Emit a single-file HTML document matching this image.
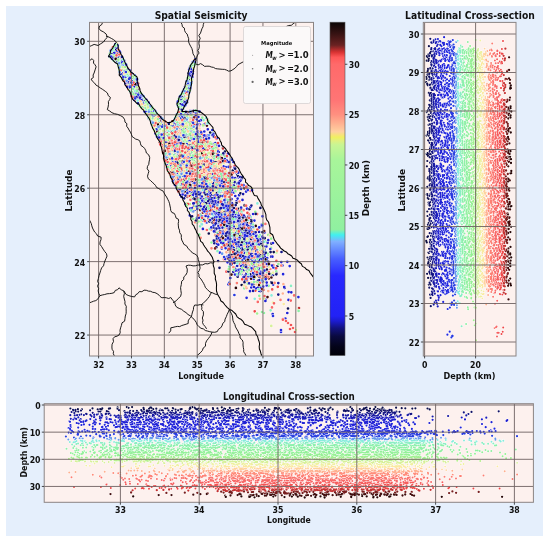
<!DOCTYPE html><html><head><meta charset="utf-8"><title>Seismicity</title><style>html,body{margin:0;padding:0;background:#fff;overflow:hidden}svg{display:block}text{font-family:"DejaVu Sans","Liberation Sans",sans-serif;font-weight:bold;fill:#111}</style></head><body><svg width="550" height="544" viewBox="0 0 550 544"><rect width="550" height="544" fill="#fff"/>
<rect x="6" y="6" width="537" height="530" fill="#e5effc"/>
<defs>
<clipPath id="cm"><rect x="89.5" y="22.4" width="224.0" height="333.6"/></clipPath>
<clipPath id="cr"><rect x="423.3" y="22.4" width="92.69999999999999" height="333.6"/></clipPath>
<clipPath id="cb"><rect x="44.2" y="403.7" width="489.2" height="98.60000000000002"/></clipPath>
<linearGradient id="cg" x1="0" y1="0" x2="0" y2="1"><stop offset="0.0000" stop-color="#0a0505"/><stop offset="0.0355" stop-color="#381313"/><stop offset="0.0688" stop-color="#6a2222"/><stop offset="0.0899" stop-color="#d83232"/><stop offset="0.1050" stop-color="#ff5858"/><stop offset="0.1262" stop-color="#ff6a6a"/><stop offset="0.2349" stop-color="#ff7575"/><stop offset="0.2772" stop-color="#ff9080"/><stop offset="0.3286" stop-color="#ffd0a0"/><stop offset="0.3452" stop-color="#f0f060"/><stop offset="0.3558" stop-color="#e0f080"/><stop offset="0.3679" stop-color="#c8f594"/><stop offset="0.4132" stop-color="#a8f59a"/><stop offset="0.6217" stop-color="#90f0a0"/><stop offset="0.6383" stop-color="#40f0f0"/><stop offset="0.6579" stop-color="#80b0ff"/><stop offset="0.7093" stop-color="#4860ff"/><stop offset="0.7606" stop-color="#2828ff"/><stop offset="0.8815" stop-color="#2222f5"/><stop offset="0.8966" stop-color="#1c1cd0"/><stop offset="0.9177" stop-color="#121280"/><stop offset="0.9419" stop-color="#0a0a40"/><stop offset="0.9721" stop-color="#04041a"/><stop offset="0.9993" stop-color="#000008"/></linearGradient>
<path id="r0_30" d="M4908 1966h0M4911 1056h0M4920 567h0M4920 1689h0M4911 1450h0M4919 559h0M4909 1944h0M4920 1778h0M4908 1228h0M4909 2569h0M4915 2778h0M4914 1935h0M4913 1398h0M4920 948h0M4915 2059h0M4909 754h0M4905 1312h0M4916 2091h0M4909 1964h0M4924 1792h0M4906 2695h0M4917 1120h0M4907 2414h0M4905 2769h0M4916 1854h0M4911 1905h0M4917 1491h0M4913 1982h0M4908 1467h0M4908 1516h0M4920 2899h0M4906 908h0M4909 2505h0M4919 2538h0M4906 1765h0M4920 2612h0M4904 2511h0M4908 2740h0M4918 506h0M4904 2171h0M4906 2277h0M4907 2006h0M4915 2209h0M4906 2023h0M4913 2311h0M4907 2788h0M4907 1171h0M4906 1806h0M4919 2314h0M4921 2006h0M4923 1091h0M4911 2740h0M4914 2258h0M4907 2191h0M4920 767h0M4905 2789h0M4914 2026h0M4917 788h0M4924 2727h0M4908 1129h0M4910 2110h0M4920 1886h0M4913 2920h0M4920 2533h0M4907 660h0M4924 1315h0M4924 1702h0M4907 1628h0M4911 2242h0M4905 1513h0M4913 660h0M4924 1309h0M4911 629h0M4907 2531h0M4916 2088h0M4915 2425h0M4922 1498h0M4914 503h0M4920 1515h0M4904 1134h0M4913 496h0M4922 2317h0M4917 1083h0M4924 1607h0M4916 2557h0M4911 821h0M4921 2388h0M4925 1049h0M4917 2434h0M4909 1719h0M4909 2248h0M4919 1307h0M4911 674h0M4923 2050h0M4905 1096h0M4919 1436h0M4914 1763h0M4908 2515h0M4922 1884h0M4924 1283h0M4911 1185h0M4921 2741h0M4919 1511h0M4922 1523h0M4921 2792h0M4907 2215h0M4914 2404h0M4918 1429h0M4923 1113h0M4921 2121h0M4909 2160h0M4921 2797h0M4909 2131h0M4905 1610h0M4910 1191h0M4906 777h0M4922 2844h0M4919 2887h0M4904 2588h0M4911 659h0M4912 1271h0M4911 1917h0M4918 1244h0M4911 2036h0M4916 2031h0M4909 2468h0M4922 2531h0M4908 1627h0M4925 2836h0M4922 2794h0M4919 1393h0M4913 1097h0M4920 1142h0M4914 2629h0M4905 1050h0M4912 650h0M4925 2350h0M4922 1436h0M4912 2122h0M4912 1631h0M4907 665h0M4905 2008h0M4920 1955h0M4919 2816h0M4924 1579h0M4912 2592h0M4911 1574h0M4919 2019h0M4915 1079h0M4906 1306h0M4907 2889h0M4910 1984h0M4922 1015h0M4907 1522h0M4922 2727h0M4914 2745h0M4912 1422h0M4916 1850h0M4921 1744h0M4918 1409h0M4910 1470h0M4925 2369h0M4916 2355h0M4925 1974h0M4908 2840h0M4922 434h0M4908 1736h0M4919 2561h0M4918 1382h0M4905 702h0M4919 2762h0M4921 1739h0M4906 2604h0M4917 1374h0M4906 1113h0M4907 1089h0M4909 2168h0M4915 2846h0M4912 1788h0M4907 1112h0M4918 1757h0M4908 2735h0M4919 2806h0M4905 2214h0M4914 1203h0M4923 825h0M4925 1723h0M4905 1965h0M4922 2838h0M4921 2577h0M4914 2028h0M4922 2710h0M4912 2251h0"/>
<path id="r0_28" d="M4867 2521h0M4873 2730h0M4866 1150h0M4880 2816h0M4874 1592h0M4878 994h0M4879 1865h0M4863 1686h0M4873 1036h0M4875 1369h0M4871 838h0M4864 1741h0M4870 1168h0M4861 2296h0M4872 2777h0M4879 2233h0M4867 854h0M4876 1338h0M4860 2560h0M4878 2407h0M4868 2373h0M4877 2912h0M4872 1320h0M4870 1050h0M4869 2496h0M4878 2052h0M4861 1526h0M4877 1889h0M4869 1074h0M4865 1544h0M4862 2360h0M4861 2123h0M4866 2211h0M4875 2415h0M4878 1274h0M4872 2725h0M4872 1378h0M4870 1772h0M4865 2582h0M4865 1413h0M4871 2772h0M4873 1695h0M4863 1132h0M4865 2777h0M4866 1405h0M4879 971h0M4875 2096h0M4872 2525h0M4863 673h0M4865 1960h0M4880 2378h0M4868 638h0M4874 1019h0M4869 1812h0M4880 1619h0M4879 768h0M4862 2673h0M4868 1249h0M4863 1363h0M4879 1128h0M4874 511h0M4869 661h0M4880 2588h0M4875 2144h0M4865 1787h0M4879 1155h0M4865 1202h0M4867 1130h0M4861 2247h0M4874 1363h0M4880 1182h0M4864 2820h0M4863 1605h0M4866 2016h0M4865 2535h0M4865 2003h0M4871 1436h0M4877 2099h0M4864 2059h0M4867 2572h0M4869 1256h0M4874 2564h0M4879 1441h0M4867 2104h0M4865 1489h0M4880 1646h0M4867 2257h0M4875 1089h0M4866 1399h0M4879 1391h0M4875 1539h0M4880 1267h0M4881 1585h0M4867 1157h0M4878 1997h0M4882 1182h0M4866 1728h0M4873 2593h0M4873 2626h0M4870 1746h0M4861 2799h0M4862 3046h0M4860 2254h0M4861 594h0M4864 1733h0M4873 2550h0M4882 2702h0M4867 2700h0M4869 1867h0M4877 2019h0M4862 1694h0M4878 2425h0M4875 2611h0M4878 1109h0M4862 1335h0M4867 2641h0M4863 2342h0M4881 2763h0M4880 1984h0M4864 1790h0M4874 1781h0M4866 1363h0M4865 1815h0M4877 556h0M4873 1797h0M4862 2406h0M4879 994h0M4867 2147h0M4870 2183h0M4869 2121h0M4867 2522h0M4875 1551h0M4871 1144h0M4868 1117h0M4862 1475h0M4878 1515h0M4863 2190h0M4881 614h0M4870 903h0M4860 1171h0M4870 2701h0M4865 1048h0M4875 2267h0M4880 2024h0M4869 2330h0M4873 2435h0M4864 1173h0M4880 1407h0M4879 2302h0M4871 1156h0M4882 1042h0M4873 1820h0M4881 2687h0M4869 2735h0M4881 2949h0M4874 2191h0M4866 2552h0M4869 1564h0M4866 1445h0M4864 2720h0M4874 1073h0M4868 2824h0M4882 2839h0M4863 1801h0M4869 2723h0M4878 2065h0M4862 1003h0M4861 2142h0M4863 2155h0M4863 1506h0M4861 1477h0M4869 2518h0M4862 2773h0M4878 1881h0M4881 2023h0M4877 1297h0M4879 1845h0M4865 1539h0M4869 935h0M4882 2416h0M4870 2295h0M4869 1128h0M4867 1644h0M4880 2172h0M4881 2220h0M4872 1141h0M4875 1173h0M4878 1406h0M4863 604h0M4881 2339h0M4869 2224h0M4877 2138h0M4871 1549h0M4869 1496h0M4867 2602h0M4863 2806h0M4874 1888h0M4874 2354h0M4873 1001h0M4872 1401h0M4882 2451h0M4881 2724h0M4872 2428h0M4862 1475h0M4863 1390h0M4875 2625h0M4867 1168h0M4861 1097h0M4865 2153h0M4878 2510h0M4870 652h0M4877 1100h0M4867 2430h0M4869 1871h0M4867 2730h0M4869 2893h0M4879 1073h0M4864 1006h0M4863 1276h0M4874 2669h0M4875 1770h0M4864 2452h0M4879 1247h0"/>
<path id="r0_21" d="M4712 2833h0M4724 1338h0M4713 2724h0M4714 1403h0M4719 1885h0M4707 713h0M4726 1592h0M4708 1202h0M4728 612h0M4711 1437h0M4709 923h0M4707 2723h0M4725 1087h0M4722 1927h0M4719 922h0M4721 2719h0M4714 1424h0M4714 927h0M4713 1822h0M4723 738h0M4713 1879h0M4711 2396h0M4715 596h0M4708 2019h0M4725 1974h0M4719 2817h0M4713 769h0M4707 663h0M4713 946h0M4717 2528h0M4713 1056h0M4709 738h0M4727 2288h0M4725 2092h0M4721 2853h0M4711 847h0M4716 685h0M4709 984h0M4723 1441h0M4725 563h0M4723 2612h0M4723 2158h0M4712 2932h0M4728 1758h0M4709 2606h0M4712 2062h0M4717 1458h0M4710 2562h0M4707 1297h0M4711 907h0M4709 1494h0M4728 1822h0M4712 1111h0M4723 1553h0M4723 2207h0M4708 843h0M4720 2550h0M4712 492h0M4722 2048h0M4714 669h0M4718 2630h0M4726 2347h0M4727 2253h0M4710 2595h0M4720 1158h0M4723 1006h0M4720 722h0M4727 1507h0M4718 1961h0M4728 1425h0M4708 2651h0M4721 2150h0M4716 1107h0M4711 2558h0M4728 2113h0M4718 2639h0M4722 1455h0M4720 889h0M4720 2237h0M4724 1390h0M4720 1262h0M4711 2364h0M4710 2543h0M4716 767h0M4716 2401h0M4728 1885h0M4718 1375h0M4709 1553h0M4711 802h0M4720 587h0M4724 510h0M4709 2460h0M4712 2472h0M4716 2613h0M4713 2978h0M4723 597h0M4709 891h0M4714 1767h0M4723 1261h0M4714 2187h0M4722 2085h0M4724 2598h0M4717 2021h0M4721 1419h0M4725 961h0M4718 2442h0M4717 749h0M4726 489h0M4722 2775h0M4727 1903h0M4709 520h0M4707 1642h0M4720 1493h0M4718 1161h0M4715 1196h0M4714 2947h0M4728 1739h0M4712 2060h0M4725 533h0M4712 2345h0M4709 1625h0M4718 1971h0M4726 545h0M4711 874h0M4728 1504h0M4727 2905h0M4719 976h0M4717 2870h0M4709 902h0M4722 2712h0M4715 668h0M4716 1102h0M4723 2222h0M4725 1184h0M4728 1343h0M4725 2024h0M4716 1768h0M4712 1899h0M4708 1329h0M4712 837h0M4708 877h0M4720 1833h0M4725 1006h0M4718 1620h0M4725 1493h0M4708 2942h0M4722 1727h0M4717 1886h0M4719 2034h0M4726 1273h0M4711 1892h0M4716 1609h0M4724 638h0M4710 1866h0M4708 620h0M4708 2662h0M4715 830h0M4726 921h0M4722 2038h0M4725 2702h0M4710 2120h0M4721 1078h0M4709 1864h0M4720 1982h0M4719 2283h0M4722 2543h0M4716 653h0M4712 830h0M4725 1547h0M4712 2984h0M4718 1989h0M4711 610h0M4710 1930h0M4727 2407h0M4712 563h0M4713 723h0M4718 1263h0M4727 1921h0M4714 2683h0M4713 1066h0M4712 537h0M4722 1021h0M4714 2504h0M4722 2198h0M4711 754h0M4709 804h0M4719 616h0M4728 1895h0M4707 2765h0M4722 861h0M4710 1366h0M4727 892h0M4728 1928h0M4713 648h0M4719 762h0M4712 1922h0M4719 1468h0M4708 1922h0M4714 653h0M4707 794h0M4724 1303h0M4707 601h0M4717 2229h0M4719 2513h0M4723 1289h0M4725 500h0M4717 2596h0M4714 750h0M4712 513h0M4723 722h0M4717 1874h0M4721 2068h0M4719 1807h0M4722 2224h0M4710 1396h0M4712 946h0M4709 991h0M4724 1295h0M4711 1592h0M4727 1626h0M4718 2294h0M4720 1853h0M4724 1887h0M4711 2815h0M4712 2326h0M4727 2176h0M4722 2184h0M4728 669h0M4711 1528h0M4718 1395h0M4710 2181h0M4710 1491h0M4708 500h0M4708 635h0M4726 1618h0M4711 1930h0M4722 2088h0M4716 1609h0M4717 1920h0M4719 1682h0M4724 2395h0M4720 1693h0M4717 2869h0M4721 706h0M4714 2210h0M4726 2037h0M4723 1411h0M4728 2310h0M4721 2374h0M4721 2594h0M4707 2109h0"/>
<path id="r0_9" d="M4450 2443h0M4452 2193h0M4450 2085h0M4449 2095h0M4451 2019h0M4454 2555h0M4456 948h0M4462 2708h0M4444 1511h0M4460 836h0M4462 1570h0M4449 2164h0M4452 2458h0M4448 2095h0M4450 1098h0M4444 1248h0M4463 1438h0M4451 2581h0M4445 654h0M4445 515h0M4464 571h0M4454 2201h0M4464 1820h0M4449 676h0M4463 2313h0M4444 2090h0M4450 1035h0M4453 2312h0M4446 2045h0M4449 728h0M4455 2289h0M4443 1976h0M4450 556h0M4454 2756h0M4451 2831h0M4458 1454h0M4464 2069h0M4452 2167h0M4454 2459h0M4450 2409h0M4462 2534h0M4463 1923h0M4451 2210h0M4462 1292h0M4452 2312h0M4445 1495h0M4463 1870h0M4460 2389h0M4459 495h0M4458 602h0M4456 1099h0M4447 891h0M4456 1434h0M4451 2617h0M4448 552h0M4449 1264h0M4460 1980h0M4444 2079h0M4447 1779h0M4462 1365h0M4455 2208h0M4444 916h0M4444 2666h0M4453 2941h0M4462 2689h0M4447 1166h0M4454 2901h0M4458 1070h0M4448 874h0M4465 2283h0M4463 1523h0M4447 1715h0M4455 2764h0M4448 2409h0M4451 501h0M4451 2700h0M4454 2758h0M4464 1733h0M4465 1408h0M4451 2020h0M4460 2414h0M4460 2294h0M4460 1437h0M4461 2871h0M4456 1423h0M4462 1964h0M4463 1863h0M4444 2326h0M4463 2536h0M4447 1446h0M4460 1334h0M4449 2707h0M4451 2536h0M4456 1168h0M4450 1048h0M4452 779h0M4448 883h0M4448 2391h0M4452 1372h0M4454 2852h0M4462 2038h0M4459 908h0M4450 845h0M4444 715h0M4452 871h0M4449 2708h0M4457 2279h0M4444 1593h0M4450 1375h0M4445 1612h0M4454 2857h0M4445 1328h0M4458 2308h0M4453 1404h0M4456 2475h0M4447 2443h0M4445 1127h0M4452 2749h0M4450 588h0M4449 1706h0M4458 709h0M4449 1521h0M4446 1933h0M4458 805h0M4465 951h0M4446 522h0M4452 609h0M4455 2707h0M4453 1618h0M4459 1151h0M4453 1457h0M4463 2355h0M4449 887h0M4449 956h0M4444 969h0M4447 1460h0M4464 1454h0M4456 2562h0M4453 2611h0M4448 682h0"/>
<path id="r0_14" d="M4559 1756h0M4561 873h0M4567 804h0M4557 1620h0M4569 969h0M4556 1890h0M4558 1284h0M4559 2223h0M4566 1173h0M4574 634h0M4575 1630h0M4566 554h0M4571 1862h0M4558 1128h0M4569 712h0M4555 2685h0M4566 1310h0M4553 2017h0M4574 2849h0M4560 2548h0M4557 2721h0M4555 2692h0M4569 2222h0M4553 2649h0M4561 2712h0M4554 2091h0M4571 2756h0M4555 1920h0M4556 2601h0M4559 2076h0M4567 2393h0M4573 1313h0M4564 1544h0M4564 2136h0M4572 1326h0M4574 2545h0M4565 821h0M4563 1965h0M4563 2661h0M4567 2307h0M4565 1731h0M4571 1050h0M4557 563h0M4561 2100h0M4560 816h0M4568 2551h0M4573 1073h0M4558 2427h0M4558 1818h0M4573 2754h0M4572 1295h0M4571 2008h0M4561 1654h0M4567 2680h0M4564 1091h0M4568 1812h0M4574 2028h0M4560 543h0M4566 1795h0M4557 2668h0M4568 2644h0M4553 1010h0M4567 1516h0M4571 2409h0M4568 805h0M4566 942h0M4555 1592h0M4570 1994h0M4559 1227h0M4562 1510h0M4556 2609h0M4562 2670h0M4568 2908h0M4571 541h0M4559 967h0M4560 3027h0M4558 1231h0M4569 3077h0M4560 1669h0M4573 1598h0M4566 2536h0M4573 571h0M4568 2457h0M4568 1491h0M4571 1679h0M4570 1328h0M4567 2088h0M4568 1281h0M4553 2293h0M4559 541h0M4556 566h0M4559 2035h0M4563 2686h0M4563 1368h0M4562 2157h0M4574 996h0M4557 1030h0M4560 1429h0M4569 2397h0M4557 2815h0M4569 1951h0M4562 841h0M4572 2033h0M4566 1834h0M4557 2402h0M4558 1564h0M4558 585h0M4564 1331h0M4565 766h0M4557 2733h0M4564 1505h0M4575 2001h0M4555 2290h0M4573 2574h0M4553 1727h0M4569 720h0M4568 2388h0M4564 1013h0M4565 1920h0M4574 1846h0M4556 2746h0M4571 2060h0M4574 1554h0M4559 2076h0M4565 2274h0M4558 2347h0M4572 546h0M4571 1647h0M4569 2185h0M4560 1409h0M4573 1464h0M4558 2180h0M4559 2128h0M4572 2568h0M4556 2801h0M4569 933h0M4572 1978h0M4559 607h0M4566 1117h0M4559 1584h0M4571 911h0M4559 1727h0M4570 2305h0M4570 873h0M4553 952h0M4573 2235h0M4566 2616h0M4553 661h0M4574 1208h0M4568 684h0M4571 689h0M4560 2664h0M4570 1178h0M4562 2071h0M4570 2260h0M4571 1302h0M4570 1934h0M4567 739h0M4557 2621h0M4559 2765h0M4570 779h0M4567 1695h0M4572 1745h0M4554 853h0M4567 2437h0M4569 2814h0M4561 2144h0M4555 1790h0M4557 1596h0M4569 1403h0M4574 1801h0M4570 1280h0M4555 2336h0M4569 1135h0M4570 602h0M4558 2079h0M4571 1383h0M4563 2501h0M4569 3053h0M4562 1673h0M4562 2053h0M4568 2518h0M4561 1193h0M4555 1467h0M4562 419h0M4574 1410h0M4566 1287h0M4572 1138h0M4566 2197h0M4556 2923h0M4573 2449h0M4574 2154h0M4557 912h0M4558 1988h0M4573 1353h0M4566 2317h0M4564 1794h0M4572 1063h0M4570 856h0M4573 1893h0M4554 2587h0M4563 1774h0M4556 1064h0M4572 1135h0M4562 1633h0M4556 2302h0M4563 2603h0M4561 681h0M4573 928h0M4570 2355h0M4562 887h0M4553 980h0M4573 1568h0M4563 1187h0M4557 754h0M4573 1934h0M4569 1377h0M4557 1291h0M4560 1019h0M4564 2527h0M4560 2785h0M4555 2623h0M4569 602h0M4562 582h0M4568 2188h0M4559 537h0M4562 537h0M4569 1997h0M4573 1595h0"/>
<path id="r0_23" d="M4769 1468h0M4751 2846h0M4756 554h0M4763 2143h0M4752 2112h0M4755 578h0M4754 1855h0M4756 2565h0M4759 2777h0M4770 1029h0M4758 2918h0M4761 1956h0M4757 1448h0M4760 811h0M4762 726h0M4754 1279h0M4751 764h0M4767 1663h0M4769 2696h0M4756 2206h0M4768 1014h0M4753 845h0M4764 1292h0M4756 1018h0M4771 1806h0M4764 1235h0M4757 1419h0M4752 1851h0M4768 1434h0M4765 1851h0M4765 2716h0M4766 2787h0M4755 1732h0M4761 1067h0M4752 722h0M4754 1093h0M4766 2472h0M4767 2271h0M4760 2396h0M4767 551h0M4754 1782h0M4763 1978h0M4765 1025h0M4752 1061h0M4753 777h0M4756 2466h0M4764 1512h0M4768 2422h0M4751 823h0M4762 1406h0M4762 2830h0M4758 2032h0M4770 2510h0M4767 2307h0M4754 1804h0M4751 2165h0M4770 1822h0M4767 2326h0M4763 924h0M4756 1741h0M4769 1849h0M4757 1132h0M4766 2298h0M4764 1945h0M4769 2501h0M4768 1730h0M4752 910h0M4754 2721h0M4761 1652h0M4769 1609h0M4757 983h0M4756 2050h0M4761 2923h0M4771 1399h0M4754 1715h0M4764 1751h0M4761 2900h0M4759 1100h0M4759 1015h0M4755 1715h0M4759 853h0M4772 2345h0M4769 1277h0M4759 1611h0M4761 2306h0M4759 1698h0M4772 2540h0M4755 1655h0M4755 2198h0M4762 1028h0M4759 2105h0M4753 1637h0M4771 2771h0M4761 1618h0M4757 1916h0M4764 1124h0M4759 2083h0M4759 1634h0M4766 1043h0M4765 878h0M4766 1835h0M4764 2814h0M4757 1878h0M4758 2254h0M4755 522h0M4770 2085h0M4772 1582h0M4764 1804h0M4765 862h0M4759 2101h0M4755 1931h0M4755 2104h0M4766 2070h0M4768 1463h0M4767 998h0M4759 2439h0M4764 2293h0M4762 2131h0M4754 2609h0M4765 2937h0M4759 1527h0M4756 1890h0M4751 2042h0M4767 2800h0M4769 1004h0M4769 2476h0M4762 1806h0M4771 1390h0M4770 1236h0M4760 1632h0M4765 1903h0M4751 1276h0M4763 1913h0M4763 1762h0M4771 1375h0M4762 2886h0M4765 1405h0M4757 399h0M4751 2027h0M4770 1452h0M4753 2711h0M4756 2271h0M4751 2458h0M4759 2598h0M4760 2309h0M4764 2004h0M4765 2439h0M4767 909h0M4772 802h0M4767 1295h0M4751 2176h0M4769 526h0M4762 1268h0M4762 2794h0M4763 663h0M4761 2782h0M4767 848h0M4769 860h0M4759 1697h0M4759 1768h0M4751 2372h0M4771 2320h0M4769 1941h0M4768 1734h0M4761 879h0M4752 1048h0M4756 1094h0M4772 2400h0M4767 2784h0M4772 2688h0M4754 1009h0M4755 1415h0M4771 826h0M4770 1222h0M4772 1643h0M4754 1876h0M4767 1255h0M4770 1076h0M4764 1287h0M4768 1787h0M4767 684h0M4769 2277h0M4757 2470h0M4769 1094h0M4753 2785h0M4772 1456h0M4759 909h0M4764 1898h0M4751 2159h0M4753 2025h0M4765 2804h0M4756 2123h0M4772 1043h0M4766 2755h0M4771 1376h0M4770 1388h0M4769 2169h0M4754 2503h0M4761 3402h0M4758 628h0M4751 2687h0M4767 2496h0M4758 2183h0M4766 526h0M4765 1236h0M4753 734h0M4754 2646h0M4770 543h0M4762 2209h0M4772 2031h0M4761 1293h0M4757 588h0M4772 1687h0M4771 2754h0M4766 1044h0M4761 1106h0M4754 2612h0M4764 640h0M4766 2616h0M4765 2782h0M4762 1894h0M4761 566h0M4754 708h0M4751 1181h0M4757 909h0M4754 868h0M4753 1923h0M4755 705h0M4755 1968h0M4771 2300h0M4767 2028h0M4753 1202h0M4764 2135h0M4771 2041h0M4772 2861h0M4761 2508h0M4771 1505h0M4759 1681h0M4755 956h0M4753 589h0M4763 1240h0M4758 634h0M4763 1096h0M4768 2736h0M4762 870h0M4758 1002h0M4765 2098h0M4763 2111h0M4751 1996h0M4764 2020h0M4756 655h0M4766 602h0M4757 3236h0M4751 2739h0M4754 2770h0M4754 1925h0M4752 1788h0M4769 1837h0M4759 3078h0M4758 2119h0M4759 2128h0M4751 1746h0M4757 1442h0M4767 2328h0M4752 2498h0M4759 2063h0M4764 1266h0M4752 1707h0M4763 1615h0M4771 1967h0M4770 2093h0M4761 2004h0M4770 2604h0M4764 2251h0M4761 1724h0M4771 841h0M4771 504h0M4769 678h0M4765 1944h0M4757 2971h0M4761 1336h0M4760 849h0M4756 575h0"/>
<path id="r0_24" d="M4773 2724h0M4794 1265h0M4791 1810h0M4779 1319h0M4774 1031h0M4773 1796h0M4781 1151h0M4787 1439h0M4786 2141h0M4780 2063h0M4792 1233h0M4784 2707h0M4775 2129h0M4792 986h0M4774 2306h0M4788 1466h0M4787 1226h0M4780 2619h0M4780 828h0M4784 1314h0M4773 1236h0M4776 2677h0M4793 2215h0M4794 1681h0M4773 2516h0M4784 1884h0M4780 2804h0M4779 1555h0M4781 680h0M4781 2471h0M4784 2008h0M4784 2480h0M4776 2679h0M4791 876h0M4787 683h0M4781 2295h0M4782 1888h0M4776 762h0M4788 2833h0M4791 2643h0M4782 1333h0M4777 2845h0M4790 2060h0M4783 2327h0M4787 1505h0M4784 569h0M4778 1109h0M4788 1321h0M4783 1960h0M4785 2524h0M4778 901h0M4778 1352h0M4788 1552h0M4775 1971h0M4786 1904h0M4791 2969h0M4785 2710h0M4776 678h0M4775 1349h0M4773 1498h0M4775 2479h0M4784 2581h0M4784 1294h0M4794 2110h0M4791 2308h0M4776 1694h0M4785 2020h0M4785 1678h0M4779 565h0M4788 2274h0M4780 1883h0M4776 1868h0M4791 2479h0M4787 2450h0M4790 1297h0M4792 2067h0M4790 1817h0M4786 1479h0M4780 684h0M4776 1006h0M4777 1170h0M4787 1590h0M4787 674h0M4793 689h0M4787 2043h0M4781 2773h0M4773 1169h0M4773 2076h0M4791 1518h0M4774 1721h0M4791 686h0M4789 2130h0M4786 1903h0M4774 926h0M4792 1485h0M4794 2072h0M4793 799h0M4788 1763h0M4775 501h0M4785 1495h0M4783 1246h0M4780 1515h0M4775 1561h0M4773 550h0M4778 2948h0M4787 2089h0M4780 1095h0M4781 2669h0M4789 795h0M4793 882h0M4794 2352h0M4775 2563h0M4776 2871h0M4784 2371h0M4779 1848h0M4789 2751h0M4775 1256h0M4790 1795h0M4793 1274h0M4782 489h0M4794 2506h0M4786 1342h0M4793 1798h0M4790 1865h0M4779 1420h0M4773 2908h0M4786 2201h0M4793 538h0M4790 1252h0M4788 1657h0M4788 2541h0M4788 1428h0M4781 1914h0M4782 1333h0M4776 2480h0M4785 933h0M4790 2110h0M4788 2477h0M4773 2844h0M4784 1972h0M4790 2432h0M4779 1986h0M4790 657h0M4786 1510h0M4788 1894h0M4782 1522h0M4793 2693h0M4792 1133h0M4781 1475h0M4791 2096h0M4773 2058h0M4783 679h0M4773 1442h0M4785 2510h0M4783 2377h0M4775 1326h0M4774 1101h0M4782 2043h0M4784 1797h0M4775 720h0M4779 1668h0M4776 2416h0M4779 1004h0M4781 902h0M4777 718h0M4790 2702h0M4775 1757h0M4787 2029h0M4773 2846h0M4782 2163h0M4791 2926h0M4781 2076h0M4783 2910h0M4787 1662h0M4784 2264h0M4788 2814h0M4777 1352h0M4782 2793h0M4778 1641h0M4789 2579h0M4783 2335h0M4782 2489h0M4787 1822h0M4788 2279h0M4789 2667h0M4778 2091h0M4773 2138h0M4794 648h0M4788 2407h0M4792 2609h0M4780 2932h0M4789 2802h0M4787 1609h0M4786 594h0M4779 2285h0M4782 1371h0M4790 1219h0M4781 2201h0M4791 2699h0M4778 2584h0M4775 1065h0M4775 2808h0M4788 1735h0M4783 1678h0M4787 2073h0M4775 1246h0M4786 1370h0M4787 636h0M4788 2835h0M4778 2160h0M4788 1691h0M4773 1125h0M4788 2170h0M4777 508h0M4789 2206h0M4773 1387h0M4781 536h0M4778 1065h0M4785 2657h0M4779 1758h0M4793 1277h0M4791 2035h0M4778 1108h0M4783 907h0M4775 1236h0M4780 508h0M4786 2381h0M4790 2439h0M4790 2694h0M4793 1085h0M4793 1952h0M4776 856h0M4791 2647h0M4777 2788h0M4776 1273h0M4786 1982h0M4784 1072h0M4775 571h0M4774 2875h0M4781 1433h0M4776 2338h0M4776 1837h0M4785 702h0M4777 1847h0M4788 1012h0M4789 710h0M4781 781h0M4781 896h0M4794 1363h0M4790 1656h0M4790 793h0M4777 1454h0M4788 1425h0M4780 1506h0M4778 2758h0M4791 1297h0M4794 1793h0M4790 926h0M4792 1652h0M4776 2605h0M4786 2054h0M4774 2206h0M4780 2734h0M4787 2567h0M4794 2834h0M4789 2801h0M4789 2685h0M4786 2822h0M4780 1214h0M4789 1444h0M4779 1571h0M4779 2032h0M4790 1934h0M4779 2390h0M4781 868h0M4784 583h0M4793 2519h0M4785 1311h0M4786 2244h0M4782 2237h0M4781 1384h0M4794 1479h0M4783 2562h0M4786 1708h0"/>
<path id="r0_4" d="M4353 2128h0M4343 599h0M4349 1687h0M4342 1834h0M4342 1062h0M4337 874h0M4343 1559h0M4343 1227h0M4354 494h0M4350 813h0M4352 480h0M4349 554h0M4337 3046h0M4336 2590h0M4346 2019h0M4342 1819h0M4348 891h0M4346 600h0M4344 1995h0M4347 980h0M4349 2590h0M4353 2367h0M4344 488h0M4340 1080h0M4348 2182h0M4336 2689h0M4342 665h0M4335 1332h0M4345 1997h0M4345 665h0M4338 994h0M4336 1802h0M4350 2534h0M4351 2505h0M4350 2718h0M4348 2937h0M4344 2014h0M4343 2604h0M4347 714h0M4350 1431h0M4346 2614h0M4354 1486h0M4335 1731h0M4343 1745h0M4349 1043h0M4342 2245h0M4335 624h0M4334 588h0M4350 1464h0M4350 952h0M4346 706h0M4349 1741h0M4334 1021h0M4335 1027h0M4338 404h0M4338 2322h0M4342 868h0M4352 1337h0M4343 2771h0M4346 566h0M4352 2373h0M4340 1664h0M4334 2340h0M4340 2460h0M4347 607h0M4338 1709h0M4337 1797h0M4338 612h0M4346 1284h0M4354 724h0M4341 1284h0M4349 2415h0M4349 1592h0M4354 2115h0M4347 1267h0M4336 1756h0M4342 1645h0M4353 2483h0M4353 1309h0M4345 1849h0M4342 1867h0M4347 1386h0M4341 626h0M4338 2276h0M4346 629h0M4341 657h0M4341 2409h0M4348 1870h0M4350 810h0M4341 2155h0M4355 857h0M4351 2691h0M4338 2824h0M4347 2311h0M4348 1778h0M4340 1689h0M4349 488h0M4337 953h0M4343 744h0M4347 2066h0M4355 1400h0M4341 614h0M4343 2003h0M4336 1883h0M4351 856h0M4354 2565h0M4356 2568h0M4349 523h0M4346 1420h0M4335 1895h0M4352 637h0M4347 2864h0M4340 2122h0M4344 1880h0M4350 827h0M4342 1106h0M4354 1438h0M4340 939h0M4342 2128h0M4351 1579h0M4334 1610h0M4347 1513h0M4346 2116h0M4352 2504h0M4346 2846h0M4336 2391h0M4334 2263h0M4342 1718h0M4347 827h0M4338 575h0M4355 1995h0M4349 2526h0M4354 2655h0M4353 2715h0M4345 1860h0M4336 2435h0M4352 1115h0M4349 1592h0M4336 810h0M4339 2536h0M4338 1493h0M4347 594h0M4339 1016h0M4334 2547h0M4344 2325h0M4354 2499h0M4347 1042h0M4348 1052h0M4346 2686h0M4335 422h0M4355 1872h0M4336 1048h0M4347 955h0M4337 2782h0M4349 2835h0M4351 2630h0M4336 623h0M4337 1018h0M4348 2147h0M4342 1651h0M4335 972h0M4341 1132h0M4334 2828h0M4344 1171h0M4343 2314h0M4335 2813h0M4348 1909h0M4343 1281h0M4347 2478h0M4334 1354h0M4335 2129h0M4342 2910h0M4353 1366h0M4342 2170h0M4337 1273h0M4335 1653h0M4350 1955h0M4341 625h0M4347 2139h0M4340 2095h0M4352 1667h0M4336 783h0M4340 2711h0M4338 2087h0M4348 1862h0M4339 1986h0M4352 1060h0M4348 2027h0M4353 2800h0M4355 716h0M4348 2217h0M4336 1135h0M4345 2710h0M4347 1033h0M4346 1504h0M4342 544h0M4337 2043h0M4342 1881h0M4337 1918h0M4349 2192h0M4338 2181h0M4343 887h0M4347 1129h0M4334 1267h0M4336 829h0M4334 2586h0M4335 1472h0M4339 1637h0M4348 2245h0M4351 1309h0M4338 1371h0M4345 1827h0M4349 1407h0M4339 1103h0M4342 619h0M4347 3022h0M4353 539h0M4335 2460h0M4343 1135h0M4340 2840h0"/>
<path id="r0_7" d="M4404 2038h0M4404 2210h0M4413 2822h0M4404 660h0M4421 1565h0M4421 2029h0M4420 1496h0M4418 507h0M4404 1760h0M4415 2391h0M4400 505h0M4419 1414h0M4405 1672h0M4405 1890h0M4418 1408h0M4417 2276h0M4407 897h0M4402 2228h0M4401 2793h0M4405 1053h0M4404 2111h0M4405 1998h0M4415 463h0M4400 1891h0M4412 2802h0M4418 1896h0M4405 1872h0M4404 1127h0M4419 2528h0M4415 1898h0M4418 976h0M4415 1323h0M4412 958h0M4416 1524h0M4403 2791h0M4420 595h0M4409 1237h0M4421 677h0M4403 2318h0M4418 1160h0M4403 2344h0M4414 1563h0M4421 903h0M4418 2693h0M4412 1417h0M4418 1259h0M4410 2077h0M4401 1929h0M4402 1971h0M4421 2315h0M4412 2242h0M4417 2856h0M4411 717h0M4414 2239h0M4403 2255h0M4417 2807h0M4412 1649h0M4408 1210h0M4421 880h0M4417 1697h0M4410 845h0M4405 2952h0M4401 1123h0M4408 762h0M4402 1826h0M4419 1680h0M4401 677h0M4404 2448h0M4410 1511h0M4405 1109h0M4420 2518h0M4403 449h0M4401 900h0M4407 1226h0M4411 2374h0M4405 1497h0M4404 2023h0M4418 2547h0M4415 700h0M4411 2797h0M4406 1842h0M4418 1602h0M4421 2234h0M4402 818h0M4410 2775h0M4409 1241h0M4405 1106h0M4405 945h0M4416 2294h0M4413 1790h0M4406 1635h0M4419 2140h0M4404 415h0M4408 1130h0M4404 1938h0M4413 2022h0M4411 1502h0M4410 1237h0M4416 1282h0M4413 754h0M4420 2380h0M4401 705h0M4416 1677h0M4417 1048h0M4401 1031h0M4415 1474h0M4416 764h0M4410 1288h0M4408 613h0M4416 2836h0M4413 2915h0M4409 1093h0M4418 946h0M4416 2256h0M4409 2808h0M4401 2811h0M4417 1899h0M4408 1207h0M4419 2306h0M4419 864h0M4416 788h0M4400 1822h0M4421 2795h0M4419 2680h0M4418 1835h0M4415 2632h0M4413 2078h0M4401 2026h0M4415 1255h0M4404 1665h0M4414 827h0M4414 737h0M4418 1206h0M4417 2202h0M4401 2286h0M4402 607h0M4408 1447h0M4406 1949h0M4404 1810h0M4416 1969h0M4404 1050h0M4411 1993h0M4416 1174h0M4418 1252h0M4420 774h0M4402 2409h0M4415 2782h0M4401 1356h0M4421 1281h0M4406 1234h0M4407 2774h0M4410 2009h0M4414 1898h0M4400 411h0M4420 2745h0M4411 1847h0M4418 1954h0M4403 1531h0M4409 1104h0M4404 2635h0M4414 1319h0M4406 2667h0M4414 537h0M4409 2556h0M4417 1576h0"/>
<path id="r0_11" d="M4507 2445h0M4488 2158h0M4502 1048h0M4494 1505h0M4498 760h0M4491 2034h0M4505 701h0M4507 2817h0M4504 1355h0M4501 1818h0M4497 573h0M4491 809h0M4497 3317h0M4508 416h0M4506 2861h0M4487 844h0M4507 2457h0M4506 2648h0M4496 2263h0M4503 1107h0M4503 2180h0M4501 1250h0M4502 1289h0M4497 593h0M4498 2057h0M4496 422h0M4504 2222h0M4492 1452h0M4505 1591h0M4508 1124h0M4500 899h0M4508 2076h0M4496 449h0M4497 1650h0M4502 582h0M4502 972h0M4498 1794h0M4507 923h0M4500 1565h0M4492 2534h0M4490 914h0M4502 1326h0M4503 1941h0M4509 788h0M4495 1784h0M4501 1953h0M4500 1839h0M4503 2127h0M4505 2480h0M4492 841h0M4499 2447h0M4503 1883h0M4505 2201h0M4508 1182h0M4505 559h0M4488 2373h0M4508 793h0M4504 1729h0M4491 1149h0M4497 613h0M4498 532h0M4497 1379h0M4505 538h0M4495 1400h0M4501 1402h0M4490 1049h0M4507 2189h0M4493 2650h0M4498 2530h0M4504 1375h0M4494 1213h0M4502 470h0M4489 2326h0M4507 1534h0M4502 1005h0M4509 2462h0M4488 1825h0M4494 1678h0M4506 2690h0M4489 506h0M4499 3076h0M4501 687h0M4501 2738h0M4499 1682h0M4502 2546h0M4508 2908h0M4493 1054h0M4489 864h0M4498 1918h0M4508 1860h0M4495 1997h0M4506 2815h0M4506 969h0M4508 1210h0M4499 2027h0M4505 2270h0M4508 2052h0M4506 930h0M4493 2684h0M4501 415h0M4492 1709h0M4494 1391h0M4502 1242h0M4509 702h0M4492 2817h0M4502 1334h0M4497 2802h0M4493 2257h0M4509 685h0M4496 2579h0M4492 1018h0M4501 1530h0M4496 506h0M4487 1383h0M4507 2393h0M4507 2226h0M4507 593h0M4501 2117h0M4491 603h0M4491 2178h0M4488 1268h0M4488 610h0M4502 672h0M4497 2715h0M4502 2884h0M4498 1040h0M4508 1566h0M4501 1389h0M4509 2573h0M4509 2354h0M4509 833h0M4506 1582h0M4496 2586h0M4492 2443h0M4506 2340h0M4500 2510h0M4505 3036h0M4489 2798h0M4492 430h0M4497 1781h0"/>
<path id="r0_29" d="M4896 1486h0M4887 2459h0M4896 2130h0M4899 1025h0M4897 2234h0M4896 1420h0M4902 1521h0M4898 2044h0M4899 2528h0M4901 2579h0M4892 1987h0M4898 2237h0M4903 2846h0M4883 1692h0M4888 1880h0M4883 2108h0M4895 1397h0M4892 2711h0M4893 1692h0M4893 1701h0M4888 861h0M4885 2559h0M4891 882h0M4894 2677h0M4893 2710h0M4886 2016h0M4886 1326h0M4895 1505h0M4903 1508h0M4883 1080h0M4894 1366h0M4884 1238h0M4883 1319h0M4904 706h0M4895 801h0M4898 2083h0M4891 2431h0M4901 2676h0M4886 1799h0M4884 1803h0M4888 2285h0M4886 1648h0M4890 1092h0M4897 1081h0M4890 2193h0M4882 2069h0M4898 2590h0M4903 799h0M4887 2176h0M4882 2578h0M4887 1933h0M4890 2185h0M4901 769h0M4888 2861h0M4891 1011h0M4894 664h0M4885 2310h0M4894 2348h0M4887 1704h0M4892 973h0M4895 2256h0M4892 2892h0M4891 1014h0M4894 1265h0M4900 1881h0M4890 1193h0M4887 1539h0M4885 1548h0M4894 2384h0M4902 532h0M4904 2164h0M4898 1861h0M4897 1721h0M4889 2000h0M4901 2188h0M4891 1239h0M4886 776h0M4883 2718h0M4901 2482h0M4890 1030h0M4900 2661h0M4883 2910h0M4885 2086h0M4893 2295h0M4899 1946h0M4900 2621h0M4899 1217h0M4883 698h0M4901 697h0M4890 1318h0M4892 743h0M4903 2324h0M4898 770h0M4895 2011h0M4888 1680h0M4891 2332h0M4887 891h0M4903 2380h0M4896 1360h0M4889 1883h0M4886 2821h0M4887 1738h0M4892 1114h0M4903 874h0M4896 1356h0M4883 2175h0M4884 2195h0M4891 2436h0M4890 2212h0M4903 838h0M4886 1055h0M4896 2127h0M4895 1768h0M4893 2471h0M4901 1330h0M4897 1142h0M4902 938h0M4887 1260h0M4887 1092h0M4902 1622h0M4884 2708h0M4893 2825h0M4887 847h0M4904 1777h0M4884 2053h0M4884 686h0M4884 2111h0M4885 2060h0M4897 2670h0M4891 2675h0M4889 1380h0M4890 2760h0M4898 1325h0M4885 2482h0M4898 2813h0M4899 503h0M4897 2263h0M4893 1320h0M4886 2333h0M4900 2021h0M4902 2577h0M4901 2253h0M4894 1886h0M4890 2476h0M4889 1116h0M4895 1699h0M4897 1941h0M4882 1255h0M4886 1259h0M4902 2213h0M4903 2345h0M4893 1548h0M4898 1036h0M4884 1658h0M4904 2105h0M4889 1180h0M4903 1481h0M4891 1807h0M4883 2411h0M4884 2797h0M4882 2029h0M4901 2130h0M4902 1571h0M4898 2867h0M4896 1477h0M4893 2229h0M4890 1332h0M4903 957h0M4900 1253h0M4889 1602h0M4885 1819h0M4896 2138h0M4896 2482h0M4883 1443h0M4895 2605h0M4884 1741h0M4890 2040h0M4886 1939h0M4892 2053h0M4896 2702h0M4892 912h0M4898 2822h0M4894 1109h0M4896 1601h0M4902 2845h0M4903 2653h0M4894 1328h0M4892 1391h0M4888 1204h0M4890 2246h0M4891 2484h0M4895 2082h0M4898 544h0M4887 1042h0M4891 2339h0M4901 1389h0M4895 2400h0M4898 2534h0M4900 1363h0M4884 1112h0M4889 1629h0M4884 1078h0M4902 2864h0M4888 689h0M4887 2771h0M4887 760h0M4886 1266h0M4889 1512h0M4896 1709h0M4893 1625h0M4900 775h0M4890 790h0M4887 1630h0M4897 2126h0M4893 2387h0"/>
<path id="r0_10" d="M4480 2485h0M4483 1901h0M4480 491h0M4467 2911h0M4480 654h0M4482 1892h0M4478 1146h0M4469 935h0M4467 1955h0M4475 1967h0M4478 1236h0M4479 2020h0M4486 987h0M4485 2922h0M4474 2582h0M4476 2819h0M4467 1914h0M4481 1487h0M4479 1230h0M4482 2615h0M4485 1237h0M4466 883h0M4485 1163h0M4470 832h0M4486 2424h0M4469 925h0M4472 520h0M4478 954h0M4485 1667h0M4467 1056h0M4484 1248h0M4487 1766h0M4473 2021h0M4473 1040h0M4469 1142h0M4484 1941h0M4485 413h0M4483 1549h0M4468 1365h0M4479 2210h0M4478 1979h0M4469 2402h0M4476 2013h0M4480 1296h0M4474 1337h0M4479 596h0M4477 716h0M4468 552h0M4478 946h0M4468 722h0M4485 2407h0M4469 556h0M4472 1848h0M4487 1019h0M4466 2443h0M4487 523h0M4476 1868h0M4472 2078h0M4481 1411h0M4477 1960h0M4480 1360h0M4471 2615h0M4476 2502h0M4479 441h0M4471 1746h0M4468 2317h0M4480 953h0M4483 889h0M4476 1193h0M4484 2450h0M4480 2312h0M4473 896h0M4478 2727h0M4482 2470h0M4477 1733h0M4477 1675h0M4471 2264h0M4468 440h0M4485 1720h0M4476 2774h0M4476 1427h0M4470 1750h0M4481 2112h0M4478 878h0M4477 2138h0M4487 1352h0M4477 2258h0M4473 930h0M4480 512h0M4480 1686h0M4471 718h0M4471 1101h0M4475 2167h0M4482 1469h0M4482 2518h0M4469 1786h0M4466 2676h0M4477 1868h0M4478 2473h0M4487 1903h0M4477 1909h0M4472 1475h0M4473 1036h0M4477 2752h0M4472 895h0M4468 2746h0M4471 1272h0M4472 1580h0M4467 1168h0M4478 1607h0M4466 1696h0M4469 2127h0M4472 485h0M4470 1971h0M4470 793h0M4470 1777h0M4485 652h0M4467 2101h0M4484 1256h0M4477 889h0M4474 1862h0M4466 1382h0M4466 2784h0M4466 2051h0M4477 1463h0M4480 2856h0M4485 2638h0M4475 2415h0M4471 1037h0M4469 1151h0M4472 2517h0M4477 669h0M4476 856h0M4467 2933h0M4477 3090h0M4487 2797h0M4478 1398h0M4468 512h0M4475 1340h0M4475 504h0M4476 830h0M4465 679h0M4486 1706h0M4472 1453h0M4480 2899h0M4485 1685h0M4484 986h0M4474 3347h0M4466 743h0M4467 1156h0M4467 1965h0M4466 2240h0M4487 1581h0M4473 1618h0M4473 1595h0M4470 1531h0M4474 2838h0M4485 1684h0M4484 2449h0M4468 2856h0M4478 2786h0M4474 1738h0M4484 457h0M4484 2274h0"/>
<path id="r0_19" d="M4678 1225h0M4682 1878h0M4673 1901h0M4674 1728h0M4670 2793h0M4667 2816h0M4681 811h0M4678 2384h0M4677 707h0M4684 2256h0M4663 1420h0M4682 2096h0M4669 1800h0M4664 2116h0M4683 1846h0M4674 2173h0M4681 2379h0M4664 2732h0M4669 861h0M4683 1667h0M4680 1678h0M4675 2481h0M4682 1914h0M4679 1875h0M4671 2011h0M4676 1360h0M4668 749h0M4677 1570h0M4672 2281h0M4668 2577h0M4670 2015h0M4664 729h0M4674 1786h0M4667 808h0M4668 2237h0M4671 1193h0M4682 1489h0M4672 2133h0M4668 2105h0M4679 2713h0M4683 1724h0M4678 2872h0M4664 2278h0M4680 1004h0M4684 2904h0M4665 1745h0M4684 1667h0M4673 2647h0M4664 1566h0M4673 2613h0M4672 2654h0M4674 910h0M4664 2591h0M4671 2059h0M4668 2687h0M4665 2828h0M4678 1850h0M4669 2659h0M4673 1691h0M4670 720h0M4669 1510h0M4665 2452h0M4679 2107h0M4673 1622h0M4678 873h0M4668 2618h0M4669 1847h0M4674 1921h0M4681 2561h0M4664 1261h0M4666 1460h0M4684 1346h0M4674 1998h0M4668 2062h0M4681 3092h0M4669 2869h0M4685 1283h0M4683 2545h0M4666 1640h0M4674 1634h0M4675 2212h0M4676 2854h0M4665 2449h0M4683 979h0M4680 2451h0M4681 1143h0M4673 494h0M4674 526h0M4679 2130h0M4670 1205h0M4679 2483h0M4673 650h0M4665 1614h0M4669 2111h0M4663 1126h0M4668 1153h0M4684 2536h0M4673 583h0M4680 2460h0M4680 1791h0M4678 1042h0M4666 2728h0M4682 2215h0M4685 884h0M4668 1960h0M4663 1580h0M4666 1629h0M4683 788h0M4684 1278h0M4671 945h0M4669 752h0M4677 1984h0M4680 2042h0M4677 1691h0M4672 1128h0M4667 1668h0M4682 844h0M4668 1908h0M4677 2190h0M4668 649h0M4674 847h0M4679 2217h0M4684 1184h0M4666 1604h0M4677 911h0M4680 2811h0M4668 2025h0M4663 665h0M4665 1481h0M4680 1895h0M4673 1174h0M4675 674h0M4670 877h0M4667 1777h0M4667 520h0M4680 1949h0M4682 2533h0M4677 2705h0M4670 2480h0M4672 2178h0M4674 2817h0M4682 1029h0M4676 1103h0M4663 2603h0M4675 1889h0M4677 2748h0M4674 1118h0M4676 1737h0M4667 722h0M4683 1468h0M4668 1407h0M4681 715h0M4674 2238h0M4678 1099h0M4673 2842h0M4672 1198h0M4679 851h0M4676 1500h0M4674 1522h0M4672 1659h0M4666 2441h0M4670 531h0M4680 760h0M4666 2449h0M4665 1449h0M4677 1749h0M4684 1262h0M4664 1726h0M4674 2583h0M4683 1801h0M4665 1140h0M4676 2315h0M4677 2056h0M4677 1327h0M4684 499h0M4678 3072h0M4663 2021h0M4665 1411h0M4674 2012h0M4683 2363h0M4667 2100h0M4665 1549h0M4663 2132h0M4665 2239h0M4674 1363h0M4664 937h0M4670 2587h0M4671 1440h0M4671 2148h0M4680 1773h0M4669 844h0M4669 1912h0M4673 2423h0M4668 661h0M4683 2548h0M4663 901h0M4678 1228h0M4676 1071h0M4669 2248h0M4676 591h0M4672 1446h0M4682 1961h0M4676 988h0M4667 533h0M4676 2110h0M4666 1810h0M4669 1724h0M4684 2630h0M4678 1568h0M4672 2164h0M4663 557h0M4664 909h0M4670 2542h0M4671 1865h0M4663 939h0M4669 2231h0M4679 627h0M4665 2204h0M4678 1398h0M4677 2400h0M4679 1131h0M4684 2254h0M4671 1829h0M4678 419h0M4680 2178h0M4665 2032h0M4678 1727h0M4673 2262h0M4678 2084h0M4665 2646h0M4668 824h0M4667 1885h0M4672 1165h0M4680 603h0M4674 952h0M4668 1682h0M4672 1962h0M4682 1969h0M4670 1414h0M4664 2724h0M4679 630h0M4665 1719h0M4681 2117h0M4679 2627h0M4671 1773h0M4664 1352h0M4684 2118h0M4672 2981h0M4680 1830h0M4684 2425h0M4680 2660h0M4673 2037h0M4670 1715h0M4674 701h0M4664 560h0M4663 2970h0M4665 1787h0M4678 2285h0M4663 1151h0M4682 2419h0M4683 748h0M4673 578h0M4675 903h0M4675 2423h0M4669 2644h0M4668 1317h0M4677 1477h0M4669 2895h0M4676 2313h0M4675 1542h0M4675 879h0M4675 2235h0M4681 2493h0"/>
<path id="r0_22" d="M4750 2375h0M4749 2444h0M4733 2097h0M4739 1667h0M4749 1427h0M4742 1874h0M4730 1279h0M4743 507h0M4741 841h0M4731 758h0M4741 2742h0M4737 2516h0M4749 1405h0M4750 873h0M4748 1067h0M4732 1423h0M4734 2579h0M4742 2781h0M4734 2640h0M4739 644h0M4734 2600h0M4748 2226h0M4739 880h0M4744 1619h0M4730 2162h0M4731 2377h0M4734 2254h0M4735 1385h0M4738 505h0M4739 1251h0M4732 1248h0M4742 2023h0M4737 2009h0M4742 1807h0M4731 2235h0M4744 576h0M4743 2797h0M4746 1772h0M4735 1232h0M4740 1857h0M4737 2909h0M4736 519h0M4735 2473h0M4740 2065h0M4738 823h0M4742 927h0M4739 1141h0M4740 1624h0M4737 1638h0M4742 1235h0M4740 1528h0M4733 1895h0M4732 2846h0M4737 1170h0M4740 1676h0M4730 2014h0M4738 1871h0M4735 1553h0M4742 2535h0M4737 1420h0M4733 2697h0M4743 1669h0M4744 2136h0M4744 1061h0M4743 817h0M4739 1969h0M4743 964h0M4741 1611h0M4731 1295h0M4737 1485h0M4742 629h0M4750 2410h0M4742 1406h0M4734 2016h0M4738 2359h0M4745 3038h0M4747 2517h0M4741 2920h0M4739 703h0M4730 3015h0M4732 2705h0M4740 1854h0M4729 2449h0M4736 2354h0M4741 1744h0M4737 3203h0M4729 2408h0M4748 1750h0M4742 2859h0M4744 641h0M4731 1443h0M4732 2329h0M4746 564h0M4750 2664h0M4735 1986h0M4737 1181h0M4744 2748h0M4741 2840h0M4735 1049h0M4750 2399h0M4742 685h0M4734 815h0M4750 2162h0M4738 1138h0M4747 1050h0M4740 2859h0M4730 833h0M4740 2127h0M4748 2796h0M4747 2481h0M4741 727h0M4742 1005h0M4747 2231h0M4729 1603h0M4746 828h0M4736 1190h0M4729 492h0M4746 3252h0M4746 2052h0M4739 1086h0M4738 1945h0M4739 2682h0M4749 936h0M4731 1176h0M4749 1438h0M4745 1185h0M4732 1550h0M4730 1246h0M4748 946h0M4748 1082h0M4735 1229h0M4742 1782h0M4729 949h0M4730 1470h0M4744 749h0M4744 2553h0M4749 1533h0M4730 1721h0M4746 2254h0M4731 1566h0M4745 1578h0M4734 1517h0M4749 2493h0M4739 941h0M4729 534h0M4741 1616h0M4738 942h0M4740 2633h0M4731 1921h0M4747 2377h0M4735 965h0M4739 2287h0M4735 2098h0M4735 1351h0M4731 2300h0M4732 2902h0M4750 1583h0M4737 743h0M4750 1077h0M4729 2759h0M4737 1042h0M4750 1636h0M4746 1598h0M4748 1434h0M4744 1204h0M4729 2607h0M4744 1616h0M4750 1789h0M4745 962h0M4743 2361h0M4749 2463h0M4744 2512h0M4746 629h0M4736 2494h0M4744 970h0M4745 1180h0M4744 2272h0M4744 2259h0M4742 2337h0M4744 1051h0M4744 1789h0M4736 2126h0M4746 2803h0M4740 1894h0M4740 2674h0M4750 2394h0M4746 960h0M4734 730h0M4736 1438h0M4748 2864h0M4742 1584h0M4746 909h0M4731 2744h0M4731 1030h0M4740 520h0M4734 1683h0M4736 1564h0M4744 1162h0M4734 2228h0M4733 693h0M4748 2434h0M4731 750h0M4748 1811h0M4746 1210h0M4743 594h0M4733 850h0M4747 1549h0M4745 2175h0M4738 2137h0M4738 2068h0M4749 2714h0M4731 1759h0M4745 2933h0M4733 2848h0M4744 2378h0M4744 714h0M4742 2460h0M4741 1397h0M4742 1254h0M4731 2392h0M4731 1530h0M4745 1387h0M4749 2063h0M4746 2604h0M4734 1283h0M4745 776h0M4742 1163h0M4737 1310h0M4750 1325h0M4729 1573h0M4739 1785h0M4746 622h0M4743 2735h0M4748 561h0M4750 1466h0M4746 2634h0M4737 2660h0M4732 1370h0M4740 1133h0M4732 558h0M4734 1680h0M4729 2611h0M4745 2451h0M4749 731h0M4740 2166h0M4735 2421h0M4748 2204h0M4737 1128h0M4731 2413h0M4729 2012h0M4745 884h0M4735 2085h0M4747 2087h0M4743 2925h0M4730 1336h0M4740 1041h0M4736 996h0M4744 2279h0M4745 2102h0M4730 1422h0M4744 3076h0M4737 482h0M4745 1771h0M4730 2275h0M4737 1394h0M4740 776h0M4729 2586h0M4747 1990h0M4746 2551h0M4742 1409h0M4735 624h0"/>
<path id="r0_17" d="M4622 1032h0M4628 1058h0M4635 2608h0M4624 765h0M4640 1284h0M4627 2823h0M4620 2149h0M4620 2070h0M4622 2183h0M4625 2534h0M4630 532h0M4619 2394h0M4631 972h0M4632 2362h0M4631 2497h0M4627 1026h0M4621 1713h0M4628 1149h0M4640 1891h0M4635 2717h0M4622 733h0M4627 2766h0M4619 1627h0M4624 2507h0M4626 851h0M4621 1494h0M4637 788h0M4633 2267h0M4623 2741h0M4634 1652h0M4619 2411h0M4624 1855h0M4632 1216h0M4631 1306h0M4638 2693h0M4628 1657h0M4624 2863h0M4640 2142h0M4622 768h0M4627 2524h0M4624 2385h0M4633 830h0M4637 1996h0M4637 2112h0M4637 2008h0M4627 1693h0M4623 1930h0M4623 521h0M4636 1535h0M4635 594h0M4631 667h0M4625 2643h0M4624 852h0M4628 2151h0M4640 2587h0M4627 1522h0M4632 2325h0M4629 2211h0M4630 1307h0M4625 1420h0M4628 2713h0M4630 1782h0M4640 2336h0M4624 2907h0M4637 2477h0M4622 2651h0M4641 860h0M4628 1094h0M4629 2682h0M4623 500h0M4633 1805h0M4620 2799h0M4633 2446h0M4638 2858h0M4632 593h0M4620 1075h0M4627 502h0M4627 1855h0M4633 2120h0M4620 2826h0M4632 2582h0M4626 2603h0M4622 1162h0M4632 1852h0M4624 1618h0M4623 557h0M4636 2887h0M4624 2483h0M4628 1080h0M4630 1227h0M4621 1894h0M4623 2633h0M4637 565h0M4630 839h0M4621 1435h0M4639 2656h0M4627 926h0M4637 2775h0M4623 590h0M4635 2602h0M4630 1932h0M4632 1284h0M4635 2781h0M4628 1638h0M4630 1862h0M4629 2403h0M4631 1815h0M4624 1942h0M4621 2077h0M4624 855h0M4622 962h0M4638 2676h0M4637 2087h0M4629 1784h0M4620 2849h0M4623 1456h0M4632 1012h0M4633 1034h0M4639 2230h0M4630 1979h0M4634 2458h0M4638 626h0M4623 2516h0M4635 1502h0M4641 2525h0M4628 1150h0M4629 2172h0M4630 2322h0M4638 1512h0M4630 1291h0M4622 820h0M4634 1230h0M4634 1062h0M4623 2402h0M4626 1141h0M4620 2212h0M4623 2704h0M4638 2326h0M4629 1361h0M4620 2423h0M4628 1088h0M4639 1006h0M4633 2017h0M4620 799h0M4623 2067h0M4639 2799h0M4625 2071h0M4631 1040h0M4639 1625h0M4638 1049h0M4623 467h0M4631 1681h0M4619 2245h0M4633 757h0M4627 1321h0M4632 2768h0M4628 1859h0M4621 2204h0M4639 2649h0M4621 1231h0M4630 2598h0M4638 828h0M4623 1739h0M4623 2493h0M4622 1512h0M4632 694h0M4623 1407h0M4621 1776h0M4636 833h0M4628 1253h0M4630 699h0M4635 1282h0M4640 622h0M4632 2308h0M4637 498h0M4629 2880h0M4639 2194h0M4623 1712h0M4626 1701h0M4638 2527h0M4636 778h0M4637 1840h0M4632 856h0M4623 1696h0M4624 1438h0M4621 1602h0M4632 2885h0M4634 1917h0M4637 847h0M4634 1924h0M4629 1926h0M4632 2919h0M4634 1481h0M4636 597h0M4626 1413h0M4622 692h0M4632 629h0M4624 2061h0M4630 2018h0M4636 2892h0M4641 2166h0M4625 2395h0M4640 2063h0M4640 696h0M4636 1649h0M4638 2378h0M4635 2386h0M4638 1958h0M4631 1248h0M4635 1947h0M4635 2475h0M4634 811h0M4630 1910h0M4635 2515h0M4622 559h0M4623 1088h0M4619 1370h0M4629 533h0M4623 1709h0M4632 1290h0M4630 522h0M4640 2771h0M4626 2475h0M4629 2003h0M4634 2358h0M4630 1351h0M4635 759h0M4635 2692h0M4635 1644h0M4631 1257h0M4631 1991h0M4626 1507h0M4632 916h0M4629 1096h0M4636 1661h0M4619 1380h0M4620 1364h0M4622 1278h0M4622 1384h0M4632 2426h0M4626 1211h0M4622 2475h0M4638 1491h0M4626 1989h0M4636 1479h0M4629 1799h0M4630 1923h0M4626 2367h0M4623 1224h0M4624 1527h0M4633 1806h0M4637 2097h0M4633 652h0M4640 709h0M4621 1533h0M4619 2450h0M4626 2018h0M4620 2917h0M4638 2773h0M4619 2074h0"/>
<path id="r0_18" d="M4662 1862h0M4645 1217h0M4660 1159h0M4658 2045h0M4645 1645h0M4646 2474h0M4656 1717h0M4652 1536h0M4642 585h0M4657 1149h0M4657 2814h0M4657 2454h0M4660 1233h0M4649 1596h0M4646 1486h0M4647 1956h0M4644 2618h0M4652 2015h0M4662 2452h0M4646 2099h0M4648 1907h0M4650 1532h0M4651 745h0M4651 1707h0M4656 2626h0M4656 1803h0M4655 941h0M4656 1103h0M4646 2004h0M4658 825h0M4657 1063h0M4659 1576h0M4645 1686h0M4643 2052h0M4648 1859h0M4660 1172h0M4646 2893h0M4644 1278h0M4645 2209h0M4654 1678h0M4645 1551h0M4662 591h0M4643 2176h0M4644 2376h0M4645 2613h0M4646 2279h0M4645 2287h0M4654 1218h0M4646 570h0M4660 1197h0M4650 2781h0M4649 1613h0M4652 982h0M4655 2592h0M4650 1169h0M4657 1920h0M4655 1250h0M4657 1157h0M4643 1340h0M4660 989h0M4650 1902h0M4652 2219h0M4652 1100h0M4658 2178h0M4660 2121h0M4660 1794h0M4653 2424h0M4661 2806h0M4663 879h0M4659 2277h0M4645 1695h0M4660 1920h0M4648 2600h0M4659 970h0M4649 2381h0M4658 1531h0M4651 2807h0M4662 1398h0M4646 784h0M4653 1269h0M4658 1220h0M4661 696h0M4655 2112h0M4642 893h0M4655 2217h0M4645 2827h0M4645 1937h0M4657 1712h0M4661 1160h0M4642 701h0M4643 1161h0M4648 2676h0M4657 2785h0M4651 1028h0M4650 1472h0M4647 1115h0M4645 1580h0M4651 1818h0M4651 934h0M4651 2069h0M4660 2467h0M4646 1989h0M4645 1375h0M4654 1768h0M4648 898h0M4661 2798h0M4642 1703h0M4650 1245h0M4661 2013h0M4648 2549h0M4657 2051h0M4647 770h0M4657 2049h0M4661 2145h0M4644 1053h0M4645 2577h0M4659 2064h0M4641 1138h0M4653 2194h0M4650 2547h0M4661 2901h0M4654 1034h0M4650 1818h0M4651 942h0M4646 1609h0M4656 2628h0M4644 1153h0M4643 2752h0M4647 1171h0M4658 1573h0M4646 709h0M4642 1579h0M4660 2128h0M4646 2335h0M4643 1653h0M4662 1716h0M4651 2462h0M4663 1759h0M4650 1072h0M4647 2490h0M4660 2740h0M4662 1619h0M4661 935h0M4647 2190h0M4658 972h0M4661 2144h0M4661 2027h0M4655 1804h0M4643 521h0M4658 2790h0M4643 1459h0M4650 2968h0M4649 945h0M4658 660h0M4654 1964h0M4660 2372h0M4650 1028h0M4658 2784h0M4644 1635h0M4657 683h0M4652 2409h0M4641 1521h0M4644 2554h0M4651 2776h0M4654 1722h0M4662 1663h0M4656 2004h0M4659 2535h0M4653 2881h0M4646 2840h0M4662 2660h0M4662 2583h0M4651 1152h0M4660 1807h0M4647 2561h0M4656 827h0M4660 1228h0M4651 1745h0M4653 1438h0M4661 2929h0M4645 1169h0M4654 1352h0M4661 3240h0M4660 2253h0M4653 1455h0M4646 2076h0M4656 2213h0M4646 1709h0M4649 2422h0M4662 2750h0M4662 2602h0M4644 1929h0M4661 1829h0M4647 577h0M4651 1529h0M4648 1858h0M4643 1148h0M4650 1234h0M4644 2001h0M4643 1444h0M4655 2717h0M4646 1416h0M4654 1762h0M4647 1619h0M4659 1442h0M4660 2411h0M4658 1254h0M4662 2715h0M4660 752h0M4651 2281h0M4645 2775h0M4661 2833h0M4658 1299h0M4653 2094h0M4656 1644h0M4658 2067h0M4654 786h0M4653 1661h0M4643 1501h0M4654 507h0M4645 2660h0M4645 2515h0M4653 1632h0M4659 695h0M4656 1751h0M4661 2089h0M4659 2380h0M4642 534h0M4662 1731h0M4658 1700h0M4648 1599h0M4656 560h0M4649 661h0M4646 952h0M4653 2094h0M4646 1264h0M4650 1747h0M4661 1418h0M4646 1689h0M4652 2868h0M4646 2540h0M4646 709h0M4653 2694h0M4655 2260h0M4656 2519h0M4660 2467h0M4646 1273h0M4642 2804h0M4662 956h0M4643 1101h0M4658 1291h0M4652 521h0"/>
<path id="r0_5" d="M4374 846h0M4364 2311h0M4375 727h0M4359 3005h0M4366 1791h0M4365 878h0M4362 1904h0M4372 2513h0M4373 2366h0M4363 898h0M4373 2820h0M4375 627h0M4372 1309h0M4358 1144h0M4368 1073h0M4377 2345h0M4371 1317h0M4360 2540h0M4375 1502h0M4359 2252h0M4377 986h0M4356 672h0M4364 1490h0M4362 2860h0M4372 2495h0M4367 1126h0M4372 1211h0M4359 1017h0M4366 2734h0M4366 1999h0M4365 2571h0M4365 750h0M4377 2322h0M4363 1331h0M4368 1346h0M4362 1372h0M4374 723h0M4366 2589h0M4356 1579h0M4375 1582h0M4360 2152h0M4369 728h0M4375 832h0M4365 2584h0M4356 2597h0M4368 2765h0M4359 599h0M4360 2747h0M4373 1129h0M4361 2638h0M4373 1282h0M4364 632h0M4377 445h0M4362 1921h0M4369 1229h0M4364 1711h0M4358 2739h0M4377 2146h0M4356 2057h0M4375 2650h0M4366 1910h0M4366 3027h0M4367 2515h0M4370 1888h0M4357 2336h0M4370 2271h0M4359 2178h0M4374 2421h0M4375 2031h0M4365 1427h0M4376 865h0M4356 393h0M4374 1844h0M4371 1741h0M4377 3064h0M4370 1895h0M4358 2011h0M4368 1658h0M4364 2090h0M4365 2169h0M4358 699h0M4377 2158h0M4367 1027h0M4368 816h0M4363 2607h0M4376 2354h0M4361 2573h0M4376 1105h0M4365 2371h0M4377 1671h0M4366 1357h0M4368 2438h0M4360 620h0M4363 2632h0M4361 765h0M4367 2006h0M4372 1343h0M4371 2316h0M4365 1671h0M4376 1132h0M4377 2292h0M4361 2315h0M4371 3038h0M4375 2800h0M4356 1452h0M4368 2313h0M4367 1924h0M4364 991h0M4363 2750h0M4364 1756h0M4361 1036h0M4360 2122h0M4369 880h0M4366 766h0M4357 431h0M4366 2133h0M4366 2646h0M4374 1716h0M4368 1243h0M4371 1039h0M4363 539h0M4372 1089h0M4374 2744h0M4356 2209h0M4376 1020h0M4376 2318h0M4358 1050h0M4376 805h0M4363 2272h0M4360 1446h0M4370 1997h0M4375 1232h0M4371 1856h0M4361 1556h0M4361 2868h0M4359 1299h0M4362 421h0M4376 2912h0M4362 2760h0M4363 1134h0M4365 2122h0M4375 518h0M4376 2208h0M4371 1961h0M4377 2083h0M4376 1968h0M4367 2656h0M4360 1006h0M4362 1071h0M4361 1510h0M4369 2522h0M4363 746h0M4368 2432h0M4363 2831h0M4359 1187h0M4371 1999h0M4360 2682h0M4365 1849h0M4362 2165h0M4369 1315h0M4369 814h0M4363 1808h0M4377 858h0M4376 2552h0M4371 908h0M4369 460h0M4359 514h0M4366 2239h0M4357 2063h0M4366 2445h0M4376 2589h0M4363 1925h0M4369 2183h0M4361 1326h0M4361 1483h0M4372 1157h0M4361 2488h0M4372 609h0M4371 2301h0M4369 2538h0M4363 2169h0M4358 2736h0M4362 2800h0M4367 1306h0M4358 1406h0M4363 1403h0M4368 1432h0M4363 1203h0M4365 715h0"/>
<path id="r0_6" d="M4397 996h0M4390 2311h0M4381 984h0M4385 417h0M4398 1534h0M4381 1769h0M4388 613h0M4395 2109h0M4398 1745h0M4393 487h0M4396 2158h0M4378 2955h0M4388 2663h0M4399 1603h0M4396 1672h0M4394 1763h0M4380 1123h0M4387 2657h0M4378 1101h0M4398 2001h0M4399 1585h0M4395 2137h0M4387 1327h0M4392 2352h0M4388 515h0M4379 390h0M4388 1306h0M4378 861h0M4386 1149h0M4392 1302h0M4393 2318h0M4392 814h0M4399 2385h0M4395 2887h0M4380 1133h0M4387 893h0M4385 2629h0M4393 2452h0M4388 2356h0M4395 1560h0M4396 1655h0M4391 1773h0M4382 2330h0M4384 2182h0M4399 1148h0M4391 1401h0M4390 2039h0M4381 1691h0M4383 508h0M4381 1024h0M4381 772h0M4382 2841h0M4392 1792h0M4387 1006h0M4388 2609h0M4382 1541h0M4399 2633h0M4387 1069h0M4383 884h0M4398 1266h0M4391 496h0M4399 2690h0M4378 784h0M4395 2654h0M4388 1975h0M4382 1347h0M4380 2062h0M4393 2681h0M4386 867h0M4379 860h0M4392 531h0M4388 2596h0M4380 2386h0M4392 923h0M4399 2687h0M4386 655h0M4389 2869h0M4381 2393h0M4394 923h0M4394 682h0M4397 1672h0M4383 1740h0M4386 2181h0M4383 1324h0M4388 2978h0M4382 1941h0M4396 2799h0M4393 848h0M4393 669h0M4390 2114h0M4386 829h0M4384 1319h0M4382 2537h0M4393 1283h0M4382 2393h0M4396 1867h0M4381 2314h0M4384 3001h0M4391 1189h0M4384 1774h0M4382 1350h0M4399 949h0M4395 1174h0M4388 1745h0M4394 1380h0M4394 1034h0M4399 1118h0M4395 2338h0M4395 945h0M4399 779h0M4379 2285h0M4378 2220h0M4380 1521h0M4380 952h0M4389 1052h0M4384 1774h0M4382 1771h0M4383 1181h0M4387 646h0M4384 1683h0M4398 2203h0M4388 1789h0M4378 2092h0M4393 2234h0M4385 1408h0M4394 2547h0M4379 2386h0M4399 500h0M4385 1483h0M4392 2740h0M4381 835h0M4382 1285h0M4383 717h0M4380 2914h0M4387 1418h0M4379 1412h0M4380 1754h0M4387 2291h0M4392 1318h0M4391 2451h0M4386 2644h0M4386 2774h0M4381 495h0M4390 2639h0M4389 685h0M4379 2090h0M4392 2416h0M4389 1055h0M4396 1932h0M4389 2739h0M4383 1896h0M4394 552h0M4379 1384h0M4398 2635h0M4381 1498h0M4386 2092h0M4392 2374h0M4391 669h0M4388 1829h0M4381 2432h0M4385 1424h0M4389 2201h0M4392 1144h0M4392 2553h0M4395 1230h0M4383 2006h0M4395 2460h0M4392 2962h0"/>
<path id="r0_26" d="M4836 1179h0M4820 1971h0M4828 2516h0M4820 1928h0M4830 2106h0M4824 584h0M4832 1004h0M4824 1277h0M4823 1535h0M4821 2034h0M4833 2397h0M4820 2160h0M4824 1554h0M4826 2111h0M4821 2751h0M4827 773h0M4818 973h0M4831 1750h0M4838 2938h0M4828 2336h0M4829 2427h0M4838 2112h0M4836 2427h0M4821 2094h0M4823 2366h0M4836 1124h0M4821 2644h0M4818 1420h0M4828 890h0M4837 2506h0M4827 2755h0M4824 1580h0M4818 1575h0M4819 2392h0M4818 567h0M4823 2143h0M4832 2032h0M4833 2507h0M4833 2580h0M4830 1626h0M4827 1270h0M4833 1360h0M4831 1416h0M4830 830h0M4823 2983h0M4831 1617h0M4825 2593h0M4833 1274h0M4819 1395h0M4828 1764h0M4835 2185h0M4821 1477h0M4821 1447h0M4828 1883h0M4829 1064h0M4836 1189h0M4833 1830h0M4830 1284h0M4838 2483h0M4831 745h0M4821 1330h0M4818 2120h0M4816 650h0M4821 1639h0M4834 2607h0M4816 592h0M4825 1553h0M4825 2427h0M4829 1966h0M4836 2376h0M4827 1587h0M4818 2425h0M4828 2351h0M4829 721h0M4824 2640h0M4818 2851h0M4820 1755h0M4831 596h0M4818 550h0M4828 1648h0M4833 1072h0M4833 1776h0M4817 1089h0M4822 1145h0M4827 563h0M4828 2942h0M4832 1733h0M4835 774h0M4836 2089h0M4819 1472h0M4821 874h0M4817 755h0M4817 1969h0M4819 1247h0M4827 2784h0M4823 2523h0M4823 841h0M4823 562h0M4818 1309h0M4836 1855h0M4829 735h0M4830 1368h0M4817 2491h0M4824 2226h0M4836 1819h0M4831 1876h0M4818 635h0M4817 1771h0M4823 2494h0M4830 2193h0M4826 880h0M4817 829h0M4832 1832h0M4832 1689h0M4829 2358h0M4838 1652h0M4824 1360h0M4819 2606h0M4832 1419h0M4835 1424h0M4836 2914h0M4831 2264h0M4820 2687h0M4827 2866h0M4817 1772h0M4828 1471h0M4827 880h0M4835 1830h0M4825 2532h0M4836 2289h0M4826 1366h0M4832 2192h0M4821 2506h0M4828 1988h0M4831 1187h0M4837 1365h0M4835 2271h0M4827 2742h0M4835 796h0M4822 2555h0M4819 1663h0M4823 1466h0M4834 1162h0M4836 1133h0M4836 2375h0M4826 1636h0M4818 1068h0M4833 2769h0M4818 1660h0M4825 2681h0M4832 2128h0M4821 2451h0M4836 1938h0M4825 2247h0M4837 639h0M4816 1459h0M4828 834h0M4831 924h0M4829 1398h0M4833 2644h0M4834 1958h0M4822 1255h0M4830 2105h0M4824 2682h0M4833 2607h0M4825 2085h0M4825 2747h0M4828 929h0M4837 1345h0M4830 1990h0M4826 2660h0M4831 1855h0M4827 2283h0M4831 1350h0M4837 2631h0M4822 1276h0M4831 2659h0M4830 2027h0M4829 1938h0M4834 2094h0M4836 1035h0M4824 2367h0M4824 2875h0M4836 1068h0M4825 2028h0M4836 1801h0M4837 1434h0M4826 2819h0M4828 2512h0M4823 2188h0M4835 2628h0M4821 2810h0M4821 588h0M4829 2816h0M4824 2730h0M4826 1383h0M4834 2059h0M4830 1014h0M4824 622h0M4836 1241h0M4838 2405h0M4835 2617h0M4826 1786h0M4829 2003h0M4819 2772h0M4819 854h0M4835 1150h0M4820 1558h0M4836 2584h0M4828 2231h0M4829 2771h0M4826 937h0M4833 2149h0M4832 795h0M4826 1026h0M4819 971h0M4829 1086h0M4825 2034h0M4821 630h0M4820 1668h0M4832 1934h0M4820 698h0M4818 1998h0M4825 2849h0M4823 2208h0M4838 2604h0M4823 583h0M4821 2310h0M4821 1735h0M4835 2017h0M4830 2480h0M4834 1170h0M4838 2401h0M4836 826h0M4820 2076h0M4832 2590h0M4818 2380h0M4827 1848h0M4823 2147h0M4834 566h0M4827 2418h0M4834 1000h0M4817 2740h0M4822 1863h0M4820 751h0M4823 1750h0M4822 2097h0M4823 1673h0M4818 730h0M4834 1899h0M4829 1061h0M4832 2941h0M4835 957h0M4821 675h0M4838 2489h0M4830 2670h0M4838 2514h0"/>
<path id="r0_20" d="M4701 2893h0M4686 2256h0M4703 2250h0M4689 1462h0M4688 828h0M4702 2185h0M4703 679h0M4696 2733h0M4704 2253h0M4697 2270h0M4704 1051h0M4690 1778h0M4687 2796h0M4703 1729h0M4695 1298h0M4705 1407h0M4693 1026h0M4690 1853h0M4703 2393h0M4686 1074h0M4705 2145h0M4694 2045h0M4706 1635h0M4690 912h0M4704 2162h0M4686 1827h0M4689 1663h0M4693 1904h0M4706 674h0M4690 2788h0M4685 2019h0M4705 809h0M4694 2813h0M4690 704h0M4690 1790h0M4690 2469h0M4696 1013h0M4688 1013h0M4687 1065h0M4696 861h0M4701 861h0M4700 2565h0M4697 2917h0M4690 1935h0M4706 980h0M4692 1530h0M4697 2001h0M4687 717h0M4705 1963h0M4705 2195h0M4706 557h0M4698 816h0M4688 2551h0M4695 637h0M4702 1908h0M4695 1785h0M4706 2177h0M4698 704h0M4695 2386h0M4705 774h0M4691 1918h0M4685 880h0M4698 2416h0M4705 1974h0M4687 616h0M4693 2204h0M4689 1931h0M4698 735h0M4699 1952h0M4704 2017h0M4705 2066h0M4694 1747h0M4686 1105h0M4685 1552h0M4686 914h0M4700 623h0M4701 2003h0M4701 1443h0M4686 1700h0M4688 1097h0M4696 1907h0M4705 2048h0M4703 1016h0M4685 1104h0M4686 1509h0M4690 2329h0M4692 588h0M4693 515h0M4696 2728h0M4696 1945h0M4703 2374h0M4693 1970h0M4704 679h0M4704 1644h0M4686 536h0M4696 1478h0M4695 1237h0M4693 1083h0M4705 1013h0M4693 1971h0M4697 972h0M4691 1042h0M4688 2785h0M4689 1906h0M4695 2935h0M4703 2610h0M4688 2393h0M4706 2745h0M4704 2637h0M4703 1700h0M4689 1259h0M4691 555h0M4693 1979h0M4703 899h0M4696 1257h0M4687 2077h0M4692 2761h0M4695 2853h0M4694 1767h0M4688 2521h0M4686 1954h0M4704 511h0M4692 2493h0M4694 1167h0M4706 2894h0M4693 2494h0M4694 967h0M4705 2204h0M4686 2436h0M4687 713h0M4688 1340h0M4686 798h0M4691 1943h0M4697 2101h0M4697 673h0M4702 1257h0M4705 684h0M4691 1770h0M4694 561h0M4692 2493h0M4696 2132h0M4696 2396h0M4703 921h0M4690 1967h0M4701 2498h0M4702 2522h0M4704 1017h0M4695 2220h0M4692 1797h0M4690 2011h0M4697 1043h0M4690 1723h0M4688 822h0M4686 1189h0M4702 895h0M4705 2820h0M4693 2293h0M4695 1570h0M4697 2789h0M4697 990h0M4693 2548h0M4696 1528h0M4691 818h0M4688 1970h0M4693 1472h0M4697 2756h0M4690 2132h0M4702 2176h0M4687 2426h0M4697 1402h0M4686 531h0M4690 977h0M4705 2398h0M4687 483h0M4691 1037h0M4694 2834h0M4704 2879h0M4686 2059h0M4692 1151h0M4692 2513h0M4694 1979h0M4699 1802h0M4706 2812h0M4694 942h0M4706 2066h0M4693 1129h0M4692 2691h0M4700 2737h0M4701 459h0M4696 2698h0M4688 834h0M4686 537h0M4698 988h0M4693 1996h0M4686 2614h0M4696 1155h0M4686 2037h0M4687 2114h0M4705 2139h0M4690 2089h0M4688 1626h0M4706 1832h0M4702 2912h0M4693 2243h0M4704 1146h0M4692 676h0M4690 1409h0M4689 2493h0M4686 1474h0M4692 640h0M4694 1787h0M4688 1099h0M4688 599h0M4704 953h0M4689 1909h0M4692 1429h0M4689 2119h0M4698 2008h0M4689 497h0M4695 2390h0M4693 1172h0M4704 2798h0M4697 2271h0M4698 2658h0M4698 1941h0M4698 1977h0M4697 2322h0M4698 1440h0M4688 1438h0M4692 2806h0M4706 1601h0M4695 731h0M4699 2872h0M4695 1483h0M4702 761h0M4696 913h0M4696 1522h0M4691 2111h0M4706 2288h0M4705 2187h0M4696 1757h0M4686 1968h0M4700 1640h0M4692 1173h0M4690 1182h0M4692 2671h0M4697 1559h0M4701 508h0M4695 2498h0M4686 2746h0M4704 2333h0M4695 824h0M4694 1942h0M4687 2338h0M4694 2546h0"/>
<path id="r0_3" d="M4330 1262h0M4321 1643h0M4317 1067h0M4325 1147h0M4320 2883h0M4326 1442h0M4325 1804h0M4329 727h0M4313 1449h0M4314 1614h0M4331 2743h0M4333 1591h0M4324 2525h0M4324 2773h0M4332 2750h0M4334 2162h0M4325 2002h0M4315 656h0M4320 2461h0M4314 989h0M4313 1668h0M4319 2147h0M4319 1942h0M4316 611h0M4328 2627h0M4319 1963h0M4313 644h0M4332 890h0M4322 1985h0M4315 1923h0M4329 2738h0M4320 1853h0M4330 994h0M4333 1507h0M4331 574h0M4331 2611h0M4330 1914h0M4319 1446h0M4326 2137h0M4328 2125h0M4331 846h0M4329 2228h0M4315 2651h0M4317 1693h0M4334 514h0M4325 1258h0M4321 1593h0M4317 1853h0M4322 1799h0M4316 2119h0M4313 1697h0M4320 2572h0M4332 2329h0M4326 2086h0M4317 780h0M4330 1788h0M4323 979h0M4319 2916h0M4317 2272h0M4317 1301h0M4323 1650h0M4331 773h0M4312 791h0M4321 1262h0M4321 2645h0M4318 2083h0M4313 424h0M4316 2592h0M4326 1462h0M4331 823h0M4313 795h0M4332 2047h0M4323 1580h0M4322 1195h0M4316 1259h0M4333 1705h0M4322 969h0M4324 900h0M4324 942h0M4318 2420h0M4318 557h0M4331 1617h0M4320 1518h0M4314 713h0M4314 2487h0M4322 2151h0M4327 2394h0M4327 684h0M4323 1877h0M4320 566h0M4312 2210h0M4333 2062h0M4327 2447h0M4320 1269h0M4332 1350h0M4328 2929h0M4320 1074h0M4327 1529h0M4330 2759h0M4324 1024h0M4325 1898h0M4332 1313h0M4320 827h0M4333 515h0M4316 1677h0M4324 1664h0M4327 749h0M4317 2708h0M4314 1997h0M4332 2373h0M4319 1428h0M4332 2312h0M4321 552h0M4325 1869h0M4326 2951h0M4322 1819h0M4316 952h0M4326 807h0M4331 1717h0M4319 1068h0M4315 1206h0M4316 1728h0M4321 1013h0M4328 1168h0M4317 2481h0M4324 1655h0M4333 898h0M4313 2515h0M4312 494h0M4314 2335h0M4321 1333h0M4326 1630h0M4317 2671h0M4326 1716h0M4321 1563h0M4329 1796h0M4319 1094h0M4317 1485h0M4319 1468h0M4332 1292h0M4333 2894h0M4322 1841h0M4333 2799h0M4324 1575h0M4318 1765h0M4332 564h0M4313 2808h0M4318 796h0M4320 792h0M4318 902h0M4319 735h0M4321 1319h0M4332 1844h0M4327 2684h0M4332 2792h0M4319 2943h0M4330 618h0M4318 1034h0M4326 1049h0M4318 1694h0M4326 1070h0M4315 2745h0M4321 429h0M4326 2359h0M4329 1956h0M4332 1149h0M4330 2365h0M4332 1344h0M4331 2800h0M4316 1685h0M4329 2387h0M4320 1674h0M4331 2560h0M4328 2494h0M4317 1468h0M4333 2053h0M4321 1236h0M4317 650h0M4318 1290h0M4331 2023h0M4315 2729h0M4313 1009h0M4315 1690h0M4316 2452h0M4316 706h0M4319 1439h0M4313 1446h0M4315 1856h0M4314 481h0M4316 1299h0M4325 837h0M4333 586h0M4332 1401h0M4318 731h0M4319 894h0M4323 1603h0"/>
<path id="r0_32" d="M4961 2270h0M4950 1786h0M4963 2826h0M4968 2178h0M4948 2211h0M4964 2804h0M4949 2352h0M4966 1591h0M4955 2654h0M4954 1600h0M4960 2643h0M4958 2730h0M4961 1748h0M4948 2718h0M4969 1712h0M4958 1186h0M4951 2290h0M4969 1277h0M4956 1477h0M4967 1839h0M4969 1711h0M4956 1653h0M4952 1359h0M4958 2843h0M4959 1366h0M4955 715h0M4961 1898h0M4951 1448h0M4952 1964h0M4961 2487h0M4950 2020h0M4968 2482h0M4951 1966h0M4956 1343h0M4968 1802h0M4959 1449h0M4967 690h0M4956 1776h0M4961 2646h0M4959 1376h0M4963 2418h0M4954 1419h0M4953 2789h0M4953 2169h0M4958 1036h0M4954 2291h0M4954 2604h0M4968 2086h0M4970 2600h0M4957 2529h0M4949 605h0M4959 1640h0M4967 2149h0M4964 2328h0M4959 706h0M4948 1073h0M4956 2560h0M4957 2867h0M4954 941h0M4956 553h0M4958 2369h0M4957 1620h0M4954 1513h0M4951 2609h0M4954 2265h0M4968 1708h0M4950 1890h0M4949 2721h0M4969 1355h0M4957 799h0M4960 1674h0M4963 2873h0M4963 1322h0M4968 2770h0M4966 2450h0M4958 562h0M4948 1473h0M4967 1855h0M4964 1458h0M4956 1067h0M4955 754h0M4954 1324h0M4948 2270h0M4953 1855h0M4967 976h0M4964 2492h0M4965 727h0M4964 2205h0M4949 1390h0M4968 2708h0M4962 2390h0M4951 2674h0M4948 667h0M4951 849h0M4953 2802h0M4955 1456h0M4952 1443h0M4961 2556h0M4958 1852h0M4951 2657h0M4948 1288h0M4965 1115h0M4950 1954h0M4954 1423h0M4957 2544h0M4962 1788h0M4966 2688h0M4968 1821h0M4963 1935h0M4949 2093h0M4958 2345h0M4951 853h0M4961 2105h0M4957 633h0M4959 1193h0M4970 2180h0M4952 2391h0M4966 1383h0M4961 2261h0M4964 2559h0M4968 669h0M4950 2534h0M4965 1668h0M4960 2185h0M4958 1435h0M4958 1275h0M4967 881h0M4949 1967h0M4961 941h0M4951 2427h0M4952 2023h0M4964 2125h0M4952 2722h0M4953 2079h0M4953 1077h0M4963 2384h0M4951 2924h0M4953 2197h0M4959 1737h0M4949 2223h0M4951 1706h0M4958 1785h0M4950 2178h0M4949 1608h0M4953 1965h0M4954 1181h0M4964 1612h0M4951 2548h0M4969 2537h0M4952 998h0M4960 1694h0M4963 776h0M4967 1037h0M4949 1708h0M4964 1538h0M4950 3037h0M4958 790h0M4954 2904h0M4966 3265h0M4956 1516h0M4948 2088h0M4959 2481h0M4956 2031h0M4955 1545h0M4960 925h0M4958 1769h0M4963 1977h0M4965 1364h0M4953 2547h0M4954 2327h0M4958 1816h0M4959 2315h0M4952 2402h0M4949 1163h0M4957 1113h0M4963 1756h0M4968 2235h0M4951 1238h0M4965 1621h0M4960 2416h0M4967 2354h0M4951 984h0M4961 1064h0M4968 2074h0M4962 1224h0M4957 1340h0M4964 2164h0M4954 1487h0M4968 2187h0M4951 864h0M4950 2057h0M4950 2764h0M4960 3273h0M4967 2240h0M4956 1083h0M4958 1568h0M4950 1765h0M4963 1825h0M4951 2388h0M4968 862h0M4964 1148h0M4967 2250h0"/>
<path id="r0_38" d="M5096 2042h0M5099 2395h0M5093 2254h0M5085 1520h0M5090 1992h0M5097 1594h0M5099 832h0M5099 1282h0M5090 1619h0M5081 2680h0M5080 2523h0M5080 1816h0M5082 2374h0M5086 2066h0M5081 2858h0M5088 2546h0M5088 2838h0M5093 2181h0M5095 2175h0M5101 871h0M5082 1530h0M5083 1386h0M5083 2615h0M5080 1368h0M5092 2225h0M5092 2698h0M5096 1107h0M5093 2581h0M5085 2484h0M5082 2221h0M5083 1663h0M5083 2330h0M5084 1790h0M5100 976h0M5085 2228h0M5083 1988h0M5101 2094h0M5097 2019h0M5085 2994h0M5085 1890h0M5089 1883h0M5088 1507h0M5100 798h0M5101 2838h0M5085 1076h0M5082 2648h0M5083 2093h0M5081 1303h0M5087 2236h0M5088 2805h0M5080 2144h0M5095 1001h0M5091 573h0M5097 2032h0M5098 1804h0M5096 2215h0M5098 1156h0M5086 1568h0M5098 2024h0M5090 783h0M5093 1907h0M5091 1136h0M5088 1151h0M5099 2245h0M5084 2533h0M5096 1540h0M5088 2619h0M5082 2515h0M5089 1088h0M5083 1663h0M5087 1288h0M5080 1371h0M5088 1393h0M5082 2044h0M5091 700h0M5087 2290h0M5090 1090h0M5083 1185h0M5094 1434h0M5086 1314h0M5095 2023h0M5087 1086h0"/>
<path id="r0_1" d="M4275 2290h0M4284 2525h0M4269 562h0M4283 1770h0M4273 2115h0M4280 1319h0M4275 747h0M4286 1990h0M4278 2288h0M4277 1346h0M4289 760h0M4281 1403h0M4286 602h0M4273 723h0M4271 2738h0M4277 1530h0M4273 1868h0M4289 1078h0M4279 853h0M4284 2626h0M4280 2363h0M4270 1545h0M4287 1408h0M4284 2633h0M4277 2280h0M4283 610h0M4280 1530h0M4287 1539h0M4286 2657h0M4273 1610h0M4289 1551h0M4290 1208h0M4289 462h0M4284 1096h0M4281 2637h0M4283 1562h0M4287 1149h0M4275 1110h0M4286 1249h0M4288 2226h0M4285 2621h0M4281 1326h0M4278 1342h0M4275 2160h0M4285 2026h0M4287 1791h0M4277 1170h0M4278 1956h0M4289 2531h0M4277 1784h0M4278 709h0M4285 543h0M4286 2290h0M4274 571h0M4275 847h0M4288 1357h0M4288 929h0M4287 1180h0M4269 1663h0M4288 587h0M4287 2046h0M4280 689h0M4277 1980h0M4289 1148h0M4283 1196h0M4281 2779h0M4287 2596h0M4280 1559h0M4288 2846h0M4275 2575h0M4272 841h0M4273 1941h0M4289 930h0M4279 2247h0M4272 836h0M4288 801h0M4274 2369h0"/>
<path id="r0_27" d="M4849 2002h0M4838 1431h0M4846 1782h0M4860 554h0M4848 1883h0M4859 1228h0M4840 1806h0M4842 1978h0M4838 2430h0M4839 1779h0M4846 1295h0M4855 1393h0M4852 2524h0M4858 1818h0M4852 1670h0M4851 1196h0M4845 1981h0M4845 2631h0M4842 2827h0M4849 1634h0M4842 1665h0M4857 2337h0M4857 1959h0M4858 2359h0M4853 970h0M4845 1707h0M4845 2775h0M4840 1549h0M4851 2466h0M4844 2804h0M4847 2814h0M4858 1695h0M4858 2153h0M4840 1913h0M4848 2057h0M4856 1588h0M4847 1188h0M4853 2595h0M4858 1994h0M4838 993h0M4854 2636h0M4856 2604h0M4860 2334h0M4855 1272h0M4855 2726h0M4845 2155h0M4854 2810h0M4849 2800h0M4853 1373h0M4846 1906h0M4853 1550h0M4849 1563h0M4847 1887h0M4839 1309h0M4843 2822h0M4846 486h0M4851 1238h0M4851 1829h0M4843 1347h0M4839 1150h0M4842 869h0M4843 1581h0M4844 2323h0M4847 1664h0M4844 1591h0M4853 2422h0M4846 2630h0M4840 566h0M4852 1511h0M4845 1841h0M4855 2639h0M4838 2209h0M4848 2823h0M4847 1596h0M4853 1147h0M4847 2632h0M4840 2418h0M4842 2838h0M4852 1327h0M4850 2860h0M4859 1515h0M4859 2603h0M4854 2344h0M4859 520h0M4851 600h0M4845 1708h0M4853 542h0M4859 1791h0M4848 1355h0M4848 2267h0M4840 2294h0M4842 769h0M4857 1111h0M4856 1864h0M4853 1194h0M4856 2181h0M4853 1289h0M4841 1475h0M4855 2038h0M4854 769h0M4855 2295h0M4839 2129h0M4839 1975h0M4844 2037h0M4850 1699h0M4848 2374h0M4843 2430h0M4856 2239h0M4849 2044h0M4844 1464h0M4848 1649h0M4845 1234h0M4854 1875h0M4857 2728h0M4840 537h0M4857 1666h0M4841 897h0M4848 1109h0M4848 1389h0M4856 1367h0M4850 994h0M4845 1423h0M4858 1827h0M4858 604h0M4855 541h0M4843 1207h0M4842 1734h0M4852 1098h0M4849 1937h0M4839 854h0M4855 2770h0M4855 885h0M4841 1517h0M4839 1600h0M4858 537h0M4843 1777h0M4843 2034h0M4857 2389h0M4839 2779h0M4856 2646h0M4859 1925h0M4859 2186h0M4854 2062h0M4838 1611h0M4838 2753h0M4856 1517h0M4844 1566h0M4851 2142h0M4850 2397h0M4857 2069h0M4843 2768h0M4858 1840h0M4840 1610h0M4845 1924h0M4838 1313h0M4859 2028h0M4853 1262h0M4848 2838h0M4858 1754h0M4860 2106h0M4859 2818h0M4856 1453h0M4842 2483h0M4856 2107h0M4855 2140h0M4840 728h0M4859 1818h0M4852 2718h0M4853 1729h0M4855 674h0M4857 2016h0M4848 2118h0M4856 1210h0M4838 1376h0M4838 551h0M4853 1180h0M4854 2839h0M4840 1916h0M4857 2275h0M4843 2661h0M4848 1391h0M4858 1852h0M4852 1029h0M4851 2466h0M4850 2355h0M4841 1135h0M4849 1090h0M4840 1532h0M4847 1611h0M4854 1997h0M4851 909h0M4851 2564h0M4844 1773h0M4842 825h0M4848 1065h0M4843 2419h0M4842 2084h0M4854 1955h0M4840 1138h0M4854 1672h0M4843 2297h0M4842 1664h0M4858 2262h0M4842 1785h0M4839 2084h0M4839 1246h0M4843 2224h0M4858 1546h0M4858 989h0M4842 2029h0M4855 1001h0M4843 1994h0M4855 1728h0M4855 1782h0M4840 1463h0M4845 1005h0M4838 1582h0M4856 1945h0M4846 714h0M4839 2480h0M4849 2647h0"/>
<path id="r0_31" d="M4934 2193h0M4930 1112h0M4938 748h0M4946 1403h0M4928 917h0M4945 2573h0M4946 1116h0M4935 1326h0M4934 1498h0M4940 2251h0M4926 744h0M4928 2210h0M4938 769h0M4941 1755h0M4942 1913h0M4927 1119h0M4933 844h0M4946 2638h0M4934 2388h0M4937 1391h0M4927 676h0M4933 2395h0M4926 762h0M4933 1888h0M4928 1440h0M4931 2628h0M4940 1665h0M4928 2550h0M4946 1140h0M4941 1638h0M4935 1995h0M4943 2454h0M4941 2594h0M4934 1244h0M4931 1060h0M4945 1217h0M4933 1791h0M4941 1526h0M4946 2375h0M4932 818h0M4927 2393h0M4940 2451h0M4937 1811h0M4934 1365h0M4931 1365h0M4930 2321h0M4927 1306h0M4928 1405h0M4944 2370h0M4943 1170h0M4931 2217h0M4946 2228h0M4934 2247h0M4934 1759h0M4948 1140h0M4935 2454h0M4926 885h0M4941 2228h0M4945 2764h0M4943 1413h0M4940 1815h0M4930 1306h0M4938 1148h0M4931 2967h0M4940 2026h0M4927 1346h0M4928 810h0M4941 1041h0M4931 1657h0M4940 2280h0M4938 1246h0M4945 2733h0M4938 2765h0M4947 2529h0M4943 2696h0M4931 832h0M4927 1728h0M4938 2793h0M4932 1729h0M4935 1623h0M4946 1508h0M4926 1373h0M4928 1506h0M4935 2215h0M4932 1651h0M4938 1629h0M4947 1427h0M4935 2391h0M4938 1191h0M4941 1257h0M4940 2706h0M4937 2176h0M4942 1925h0M4946 3280h0M4930 1899h0M4944 2083h0M4937 1150h0M4941 2858h0M4939 2777h0M4937 1235h0M4931 1703h0M4932 1371h0M4943 975h0M4929 1720h0M4926 1310h0M4942 1695h0M4947 1991h0M4931 2067h0M4932 2799h0M4943 1167h0M4946 1825h0M4948 2835h0M4934 1166h0M4945 2259h0M4928 2068h0M4936 2702h0M4937 1656h0M4943 529h0M4943 1939h0M4934 2806h0M4947 2440h0M4947 554h0M4947 1565h0M4931 1027h0M4939 2488h0M4926 1553h0M4943 2631h0M4927 1966h0M4931 2245h0M4945 2419h0M4934 2569h0M4942 2516h0M4942 1373h0M4932 539h0M4944 2933h0M4928 1656h0M4927 1386h0M4928 1891h0M4938 2305h0M4947 2794h0M4933 1747h0M4941 1932h0M4946 2610h0M4941 1857h0M4940 1787h0M4932 1512h0M4948 1411h0M4932 1340h0M4934 831h0M4934 971h0M4936 2131h0M4929 851h0M4944 2301h0M4927 1427h0M4928 2483h0M4945 1812h0M4929 1773h0M4946 2504h0M4944 1266h0M4934 1582h0M4929 1830h0M4944 2567h0M4942 796h0M4936 1686h0M4929 1369h0M4946 873h0M4940 2753h0M4934 1182h0M4942 2506h0M4941 1129h0M4927 2366h0M4946 1123h0M4944 2000h0M4943 2439h0M4934 932h0M4942 721h0M4926 896h0M4932 1208h0M4929 654h0M4942 1725h0M4945 2333h0M4942 1191h0M4938 2066h0M4944 1499h0M4933 2196h0M4943 1784h0M4939 2011h0M4945 2812h0M4941 1795h0M4935 2153h0M4927 1872h0M4934 2303h0M4945 2835h0M4935 2604h0M4934 956h0M4938 1966h0M4946 2209h0M4936 2269h0M4947 2810h0M4936 2677h0M4929 2845h0M4944 692h0M4940 1809h0M4945 899h0M4936 2566h0M4936 1549h0M4943 2112h0M4931 1963h0M4939 1676h0M4945 1568h0M4944 2429h0M4941 1385h0M4927 1106h0M4945 1681h0M4930 1048h0M4934 1108h0M4928 1180h0M4931 2115h0M4947 1323h0"/>
<path id="r0_34" d="M5004 2795h0M5006 1402h0M4999 1761h0M4999 1147h0M5011 2876h0M5001 2513h0M5011 1186h0M5011 1000h0M5000 810h0M5010 1028h0M5005 1794h0M5000 2221h0M5008 2076h0M5005 2222h0M4998 1449h0M5013 1061h0M5012 2508h0M4999 525h0M4992 1877h0M5013 1351h0M5007 2231h0M5006 2479h0M5012 2675h0M5003 2439h0M5008 2674h0M4999 2323h0M5000 1680h0M5011 2065h0M4994 2320h0M4997 1212h0M4994 1330h0M5009 1501h0M5006 2827h0M4996 1079h0M4996 2303h0M5005 1135h0M5008 625h0M4996 2681h0M5000 536h0M4995 1711h0M4992 1162h0M5006 1291h0M5011 2189h0M5001 1602h0M5013 1741h0M5007 1451h0M4995 1248h0M5000 2295h0M4999 2221h0M5001 1293h0M5009 1499h0M4998 1132h0M5003 2010h0M5013 1965h0M4997 2642h0M5008 2160h0M5001 2943h0M5002 2142h0M4994 2577h0M5002 2072h0M5012 1311h0M4995 1780h0M5013 1717h0M5010 1801h0M5009 1532h0M5002 2393h0M5002 2181h0M5011 1223h0M5001 1470h0M5005 2449h0M5012 2102h0M5012 1587h0M4994 1607h0M5008 2123h0M4994 2581h0M4999 2376h0M5000 1377h0M4995 2231h0M5003 1832h0M4995 1974h0M5013 1142h0M5006 2691h0M4999 2010h0M5009 2858h0M5009 1141h0M5003 2563h0M5007 1389h0M4999 1710h0M5011 2400h0M4995 2115h0M4998 1739h0M5008 2454h0M4993 1672h0M5009 2263h0M5011 1351h0M5012 723h0M5004 2364h0M4997 1422h0M4993 1754h0M4999 1476h0M5012 634h0M5001 2226h0M4998 2407h0M5011 759h0M5001 1902h0M5000 1024h0M4997 1097h0M4999 1448h0M5008 2668h0M5012 1771h0M5008 1292h0M5010 2381h0M5005 2777h0M5009 2108h0M5006 2047h0M5002 2442h0M5003 2470h0M5006 1276h0M5006 2167h0M4999 2894h0M5009 1206h0M4998 616h0M4997 1253h0M5000 2263h0M4992 1516h0M4998 949h0M5006 1809h0M4998 1326h0M5009 1646h0M5009 1871h0M5007 1673h0M5013 2464h0M5002 1855h0M5002 1207h0M4994 1061h0M5000 2136h0M5012 2693h0M4994 2496h0M5007 1415h0M5005 1402h0M5003 1749h0M5013 2405h0M5008 2227h0M5006 2078h0M4998 1555h0M5006 1760h0M4997 2316h0M5001 1223h0M4995 710h0M5004 1391h0M5012 2623h0M5013 2263h0M5002 1155h0M5008 1751h0M4999 2396h0M5008 2051h0M5000 2837h0M4997 1589h0M5010 809h0M5002 1760h0M4998 2750h0M5006 1914h0M4999 1680h0M5009 2564h0M5009 1009h0M4997 1854h0M5003 2564h0M5006 2366h0M5008 2733h0M5011 2690h0M5008 880h0M5012 2526h0M4998 2939h0M5012 879h0M4998 2219h0M4995 2423h0M5001 1570h0M5010 2650h0M4993 2118h0M5009 2613h0M4996 1064h0M4992 2383h0M4995 2504h0M4995 2426h0M5000 2579h0M4999 1600h0M5012 2841h0M5002 1139h0M5009 698h0M5006 2745h0M5008 2023h0M4997 559h0M5012 1634h0M4994 2116h0M5003 2114h0M4995 2856h0M5003 1874h0M5005 761h0M5012 2392h0M5008 1431h0M5006 2891h0M5002 1417h0M4995 1830h0M5013 1712h0M5000 765h0M5012 2655h0M5008 2880h0M5004 1341h0M5012 747h0M4995 2658h0M4999 1407h0"/>
<path id="r0_16" d="M4615 1160h0M4616 2418h0M4604 932h0M4614 940h0M4606 965h0M4617 1735h0M4613 1416h0M4601 792h0M4609 2361h0M4604 1994h0M4617 2900h0M4606 1780h0M4609 1239h0M4605 1314h0M4604 1225h0M4608 2363h0M4610 1401h0M4609 2075h0M4602 2677h0M4607 1453h0M4597 2556h0M4611 1316h0M4608 924h0M4615 1112h0M4613 1852h0M4615 2677h0M4605 2393h0M4611 2127h0M4617 1577h0M4609 455h0M4606 929h0M4598 485h0M4608 2005h0M4610 2770h0M4599 1408h0M4617 1760h0M4618 1421h0M4610 2138h0M4609 696h0M4605 1532h0M4603 1996h0M4613 603h0M4600 2309h0M4601 2425h0M4617 2058h0M4618 2167h0M4600 2443h0M4610 514h0M4600 2496h0M4611 1503h0M4603 1083h0M4597 1271h0M4602 2654h0M4607 2963h0M4604 1254h0M4616 875h0M4603 2274h0M4617 2000h0M4597 2622h0M4600 1994h0M4614 2955h0M4609 2581h0M4602 2043h0M4613 2624h0M4608 2604h0M4599 1937h0M4617 1675h0M4608 2379h0M4610 2712h0M4600 2109h0M4616 1093h0M4604 2327h0M4597 1348h0M4613 1492h0M4602 1593h0M4602 2400h0M4613 1998h0M4614 1563h0M4613 1017h0M4598 1077h0M4612 1203h0M4602 1892h0M4597 1636h0M4612 1285h0M4608 1144h0M4608 1197h0M4606 526h0M4602 2423h0M4607 1282h0M4615 621h0M4617 2673h0M4604 1026h0M4612 1550h0M4608 1409h0M4600 1901h0M4618 2942h0M4599 955h0M4603 2006h0M4607 1800h0M4607 2215h0M4618 2629h0M4602 665h0M4608 1168h0M4608 1147h0M4606 2066h0M4612 2238h0M4615 2361h0M4616 1202h0M4612 857h0M4614 469h0M4618 2391h0M4611 2532h0M4605 1940h0M4608 1124h0M4615 647h0M4619 2300h0M4597 726h0M4598 2459h0M4610 951h0M4618 1909h0M4606 1750h0M4597 1916h0M4612 1060h0M4603 2576h0M4608 590h0M4611 2294h0M4602 1702h0M4613 2843h0M4616 3263h0M4611 1163h0M4614 1942h0M4604 1871h0M4607 2717h0M4599 1537h0M4604 2843h0M4599 2760h0M4612 2723h0M4601 2961h0M4611 1611h0M4602 687h0M4614 2658h0M4598 2673h0M4602 1958h0M4618 1209h0M4613 1887h0M4612 2123h0M4610 2791h0M4618 1142h0M4600 527h0M4618 693h0M4599 3033h0M4612 1875h0M4617 2486h0M4603 1723h0M4609 2488h0M4617 625h0M4602 2120h0M4609 1698h0M4604 1532h0M4617 2751h0M4606 1363h0M4613 2314h0M4616 2844h0M4610 2325h0M4618 1760h0M4615 2896h0M4616 2810h0M4613 1999h0M4597 507h0M4611 1210h0M4599 1489h0M4601 1923h0M4608 2307h0M4604 616h0M4597 1285h0M4605 1615h0M4605 1650h0M4608 2859h0M4597 2057h0M4615 983h0M4610 1516h0M4606 2052h0M4607 1413h0M4600 2702h0M4616 1554h0M4609 2604h0M4603 1519h0M4609 862h0M4610 695h0M4597 719h0M4598 2771h0M4597 2644h0M4609 844h0M4610 1918h0M4605 1882h0M4610 2339h0M4615 2341h0M4619 1577h0M4607 528h0M4606 1916h0M4610 2020h0M4609 1451h0M4604 1703h0M4599 716h0M4609 1244h0M4612 2321h0M4601 1305h0M4616 1157h0M4617 958h0M4618 2890h0M4600 1875h0M4602 1260h0M4604 584h0M4615 2679h0M4606 1111h0M4617 2725h0M4612 2174h0M4601 2703h0M4603 2655h0M4603 1197h0M4605 677h0M4609 558h0M4602 1551h0M4602 705h0M4598 1385h0M4614 2290h0M4605 1346h0M4610 681h0M4616 1989h0M4615 2546h0M4611 876h0M4610 2752h0M4598 713h0M4606 744h0M4597 1948h0M4605 1735h0M4607 696h0M4601 2109h0M4616 1755h0M4605 1335h0M4614 2537h0M4604 503h0M4611 1109h0M4606 2384h0M4597 2879h0M4606 1239h0M4618 785h0M4601 1794h0M4604 1926h0M4604 1593h0M4601 1407h0M4609 1733h0M4605 2513h0M4607 1725h0M4613 1794h0M4599 1481h0"/>
<path id="r0_33" d="M4991 2366h0M4974 1747h0M4982 630h0M4977 673h0M4991 1371h0M4970 3365h0M4981 1270h0M4986 1781h0M4987 1348h0M4971 801h0M4989 2795h0M4976 795h0M4980 1139h0M4985 1717h0M4971 990h0M4977 2798h0M4987 1854h0M4990 2221h0M4984 2479h0M4988 1420h0M4988 2574h0M4980 1781h0M4990 2506h0M4987 3327h0M4982 2450h0M4973 505h0M4978 1624h0M4970 2666h0M4982 1034h0M4980 1131h0M4984 2159h0M4980 2768h0M4989 1986h0M4974 2875h0M4981 2717h0M4989 1441h0M4977 1692h0M4983 1432h0M4972 539h0M4978 1464h0M4974 1114h0M4978 1257h0M4977 1423h0M4975 2257h0M4981 2489h0M4982 2001h0M4978 2280h0M4976 2256h0M4983 2663h0M4973 1348h0M4970 2059h0M4986 2003h0M4977 1602h0M4987 932h0M4991 1479h0M4982 2198h0M4972 1411h0M4989 1049h0M4973 797h0M4974 2599h0M4991 1757h0M4988 2637h0M4980 1662h0M4987 1567h0M4976 2750h0M4989 2391h0M4983 1668h0M4987 2877h0M4979 1043h0M4970 973h0M4974 2547h0M4980 659h0M4988 2584h0M4991 1218h0M4970 2793h0M4977 1964h0M4981 1928h0M4979 2190h0M4974 1316h0M4983 1774h0M4978 1344h0M4983 1384h0M4990 2861h0M4971 1459h0M4984 1153h0M4976 1722h0M4982 1438h0M4987 1855h0M4975 2340h0M4971 1819h0M4991 1925h0M4981 2839h0M4990 1776h0M4972 1166h0M4985 1821h0M4971 1034h0M4980 1419h0M4990 2385h0M4978 1293h0M4983 1233h0M4973 512h0M4977 2786h0M4991 1959h0M4970 677h0M4972 3007h0M4982 2565h0M4989 1768h0M4974 1444h0M4984 1213h0M4978 1062h0M4973 1406h0M4988 1055h0M4981 2566h0M4983 2396h0M4988 2845h0M4987 2039h0M4978 1297h0M4983 2316h0M4978 2776h0M4981 1412h0M4979 1164h0M4975 1484h0M4976 2862h0M4985 2284h0M4975 2582h0M4974 2024h0M4987 968h0M4972 2887h0M4988 690h0M4984 2256h0M4988 2470h0M4981 2701h0M4984 2828h0M4981 1009h0M4979 2540h0M4989 1519h0M4978 1641h0M4970 2509h0M4990 1589h0M4984 2291h0M4988 1735h0M4987 1798h0M4981 2590h0M4971 2224h0M4986 2055h0M4982 1918h0M4973 1265h0M4972 1794h0M4978 1153h0M4982 1770h0M4976 1624h0M4992 1377h0M4972 2248h0M4984 2578h0M4991 2237h0M4991 2036h0M4987 1806h0M4971 593h0M4986 1017h0M4973 726h0M4987 1657h0M4986 2323h0M4978 2749h0M4991 2409h0M4973 1590h0M4988 2184h0M4985 2420h0M4987 2150h0M4970 1908h0M4990 1239h0M4974 2865h0M4982 1186h0M4976 1615h0M4986 1864h0M4979 1088h0M4979 1336h0M4986 1707h0M4982 777h0M4979 2121h0M4974 2734h0M4973 3327h0M4976 1356h0M4975 510h0M4989 951h0M4976 2059h0M4979 1307h0M4985 2130h0M4986 2532h0M4973 1242h0M4990 2529h0M4982 1019h0M4971 2258h0M4987 2593h0M4987 2666h0M4983 1749h0M4987 2421h0M4974 2150h0M4988 1171h0M4980 1952h0M4989 1708h0M4971 1000h0M4979 1745h0M4979 1710h0M4985 1239h0M4990 2346h0M4978 1595h0M4985 1440h0M4970 909h0M4975 1321h0"/>
<path id="r0_25" d="M4813 1352h0M4797 1579h0M4813 2671h0M4811 1667h0M4804 2456h0M4797 2195h0M4796 1618h0M4814 1399h0M4799 2216h0M4805 681h0M4808 921h0M4809 518h0M4811 2256h0M4801 1508h0M4805 2598h0M4815 880h0M4814 1617h0M4799 2151h0M4808 1702h0M4796 2507h0M4799 2636h0M4814 2264h0M4801 1144h0M4805 1595h0M4799 2759h0M4796 2691h0M4809 1238h0M4798 577h0M4814 1132h0M4797 1992h0M4810 2797h0M4799 1755h0M4813 1925h0M4796 1869h0M4800 2579h0M4798 2420h0M4813 2405h0M4815 1568h0M4797 757h0M4807 1643h0M4803 405h0M4796 2260h0M4795 547h0M4795 2636h0M4795 1603h0M4799 898h0M4799 1865h0M4799 2782h0M4801 548h0M4812 1585h0M4804 2802h0M4815 2966h0M4814 1375h0M4803 1822h0M4798 2338h0M4807 656h0M4797 1331h0M4805 608h0M4812 1292h0M4804 543h0M4811 1030h0M4805 2043h0M4810 1746h0M4799 1212h0M4810 2447h0M4805 1385h0M4816 2644h0M4803 1119h0M4797 765h0M4807 1643h0M4816 1596h0M4803 2307h0M4796 1899h0M4802 1583h0M4796 902h0M4802 608h0M4811 1387h0M4802 1873h0M4806 864h0M4803 2343h0M4814 1860h0M4797 884h0M4815 2306h0M4812 1435h0M4802 592h0M4805 550h0M4810 715h0M4807 1758h0M4804 1026h0M4815 1909h0M4815 1732h0M4811 2322h0M4797 1512h0M4806 2750h0M4799 2659h0M4795 2858h0M4815 1680h0M4802 802h0M4812 815h0M4799 890h0M4804 2621h0M4811 2479h0M4801 2864h0M4802 2097h0M4810 2258h0M4814 556h0M4808 1064h0M4814 1562h0M4807 573h0M4803 1953h0M4802 676h0M4809 777h0M4811 895h0M4806 1971h0M4805 2710h0M4813 1119h0M4805 824h0M4798 1205h0M4813 1776h0M4803 804h0M4796 2589h0M4804 2048h0M4809 769h0M4809 1164h0M4798 1785h0M4796 2415h0M4810 1312h0M4794 1737h0M4798 1732h0M4794 2328h0M4807 657h0M4808 2401h0M4802 2215h0M4800 608h0M4804 2030h0M4814 1539h0M4797 2000h0M4800 1463h0M4796 682h0M4810 1708h0M4815 2904h0M4804 2272h0M4811 2089h0M4813 1051h0M4806 1603h0M4798 1642h0M4815 1291h0M4802 1302h0M4796 2176h0M4807 2965h0M4798 674h0M4807 1788h0M4811 1897h0M4803 1493h0M4815 2144h0M4805 1474h0M4809 948h0M4796 2278h0M4798 1974h0M4801 2507h0M4797 1627h0M4802 1998h0M4799 893h0M4799 2490h0M4803 2338h0M4797 1056h0M4801 1892h0M4795 961h0M4813 2551h0M4800 2321h0M4815 765h0M4800 2183h0M4802 1515h0M4814 888h0M4794 1558h0M4813 2720h0M4806 1722h0M4809 1478h0M4800 2405h0M4809 1209h0M4799 2698h0M4811 892h0M4799 646h0M4813 988h0M4816 519h0M4815 2616h0M4813 531h0M4795 1879h0M4796 2146h0M4796 2288h0M4814 1516h0M4797 884h0M4798 2404h0M4804 2048h0M4805 610h0M4813 1762h0M4798 760h0M4816 1933h0M4814 2146h0M4801 895h0M4799 2509h0M4814 981h0M4810 725h0M4805 883h0M4815 1970h0M4796 1769h0M4803 1303h0M4807 2380h0M4805 599h0M4799 960h0M4810 1407h0M4796 527h0M4810 738h0M4815 1917h0M4795 774h0M4798 737h0M4815 990h0M4799 2613h0M4804 1159h0M4804 693h0M4810 1797h0M4795 2752h0M4800 1519h0M4800 670h0M4809 2208h0M4800 1881h0M4800 2966h0M4802 1477h0M4812 2239h0M4815 1355h0M4805 954h0M4815 2088h0M4808 781h0M4798 2023h0M4805 2503h0M4812 1705h0M4811 1876h0M4799 1814h0M4804 592h0M4799 2229h0M4812 1362h0M4810 862h0M4813 913h0M4797 2594h0M4815 580h0M4808 1689h0M4815 1146h0M4810 1107h0M4807 2562h0M4798 2011h0M4806 664h0M4796 1152h0M4800 2092h0M4813 1120h0M4802 2127h0M4806 2853h0M4807 1593h0M4815 2261h0M4800 601h0M4814 2937h0M4800 1952h0M4807 1876h0M4808 1774h0M4812 2461h0M4804 2843h0M4811 1070h0"/>
<path id="r0_36" d="M5047 1927h0M5053 1713h0M5053 1955h0M5049 2771h0M5048 2541h0M5043 1856h0M5043 1166h0M5045 1503h0M5049 931h0M5044 2586h0M5055 2137h0M5042 2730h0M5049 1187h0M5046 1112h0M5038 2572h0M5050 585h0M5050 2797h0M5052 1548h0M5041 1565h0M5038 1153h0M5042 887h0M5038 2382h0M5054 2322h0M5037 1785h0M5048 2291h0M5052 1906h0M5049 2411h0M5046 1215h0M5042 2667h0M5037 2331h0M5039 1716h0M5054 1949h0M5045 2283h0M5041 2114h0M5048 1782h0M5049 1529h0M5041 2862h0M5042 1818h0M5044 1188h0M5048 2380h0M5041 2567h0M5046 2806h0M5039 1034h0M5040 1124h0M5042 1466h0M5036 1870h0M5039 2064h0M5039 1410h0M5048 1843h0M5040 2287h0M5042 1705h0M5039 2703h0M5037 1539h0M5046 1579h0M5041 1277h0M5054 1388h0M5036 558h0M5042 2573h0M5040 1094h0M5038 2458h0M5046 1749h0M5041 1709h0M5051 2643h0M5043 1387h0M5051 1485h0M5049 1158h0M5042 1808h0M5043 2492h0M5039 2775h0M5044 1370h0M5051 794h0M5048 1584h0M5056 2938h0M5053 2276h0M5047 1783h0M5046 1045h0M5056 2615h0M5047 1418h0M5037 1464h0M5057 1131h0M5052 2376h0M5050 2644h0M5037 1960h0M5044 1226h0M5036 2320h0M5057 2213h0M5054 1397h0M5040 831h0M5056 1974h0M5038 2686h0M5052 1291h0M5047 1002h0M5051 2212h0M5036 2165h0M5057 2240h0M5046 603h0M5038 1360h0M5045 1452h0M5036 2280h0M5056 2546h0M5044 1055h0M5053 871h0M5038 751h0M5044 1156h0M5040 1209h0M5040 1047h0M5047 2132h0M5045 1883h0M5046 1514h0M5053 849h0M5051 2361h0M5040 2704h0M5046 2342h0M5043 2626h0M5040 2217h0M5050 1832h0M5040 2618h0M5047 1188h0M5037 1404h0M5048 2864h0M5043 2431h0M5050 2785h0M5044 2027h0M5036 1234h0M5052 2575h0M5051 2507h0M5040 1701h0M5037 2926h0M5050 2583h0M5053 2232h0M5045 1292h0M5051 2459h0M5039 1001h0M5038 1234h0M5036 1293h0M5055 2340h0M5043 2374h0M5041 2018h0M5046 1925h0M5039 1613h0M5036 2858h0M5053 2772h0M5041 1881h0M5044 1503h0M5052 2316h0M5054 487h0M5038 1741h0M5049 2163h0M5056 2174h0M5041 2835h0M5036 2311h0M5054 2247h0M5044 2899h0M5040 2305h0M5044 1637h0M5057 1709h0M5042 1983h0M5049 1814h0M5048 1371h0M5038 2830h0M5039 2485h0M5041 1575h0M5048 2036h0M5050 1085h0M5050 2612h0M5039 2300h0M5048 1817h0M5040 1827h0M5055 1608h0M5046 2178h0M5046 1092h0M5053 1423h0M5038 906h0M5046 1670h0M5053 790h0M5049 2715h0"/>
<path id="r0_2" d="M4294 2717h0M4299 1382h0M4310 2443h0M4295 1102h0M4310 2358h0M4301 2588h0M4302 932h0M4301 1700h0M4298 1715h0M4301 2947h0M4291 767h0M4291 741h0M4301 1898h0M4301 1380h0M4296 2184h0M4299 2422h0M4303 2737h0M4300 1500h0M4294 1958h0M4297 1309h0M4294 2195h0M4293 1711h0M4305 2847h0M4304 2608h0M4301 939h0M4303 1842h0M4305 2330h0M4301 1302h0M4297 1517h0M4305 1884h0M4306 2979h0M4301 2053h0M4306 2644h0M4301 777h0M4307 2464h0M4298 1004h0M4305 2744h0M4307 1465h0M4297 2653h0M4303 1066h0M4303 2670h0M4309 2234h0M4309 2236h0M4309 2484h0M4308 843h0M4299 2147h0M4305 2698h0M4293 2032h0M4302 2214h0M4292 1048h0M4293 1180h0M4303 1306h0M4307 1116h0M4301 536h0M4302 1306h0M4297 2281h0M4296 1428h0M4302 2568h0M4300 1484h0M4300 2672h0M4304 962h0M4305 886h0M4297 2332h0M4297 950h0M4308 1130h0M4300 1287h0M4307 1001h0M4311 2735h0M4308 1397h0M4297 2253h0M4302 937h0M4299 2733h0M4297 1572h0M4301 2398h0M4301 1542h0M4310 1240h0M4310 627h0M4311 1161h0M4291 561h0M4302 1069h0M4296 2827h0M4296 1854h0M4309 1290h0M4307 1624h0M4304 732h0M4293 1690h0M4295 849h0M4292 1165h0M4308 2803h0M4301 1707h0M4300 1490h0M4306 2441h0M4293 559h0M4306 2398h0M4310 1098h0M4303 2179h0M4296 2651h0M4290 2278h0M4304 1068h0M4300 2515h0M4309 1941h0M4311 2494h0M4300 1575h0M4295 2722h0M4303 1775h0M4305 1849h0M4291 2488h0M4307 2581h0M4310 930h0M4296 796h0M4295 2202h0M4297 1280h0M4301 529h0M4290 2090h0M4304 2020h0M4300 1061h0M4305 1284h0M4296 2050h0M4308 2779h0M4305 877h0M4311 1540h0M4298 1243h0M4310 1194h0M4303 687h0M4310 725h0M4292 562h0M4303 681h0M4293 1337h0M4305 1939h0M4299 1754h0M4298 1320h0M4303 388h0M4301 1627h0M4309 514h0M4296 2056h0M4307 1054h0M4297 1807h0M4292 1791h0M4302 2647h0M4308 3062h0M4298 1771h0M4309 2088h0M4293 2877h0M4302 2844h0M4297 774h0M4301 2585h0M4310 1795h0M4301 1731h0"/>
<path id="r0_35" d="M5029 588h0M5020 1068h0M5020 2233h0M5026 2518h0M5014 2108h0M5024 2945h0M5031 1233h0M5016 1318h0M5021 1958h0M5029 2249h0M5022 2213h0M5020 2059h0M5034 2350h0M5025 2801h0M5022 1858h0M5024 2006h0M5026 1599h0M5016 1002h0M5016 1473h0M5023 734h0M5019 489h0M5017 2460h0M5031 1589h0M5019 1845h0M5029 851h0M5016 2017h0M5017 2724h0M5026 1859h0M5021 632h0M5017 1127h0M5019 1715h0M5017 746h0M5014 1214h0M5023 1259h0M5029 1277h0M5030 1719h0M5021 2535h0M5016 1314h0M5017 618h0M5026 810h0M5015 2064h0M5030 410h0M5028 2582h0M5028 1244h0M5015 3340h0M5027 3317h0M5015 2480h0M5030 1149h0M5028 831h0M5030 2349h0M5014 1360h0M5025 1590h0M5018 1651h0M5035 1777h0M5016 1648h0M5017 1065h0M5022 1690h0M5019 2772h0M5018 714h0M5032 2049h0M5016 1857h0M5023 1282h0M5016 1254h0M5031 1207h0M5020 2363h0M5034 1329h0M5017 1062h0M5034 2586h0M5025 1203h0M5024 2267h0M5029 2813h0M5021 1144h0M5021 2228h0M5019 2196h0M5032 2310h0M5031 1879h0M5018 1698h0M5015 1000h0M5032 1503h0M5021 1987h0M5025 1572h0M5031 2418h0M5032 1872h0M5024 2318h0M5019 2622h0M5019 2753h0M5022 1822h0M5026 1256h0M5032 2814h0M5016 2269h0M5017 2192h0M5025 1725h0M5026 1095h0M5034 1779h0M5032 3274h0M5021 540h0M5035 1557h0M5035 862h0M5024 2125h0M5019 2243h0M5023 1864h0M5022 2302h0M5029 2313h0M5034 2836h0M5017 1208h0M5031 2702h0M5016 2242h0M5021 2143h0M5030 1360h0M5026 2741h0M5027 2766h0M5032 2784h0M5035 1423h0M5017 1262h0M5026 1593h0M5018 2012h0M5026 2736h0M5033 1438h0M5025 1134h0M5016 1780h0M5022 1665h0M5029 1884h0M5033 1472h0M5014 2353h0M5028 1007h0M5017 1464h0M5025 1529h0M5016 2639h0M5032 1901h0M5035 2637h0M5034 2901h0M5020 2838h0M5035 1044h0M5026 1112h0M5033 1373h0M5024 1104h0M5015 2110h0M5023 2678h0M5022 992h0M5015 2195h0M5027 1068h0M5028 2466h0M5021 2295h0M5035 2576h0M5021 2617h0M5018 2553h0M5026 538h0M5023 733h0M5030 1127h0M5014 1074h0M5014 2833h0M5021 1267h0M5029 1466h0M5020 2494h0M5030 1448h0M5034 1335h0M5021 2709h0M5015 536h0M5030 2533h0M5014 1875h0M5035 2762h0M5014 2238h0M5030 548h0M5019 2118h0M5023 1470h0M5020 1889h0M5033 2514h0M5018 1725h0M5023 2649h0M5030 1709h0M5016 1172h0M5023 2441h0M5033 2282h0M5019 1787h0M5017 1502h0M5033 1919h0M5028 1670h0M5024 1862h0M5028 2463h0M5018 2743h0M5032 2286h0M5020 2396h0M5016 1649h0M5027 1597h0M5030 1105h0M5017 1386h0M5029 1246h0M5014 1577h0M5025 2793h0M5027 1270h0M5029 856h0"/>
<path id="r0_13" d="M4549 2781h0M4543 1646h0M4545 1365h0M4536 2705h0M4533 724h0M4548 2894h0M4541 2284h0M4544 1599h0M4550 813h0M4535 2134h0M4540 2467h0M4536 2630h0M4542 1553h0M4533 740h0M4534 2728h0M4548 2099h0M4533 2670h0M4538 1406h0M4546 2392h0M4543 2471h0M4541 974h0M4548 1298h0M4532 538h0M4532 2216h0M4547 1277h0M4538 910h0M4540 2714h0M4532 683h0M4536 1812h0M4533 474h0M4537 2093h0M4543 2426h0M4531 851h0M4548 1733h0M4542 1824h0M4548 1867h0M4537 688h0M4549 1968h0M4552 1177h0M4542 2094h0M4536 953h0M4543 1369h0M4533 1457h0M4544 1795h0M4540 710h0M4551 545h0M4551 2943h0M4550 1510h0M4546 2880h0M4551 866h0M4540 763h0M4550 1519h0M4552 635h0M4547 760h0M4546 924h0M4553 2656h0M4537 1539h0M4537 2517h0M4544 932h0M4546 1612h0M4536 629h0M4541 2451h0M4534 2163h0M4539 929h0M4532 2699h0M4532 1358h0M4543 1708h0M4546 532h0M4534 2225h0M4541 3005h0M4536 1589h0M4534 1058h0M4546 2134h0M4553 1059h0M4536 445h0M4550 1030h0M4536 2689h0M4538 1016h0M4537 541h0M4546 2391h0M4543 1222h0M4544 2290h0M4539 2447h0M4552 2498h0M4543 1642h0M4538 1571h0M4540 2781h0M4548 880h0M4533 2649h0M4541 1388h0M4545 787h0M4539 552h0M4548 2542h0M4548 772h0M4537 2857h0M4542 471h0M4541 3049h0M4550 783h0M4536 2829h0M4543 2481h0M4542 1652h0M4534 696h0M4549 2576h0M4534 2613h0M4553 742h0M4548 1938h0M4536 1768h0M4552 2358h0M4548 2426h0M4549 823h0M4542 972h0M4539 1617h0M4545 616h0M4545 1367h0M4531 1016h0M4535 488h0M4532 1760h0M4551 1908h0M4544 2149h0M4537 625h0M4548 2851h0M4535 2531h0M4541 1476h0M4533 1381h0M4543 962h0M4542 1453h0M4545 2813h0M4532 2477h0M4535 1910h0M4551 2597h0M4541 1537h0M4545 534h0M4534 1339h0M4533 1917h0M4536 915h0M4549 2318h0M4538 1482h0M4538 2412h0M4541 1522h0M4544 2729h0M4545 2077h0M4545 1468h0M4548 2472h0M4550 2562h0M4539 913h0M4537 1184h0M4550 2237h0M4535 2067h0M4553 1581h0M4551 1211h0M4539 692h0M4552 551h0M4539 918h0M4536 966h0M4543 1914h0M4545 2294h0M4545 1271h0"/>
<path id="r0_15" d="M4597 1614h0M4577 1617h0M4587 1879h0M4590 480h0M4587 2440h0M4597 1106h0M4597 1426h0M4582 1723h0M4575 1985h0M4591 1290h0M4590 494h0M4588 1298h0M4585 2380h0M4592 1511h0M4583 995h0M4583 2434h0M4586 1621h0M4589 1321h0M4576 2674h0M4595 2088h0M4588 2831h0M4591 2582h0M4589 1921h0M4581 1697h0M4588 1632h0M4582 830h0M4576 2254h0M4578 1621h0M4581 650h0M4592 2430h0M4587 1967h0M4587 2534h0M4593 2095h0M4592 588h0M4580 1860h0M4584 2000h0M4587 1733h0M4583 1497h0M4585 1047h0M4583 1503h0M4589 1323h0M4592 2507h0M4593 1558h0M4584 1155h0M4596 2785h0M4582 2433h0M4580 1875h0M4576 2731h0M4590 1685h0M4581 1992h0M4580 636h0M4576 1179h0M4584 1215h0M4582 776h0M4597 1873h0M4585 2319h0M4576 563h0M4590 1383h0M4583 2064h0M4588 2096h0M4584 1849h0M4580 1351h0M4590 2034h0M4591 868h0M4592 737h0M4593 790h0M4592 2862h0M4578 1788h0M4589 557h0M4577 3012h0M4584 1882h0M4580 1365h0M4591 1315h0M4584 2001h0M4597 1495h0M4589 2628h0M4587 2834h0M4578 1436h0M4593 1380h0M4588 2851h0M4577 1461h0M4576 801h0M4581 1858h0M4575 786h0M4594 736h0M4587 2378h0M4590 2679h0M4576 918h0M4590 2819h0M4595 2913h0M4576 1000h0M4587 1702h0M4583 2657h0M4580 1749h0M4588 2094h0M4584 847h0M4584 2651h0M4577 2294h0M4583 2682h0M4575 628h0M4596 963h0M4593 637h0M4586 882h0M4589 2214h0M4586 1710h0M4580 2874h0M4584 1793h0M4593 1225h0M4578 740h0M4581 512h0M4587 2322h0M4590 2887h0M4588 1048h0M4597 1017h0M4589 520h0M4596 1180h0M4595 1234h0M4594 2034h0M4581 1605h0M4589 1254h0M4589 1017h0M4582 1361h0M4582 2336h0M4580 1176h0M4594 1706h0M4579 1708h0M4583 1377h0M4578 953h0M4583 988h0M4579 2743h0M4584 1514h0M4589 1315h0M4587 1228h0M4592 2862h0M4587 1041h0M4592 552h0M4575 1681h0M4594 748h0M4586 1958h0M4588 1695h0M4593 1832h0M4581 1051h0M4577 1705h0M4585 2533h0M4587 948h0M4581 1589h0M4595 2008h0M4587 2433h0M4579 2919h0M4583 2287h0M4582 2930h0M4585 2165h0M4587 1363h0M4580 2089h0M4587 2432h0M4578 2071h0M4591 2428h0M4597 1859h0M4584 2037h0M4579 595h0M4583 1831h0M4586 2579h0M4586 632h0M4580 2591h0M4590 1661h0M4591 3031h0M4585 929h0M4577 1370h0M4578 2316h0M4587 2492h0M4591 2126h0M4589 2796h0M4593 2659h0M4579 2596h0M4583 506h0M4583 1270h0M4592 1152h0M4580 1816h0M4584 674h0M4576 1532h0M4596 2808h0M4580 2180h0M4577 1719h0M4577 407h0M4587 676h0M4586 598h0M4580 864h0M4582 2394h0M4586 2875h0M4595 1878h0M4593 1939h0M4578 1049h0M4579 2291h0M4578 1688h0M4575 2622h0M4582 1202h0M4578 1886h0M4579 2155h0M4576 884h0M4596 1274h0M4596 516h0M4579 2338h0M4592 2333h0M4592 2149h0M4584 2701h0M4591 2374h0M4578 2884h0M4590 1488h0M4586 980h0M4585 690h0M4588 2683h0M4589 2334h0M4582 1062h0M4592 2939h0M4578 961h0M4578 913h0M4586 2712h0M4578 690h0M4588 2741h0M4580 2264h0M4575 2698h0M4588 2143h0M4589 1879h0M4592 1927h0M4577 2524h0M4595 2145h0M4593 2561h0M4578 1239h0M4579 2355h0M4577 1907h0M4575 2560h0M4588 1907h0M4585 1652h0M4587 598h0M4593 1774h0M4590 721h0M4579 569h0M4580 520h0M4589 2315h0M4585 1114h0M4583 1842h0M4577 1063h0M4592 1268h0M4587 522h0M4582 991h0M4575 1186h0"/>
<path id="r0_37" d="M5077 1784h0M5079 2603h0M5078 1740h0M5071 1937h0M5062 1446h0M5071 2009h0M5075 2831h0M5071 715h0M5078 1958h0M5061 1792h0M5060 1853h0M5075 2063h0M5063 2200h0M5074 2559h0M5062 1389h0M5072 1442h0M5064 1885h0M5059 788h0M5070 2085h0M5079 1006h0M5077 1141h0M5075 1073h0M5069 1381h0M5078 2170h0M5060 1517h0M5077 1003h0M5069 1398h0M5069 1016h0M5078 1610h0M5063 2806h0M5066 1830h0M5061 2309h0M5065 2647h0M5077 998h0M5069 1963h0M5073 2399h0M5075 2023h0M5064 2822h0M5062 2257h0M5072 2430h0M5062 1940h0M5062 1172h0M5067 1904h0M5058 1857h0M5063 1293h0M5066 1127h0M5064 2677h0M5076 1568h0M5078 1239h0M5076 791h0M5066 2344h0M5075 1494h0M5059 2191h0M5075 2156h0M5064 1849h0M5067 2497h0M5075 2289h0M5079 1097h0M5066 2180h0M5058 1574h0M5074 1797h0M5076 2740h0M5072 2563h0M5070 2193h0M5079 2732h0M5060 2513h0M5071 1341h0M5065 2701h0M5058 2396h0M5067 1019h0M5064 2414h0M5066 1581h0M5075 997h0M5076 1284h0M5061 1705h0M5068 2763h0M5079 1261h0M5063 2618h0M5079 2831h0M5074 2609h0M5062 1069h0M5077 2329h0M5058 1763h0M5071 2136h0M5066 1222h0M5065 1817h0M5063 1316h0M5076 2133h0M5064 1973h0M5058 2085h0M5068 1650h0M5073 2564h0M5064 2316h0M5065 2775h0M5076 1413h0M5077 1516h0M5063 1954h0M5074 1330h0M5063 2399h0M5074 1569h0M5063 1633h0M5061 2261h0M5059 2611h0M5077 706h0M5068 2325h0M5071 1869h0M5077 1579h0"/>
<path id="r0_39" d="M5106 1153h0M5110 1630h0M5108 855h0M5104 1509h0M5102 2546h0M5104 2321h0M5112 2574h0M5109 2854h0M5113 1710h0M5105 1733h0M5104 876h0M5112 1732h0M5105 1082h0M5111 2268h0M5105 1175h0M5106 2607h0M5102 2534h0M5113 1115h0M5101 1568h0M5109 882h0M5105 2469h0M5102 2786h0M5104 2837h0M5114 2061h0M5108 1325h0M5106 2064h0M5105 1513h0M5102 887h0M5110 1592h0M5102 2634h0M5106 1063h0M5103 2662h0"/>
<path id="r0_12" d="M4522 797h0M4516 1897h0M4528 942h0M4525 1803h0M4520 3046h0M4517 2801h0M4528 862h0M4512 2698h0M4526 2743h0M4519 1145h0M4510 1082h0M4520 3024h0M4526 1266h0M4531 1729h0M4529 812h0M4526 2301h0M4524 457h0M4516 2855h0M4527 2509h0M4525 1321h0M4522 3358h0M4518 917h0M4514 1954h0M4512 1170h0M4520 580h0M4522 499h0M4518 2800h0M4522 1724h0M4511 1115h0M4516 1563h0M4518 500h0M4525 1131h0M4518 2123h0M4524 2397h0M4527 1566h0M4524 2583h0M4512 2429h0M4520 1457h0M4510 1939h0M4530 1996h0M4527 2164h0M4529 2916h0M4511 1683h0M4526 3359h0M4509 1271h0M4522 2212h0M4526 1809h0M4530 449h0M4527 640h0M4527 2884h0M4514 495h0M4529 1416h0M4522 600h0M4530 804h0M4530 2559h0M4528 401h0M4520 2309h0M4519 1471h0M4512 1408h0M4518 1974h0M4517 1245h0M4525 650h0M4527 1883h0M4517 2564h0M4520 1830h0M4523 1783h0M4531 523h0M4520 984h0M4519 2241h0M4512 605h0M4520 2515h0M4511 1855h0M4515 3049h0M4528 2121h0M4516 668h0M4528 2579h0M4510 1043h0M4528 1884h0M4528 1540h0M4519 2585h0M4528 1969h0M4529 520h0M4527 1495h0M4514 2826h0M4514 2626h0M4529 2956h0M4525 2719h0M4526 722h0M4527 742h0M4526 1310h0M4526 2663h0M4527 774h0M4510 729h0M4526 1985h0M4528 1594h0M4512 2805h0M4510 1128h0M4522 2834h0M4519 1939h0M4516 2836h0M4516 1697h0M4517 1433h0M4525 2865h0M4527 1513h0M4526 2398h0M4510 2874h0M4513 2900h0M4510 2362h0M4512 1755h0M4529 1170h0M4524 906h0M4523 2219h0M4518 2036h0M4527 831h0M4519 1885h0M4514 1389h0M4523 1564h0M4530 2890h0M4529 1161h0M4527 1946h0M4518 702h0M4526 2906h0M4520 1919h0M4514 1493h0M4512 1403h0M4516 2175h0M4525 2183h0M4518 1470h0M4526 2798h0M4520 1203h0M4513 2086h0M4520 1281h0M4510 2420h0M4528 1265h0M4530 1136h0M4521 2191h0M4530 835h0M4519 2754h0M4514 1623h0M4521 538h0M4511 1666h0M4523 516h0M4510 1541h0M4527 2484h0M4524 1794h0M4512 2111h0M4510 2275h0M4524 2600h0M4531 2408h0M4512 2515h0M4526 1940h0M4512 1404h0M4521 1401h0M4514 3374h0M4520 2344h0M4522 2287h0M4530 811h0M4522 1280h0M4517 2174h0M4530 1228h0M4512 1895h0M4514 691h0M4524 1013h0M4518 842h0M4519 1503h0"/>
<path id="r0_8" d="M4433 1700h0M4443 2114h0M4427 428h0M4437 974h0M4426 1301h0M4437 449h0M4436 879h0M4443 2635h0M4442 2100h0M4427 758h0M4422 2160h0M4424 1286h0M4430 2162h0M4424 1818h0M4423 1860h0M4435 2518h0M4438 1520h0M4428 2150h0M4442 2173h0M4425 1053h0M4439 1832h0M4423 2322h0M4434 589h0M4422 1142h0M4442 1949h0M4428 2843h0M4432 2285h0M4430 1574h0M4429 1768h0M4425 2048h0M4438 2072h0M4436 1986h0M4431 877h0M4439 2670h0M4439 1949h0M4431 1108h0M4437 2163h0M4442 776h0M4441 2447h0M4443 1894h0M4427 537h0M4437 1228h0M4426 2630h0M4433 2235h0M4427 1815h0M4432 1802h0M4425 661h0M4428 2341h0M4441 444h0M4435 807h0M4431 1181h0M4443 1751h0M4427 1065h0M4424 1929h0M4431 1809h0M4426 2556h0M4438 947h0M4422 1815h0M4422 1564h0M4441 372h0M4443 2826h0M4441 732h0M4431 2218h0M4434 2443h0M4427 886h0M4434 2880h0M4427 975h0M4443 1854h0M4432 2098h0M4438 1875h0M4434 2561h0M4430 2134h0M4435 2342h0M4428 1751h0M4438 1847h0M4434 2651h0M4430 758h0M4437 2266h0M4423 2282h0M4440 1317h0M4438 1571h0M4438 584h0M4432 2926h0M4433 2138h0M4434 1328h0M4426 1432h0M4443 2903h0M4441 1537h0M4436 2615h0M4422 490h0M4427 1539h0M4433 2268h0M4430 1057h0M4431 1457h0M4428 2733h0M4443 1139h0M4441 2304h0M4424 1054h0M4436 2811h0M4432 3019h0M4432 2812h0M4432 2174h0M4441 483h0M4428 2280h0M4436 1038h0M4423 716h0M4431 1892h0M4434 2106h0M4422 2061h0M4422 2907h0M4439 2395h0M4432 2337h0M4443 2900h0M4440 901h0M4424 2251h0M4443 1578h0M4443 1066h0M4431 561h0M4433 1662h0M4434 704h0M4422 1714h0M4442 1370h0M4425 2343h0M4429 2394h0M4426 2532h0M4425 1051h0M4427 648h0M4434 1469h0M4439 428h0M4428 2170h0M4424 1969h0M4430 2839h0M4436 1061h0M4441 2850h0M4435 2645h0M4440 641h0M4423 1583h0M4436 868h0M4429 2264h0M4427 2424h0M4442 1950h0M4430 2546h0M4437 2739h0M4429 1952h0"/>
<path id="r0_0" d="M4267 1946h0M4262 822h0M4267 607h0M4265 1541h0M4266 769h0M4268 1122h0M4267 790h0M4268 2424h0M4262 2409h0M4265 1356h0"/>
<path id="b0_15" d="M2717 4403h0M765 4409h0M1687 4414h0M1499 4401h0M3250 4410h0M1546 4404h0M2631 4406h0M4694 4401h0M3053 4406h0M3705 4420h0M4766 4415h0M3245 4417h0M4083 4415h0M3041 4412h0M3224 4406h0M3492 4414h0M3755 4422h0M3298 4407h0M1867 4415h0M2301 4412h0M3243 4401h0M3407 4419h0M3696 4422h0M4246 4408h0M1962 4403h0M3994 4406h0M3195 4421h0M3567 4403h0M2753 4415h0M2927 4401h0M2157 4414h0M3071 4414h0M4116 4414h0M3120 4407h0M3308 4404h0M3582 4403h0M735 4422h0M2358 4411h0M4404 4421h0M3679 4410h0M2805 4417h0M2201 4405h0M3268 4422h0M1704 4418h0M2154 4419h0M2222 4402h0M3062 4406h0M3460 4407h0M2117 4414h0M4072 4401h0M3251 4416h0M1318 4407h0M3388 4408h0M4077 4413h0M4712 4409h0M3600 4422h0M2639 4408h0M4054 4415h0M3061 4412h0M1228 4401h0M4142 4400h0M2663 4422h0M2656 4411h0M2364 4419h0M3580 4408h0M1235 4411h0M4640 4405h0M2589 4423h0M4158 4418h0M4028 4406h0M1472 4408h0M915 4423h0M4010 4423h0M4054 4423h0M4009 4420h0M3614 4408h0M2326 4421h0M2129 4402h0M4072 4412h0M2588 4408h0M2510 4410h0M3961 4423h0M2446 4422h0M4229 4405h0M3446 4418h0M1445 4403h0M2103 4409h0M2486 4423h0M2972 4413h0M918 4415h0M2985 4413h0M2288 4410h0M2862 4409h0M1506 4417h0M2994 4422h0M4171 4407h0M3906 4423h0M4007 4417h0M2813 4404h0M1593 4402h0M2294 4407h0M1881 4405h0M4126 4408h0M3626 4417h0M1514 4407h0M3447 4413h0M1713 4406h0M1876 4417h0M2249 4421h0M1318 4410h0M2101 4402h0M3091 4417h0M1585 4420h0M2735 4419h0M2682 4421h0M2886 4402h0M3349 4402h0M2621 4421h0M2941 4411h0M2607 4419h0M2100 4412h0M3607 4411h0M3565 4419h0M3974 4402h0M1327 4415h0M3683 4416h0M698 4421h0M822 4409h0M3403 4401h0M3116 4412h0M3483 4419h0M3629 4404h0M3181 4413h0M2812 4410h0M3271 4412h0M3693 4406h0M3987 4401h0M4056 4422h0M3952 4401h0M2418 4410h0M3318 4422h0M2317 4415h0M3210 4421h0M1956 4414h0M3483 4417h0M3140 4423h0M2176 4403h0M962 4402h0M2122 4401h0M2828 4403h0M4996 4405h0M4115 4408h0M4075 4422h0M2042 4409h0M3803 4421h0M1969 4415h0M3161 4411h0M2516 4407h0M3493 4414h0M807 4405h0M2509 4405h0M3008 4414h0M2194 4420h0M3639 4422h0M3503 4409h0M2000 4408h0M1693 4414h0M1328 4418h0M1219 4410h0M3731 4403h0M2290 4413h0M5033 4407h0M1846 4419h0M2131 4405h0M2780 4413h0M3205 4408h0M2355 4403h0M2819 4415h0M3056 4423h0M4760 4415h0M4152 4410h0M1733 4405h0M3467 4408h0M1344 4404h0M3281 4416h0M1904 4420h0M2715 4407h0M1867 4409h0M3260 4413h0M2441 4417h0M4206 4403h0M2872 4403h0M2352 4420h0M3137 4407h0M1795 4422h0M3571 4408h0M3431 4416h0M3028 4405h0M2267 4418h0M1792 4413h0M3090 4407h0M3988 4409h0M2250 4409h0M3103 4414h0M1242 4413h0M4214 4412h0M1416 4408h0M2482 4418h0M2325 4421h0M3209 4412h0M3866 4417h0M2405 4419h0M4915 4417h0M3208 4405h0M4063 4416h0M3044 4418h0M2874 4420h0M1625 4421h0M825 4407h0M3558 4403h0M927 4402h0M3619 4406h0M2694 4409h0M1989 4408h0M966 4412h0M3679 4409h0M3083 4420h0M4229 4413h0M3441 4409h0M1212 4405h0M3224 4419h0M3463 4401h0M3617 4418h0M3133 4418h0M2469 4414h0M2940 4406h0M3426 4406h0M2520 4406h0M1370 4402h0M3421 4412h0M3847 4420h0M2644 4412h0M1141 4421h0M2024 4415h0M2710 4417h0M3989 4406h0M3292 4403h0M3116 4416h0M1673 4418h0M4311 4421h0M3450 4424h0M1652 4405h0M1785 4414h0M3125 4408h0M4531 4409h0M3137 4410h0M3679 4413h0M4054 4407h0M4323 4423h0M3440 4408h0M3234 4416h0M3196 4402h0M3133 4417h0M2449 4413h0M850 4412h0M4280 4418h0M992 4408h0M4072 4406h0M2914 4412h0M2823 4409h0M2974 4421h0M1559 4411h0M3582 4401h0M1877 4419h0M2395 4421h0M4003 4418h0M2152 4423h0M3546 4412h0M2098 4410h0M2757 4416h0M826 4422h0M2259 4420h0M3489 4421h0M3753 4417h0M1107 4408h0M4521 4417h0M3054 4415h0M1497 4420h0M3792 4413h0M2186 4417h0M2914 4413h0M1599 4407h0M2251 4422h0M3281 4421h0M3553 4403h0M3049 4418h0M2654 4416h0M937 4422h0M4273 4408h0M4458 4400h0M5007 4415h0M752 4419h0M3792 4422h0M3832 4420h0M3119 4423h0M1780 4414h0M3582 4405h0M1748 4408h0M1789 4413h0M4031 4401h0M3026 4403h0M4046 4420h0M1668 4409h0M2658 4415h0M4376 4401h0M4202 4415h0M4129 4410h0M3600 4418h0M4236 4418h0M2057 4407h0M2921 4405h0M1398 4415h0M2233 4410h0M2642 4414h0M2094 4406h0M4196 4407h0M2676 4422h0M1385 4412h0M2438 4405h0M2988 4419h0M3453 4420h0M2083 4408h0M4322 4420h0M3093 4405h0M3026 4404h0M2451 4403h0M2770 4413h0"/>
<path id="b0_35" d="M2367 4884h0M3996 4874h0M3194 4890h0M2049 4889h0M3000 4869h0M1830 4874h0M4734 4886h0M2636 4880h0M3024 4877h0M3251 4886h0M2906 4878h0M3803 4880h0M4025 4884h0M3276 4886h0M2808 4890h0M3545 4884h0M3697 4870h0M2645 4877h0M1108 4880h0M1596 4881h0M1417 4883h0M3856 4888h0M3686 4876h0M3213 4889h0M2158 4885h0M3157 4880h0M3456 4873h0M4041 4890h0M3213 4887h0M3001 4887h0M1769 4873h0M2436 4882h0M4036 4888h0M2804 4885h0M4070 4876h0M3323 4876h0M3265 4887h0M3487 4889h0M2945 4882h0M1776 4888h0M2203 4867h0M4331 4880h0M2310 4876h0M3283 4885h0M1437 4884h0M1903 4870h0M2616 4889h0M2863 4881h0M4009 4875h0M2335 4879h0M2327 4872h0M2452 4876h0M2695 4876h0M1517 4870h0M4008 4888h0M3318 4877h0M3503 4870h0M4996 4884h0M2829 4890h0M4169 4889h0M2393 4879h0M3938 4880h0M2778 4880h0M2534 4890h0M3553 4881h0M3209 4876h0M2876 4882h0M2756 4886h0M2587 4872h0M3248 4881h0M3013 4868h0M1712 4888h0M2347 4888h0M2988 4884h0M2068 4868h0M2695 4890h0M3543 4873h0M3160 4872h0M2450 4879h0M3289 4885h0M3140 4872h0M3415 4882h0M3425 4875h0M2626 4870h0M3487 4884h0M2611 4890h0M3024 4884h0M4566 4869h0M3421 4876h0M2505 4882h0M3019 4873h0M3175 4872h0M3752 4868h0M2026 4869h0M2880 4879h0M3606 4870h0M2717 4886h0M4107 4872h0M3263 4871h0M2431 4868h0M3492 4872h0M3770 4867h0M3276 4886h0M3742 4875h0M2603 4889h0M3153 4874h0M3925 4870h0M3142 4871h0M3775 4878h0M3710 4875h0M2771 4888h0M2816 4877h0M2232 4867h0M1009 4870h0M2135 4869h0M4110 4874h0M3388 4889h0M2963 4886h0M3030 4868h0M3078 4868h0M2690 4874h0M3738 4882h0M2448 4888h0M2679 4870h0M1912 4871h0M1875 4869h0M1427 4880h0M3591 4872h0M3837 4879h0M3393 4890h0M3590 4877h0M2455 4868h0M3806 4887h0M3555 4872h0M3050 4869h0M3974 4874h0M2622 4889h0M3565 4879h0M3484 4880h0M3766 4876h0M3661 4887h0M3580 4874h0M2996 4890h0M2584 4869h0M2350 4884h0M4492 4876h0M3105 4874h0M2196 4878h0M3078 4869h0M2554 4884h0M3438 4888h0M2779 4867h0M2097 4871h0M3002 4886h0M3157 4881h0M3190 4874h0M2720 4884h0M2477 4874h0M3472 4875h0M2516 4877h0M3388 4889h0M2788 4875h0M2742 4882h0M3834 4888h0M2385 4877h0M3881 4890h0M3269 4885h0M4239 4887h0M2930 4885h0M2370 4884h0M4134 4873h0M1490 4887h0M4061 4881h0M2208 4874h0M3840 4884h0M3925 4871h0M2174 4871h0M3028 4869h0M1817 4884h0M1618 4879h0M2450 4881h0M3717 4886h0M2929 4869h0M2935 4882h0M3214 4870h0M2026 4874h0M3238 4883h0M2219 4877h0M2616 4870h0M2814 4868h0M4483 4882h0M3973 4882h0M2331 4875h0M2246 4875h0M4148 4883h0M3635 4887h0M2482 4882h0M2541 4871h0M4064 4884h0M3568 4872h0M1830 4875h0M3626 4887h0M3718 4872h0M2274 4878h0M2868 4885h0M3849 4875h0M2249 4881h0M3126 4887h0M1822 4872h0M3791 4886h0M3840 4868h0M2366 4869h0M2871 4887h0M3261 4868h0M2595 4879h0M3659 4879h0M3062 4889h0M3392 4883h0M2912 4885h0M2667 4870h0M1352 4884h0M3154 4890h0M2914 4879h0M2343 4875h0M2543 4885h0M4128 4879h0M2875 4885h0M3538 4874h0M1896 4881h0M740 4869h0M4035 4872h0M1954 4885h0M3834 4876h0M2534 4873h0M3571 4877h0M3871 4882h0M3855 4869h0M2605 4878h0M2636 4876h0M3940 4880h0M3216 4886h0M3100 4879h0M2363 4871h0M1653 4875h0M1866 4879h0M3884 4887h0"/>
<path id="b0_17" d="M3586 4448h0M3003 4464h0M1867 4465h0M923 4467h0M2004 4451h0M1256 4451h0M2042 4461h0M3362 4449h0M743 4462h0M2705 4463h0M3568 4459h0M3510 4460h0M3428 4459h0M3059 4467h0M2774 4467h0M2461 4457h0M4017 4469h0M2485 4464h0M3206 4470h0M3343 4450h0M1952 4470h0M4038 4450h0M1968 4464h0M4475 4463h0M3095 4451h0M2939 4448h0M3522 4455h0M2349 4457h0M3236 4451h0M2484 4465h0M1823 4454h0M2072 4457h0M2521 4462h0M2399 4448h0M3789 4469h0M2937 4462h0M4083 4468h0M2887 4464h0M2131 4455h0M1412 4458h0M3592 4468h0M1532 4462h0M2051 4457h0M3546 4460h0M3654 4460h0M4149 4458h0M2406 4469h0M2633 4464h0M3306 4463h0M3283 4461h0M3306 4459h0M807 4453h0M4416 4452h0M832 4456h0M2548 4469h0M3493 4453h0M2765 4469h0M3706 4457h0M3549 4456h0M2234 4467h0M1611 4459h0M4042 4448h0M3980 4468h0M3766 4461h0M2434 4465h0M2771 4447h0M3016 4460h0M4061 4451h0M966 4449h0M2585 4456h0M2136 4458h0M3724 4458h0M2503 4456h0M2998 4447h0M1504 4467h0M3658 4469h0M4129 4460h0M1994 4457h0M2074 4452h0M4250 4460h0M4081 4464h0M4153 4455h0M3754 4463h0M3078 4466h0M4203 4464h0M3004 4468h0M3898 4457h0M1885 4450h0M3192 4463h0M3253 4466h0M1027 4448h0M3029 4461h0M1265 4458h0M2911 4452h0M3276 4458h0M3544 4450h0M2982 4449h0M2055 4463h0M1806 4456h0M3150 4449h0M2000 4466h0M4022 4460h0M1601 4457h0M1934 4459h0M4042 4451h0M2459 4452h0M2169 4449h0M3882 4451h0M1771 4451h0M2675 4467h0M2330 4465h0M1924 4452h0M1694 4467h0M2890 4462h0M4604 4467h0M4148 4448h0M1383 4451h0M2149 4459h0M2028 4458h0M3728 4453h0M3628 4464h0M3027 4467h0M1169 4451h0M4067 4449h0M1618 4448h0M2766 4464h0M4004 4469h0M4185 4455h0M1409 4452h0M2860 4459h0M1097 4449h0M3699 4456h0M2562 4459h0M3572 4464h0M3627 4470h0M3311 4456h0M3756 4463h0M4237 4458h0M1856 4455h0M2011 4458h0M1461 4452h0M3844 4469h0M3786 4463h0M3258 4448h0M3760 4450h0M3586 4458h0M2013 4453h0M2463 4453h0M1034 4461h0M3138 4465h0M2227 4450h0M4123 4460h0M1900 4461h0M4052 4449h0M1833 4470h0M1310 4448h0M1712 4449h0M3727 4448h0M3452 4454h0M3446 4451h0M4015 4470h0M3797 4463h0M2341 4454h0M1494 4460h0M3935 4454h0M1337 4468h0M1929 4468h0M3502 4460h0M1845 4451h0M3564 4466h0M2901 4449h0M2208 4460h0M2332 4458h0M3317 4463h0M2430 4451h0M3345 4470h0M2459 4458h0M2488 4458h0M953 4467h0M2541 4466h0M4336 4451h0M4107 4455h0M3833 4455h0M3708 4453h0M1877 4449h0M1946 4459h0M3102 4449h0M4302 4454h0M3731 4470h0M2245 4456h0M2416 4463h0M1222 4464h0M3074 4448h0M4034 4458h0M1101 4454h0M2460 4448h0M2688 4452h0M4239 4461h0M4329 4448h0M1449 4468h0M3963 4455h0M2265 4448h0M1798 4461h0M1230 4467h0M1579 4461h0M3075 4458h0M4140 4459h0M1316 4470h0M4949 4455h0M1902 4456h0M1492 4451h0M2884 4469h0M4234 4455h0M4036 4451h0M3990 4455h0M1712 4458h0M2310 4454h0M1710 4462h0M1985 4459h0M3496 4447h0M4513 4452h0M1553 4456h0M3929 4465h0M1649 4457h0M1736 4461h0M2915 4450h0M3009 4466h0M3839 4458h0M2816 4451h0M2465 4459h0M4007 4454h0M4963 4452h0M2962 4459h0M2303 4462h0M1240 4462h0M2349 4468h0M942 4450h0M1224 4462h0M2261 4448h0M1398 4466h0M2756 4457h0M2437 4447h0M2261 4468h0M1279 4461h0M3041 4470h0M2045 4449h0M3374 4455h0M3921 4464h0M1538 4450h0M3136 4448h0M4165 4454h0M3278 4464h0M1516 4457h0M3644 4466h0M2565 4449h0M2808 4457h0M2731 4447h0M4206 4450h0M1355 4456h0M1133 4470h0M2683 4457h0M3737 4453h0M3912 4461h0M3214 4449h0M2343 4470h0M1989 4453h0M3973 4468h0M1236 4459h0M1639 4458h0M4129 4468h0M4141 4455h0M3774 4452h0M3068 4468h0M3628 4469h0M4434 4454h0M4410 4451h0M3109 4454h0M1065 4468h0M3377 4463h0M3581 4469h0M2846 4470h0M1469 4470h0M2527 4450h0M2122 4462h0M1615 4448h0M2909 4465h0M3826 4467h0M2263 4457h0M2721 4469h0M1521 4448h0M3303 4459h0M1683 4460h0M2337 4459h0M3431 4464h0M4207 4461h0M2742 4462h0M1547 4466h0M4383 4468h0M2265 4450h0M3087 4451h0M3397 4454h0M4029 4455h0M2268 4468h0M2884 4451h0M2154 4460h0M2590 4465h0M2846 4447h0M2478 4458h0M2068 4458h0M3551 4458h0M2926 4451h0M1064 4466h0M1884 4462h0M2637 4465h0M3594 4464h0M3934 4468h0M1925 4448h0M1259 4461h0M1111 4465h0M2395 4454h0M2007 4468h0M3715 4454h0M3214 4454h0M2847 4469h0M1400 4456h0M3785 4454h0M2130 4459h0M2587 4462h0M3506 4466h0M3985 4464h0M2630 4467h0M2897 4453h0M2084 4450h0M1484 4458h0M1516 4462h0M1888 4467h0M3307 4465h0M3357 4447h0M1746 4452h0M2057 4464h0M2742 4466h0M2300 4468h0M2697 4447h0M1595 4447h0M1767 4448h0M4292 4460h0M3663 4463h0M3311 4455h0M3991 4449h0M3669 4454h0M3330 4453h0M3919 4451h0M3593 4458h0M975 4451h0M4246 4447h0M4420 4452h0M2699 4464h0M3027 4448h0M1447 4462h0M3788 4459h0M4229 4453h0M3641 4448h0M2743 4467h0M3589 4451h0M3871 4448h0M2990 4461h0M3468 4465h0M3346 4451h0M4049 4456h0M3957 4465h0M2500 4464h0M3507 4470h0M3459 4466h0M2691 4460h0"/>
<path id="b0_38" d="M2376 4951h0M3877 4940h0M3145 4942h0M3517 4943h0M3111 4958h0M2505 4956h0M2702 4949h0M3847 4946h0M2711 4950h0M4025 4955h0M3653 4942h0M4105 4939h0M3407 4951h0M3062 4953h0M2493 4960h0M3161 4956h0M3516 4953h0M3812 4939h0M1105 4941h0M3569 4940h0M3247 4951h0M3715 4937h0M3966 4949h0M3641 4941h0M3225 4938h0M3245 4958h0M3800 4959h0M3548 4952h0M3388 4945h0M2953 4938h0M3759 4949h0M3265 4944h0M4121 4951h0M2664 4956h0M3730 4952h0M3240 4949h0M2068 4940h0M3589 4947h0M2565 4945h0M3868 4952h0M3502 4938h0M3366 4951h0M3944 4947h0M2571 4960h0M3260 4957h0M3620 4947h0M2898 4957h0M2960 4946h0M3939 4945h0M2251 4956h0M2536 4949h0M2616 4938h0M3803 4951h0M2305 4955h0M3810 4939h0M3015 4958h0M2902 4940h0M3408 4950h0M3287 4943h0M2520 4953h0M2509 4954h0M3908 4947h0M2966 4955h0M3416 4945h0M2504 4955h0M3326 4952h0M3149 4942h0M3530 4944h0M2649 4957h0M2724 4944h0M2408 4952h0M2818 4953h0M3770 4944h0M3080 4951h0M2673 4939h0M2998 4955h0M3164 4948h0M3548 4940h0M4141 4957h0M2004 4942h0M1933 4947h0M2394 4938h0M2932 4951h0M2755 4956h0M3420 4938h0M1715 4951h0M3843 4945h0M3137 4946h0M2740 4950h0M2963 4944h0M2407 4945h0M3512 4946h0M1587 4951h0M2621 4940h0M4052 4945h0"/>
<path id="b0_19" d="M3204 4513h0M2545 4511h0M3245 4498h0M1529 4509h0M3200 4508h0M4257 4502h0M3495 4511h0M1066 4513h0M1138 4500h0M1948 4514h0M3846 4494h0M3155 4517h0M2917 4496h0M1615 4516h0M2650 4510h0M1138 4494h0M2703 4496h0M3837 4500h0M1005 4516h0M2437 4496h0M3493 4496h0M4072 4494h0M2901 4496h0M2104 4507h0M4046 4497h0M4072 4516h0M3369 4498h0M2403 4506h0M2760 4497h0M3267 4496h0M4191 4499h0M1621 4516h0M3597 4507h0M1719 4495h0M3421 4498h0M4075 4504h0M2691 4501h0M3939 4494h0M4178 4498h0M1355 4512h0M2378 4514h0M2086 4513h0M3509 4509h0M1484 4513h0M4327 4515h0M1425 4513h0M4170 4515h0M1945 4515h0M2737 4508h0M1364 4503h0M3870 4502h0M1010 4508h0M4232 4514h0M4055 4496h0M3562 4503h0M1142 4499h0M1155 4511h0M4050 4513h0M4125 4510h0M1806 4504h0M2698 4515h0M2004 4505h0M935 4494h0M1219 4506h0M4265 4500h0M3843 4496h0M4146 4511h0M2702 4511h0M2475 4510h0M2920 4514h0M3852 4508h0M4149 4506h0M1300 4506h0M1564 4502h0M1977 4511h0M3712 4516h0M751 4509h0M2401 4506h0M3627 4505h0M1750 4507h0M2783 4498h0M3983 4508h0M3199 4504h0M4164 4500h0M3516 4496h0M1997 4511h0M4133 4508h0M2642 4496h0M3318 4510h0M2758 4512h0M2511 4507h0M3642 4495h0M4375 4497h0M2138 4496h0M1382 4503h0M2804 4500h0M3909 4516h0M3629 4494h0M1711 4501h0M2275 4511h0M2154 4513h0M4039 4496h0M4593 4500h0M2847 4513h0M1996 4509h0M3776 4498h0M2046 4504h0M1247 4509h0M3780 4512h0M2352 4511h0M4096 4500h0M4421 4498h0M842 4512h0M3910 4516h0M2162 4511h0M1617 4516h0M3027 4503h0M1736 4516h0M3678 4503h0M2889 4508h0M2739 4504h0M2390 4516h0M3931 4512h0M2744 4510h0M4410 4510h0M2279 4505h0M1627 4508h0M4029 4497h0M1991 4500h0M4074 4504h0M3320 4495h0M2461 4514h0M3046 4495h0M4013 4494h0M2740 4499h0M932 4503h0M2716 4516h0M1938 4506h0M4078 4513h0M3184 4514h0M4171 4496h0M2994 4497h0M3699 4508h0M2656 4511h0M2152 4505h0M3589 4506h0M2225 4496h0M2404 4510h0M3266 4515h0M3093 4511h0M2759 4498h0M3115 4513h0M4140 4500h0M3108 4511h0M1964 4499h0M4083 4501h0M2444 4509h0M2147 4513h0M2573 4495h0M1436 4508h0M3939 4512h0M1708 4512h0M4152 4498h0M2702 4505h0M2736 4517h0M1144 4501h0M2655 4503h0M1412 4495h0M3108 4511h0M3239 4503h0M2348 4508h0M2526 4495h0M3916 4499h0M4881 4512h0M1049 4515h0M2918 4504h0M1327 4496h0M2843 4514h0M2632 4503h0M3344 4511h0M3046 4507h0M3530 4497h0M3328 4499h0M1781 4498h0M3432 4499h0M2500 4499h0M1771 4509h0M4758 4505h0M2343 4503h0M1306 4499h0M1704 4504h0M3772 4514h0M3892 4498h0M3945 4500h0M3312 4499h0M4060 4499h0M2699 4512h0M3692 4498h0M2609 4505h0M3109 4496h0M1668 4516h0M3516 4514h0M2302 4503h0M1074 4503h0M2793 4502h0M2438 4495h0M1325 4500h0M3250 4507h0M1672 4514h0M1950 4502h0M2333 4514h0M3293 4501h0M2070 4502h0M3966 4500h0M3079 4495h0M2488 4496h0M1386 4501h0M2363 4499h0M4166 4507h0M1119 4516h0M3637 4494h0M4287 4500h0M3679 4499h0M3317 4502h0M4913 4509h0M1210 4506h0M3598 4505h0M1779 4514h0M1833 4511h0M1914 4506h0M4067 4516h0M2908 4508h0M2799 4499h0M1100 4514h0M1359 4515h0M2419 4510h0M1646 4494h0M4235 4509h0M3360 4499h0M1628 4504h0M3933 4512h0M3485 4510h0M2997 4502h0M2483 4507h0M3150 4494h0M4399 4514h0M1499 4507h0M3294 4511h0M3590 4502h0M2589 4497h0M3104 4505h0M1414 4504h0M1464 4499h0M3808 4517h0M1297 4505h0M785 4499h0M2912 4516h0M4535 4502h0M3093 4494h0M3285 4498h0M3461 4509h0M1983 4504h0M2063 4494h0M3227 4515h0M1072 4500h0M1601 4500h0M3218 4515h0M4776 4506h0M2970 4503h0M3941 4503h0M1696 4508h0M4107 4498h0M3616 4513h0M2796 4501h0M1910 4512h0M3805 4504h0M4113 4511h0M2855 4515h0M4076 4496h0M3000 4509h0M2988 4502h0M1982 4514h0M4264 4494h0M4016 4509h0M2580 4506h0M2084 4495h0M2077 4496h0M2423 4498h0M3110 4499h0M2961 4500h0M3837 4503h0M1588 4512h0M4100 4506h0M1819 4505h0M765 4502h0M2054 4498h0M4024 4511h0M2486 4506h0M2356 4507h0M3818 4495h0M2032 4500h0M3495 4512h0M1779 4498h0M903 4515h0M4053 4515h0M1977 4508h0M1281 4516h0M4855 4501h0M3900 4514h0M3255 4508h0M2882 4504h0M2540 4494h0M3981 4514h0M4797 4511h0M3926 4501h0M4128 4512h0M2719 4514h0M2851 4509h0M1970 4498h0M2863 4494h0M2670 4516h0M2165 4516h0M2331 4509h0M2854 4505h0M3168 4499h0M3138 4499h0M3659 4495h0M3917 4507h0M2845 4504h0M3095 4495h0M2065 4499h0M5158 4496h0M2292 4504h0M3935 4504h0M1278 4513h0M1112 4499h0M4168 4517h0M3320 4497h0M2102 4499h0M3014 4510h0M1830 4507h0M2138 4494h0M4104 4509h0M1626 4510h0M3807 4499h0M1819 4500h0M2705 4499h0M1777 4507h0M3771 4505h0M3305 4495h0M3257 4498h0M3365 4494h0M2390 4516h0M3675 4504h0M4506 4497h0M2801 4500h0M4097 4510h0M1583 4505h0M3641 4501h0M4059 4516h0M3346 4514h0M992 4512h0"/>
<path id="b0_34" d="M2203 4860h0M3566 4865h0M2479 4856h0M2770 4844h0M3756 4855h0M3290 4860h0M1642 4854h0M3617 4863h0M2250 4851h0M2693 4856h0M4003 4849h0M3472 4849h0M2760 4854h0M3754 4863h0M2179 4862h0M2264 4846h0M2765 4857h0M3792 4865h0M2876 4861h0M2915 4862h0M3606 4856h0M2018 4855h0M3203 4859h0M3297 4846h0M2540 4860h0M2875 4862h0M3662 4863h0M3207 4863h0M2999 4854h0M2969 4855h0M3964 4854h0M4164 4857h0M3142 4854h0M1960 4865h0M3935 4857h0M3924 4861h0M2456 4847h0M3859 4852h0M1818 4859h0M3247 4847h0M2159 4859h0M2960 4845h0M3736 4865h0M3484 4864h0M2759 4854h0M4001 4851h0M3970 4849h0M2152 4849h0M3779 4847h0M2315 4859h0M1927 4854h0M2844 4845h0M3755 4865h0M3868 4860h0M2598 4852h0M3572 4853h0M4124 4844h0M3266 4858h0M2617 4850h0M3599 4848h0M2638 4854h0M2721 4852h0M4428 4849h0M1496 4866h0M3947 4852h0M2659 4847h0M2410 4851h0M3633 4862h0M2677 4850h0M2620 4848h0M2133 4865h0M2921 4849h0M3744 4860h0M3478 4857h0M2386 4861h0M2738 4859h0M3022 4847h0M2790 4849h0M2904 4845h0M4282 4849h0M3935 4865h0M3746 4857h0M2791 4866h0M3216 4861h0M2346 4865h0M2146 4854h0M3286 4849h0M4287 4857h0M2112 4861h0M4161 4855h0M3910 4862h0M4113 4857h0M2678 4861h0M2880 4860h0M3857 4853h0M2829 4858h0M2641 4848h0M3419 4865h0M3689 4857h0M3053 4860h0M2828 4861h0M1926 4857h0M3807 4853h0M2429 4856h0M4323 4860h0M2583 4866h0M3242 4856h0M3798 4861h0M3924 4856h0M2901 4859h0M2500 4866h0M2812 4850h0M3654 4853h0M2200 4857h0M1484 4861h0M2262 4856h0M2823 4866h0M2855 4855h0M3102 4846h0M2558 4853h0M4188 4860h0M3223 4851h0M2175 4846h0M2549 4857h0M2129 4859h0M2437 4847h0M3389 4852h0M2121 4867h0M2113 4858h0M2868 4853h0M3570 4857h0M2108 4847h0M2853 4857h0M3915 4863h0M3660 4860h0M2208 4866h0M3522 4856h0M2449 4857h0M3511 4857h0M2259 4856h0M3321 4865h0M2080 4849h0M2226 4866h0M2610 4859h0M3407 4867h0M1962 4860h0M3889 4851h0M3243 4858h0M3227 4866h0M2999 4858h0M2252 4845h0M3949 4863h0M3421 4852h0M1627 4864h0M1969 4854h0M2522 4855h0M3692 4846h0M2632 4844h0M3974 4862h0M1946 4849h0M1202 4849h0M3461 4845h0M2399 4848h0M2426 4857h0M3404 4850h0M3819 4859h0M1540 4861h0M2164 4844h0M2892 4863h0M2478 4852h0M2023 4849h0M3877 4845h0M3515 4861h0M3252 4850h0M3059 4848h0M1473 4858h0M2405 4851h0M1808 4854h0M1683 4863h0M2227 4863h0M2724 4855h0M3246 4847h0M3955 4865h0M2172 4853h0M3748 4856h0M3912 4866h0M2743 4857h0M2910 4848h0M2264 4864h0M2290 4845h0M2613 4851h0M3549 4858h0M2257 4851h0M3582 4852h0M1064 4844h0M2229 4853h0M2415 4864h0M3217 4863h0M3924 4863h0M1555 4860h0M2336 4865h0M3561 4847h0M4065 4856h0M3412 4856h0M3545 4847h0M3259 4856h0M2097 4851h0M3928 4864h0M3776 4849h0M2750 4856h0M3555 4847h0M3181 4855h0M2203 4849h0M3851 4863h0M3847 4847h0M3722 4852h0M2229 4860h0M3760 4844h0M2635 4861h0M3014 4848h0M4224 4845h0M2286 4844h0M4015 4851h0"/>
<path id="b0_5" d="M1662 4168h0M1804 4181h0M807 4190h0M3057 4185h0M1903 4179h0M3542 4178h0M3923 4186h0M3978 4167h0M999 4182h0M3898 4180h0M2658 4178h0M3571 4190h0M3163 4176h0M1731 4170h0M2289 4168h0M2576 4182h0M2615 4186h0M3529 4176h0M2626 4169h0M3828 4175h0M3029 4188h0M783 4173h0M3212 4172h0M1771 4170h0M1411 4169h0M1426 4181h0M3251 4183h0M2784 4171h0M2234 4186h0M2718 4173h0M2554 4172h0M1396 4182h0M1869 4174h0M1613 4185h0M3510 4169h0M4161 4180h0M3035 4170h0M2204 4180h0M2293 4183h0M2507 4173h0M2973 4177h0M2702 4183h0M3917 4169h0M2815 4175h0M2712 4178h0M2437 4172h0M2325 4178h0M2948 4178h0M3513 4183h0M3732 4180h0M3283 4168h0M2417 4188h0M2592 4180h0M3436 4175h0M2295 4183h0M3001 4186h0M1544 4180h0M2791 4186h0M1723 4180h0M3850 4183h0M2997 4167h0M2141 4170h0M1613 4170h0M1900 4176h0M3197 4184h0M1014 4177h0M3125 4171h0M2162 4179h0M2895 4177h0M3584 4169h0M2771 4187h0M1802 4177h0M1252 4171h0M1574 4189h0M2389 4176h0M1512 4186h0M3782 4185h0M3491 4183h0M2765 4168h0M1916 4172h0M2979 4172h0M1585 4189h0M1184 4177h0M3300 4181h0M2641 4174h0M1944 4185h0M3881 4178h0M2192 4182h0M2882 4172h0M4863 4177h0M2246 4173h0M3085 4176h0M2953 4168h0M1675 4174h0M1205 4181h0M3851 4189h0M2666 4176h0M3694 4179h0M708 4188h0M2279 4167h0M3856 4181h0M2617 4177h0M3888 4189h0M3274 4175h0M3653 4171h0M2960 4167h0M1065 4174h0M1740 4182h0M3812 4185h0M1263 4173h0M3462 4180h0M3937 4170h0M3105 4176h0M2016 4172h0M941 4172h0M4617 4175h0M1619 4185h0M1943 4176h0M3612 4175h0M3649 4186h0M3527 4179h0M1999 4190h0M3159 4180h0M3915 4169h0M1750 4184h0M3754 4185h0M1160 4169h0M2562 4168h0M3536 4171h0M2018 4188h0M4018 4179h0M4151 4181h0M3460 4186h0M3580 4177h0M3824 4186h0M3894 4186h0M3575 4185h0M3745 4180h0M1353 4178h0M3297 4185h0M2551 4169h0M3769 4177h0M1756 4171h0M3780 4185h0M2406 4175h0M2898 4170h0M2090 4185h0M2470 4170h0M1384 4179h0M1811 4171h0M2427 4168h0M2571 4182h0M2060 4178h0M1906 4183h0M2804 4170h0M2472 4190h0M2423 4170h0M1641 4178h0M3638 4189h0M3794 4171h0M1646 4168h0M2430 4178h0M2684 4177h0M1318 4179h0M1711 4169h0M1621 4181h0M2325 4175h0M3373 4176h0M3547 4176h0M1838 4182h0M1545 4176h0M3696 4174h0M3575 4169h0M3873 4182h0M1314 4190h0M3158 4173h0M1488 4171h0M762 4189h0M1382 4182h0M3270 4173h0M3682 4184h0M2267 4179h0M3864 4179h0M1462 4181h0M2560 4189h0M1278 4170h0M2403 4169h0M2029 4183h0M3026 4175h0M2286 4171h0M3046 4187h0M1664 4177h0M1209 4182h0M1981 4188h0M2508 4186h0M2573 4188h0M2332 4178h0M746 4183h0M2253 4170h0M3606 4172h0M3028 4169h0M1785 4181h0M3055 4170h0M1773 4167h0M1717 4189h0M3159 4189h0M1343 4175h0M1277 4184h0M1637 4176h0M1926 4175h0"/>
<path id="b0_23" d="M1399 4604h0M3029 4609h0M4193 4595h0M1736 4596h0M3948 4601h0M3246 4601h0M3789 4601h0M3682 4601h0M2367 4587h0M2369 4603h0M2346 4592h0M4022 4600h0M1389 4607h0M1676 4608h0M3778 4589h0M2779 4590h0M2642 4598h0M1752 4597h0M1365 4596h0M3554 4610h0M2542 4604h0M4016 4601h0M3983 4587h0M1662 4597h0M3457 4607h0M4148 4596h0M1796 4609h0M3559 4595h0M3300 4590h0M1452 4600h0M2047 4593h0M3297 4597h0M2575 4602h0M2232 4600h0M2216 4602h0M1263 4596h0M3261 4598h0M3224 4596h0M1441 4589h0M1840 4591h0M3239 4594h0M3750 4594h0M2472 4604h0M3383 4596h0M819 4596h0M1680 4608h0M3960 4596h0M3197 4587h0M2411 4590h0M1461 4602h0M2863 4609h0M2703 4606h0M3026 4602h0M1503 4596h0M3455 4606h0M3865 4592h0M2481 4601h0M3256 4603h0M3271 4591h0M1431 4594h0M2369 4610h0M1387 4602h0M3198 4606h0M1451 4609h0M2744 4606h0M3971 4595h0M1807 4598h0M2493 4602h0M3892 4606h0M3068 4591h0M689 4588h0M2603 4609h0M3381 4589h0M1145 4606h0M3508 4605h0M1269 4605h0M3144 4590h0M1889 4602h0M2859 4609h0M1392 4592h0M2277 4604h0M4179 4599h0M2533 4594h0M3601 4587h0M2115 4593h0M3867 4605h0M2147 4608h0M4694 4600h0M2093 4597h0M4189 4607h0M3793 4605h0M1220 4602h0M1377 4592h0M809 4601h0M2539 4590h0M1406 4593h0M3676 4604h0M3625 4604h0M3621 4610h0M3787 4609h0M829 4600h0M2139 4607h0M3258 4607h0M2967 4609h0M3557 4600h0M1773 4588h0M1445 4601h0M1604 4597h0M4572 4608h0M1479 4610h0M1410 4592h0M3910 4589h0M4164 4597h0M2758 4592h0M3497 4596h0M2141 4609h0M1834 4601h0M4163 4599h0M3164 4589h0M3233 4596h0M1848 4603h0M3339 4596h0M1799 4604h0M1146 4604h0M3300 4598h0M1851 4595h0M1760 4593h0M1412 4610h0M1851 4599h0M2235 4607h0M3775 4593h0M3183 4603h0M1960 4595h0M2444 4607h0M3412 4594h0M3460 4599h0M1660 4588h0M4160 4591h0M4674 4590h0M3674 4600h0M2573 4606h0M1931 4607h0M3017 4604h0M1427 4610h0M2095 4599h0M1221 4590h0M3593 4588h0M3059 4598h0M1192 4606h0M4428 4594h0M2197 4607h0M1541 4594h0M2630 4590h0M3437 4597h0M2420 4593h0M2983 4596h0M1298 4595h0M3654 4606h0M3860 4593h0M1506 4589h0M4394 4603h0M2048 4603h0M1242 4609h0M3028 4597h0M2027 4589h0M1292 4594h0M3735 4587h0M1334 4591h0M3755 4590h0M2754 4608h0M3691 4593h0M2213 4601h0M4011 4606h0M2614 4606h0M1844 4609h0M2483 4599h0M4183 4599h0M3456 4587h0M1351 4593h0M1962 4596h0M3452 4598h0M1677 4587h0M3887 4606h0M4125 4596h0M4388 4601h0M1110 4600h0M2244 4602h0M4025 4590h0M3259 4606h0M2878 4603h0M2105 4606h0M2803 4596h0M4109 4603h0M3215 4602h0M1169 4604h0M1384 4590h0M1862 4608h0M3893 4600h0M1407 4588h0M3494 4600h0M3703 4608h0M3273 4602h0M1525 4599h0M3080 4594h0M1951 4589h0M3210 4604h0M789 4609h0M1553 4593h0M4354 4599h0M1570 4596h0M3429 4608h0M1698 4603h0M3425 4609h0M4433 4600h0M1520 4593h0M855 4596h0M4088 4597h0M2649 4602h0M3908 4600h0M3071 4588h0M2486 4599h0M2484 4608h0M2807 4598h0M3601 4597h0M1153 4605h0M1383 4609h0M1497 4600h0M3736 4596h0M1770 4610h0M2623 4604h0M1853 4607h0M1725 4589h0M2941 4592h0M3339 4608h0M2408 4599h0M3075 4590h0M3186 4610h0M4280 4605h0M4117 4593h0M3473 4610h0M3824 4594h0M1809 4609h0M1396 4603h0M3674 4592h0M1913 4604h0M3667 4604h0M3853 4588h0M3614 4610h0M3858 4604h0M3753 4608h0M3903 4588h0M1735 4591h0M3508 4593h0M3070 4589h0M3913 4610h0M2832 4597h0M1902 4588h0M1704 4600h0M2851 4607h0M2651 4605h0M2026 4600h0M1354 4610h0M1957 4598h0M2839 4598h0M768 4604h0M4141 4601h0M3505 4601h0M2442 4597h0M1325 4596h0M3078 4596h0M3540 4597h0M2716 4604h0M2572 4596h0M4575 4594h0M2748 4589h0M3714 4599h0M1584 4598h0M2517 4588h0M1344 4598h0M3782 4602h0M2581 4596h0M1369 4591h0M3927 4603h0M3685 4603h0M4190 4593h0M2304 4599h0M1750 4595h0M2729 4595h0M4214 4608h0M3632 4591h0M3165 4602h0M3075 4596h0M1814 4592h0M3014 4605h0M1187 4598h0M1967 4599h0M3352 4593h0M2736 4609h0M1467 4605h0M1560 4598h0M2739 4588h0M4151 4598h0M2119 4589h0M2192 4595h0M1627 4601h0M2272 4593h0M972 4595h0M2413 4593h0M1191 4604h0M4134 4600h0M2924 4599h0M2871 4604h0M2327 4609h0M4006 4594h0M3487 4610h0M1692 4605h0M1817 4592h0M1417 4604h0M1805 4596h0M3867 4591h0M4802 4609h0M3175 4592h0M2935 4605h0M3959 4604h0M3050 4600h0M3366 4596h0M1292 4596h0M3334 4605h0M2546 4596h0M3058 4588h0M3099 4588h0M3381 4608h0M2925 4606h0M3063 4596h0M3002 4608h0M1875 4603h0M795 4606h0M1938 4594h0M3414 4591h0M3816 4604h0M3549 4590h0M1773 4603h0M3670 4589h0M2773 4596h0M3955 4597h0M1436 4602h0M2339 4593h0M2502 4597h0M1168 4596h0M2598 4591h0M1505 4603h0M4374 4606h0M2100 4589h0M4259 4606h0M2268 4596h0M1801 4592h0M2083 4592h0M3377 4602h0M2988 4592h0M4134 4603h0M4123 4609h0M1899 4599h0M3484 4604h0M3049 4606h0M2668 4597h0M2154 4588h0M4064 4590h0M3574 4609h0M2300 4605h0M3056 4597h0"/>
<path id="b0_28" d="M3102 4726h0M2376 4706h0M1930 4710h0M1914 4720h0M2037 4708h0M2500 4721h0M3795 4704h0M3741 4712h0M2294 4718h0M2689 4713h0M3020 4713h0M3049 4704h0M4206 4710h0M2904 4718h0M2521 4711h0M3503 4716h0M3745 4708h0M3684 4721h0M2456 4706h0M3014 4715h0M2568 4705h0M3896 4719h0M2091 4710h0M1838 4723h0M3985 4720h0M3075 4713h0M2341 4712h0M4183 4715h0M2101 4712h0M2176 4712h0M2603 4724h0M3334 4716h0M2861 4712h0M2414 4715h0M3698 4718h0M2763 4720h0M1203 4725h0M2511 4705h0M3017 4709h0M3369 4725h0M3294 4725h0M2515 4708h0M2443 4718h0M2286 4709h0M2438 4721h0M2473 4707h0M3885 4716h0M3821 4721h0M2306 4708h0M3600 4723h0M2089 4717h0M2682 4720h0M2210 4706h0M2518 4715h0M3519 4718h0M2863 4727h0M3684 4708h0M3291 4712h0M2472 4719h0M4220 4714h0M3106 4725h0M2091 4715h0M4118 4712h0M3564 4725h0M1693 4706h0M3750 4712h0M1829 4718h0M3123 4724h0M2883 4706h0M2829 4715h0M4037 4721h0M1310 4708h0M4037 4711h0M2510 4727h0M3175 4710h0M3968 4726h0M3177 4722h0M4154 4712h0M1047 4718h0M3954 4721h0M1859 4706h0M2332 4716h0M2805 4709h0M3353 4712h0M3288 4723h0M2170 4713h0M3316 4719h0M2586 4715h0M3154 4711h0M2718 4714h0M2379 4711h0M3940 4722h0M2839 4713h0M3203 4713h0M3788 4707h0M4063 4720h0M2878 4717h0M2668 4714h0M3801 4726h0M3126 4716h0M3108 4711h0M2684 4711h0M2131 4706h0M3176 4714h0M2431 4727h0M3816 4705h0M4058 4718h0M1787 4716h0M2729 4719h0M3128 4718h0M3493 4713h0M3814 4704h0M4035 4715h0M3047 4720h0M3371 4715h0M4155 4704h0M2648 4724h0M3995 4707h0M3368 4719h0M3927 4718h0M3780 4717h0M2203 4712h0M2553 4708h0M3163 4708h0M3801 4713h0M1775 4719h0M3232 4716h0M3637 4710h0M2246 4724h0M3880 4719h0M2828 4714h0M1375 4706h0M2083 4705h0M3463 4710h0M3650 4722h0M2954 4712h0M4523 4707h0M3078 4713h0M2406 4713h0M2488 4723h0M2031 4723h0M3443 4712h0M4176 4724h0M3370 4716h0M2223 4720h0M2763 4716h0M4094 4714h0M4078 4710h0M3753 4704h0M2270 4721h0M2458 4707h0M4002 4725h0M2146 4706h0M3810 4719h0M4020 4721h0M3720 4708h0M3257 4723h0M2493 4724h0M2786 4707h0M3244 4714h0M3030 4708h0M3195 4716h0M1343 4706h0M3025 4715h0M2742 4715h0M3351 4708h0M3988 4715h0M3880 4704h0M2378 4711h0M1418 4711h0M3399 4709h0M3387 4711h0M1493 4720h0M3771 4720h0M3482 4705h0M1592 4719h0M2084 4727h0M2781 4726h0M3642 4722h0M3795 4718h0M2649 4725h0M2768 4708h0M2908 4712h0M3295 4722h0M3952 4716h0M692 4725h0M2036 4713h0M2671 4722h0M755 4719h0M1537 4705h0M3537 4710h0M3357 4720h0M3467 4722h0M4081 4709h0M3296 4726h0M2936 4708h0M2734 4709h0M2914 4708h0M3804 4712h0M3616 4726h0M2383 4724h0M3951 4704h0M2938 4718h0M2569 4713h0M3198 4720h0M1546 4715h0M2619 4710h0M2108 4709h0M4146 4708h0M3558 4716h0M3260 4724h0M4166 4707h0M3044 4721h0M2124 4726h0M2942 4714h0M1286 4704h0M2816 4714h0M3196 4704h0M3640 4716h0M3654 4705h0M2881 4708h0M3481 4726h0M3853 4718h0M2092 4713h0M2731 4712h0M3286 4708h0M3222 4723h0M2796 4712h0M2947 4704h0M3121 4705h0M2063 4710h0M2110 4714h0M2661 4711h0M3834 4721h0M2735 4704h0M3702 4718h0M2734 4708h0M1937 4719h0M2731 4726h0M3625 4718h0M2618 4710h0M3871 4707h0M3587 4707h0M3153 4715h0M2530 4715h0M2999 4724h0M3094 4713h0M1843 4711h0M2785 4712h0M3737 4713h0M4183 4717h0M2245 4716h0M3359 4708h0M2829 4710h0M2629 4709h0M2984 4710h0M3581 4705h0M2600 4710h0M2787 4705h0M2922 4707h0M2982 4715h0M5047 4712h0M2723 4723h0M3401 4709h0"/>
<path id="b0_37" d="M3203 4932h0M2212 4917h0M3430 4916h0M3639 4922h0M4561 4928h0M3957 4935h0M3774 4929h0M3456 4922h0M3755 4915h0M3360 4934h0M4524 4914h0M2077 4934h0M3462 4915h0M3064 4916h0M2518 4921h0M2236 4926h0M2318 4925h0M3892 4915h0M3672 4930h0M3444 4915h0M4054 4919h0M3885 4914h0M2966 4917h0M2734 4922h0M3756 4926h0M2650 4936h0M3070 4928h0M3864 4936h0M2795 4915h0M2440 4915h0M2761 4921h0M3770 4922h0M3865 4935h0M2778 4916h0M2994 4933h0M2978 4918h0M4787 4919h0M2294 4923h0M3559 4927h0M2397 4934h0M2903 4935h0M3398 4920h0M4491 4931h0M2591 4914h0M4117 4919h0M3026 4930h0M3248 4933h0M2806 4932h0M3437 4934h0M3805 4931h0M3045 4915h0M2712 4929h0M2914 4931h0M1311 4925h0M3134 4920h0M2766 4933h0M2844 4914h0M3218 4934h0M2954 4924h0M2753 4934h0M3950 4927h0M1973 4928h0M3096 4918h0M2702 4934h0M3701 4927h0M2297 4920h0M2710 4932h0M3854 4920h0M2531 4919h0M3625 4915h0M3383 4934h0M2480 4923h0M2793 4916h0M2668 4927h0M3493 4930h0M3264 4931h0M2848 4935h0M2857 4928h0M3215 4927h0M3265 4924h0M2844 4922h0M2937 4920h0M2316 4934h0M2688 4914h0M2840 4929h0M2302 4914h0M3350 4922h0M1664 4929h0M3278 4914h0M2309 4920h0M2768 4917h0M3544 4930h0M3973 4916h0M3735 4932h0M2632 4933h0M3282 4917h0M2608 4927h0M3269 4930h0M2881 4935h0M3640 4923h0M1848 4927h0M2862 4936h0"/>
<path id="b0_6" d="M2010 4191h0M1985 4201h0M2269 4210h0M1574 4195h0M3581 4208h0M1771 4192h0M3093 4204h0M865 4204h0M2286 4208h0M3157 4202h0M2632 4191h0M2065 4199h0M2705 4202h0M1469 4194h0M856 4211h0M2405 4195h0M4043 4207h0M3832 4200h0M1190 4208h0M2533 4203h0M1872 4204h0M2736 4213h0M3714 4194h0M2256 4209h0M2822 4195h0M1459 4204h0M3787 4206h0M3572 4204h0M1278 4208h0M1109 4194h0M3944 4194h0M2708 4209h0M3754 4207h0M939 4208h0M2140 4192h0M4064 4201h0M3847 4204h0M1854 4198h0M3166 4200h0M3159 4192h0M1484 4207h0M694 4213h0M1482 4199h0M3640 4210h0M3316 4211h0M903 4191h0M4326 4198h0M3741 4195h0M3202 4202h0M2588 4209h0M2982 4193h0M1533 4206h0M1958 4211h0M3668 4206h0M3624 4197h0M3307 4204h0M1374 4198h0M3276 4194h0M1151 4204h0M3673 4209h0M3671 4199h0M2356 4198h0M2796 4201h0M3723 4211h0M2502 4205h0M1594 4198h0M1066 4190h0M5066 4209h0M1701 4207h0M1537 4203h0M2247 4205h0M3951 4195h0M2056 4206h0M2394 4211h0M2426 4199h0M2005 4211h0M2117 4204h0M797 4204h0M1985 4201h0M2388 4194h0M2808 4197h0M2233 4207h0M1322 4194h0M1704 4211h0M2933 4190h0M2672 4211h0M3844 4197h0M1401 4208h0M1519 4200h0M2921 4191h0M1376 4202h0M1999 4209h0M3119 4202h0M3336 4206h0M2488 4191h0M3922 4198h0M3900 4207h0M2430 4194h0M2013 4201h0M2826 4201h0M1509 4192h0M2521 4203h0M3183 4209h0M2217 4208h0M3850 4192h0M1308 4201h0M2054 4213h0M3755 4211h0M3707 4197h0M2332 4204h0M3093 4195h0M1631 4196h0M1201 4194h0M3580 4191h0M1096 4192h0M3125 4201h0M1903 4191h0M3221 4191h0M3222 4204h0M1431 4195h0M2696 4193h0M4819 4193h0M1388 4199h0M2032 4212h0M3407 4202h0M2262 4210h0M2636 4202h0M3528 4206h0M2707 4197h0M733 4195h0M3885 4191h0M1498 4191h0M2551 4190h0M2459 4207h0M2897 4213h0M3210 4201h0M1283 4193h0M1348 4199h0M3910 4211h0M1931 4206h0M3644 4200h0M2670 4197h0M2683 4210h0M1256 4212h0M958 4196h0M2371 4203h0M2422 4199h0M1552 4191h0M1709 4200h0M1987 4200h0M3263 4196h0M1977 4191h0M1671 4210h0M1213 4200h0M1700 4193h0M3134 4200h0M1325 4192h0M1274 4201h0M2665 4207h0M2120 4196h0M1920 4192h0M3472 4209h0M1519 4212h0M2793 4190h0M1829 4193h0M2476 4208h0M2456 4208h0M2432 4191h0M3428 4212h0M5073 4201h0M1629 4200h0M3510 4209h0M4650 4194h0M2891 4211h0M2474 4208h0M3652 4194h0M3115 4196h0M2104 4200h0M3931 4196h0M1330 4195h0M2936 4203h0M2247 4199h0M3586 4192h0M2783 4195h0M3722 4194h0M1852 4205h0M1004 4203h0M2182 4212h0"/>
<path id="b0_30" d="M2411 4759h0M3594 4758h0M2924 4769h0M3774 4755h0M2492 4756h0M3662 4762h0M3962 4759h0M3428 4767h0M2868 4772h0M3097 4766h0M2978 4756h0M4082 4755h0M2308 4772h0M4835 4756h0M4517 4767h0M1359 4753h0M3086 4763h0M3449 4754h0M2289 4761h0M715 4772h0M2190 4754h0M3776 4752h0M3127 4755h0M3138 4759h0M3927 4773h0M3279 4758h0M4609 4760h0M2505 4758h0M2487 4771h0M2772 4768h0M2977 4754h0M1485 4772h0M2052 4753h0M3401 4763h0M2724 4774h0M2739 4759h0M3199 4773h0M4083 4758h0M1964 4759h0M2886 4773h0M3733 4765h0M3555 4759h0M2574 4753h0M4236 4764h0M2891 4765h0M1659 4764h0M2605 4763h0M3551 4760h0M3821 4753h0M2881 4752h0M2883 4770h0M2916 4751h0M2889 4761h0M3761 4763h0M3037 4755h0M3522 4755h0M1404 4767h0M3513 4763h0M2403 4767h0M1495 4768h0M4445 4767h0M3290 4753h0M3441 4754h0M1792 4756h0M2649 4766h0M2469 4760h0M2263 4759h0M2839 4763h0M1411 4764h0M2858 4756h0M2710 4766h0M2467 4768h0M3117 4755h0M1513 4761h0M2563 4760h0M3430 4760h0M3178 4770h0M3484 4765h0M3467 4753h0M3260 4754h0M1329 4757h0M1518 4764h0M3689 4767h0M3222 4757h0M2742 4770h0M2167 4761h0M2374 4763h0M2481 4754h0M3712 4760h0M3031 4751h0M3238 4765h0M2248 4768h0M2722 4760h0M2242 4772h0M3365 4755h0M3632 4765h0M2001 4763h0M2321 4761h0M3428 4761h0M3987 4769h0M3841 4773h0M1206 4767h0M2766 4771h0M3026 4759h0M3026 4773h0M2783 4761h0M3206 4764h0M3169 4761h0M2563 4766h0M2568 4774h0M2639 4760h0M1908 4757h0M3773 4754h0M3537 4760h0M1835 4762h0M3497 4757h0M3726 4758h0M4099 4772h0M3453 4768h0M2817 4759h0M3265 4762h0M2027 4759h0M3670 4757h0M2518 4773h0M2711 4752h0M3559 4758h0M2648 4764h0M2453 4753h0M2023 4768h0M3551 4772h0M3088 4762h0M1819 4753h0M1493 4756h0M2677 4763h0M2429 4771h0M1500 4755h0M3017 4763h0M2300 4769h0M2416 4774h0M2769 4771h0M3838 4762h0M2493 4761h0M2341 4773h0M3934 4754h0M2988 4762h0M2479 4761h0M3969 4755h0M3921 4769h0M3130 4755h0M3523 4769h0M2913 4767h0M2823 4753h0M4146 4765h0M1661 4760h0M3577 4763h0M3177 4761h0M2042 4757h0M2420 4772h0M3534 4771h0M3441 4762h0M3634 4756h0M3090 4763h0M2005 4773h0M2389 4768h0M3954 4771h0M3588 4760h0M1422 4755h0M2778 4759h0M4600 4759h0M2333 4766h0M2391 4753h0M2314 4751h0M1958 4759h0M3817 4765h0M3440 4758h0M3792 4772h0M3893 4764h0M2212 4759h0M3661 4767h0M1928 4758h0M2161 4759h0M1892 4761h0M3021 4769h0M3575 4773h0M2976 4759h0M2896 4766h0M2831 4752h0M3556 4752h0M3496 4771h0M3763 4751h0M3853 4756h0M3232 4757h0M2173 4771h0M3186 4759h0M2701 4751h0M2641 4766h0M2101 4761h0M3191 4766h0M2541 4773h0M3417 4771h0M2058 4758h0M3820 4756h0M2316 4771h0M2469 4756h0M2994 4751h0M2858 4758h0M3164 4751h0M2797 4757h0M3556 4762h0M3524 4772h0M3825 4763h0M2635 4771h0M2264 4765h0M1882 4758h0M2010 4773h0M2351 4760h0M1000 4763h0"/>
<path id="b0_11" d="M4100 4328h0M2114 4325h0M3168 4322h0M3528 4315h0M3820 4313h0M3411 4319h0M2315 4321h0M3574 4324h0M1784 4316h0M733 4322h0M1834 4310h0M3827 4312h0M2747 4330h0M2512 4316h0M3942 4307h0M2217 4310h0M2980 4324h0M1743 4327h0M1539 4327h0M3509 4327h0M4526 4323h0M3196 4316h0M4666 4316h0M2581 4321h0M785 4314h0M2360 4309h0M4722 4312h0M1336 4311h0M3682 4326h0M3246 4324h0M1425 4312h0M3788 4312h0M1563 4328h0M3210 4319h0M3265 4321h0M1555 4315h0M1513 4330h0M4041 4324h0M2449 4325h0M2618 4312h0M3082 4324h0M2481 4317h0M4699 4320h0M894 4315h0M2793 4313h0M4490 4325h0M1352 4327h0M3441 4321h0M3889 4309h0M1360 4317h0M2935 4322h0M1453 4326h0M3494 4325h0M1722 4320h0M3928 4317h0M1021 4326h0M3590 4311h0M1916 4318h0M3308 4314h0M4321 4328h0M1905 4321h0M1223 4312h0M3744 4320h0M2932 4323h0M4120 4325h0M3452 4307h0M1705 4309h0M1569 4323h0M3257 4329h0M4575 4312h0M2021 4309h0M3323 4330h0M4768 4311h0M1341 4318h0M2637 4323h0M2326 4315h0M3147 4327h0M3089 4314h0M2934 4321h0M4137 4325h0M3508 4322h0M2011 4313h0M1065 4330h0M2429 4310h0M1685 4325h0M3213 4317h0M2888 4311h0M2112 4326h0M2407 4319h0M3090 4313h0M3680 4328h0M4577 4311h0M1677 4323h0M1560 4314h0M3600 4324h0M2091 4313h0M4666 4312h0M2146 4321h0M2359 4310h0M949 4315h0M1731 4317h0M2808 4322h0M687 4326h0M2799 4314h0M3734 4309h0M3123 4318h0M2199 4325h0M3244 4323h0M1600 4325h0M1181 4323h0M3799 4311h0M2932 4312h0M4044 4315h0M1846 4314h0M3709 4323h0M1682 4326h0M3895 4310h0M1720 4320h0M3625 4314h0M2544 4309h0M2017 4320h0M3217 4328h0M1460 4312h0M1783 4328h0M4291 4314h0M1635 4314h0M3461 4311h0M1662 4312h0M3391 4318h0M1375 4330h0M2670 4328h0M4249 4329h0M4222 4312h0M4062 4318h0M1418 4314h0M1308 4314h0M4428 4317h0M3637 4310h0M2523 4319h0M1486 4322h0M2394 4312h0M4230 4318h0M874 4308h0M3949 4322h0M2760 4316h0M4892 4311h0M2478 4324h0M3482 4328h0M3265 4325h0M3922 4318h0M4168 4321h0M1265 4315h0M2242 4315h0M4138 4325h0M2503 4319h0M1734 4323h0M2119 4323h0M3791 4320h0M4807 4326h0M2203 4319h0M3090 4320h0M3884 4316h0M2770 4307h0M4541 4312h0M3555 4324h0M1713 4328h0M1960 4327h0M3216 4311h0M3138 4328h0M1330 4321h0M2321 4317h0M3859 4311h0M3490 4328h0M3267 4317h0M1442 4315h0M3484 4308h0M3780 4325h0M2943 4314h0M2279 4315h0M2589 4311h0M2068 4318h0M4725 4330h0M3124 4319h0M1351 4327h0M1293 4321h0M2006 4325h0M1941 4325h0M4226 4328h0M1636 4316h0M1737 4327h0M2812 4311h0M3603 4312h0M1039 4324h0M3483 4327h0M3579 4313h0M2950 4311h0M1268 4310h0M1492 4320h0M3234 4327h0M1745 4313h0M3439 4320h0M2499 4315h0M1835 4319h0M2047 4328h0M3494 4312h0M2156 4312h0M3621 4312h0M3919 4312h0M3046 4315h0M2267 4323h0M2804 4321h0M2222 4309h0M4680 4330h0M2164 4329h0M1550 4323h0M3222 4324h0M4352 4309h0M1820 4321h0M2838 4312h0M2927 4325h0M3857 4314h0M3104 4329h0M4545 4321h0M3104 4327h0M1902 4319h0M2584 4324h0M2628 4327h0M2209 4327h0M3057 4323h0M2225 4330h0M4156 4325h0M1610 4311h0M1539 4312h0M2442 4330h0M3799 4310h0M853 4318h0M4005 4314h0M3261 4322h0M3192 4321h0M1864 4313h0M1663 4321h0M2788 4314h0M2391 4312h0M3553 4318h0M1142 4308h0M3094 4328h0M2234 4328h0M3326 4312h0M2910 4323h0M1186 4316h0M3191 4312h0M3877 4311h0M4110 4324h0M2882 4325h0M4270 4315h0M822 4314h0M3430 4317h0M2994 4327h0M1413 4312h0M1546 4325h0M1277 4329h0M3894 4312h0M4052 4308h0M1400 4320h0M2492 4311h0M1195 4322h0M2435 4308h0M2689 4322h0M2692 4316h0M2600 4327h0M1409 4320h0M796 4322h0M3160 4322h0M1315 4321h0M3049 4316h0M1674 4324h0M1378 4311h0M2396 4308h0M2008 4315h0M1943 4321h0M3293 4311h0M3298 4318h0M1707 4312h0M2410 4321h0M2968 4314h0M3995 4311h0M3738 4311h0M988 4321h0M4125 4313h0M3132 4327h0M3402 4327h0M988 4320h0M3406 4322h0M2896 4314h0M1306 4317h0M3251 4314h0M1624 4311h0M2053 4323h0M785 4313h0M2776 4324h0M2672 4322h0M4893 4313h0M2884 4313h0M1930 4328h0M4917 4315h0M3674 4311h0M2038 4307h0M1356 4311h0M719 4309h0M2790 4328h0M2935 4327h0M4265 4328h0M789 4315h0M2751 4308h0M2663 4319h0M1286 4324h0M4153 4316h0M4837 4319h0M2773 4320h0M2647 4330h0M2378 4321h0M926 4322h0M2529 4326h0M2154 4314h0M3424 4323h0M4362 4314h0M1537 4313h0M3262 4311h0M3086 4311h0M1505 4318h0M2282 4310h0M2058 4311h0M3297 4322h0M2127 4319h0M3304 4321h0M1708 4314h0M1195 4325h0M3475 4312h0M2332 4311h0M3112 4308h0M4159 4313h0M3535 4324h0M3662 4324h0M2669 4324h0M2876 4316h0M1466 4328h0M1700 4313h0M3579 4329h0M3238 4325h0M3060 4312h0M3918 4324h0M2595 4314h0M1220 4311h0M3129 4319h0M3676 4330h0M3814 4314h0M1450 4321h0M1982 4307h0M4555 4320h0M4956 4312h0M2476 4326h0M4691 4328h0M4680 4318h0M1783 4316h0M3515 4328h0M3330 4329h0M3878 4329h0M3259 4330h0M2474 4323h0M1847 4322h0M3967 4315h0M2832 4321h0M3694 4310h0M3470 4322h0M3896 4320h0M1429 4328h0M3534 4326h0M4662 4318h0M2119 4321h0M3424 4320h0M3888 4328h0M1673 4313h0M4802 4313h0M3862 4316h0M2271 4327h0M3658 4318h0M4313 4312h0M1464 4318h0M1507 4324h0M1025 4321h0M4268 4320h0"/>
<path id="b0_24" d="M3806 4612h0M3050 4629h0M3319 4622h0M3046 4632h0M2199 4633h0M2660 4631h0M1508 4619h0M2174 4612h0M4018 4621h0M2479 4613h0M3630 4630h0M3885 4621h0M2062 4623h0M3981 4631h0M2605 4630h0M2435 4622h0M3754 4615h0M1503 4620h0M3002 4628h0M3246 4630h0M1913 4630h0M2240 4615h0M4098 4621h0M960 4615h0M3057 4620h0M3503 4613h0M2785 4613h0M3744 4633h0M3212 4629h0M3907 4629h0M3020 4623h0M2321 4624h0M3574 4625h0M2793 4629h0M2558 4623h0M3895 4626h0M3172 4619h0M3017 4614h0M848 4615h0M3107 4624h0M1702 4620h0M2922 4625h0M3553 4616h0M3618 4626h0M3723 4631h0M1344 4611h0M3071 4629h0M2669 4616h0M3703 4624h0M1890 4631h0M2675 4614h0M2485 4624h0M3840 4626h0M3487 4632h0M3288 4633h0M3981 4627h0M4031 4612h0M3547 4629h0M1335 4617h0M3439 4612h0M2514 4633h0M3910 4626h0M3370 4622h0M2617 4614h0M2416 4619h0M4145 4617h0M3292 4613h0M1865 4617h0M1758 4620h0M3370 4629h0M1758 4614h0M3236 4626h0M2956 4630h0M4249 4611h0M3936 4612h0M2659 4626h0M2770 4615h0M2143 4617h0M3441 4632h0M2307 4614h0M3104 4614h0M2891 4611h0M2433 4631h0M4246 4626h0M3082 4632h0M4028 4615h0M3862 4618h0M3999 4630h0M1627 4611h0M1361 4612h0M1732 4612h0M2330 4628h0M3179 4615h0M2391 4612h0M1818 4611h0M1026 4611h0M2833 4625h0M2855 4616h0M4239 4613h0M4107 4613h0M3259 4625h0M3702 4622h0M2520 4622h0M2931 4633h0M3712 4626h0M2804 4622h0M1146 4629h0M853 4613h0M1823 4630h0M3325 4625h0M3040 4626h0M1778 4611h0M2675 4628h0M2651 4624h0M4611 4611h0M1872 4620h0M4008 4634h0M2572 4628h0M1700 4612h0M2328 4627h0M1917 4618h0M3289 4612h0M2144 4612h0M3363 4618h0M3843 4629h0M4074 4617h0M2366 4632h0M3502 4633h0M3167 4632h0M4177 4616h0M2773 4628h0M2337 4633h0M4142 4629h0M1927 4624h0M3597 4613h0M3463 4611h0M2782 4614h0M3652 4626h0M3060 4619h0M2392 4626h0M3296 4620h0M2146 4614h0M2627 4624h0M4458 4627h0M3154 4614h0M3799 4633h0M3016 4624h0M2572 4614h0M2557 4615h0M2354 4614h0M1409 4620h0M3872 4626h0M2616 4633h0M2861 4611h0M3539 4618h0M3602 4619h0M935 4617h0M3997 4629h0M3287 4634h0M1754 4626h0M3603 4616h0M2366 4619h0M3045 4631h0M3340 4629h0M3215 4627h0M1433 4611h0M2115 4632h0M3871 4618h0M4134 4621h0M3822 4615h0M3501 4630h0M2018 4629h0M3732 4620h0M1576 4633h0M1586 4628h0M2365 4630h0M3487 4624h0M2544 4626h0M3145 4614h0M3092 4621h0M2541 4623h0M1877 4613h0M3774 4611h0M1248 4612h0M712 4611h0M2919 4619h0M1222 4620h0M3077 4621h0M2910 4615h0M3276 4619h0M913 4617h0M4054 4625h0M1639 4629h0M3228 4629h0M4451 4616h0M1841 4610h0M5171 4628h0M3694 4612h0M1775 4613h0M2973 4611h0M3797 4620h0M3970 4618h0M3555 4620h0M3218 4612h0M3595 4613h0M2071 4627h0M2306 4618h0M2291 4630h0M4242 4619h0M3478 4627h0M3884 4629h0M2002 4613h0M3595 4632h0M3166 4624h0M3826 4627h0M1588 4611h0M3819 4622h0M3129 4626h0M2727 4618h0M2250 4617h0M972 4617h0M2761 4616h0M2088 4614h0M2394 4622h0M2295 4619h0M2365 4618h0M2387 4617h0M2282 4627h0M2090 4618h0M2258 4620h0M770 4615h0M1761 4620h0M2768 4626h0M2728 4615h0M3241 4627h0M2089 4620h0M3011 4616h0M4213 4629h0M4327 4614h0M3061 4625h0M1780 4613h0M3850 4614h0M4098 4619h0M2861 4615h0M2030 4615h0M1976 4629h0M3140 4631h0M3579 4617h0M4433 4615h0M756 4612h0M4481 4617h0M4001 4627h0M4114 4623h0M4009 4624h0M3788 4621h0M1742 4611h0M1044 4626h0M3297 4631h0M2328 4623h0M2967 4633h0M3166 4631h0M2227 4622h0M2243 4617h0M4237 4632h0M2324 4611h0M2075 4627h0M3030 4629h0M907 4611h0M2633 4613h0M3102 4616h0M1444 4619h0M1645 4632h0M3188 4625h0M2341 4614h0M1087 4620h0M3564 4614h0M3630 4622h0M2251 4624h0M1444 4618h0M2764 4631h0M3966 4633h0M1962 4626h0M3667 4624h0M3373 4620h0M1923 4621h0M4108 4616h0M2732 4618h0M4318 4627h0M3655 4615h0M3145 4628h0M1406 4617h0M3453 4616h0M3648 4632h0M3606 4628h0M2356 4623h0M2958 4612h0M4070 4627h0M1371 4616h0M2231 4631h0M4173 4633h0M3434 4617h0M4269 4614h0M3981 4624h0M3529 4628h0"/>
<path id="b0_27" d="M3720 4698h0M2738 4696h0M3623 4687h0M2976 4699h0M3259 4686h0M2804 4698h0M3024 4689h0M3926 4687h0M2973 4681h0M3582 4694h0M3718 4695h0M1548 4684h0M2606 4683h0M3897 4694h0M1820 4701h0M3112 4688h0M2986 4681h0M3189 4685h0M2914 4683h0M2713 4699h0M3188 4698h0M3473 4701h0M3456 4698h0M3243 4682h0M2348 4702h0M4208 4687h0M3726 4698h0M4158 4701h0M3191 4697h0M3139 4683h0M3112 4683h0M3267 4703h0M1682 4694h0M2417 4697h0M3490 4702h0M3557 4689h0M3198 4682h0M2603 4698h0M2274 4697h0M3848 4702h0M2840 4691h0M2103 4703h0M2572 4688h0M3003 4682h0M4218 4684h0M3391 4702h0M2288 4683h0M2288 4682h0M3429 4703h0M2407 4699h0M3884 4685h0M2265 4684h0M2879 4694h0M3483 4689h0M3690 4685h0M3651 4697h0M3517 4690h0M2808 4693h0M2027 4681h0M3826 4698h0M2743 4690h0M3507 4699h0M2467 4702h0M3340 4688h0M1917 4702h0M2571 4686h0M2434 4694h0M2647 4701h0M3682 4698h0M2727 4702h0M2122 4701h0M3328 4700h0M3372 4697h0M3503 4682h0M3196 4687h0M2114 4684h0M4623 4695h0M1368 4683h0M3849 4703h0M2439 4690h0M3654 4681h0M3663 4687h0M3963 4692h0M3169 4685h0M3587 4690h0M3809 4694h0M2083 4692h0M3859 4698h0M3217 4700h0M3104 4702h0M1802 4683h0M2952 4683h0M3046 4700h0M3292 4692h0M2745 4697h0M3880 4683h0M2461 4698h0M3801 4696h0M2989 4690h0M3395 4685h0M3658 4694h0M3060 4686h0M3470 4682h0M1891 4687h0M2862 4681h0M3897 4691h0M3243 4699h0M3143 4686h0M3442 4700h0M3378 4702h0M4106 4697h0M2082 4696h0M3178 4689h0M2107 4689h0M3024 4685h0M1726 4700h0M3914 4689h0M2538 4701h0M1383 4682h0M3532 4695h0M2348 4685h0M2421 4681h0M4263 4691h0M3395 4685h0M2780 4688h0M2914 4681h0M2336 4696h0M3612 4692h0M2357 4689h0M3747 4696h0M2604 4690h0M3993 4682h0M4137 4688h0M3970 4690h0M1728 4689h0M3189 4684h0M2369 4681h0M3690 4683h0M1977 4692h0M2668 4700h0M2399 4690h0M2829 4683h0M3331 4683h0M2232 4701h0M3194 4687h0M2438 4694h0M2799 4697h0M3360 4697h0M2157 4702h0M2044 4699h0M1900 4684h0M1705 4704h0M3985 4702h0M2451 4684h0M3788 4703h0M3783 4695h0M2026 4696h0M2123 4691h0M2632 4699h0M2894 4689h0M3674 4687h0M2561 4701h0M2294 4686h0M3603 4684h0M2890 4695h0M2504 4692h0M3193 4701h0M3557 4699h0M3013 4701h0M3079 4682h0M3081 4685h0M2963 4686h0M3963 4701h0M4038 4700h0M3752 4696h0M3205 4689h0M4101 4686h0M2773 4692h0M2787 4691h0M2211 4692h0M3761 4685h0M3638 4681h0M2990 4700h0M3719 4694h0M2792 4692h0M2330 4692h0M3631 4703h0M2599 4681h0M2004 4682h0M3329 4700h0M3981 4699h0M3387 4680h0M2636 4697h0M3518 4698h0M3677 4684h0M2583 4688h0M3298 4700h0M1312 4681h0M4462 4701h0M2630 4702h0M3730 4694h0M3342 4701h0M2762 4690h0M3908 4688h0M3225 4698h0M3040 4699h0M3275 4692h0M3951 4700h0M3121 4698h0M2739 4688h0M2208 4682h0M3925 4694h0M3719 4684h0M3617 4682h0M3469 4700h0M2029 4684h0M3533 4689h0M3216 4687h0M4011 4702h0M2853 4697h0M2161 4689h0M3371 4683h0M3109 4694h0M4067 4702h0M4188 4696h0M1903 4700h0M2548 4682h0M3587 4681h0M4112 4700h0M2965 4700h0M4420 4693h0M2965 4690h0M2787 4702h0M3274 4689h0M3058 4683h0M2634 4694h0M2044 4685h0M3710 4695h0M3656 4695h0M2652 4698h0M2984 4695h0M3006 4682h0M4155 4684h0M2571 4683h0M2462 4683h0M2405 4688h0M3745 4698h0M3193 4695h0M3966 4694h0M3595 4703h0M3318 4695h0M3128 4703h0M4365 4691h0M3153 4684h0M2335 4694h0M3898 4702h0M3848 4690h0M1727 4690h0M2408 4685h0"/>
<path id="b0_32" d="M2329 4802h0M2755 4809h0M2511 4809h0M1390 4800h0M3465 4809h0M2680 4815h0M3969 4817h0M2734 4807h0M2166 4819h0M1461 4806h0M3113 4818h0M2683 4810h0M2105 4808h0M2582 4797h0M2766 4798h0M3573 4799h0M2133 4807h0M2236 4812h0M3327 4799h0M2257 4802h0M2413 4815h0M1298 4818h0M3260 4798h0M3772 4804h0M2512 4804h0M3352 4805h0M3076 4819h0M2658 4799h0M3177 4816h0M2044 4820h0M3765 4798h0M1900 4812h0M2433 4813h0M3469 4812h0M3496 4809h0M2347 4812h0M2722 4798h0M2953 4816h0M4112 4807h0M3299 4813h0M2753 4812h0M1809 4804h0M2866 4815h0M2575 4819h0M3343 4812h0M1985 4805h0M3565 4820h0M2720 4809h0M3642 4804h0M3091 4799h0M2575 4808h0M2622 4800h0M2908 4814h0M2009 4817h0M2060 4803h0M2689 4805h0M2952 4808h0M3836 4808h0M2793 4815h0M3307 4815h0M3566 4808h0M3712 4815h0M2978 4798h0M1858 4819h0M2352 4819h0M3791 4813h0M3704 4819h0M3325 4818h0M3656 4810h0M3949 4802h0M2391 4811h0M2125 4802h0M3642 4806h0M2587 4800h0M3252 4818h0M2134 4815h0M3681 4807h0M3776 4806h0M1233 4798h0M2742 4809h0M3462 4820h0M1999 4809h0M3286 4804h0M2927 4809h0M3881 4802h0M2958 4803h0M3426 4807h0M2109 4804h0M2686 4817h0M3120 4814h0M2250 4808h0M3739 4804h0M3636 4799h0M3963 4819h0M2340 4812h0M3841 4804h0M3393 4815h0M2869 4804h0M2368 4817h0M2719 4819h0M2420 4820h0M2109 4798h0M2088 4820h0M3415 4799h0M3783 4813h0M2782 4816h0M3286 4820h0M3628 4809h0M3069 4815h0M3434 4811h0M3697 4817h0M2641 4800h0M4099 4805h0M4311 4819h0M3757 4800h0M4113 4819h0M2911 4801h0M2253 4812h0M2986 4802h0M1706 4800h0M2695 4797h0M3833 4819h0M2670 4801h0M2475 4800h0M3766 4802h0M3190 4802h0M3523 4810h0M2885 4809h0M2448 4818h0M2371 4799h0M3886 4813h0M3088 4805h0M1991 4819h0M3184 4798h0M2490 4801h0M3275 4802h0M3635 4816h0M3468 4800h0M4076 4816h0M2992 4799h0M2384 4808h0M2680 4799h0M2557 4812h0M3247 4809h0M3178 4799h0M2441 4798h0M3811 4798h0M4005 4798h0M3682 4807h0M2197 4816h0M3969 4805h0M3621 4816h0M3329 4805h0M2493 4813h0M3813 4814h0M3475 4811h0M3028 4806h0M2847 4804h0M4120 4815h0M3841 4802h0M3437 4810h0M3899 4799h0M4051 4809h0M3160 4801h0M2950 4804h0M3027 4800h0M3650 4820h0M2907 4807h0M2351 4805h0M3670 4810h0M2557 4809h0M2159 4798h0M1401 4816h0M1945 4809h0M2757 4803h0M2576 4813h0M2115 4807h0M1962 4798h0M3320 4809h0M2352 4809h0M2387 4819h0M2003 4820h0M3224 4813h0M4096 4800h0M3304 4805h0M3394 4813h0M3308 4798h0M2217 4798h0M2908 4818h0M3013 4808h0M3406 4812h0M3194 4818h0M2244 4812h0M2935 4800h0M2080 4819h0M2451 4802h0M2878 4810h0M3227 4798h0M3237 4813h0M1480 4810h0M2740 4804h0M2664 4815h0M2629 4814h0M2303 4819h0M3343 4799h0M1639 4804h0M2848 4820h0M2763 4817h0M4059 4819h0M2421 4820h0M3073 4797h0M3244 4808h0M2437 4809h0M2793 4800h0M3069 4820h0M3824 4811h0M3350 4802h0M2801 4806h0M2789 4809h0M2453 4808h0M3280 4811h0M4153 4811h0M3648 4809h0M3824 4814h0M2629 4803h0M2305 4818h0M3915 4818h0M4283 4810h0M4143 4819h0M2294 4800h0M3441 4806h0M3394 4798h0M2817 4805h0M2654 4806h0M2619 4817h0M3304 4804h0M3911 4811h0M3104 4803h0M2729 4818h0M2433 4819h0M2718 4809h0M1617 4799h0M3813 4800h0M1911 4799h0M3109 4814h0"/>
<path id="b0_31" d="M3936 4783h0M3845 4789h0M4056 4788h0M3006 4784h0M1363 4785h0M2687 4782h0M2684 4787h0M3502 4777h0M3787 4792h0M2120 4794h0M2428 4777h0M2411 4778h0M2702 4796h0M3722 4781h0M3257 4785h0M4002 4781h0M3350 4795h0M2291 4783h0M4047 4791h0M3474 4779h0M3894 4784h0M2672 4787h0M4016 4776h0M2529 4781h0M3458 4791h0M2871 4786h0M1991 4776h0M1722 4796h0M3498 4788h0M3385 4791h0M3721 4794h0M2532 4788h0M2633 4797h0M3857 4794h0M4209 4789h0M2229 4784h0M3115 4777h0M2888 4780h0M2677 4775h0M4179 4792h0M3792 4774h0M3677 4790h0M2514 4793h0M2918 4786h0M3427 4790h0M1416 4797h0M4109 4797h0M2208 4794h0M3723 4777h0M3706 4782h0M4075 4795h0M2531 4797h0M3825 4787h0M2563 4781h0M3119 4794h0M3971 4787h0M2106 4775h0M4397 4792h0M3036 4789h0M1648 4788h0M1867 4788h0M2320 4782h0M1976 4775h0M3637 4780h0M3035 4794h0M3186 4776h0M4077 4780h0M4023 4788h0M3210 4789h0M3751 4791h0M3051 4782h0M3936 4776h0M3721 4793h0M2921 4796h0M4165 4787h0M2788 4782h0M2841 4783h0M3766 4780h0M3687 4776h0M3560 4782h0M3906 4787h0M3468 4781h0M4175 4788h0M3050 4776h0M2916 4794h0M1703 4784h0M3781 4777h0M1510 4785h0M3169 4784h0M2713 4784h0M2971 4787h0M3273 4786h0M3159 4775h0M3548 4777h0M3115 4791h0M2371 4789h0M1249 4786h0M2090 4796h0M2529 4793h0M2872 4791h0M2929 4777h0M2399 4790h0M2862 4790h0M2992 4776h0M3590 4781h0M2660 4795h0M2712 4788h0M2333 4778h0M2949 4777h0M2211 4781h0M2355 4795h0M2092 4777h0M3560 4785h0M3734 4779h0M3722 4783h0M3731 4795h0M3601 4794h0M3801 4779h0M4051 4788h0M3811 4778h0M4560 4786h0M1292 4789h0M5125 4789h0M1375 4792h0M3398 4793h0M4089 4781h0M4126 4774h0M3782 4788h0M2845 4785h0M3224 4790h0M1014 4774h0M3679 4795h0M3497 4784h0M1763 4782h0M3579 4781h0M2804 4775h0M1569 4790h0M3821 4790h0M2123 4778h0M2705 4784h0M2096 4791h0M3182 4794h0M2772 4776h0M2909 4780h0M3640 4797h0M3320 4782h0M2168 4787h0M2422 4790h0M2291 4791h0M3497 4790h0M3360 4785h0M3847 4776h0M3409 4793h0M1852 4781h0M3087 4783h0M2728 4777h0M3632 4793h0M1922 4776h0M3062 4795h0M2936 4789h0M2906 4786h0M4239 4774h0M2297 4777h0M3346 4794h0M3477 4789h0M2943 4775h0M2870 4791h0M3165 4793h0M2450 4784h0M2429 4793h0M1220 4779h0M3119 4792h0M2377 4781h0M2434 4786h0M2445 4794h0M3308 4791h0M3962 4793h0M2966 4787h0M3700 4794h0M4237 4778h0M3236 4789h0M3625 4794h0M2238 4791h0M2259 4781h0M3516 4789h0M2902 4776h0M2695 4778h0M2122 4787h0M3217 4794h0M2905 4794h0M3484 4789h0M2662 4782h0M3508 4790h0M3713 4779h0M1832 4780h0M2536 4787h0M3654 4784h0M3194 4793h0M2581 4775h0M3954 4783h0M3818 4797h0M3127 4787h0M2213 4778h0M3442 4790h0M2965 4785h0M2822 4785h0M2138 4796h0M3610 4791h0M2482 4775h0M1745 4779h0M3860 4794h0M3367 4778h0M3162 4794h0M2594 4781h0M1922 4778h0M2689 4785h0M3355 4787h0M1816 4779h0M3237 4795h0M2357 4788h0M2911 4792h0M4091 4781h0M4086 4779h0M2092 4789h0M2323 4787h0M3279 4787h0M2776 4797h0M2903 4796h0M4242 4776h0M2501 4794h0M3446 4794h0M2198 4795h0M2985 4786h0M4215 4795h0M3889 4789h0M2340 4780h0M3263 4793h0M4497 4792h0M2321 4793h0M2966 4792h0M2422 4776h0M2117 4777h0M3551 4780h0M3098 4783h0M4274 4781h0M4104 4793h0M3863 4783h0M2979 4786h0M3924 4784h0M3997 4782h0M3859 4781h0M2562 4785h0"/>
<path id="b0_22" d="M1382 4586h0M1660 4573h0M2288 4587h0M3996 4584h0M1114 4570h0M4031 4572h0M2646 4580h0M4176 4576h0M3210 4579h0M908 4568h0M3961 4573h0M1295 4573h0M3326 4571h0M2956 4576h0M2277 4574h0M4201 4585h0M2750 4585h0M2394 4576h0M2757 4583h0M2871 4586h0M796 4578h0M1820 4579h0M2716 4578h0M2713 4573h0M3351 4576h0M3535 4577h0M4207 4570h0M4152 4584h0M2476 4586h0M1404 4566h0M1528 4580h0M1787 4586h0M2726 4581h0M4635 4566h0M1920 4582h0M789 4572h0M3752 4577h0M2011 4582h0M1469 4574h0M2711 4584h0M1375 4586h0M4230 4585h0M3293 4565h0M3306 4581h0M1277 4576h0M3235 4582h0M2071 4580h0M3434 4568h0M1339 4569h0M4448 4583h0M3672 4567h0M1322 4571h0M2281 4567h0M2985 4575h0M3654 4565h0M2708 4572h0M2505 4573h0M4243 4584h0M3399 4574h0M735 4582h0M2257 4582h0M3643 4574h0M4165 4579h0M2053 4578h0M3811 4579h0M4321 4566h0M2258 4581h0M3440 4580h0M2038 4574h0M3240 4569h0M3549 4585h0M3041 4568h0M5061 4583h0M2571 4573h0M3206 4575h0M2940 4586h0M4132 4565h0M3223 4573h0M1055 4574h0M4057 4571h0M2832 4577h0M1343 4565h0M3010 4575h0M2665 4574h0M2352 4573h0M3317 4572h0M3158 4574h0M3770 4576h0M3041 4581h0M3459 4574h0M3904 4582h0M4148 4578h0M4081 4582h0M3974 4582h0M3818 4572h0M1854 4572h0M4082 4584h0M993 4580h0M1738 4565h0M1613 4583h0M2864 4587h0M2484 4581h0M3031 4585h0M819 4574h0M2874 4578h0M3454 4580h0M3565 4582h0M2252 4567h0M4167 4586h0M1536 4579h0M1870 4586h0M3601 4569h0M1200 4583h0M3413 4571h0M1946 4583h0M4194 4576h0M2286 4568h0M3488 4575h0M2691 4582h0M2823 4567h0M3709 4580h0M4248 4578h0M4150 4585h0M3544 4570h0M1854 4575h0M1313 4581h0M3432 4572h0M3567 4570h0M3124 4581h0M1441 4575h0M3319 4579h0M3701 4585h0M2903 4569h0M3708 4578h0M1008 4574h0M3280 4569h0M3193 4565h0M2701 4572h0M2049 4574h0M3744 4568h0M4004 4583h0M3555 4577h0M2455 4568h0M2185 4572h0M1088 4571h0M2507 4583h0M3713 4569h0M3907 4565h0M3007 4575h0M4008 4575h0M3733 4570h0M1205 4584h0M4272 4586h0M2897 4576h0M3385 4575h0M4158 4582h0M2438 4583h0M1099 4577h0M3395 4585h0M3626 4586h0M2441 4567h0M1884 4584h0M1824 4570h0M3082 4572h0M4201 4579h0M1993 4565h0M2395 4577h0M1751 4586h0M3716 4564h0M3782 4571h0M3275 4572h0M2515 4578h0M1861 4579h0M1087 4573h0M2470 4573h0M1633 4574h0M2298 4583h0M1708 4583h0M2426 4567h0M1826 4568h0M2965 4579h0M3471 4573h0M3048 4574h0M2767 4567h0M3336 4578h0M1619 4570h0M2857 4582h0M3243 4568h0M4196 4576h0M2102 4583h0M3598 4586h0M4178 4577h0M1469 4571h0M4174 4575h0M3061 4575h0M3566 4581h0M2958 4587h0M3535 4565h0M2297 4575h0M1401 4569h0M1685 4582h0M2386 4581h0M2452 4565h0M1558 4568h0M4147 4570h0M3124 4567h0M4417 4579h0M3866 4568h0M3424 4580h0M3514 4585h0M4409 4575h0M3569 4570h0M3627 4564h0M1681 4572h0M1683 4572h0M1514 4576h0M3327 4578h0M2716 4574h0M1957 4578h0M3426 4579h0M2045 4582h0M1398 4578h0M869 4578h0M2365 4567h0M2051 4579h0M2760 4583h0M2334 4579h0M3098 4585h0M2631 4566h0M2925 4580h0M2283 4582h0M4242 4577h0M1688 4579h0M3262 4573h0M1489 4587h0M4319 4569h0M4294 4582h0M2631 4565h0M3957 4584h0M4384 4582h0M1230 4570h0M3634 4575h0M3907 4577h0M3930 4581h0M2662 4586h0M1904 4564h0M4250 4586h0M2947 4567h0M4242 4578h0M3842 4569h0M3736 4575h0M2414 4584h0M4040 4564h0M3535 4583h0M3654 4564h0M3878 4581h0M3709 4564h0M1660 4580h0M3612 4569h0M1637 4564h0M2780 4568h0M2830 4583h0M2661 4564h0M4164 4568h0M4466 4578h0M3778 4580h0M4048 4576h0M2016 4578h0M1907 4566h0M3048 4565h0M714 4574h0M3219 4578h0M1885 4567h0M1890 4582h0M4439 4576h0M1426 4585h0M1987 4570h0M2159 4577h0M3585 4577h0M1734 4581h0M3667 4577h0M860 4575h0M2736 4573h0M4009 4568h0M3551 4577h0M2779 4575h0M1644 4569h0M1575 4565h0M4053 4573h0M4278 4565h0M4376 4569h0M2319 4583h0M1678 4579h0M5109 4580h0M2368 4576h0M2173 4579h0M2540 4582h0M2032 4565h0M2210 4573h0M4179 4574h0M3503 4587h0M2680 4585h0M2993 4586h0M2057 4564h0M3515 4586h0M3292 4570h0M2123 4570h0M3798 4569h0M1269 4565h0M2438 4577h0M2952 4569h0M2948 4572h0M4119 4571h0M2724 4581h0M1357 4583h0M3322 4568h0M1006 4565h0M1055 4568h0M1421 4566h0M3640 4574h0M3070 4571h0M1897 4575h0M2100 4578h0M3841 4568h0M2813 4580h0M3943 4583h0M2495 4579h0M2175 4577h0M4028 4569h0M4164 4568h0M1584 4570h0M3615 4569h0M731 4584h0M2015 4574h0M2683 4587h0M1354 4573h0M2820 4564h0M3507 4577h0M1712 4566h0M3391 4572h0M2822 4583h0M2580 4578h0M2551 4568h0M1932 4570h0M3420 4584h0M2430 4586h0M4369 4565h0M3672 4567h0M2529 4572h0M946 4568h0M772 4567h0M1470 4583h0M995 4576h0M2506 4579h0M2353 4581h0M2347 4573h0M4075 4569h0M2781 4580h0M4051 4567h0M2239 4569h0M1523 4566h0M1783 4573h0M1012 4566h0M1428 4566h0M4097 4574h0M4650 4581h0M4104 4572h0M2879 4580h0M2174 4575h0M4183 4567h0M2667 4578h0M1739 4575h0M2770 4586h0M1491 4574h0M3430 4573h0M1820 4585h0M3981 4573h0M2696 4570h0M1714 4576h0M4042 4564h0M1090 4569h0M3666 4574h0M3207 4574h0M1880 4564h0M2489 4580h0M3901 4574h0M2506 4569h0M1302 4577h0M2272 4572h0M2988 4578h0M2201 4567h0"/>
<path id="b0_18" d="M1381 4486h0M1505 4471h0M4189 4483h0M4019 4492h0M1215 4485h0M4185 4487h0M2316 4475h0M1926 4478h0M2819 4483h0M3292 4474h0M2122 4480h0M4348 4492h0M1742 4493h0M2527 4491h0M3521 4483h0M3250 4471h0M3416 4487h0M3788 4477h0M3935 4476h0M2641 4478h0M2195 4470h0M3896 4486h0M3378 4471h0M1816 4489h0M2696 4471h0M2746 4475h0M2478 4479h0M2053 4471h0M1175 4493h0M1157 4478h0M1171 4489h0M2937 4478h0M3897 4491h0M1491 4487h0M1912 4470h0M3223 4480h0M1519 4485h0M3442 4474h0M2507 4477h0M1025 4474h0M1825 4481h0M1674 4486h0M1285 4477h0M3036 4477h0M1891 4493h0M1630 4479h0M2755 4484h0M2144 4479h0M4066 4477h0M3080 4482h0M3274 4490h0M2618 4489h0M2151 4482h0M1169 4489h0M2935 4474h0M2666 4478h0M2736 4474h0M1309 4486h0M1549 4482h0M4150 4479h0M3889 4491h0M1280 4490h0M4033 4491h0M2710 4490h0M3047 4474h0M3146 4476h0M2505 4486h0M1101 4491h0M1349 4478h0M1685 4493h0M4242 4474h0M3551 4473h0M3427 4478h0M2800 4489h0M1897 4492h0M1342 4482h0M2058 4489h0M1470 4474h0M3669 4479h0M3569 4481h0M2948 4488h0M4113 4471h0M2856 4478h0M4139 4472h0M1311 4473h0M3072 4484h0M3564 4493h0M2073 4480h0M1853 4483h0M3256 4491h0M2182 4472h0M4205 4476h0M4009 4485h0M4111 4483h0M665 4487h0M2544 4482h0M2077 4493h0M4198 4494h0M3774 4487h0M2765 4483h0M3868 4474h0M1573 4478h0M3699 4484h0M1985 4492h0M3049 4483h0M4381 4482h0M3274 4477h0M2105 4472h0M3298 4475h0M2990 4489h0M2599 4482h0M3404 4481h0M2323 4471h0M1150 4491h0M3478 4476h0M3978 4482h0M2262 4485h0M1008 4473h0M2356 4485h0M3781 4476h0M2691 4488h0M829 4477h0M2681 4492h0M3015 4486h0M2316 4470h0M4388 4480h0M2714 4491h0M2997 4478h0M3118 4481h0M3489 4486h0M3084 4489h0M3494 4479h0M3159 4487h0M2638 4492h0M1877 4493h0M1879 4490h0M3485 4472h0M4347 4490h0M2810 4482h0M2802 4489h0M4036 4487h0M3855 4490h0M3654 4471h0M1875 4484h0M2328 4490h0M1099 4480h0M3862 4494h0M3279 4473h0M2848 4489h0M2076 4487h0M3998 4479h0M3206 4491h0M3383 4493h0M2409 4489h0M3494 4476h0M3472 4486h0M2514 4481h0M765 4485h0M3621 4493h0M2912 4475h0M2857 4472h0M2709 4471h0M2716 4490h0M3947 4480h0M3947 4480h0M4031 4479h0M732 4481h0M3199 4480h0M4148 4488h0M3380 4485h0M4664 4491h0M3038 4481h0M4054 4484h0M1389 4493h0M1528 4484h0M3145 4477h0M4202 4491h0M3867 4479h0M2615 4479h0M2902 4484h0M1670 4485h0M2148 4483h0M3369 4477h0M3311 4480h0M3189 4484h0M2115 4482h0M2289 4474h0M2982 4488h0M1149 4489h0M4334 4475h0M1264 4474h0M4226 4484h0M2240 4484h0M934 4493h0M1513 4481h0M3532 4478h0M2153 4478h0M2704 4471h0M2601 4474h0M4047 4475h0M2748 4490h0M2172 4477h0M2496 4493h0M1829 4482h0M1456 4471h0M3685 4481h0M3078 4474h0M1642 4488h0M2086 4484h0M3177 4483h0M3069 4484h0M2609 4490h0M2948 4488h0M1794 4485h0M2550 4474h0M1049 4481h0M2252 4488h0M1141 4474h0M3319 4489h0M2258 4493h0M2474 4486h0M2782 4472h0M1731 4491h0M4064 4485h0M2020 4474h0M4217 4492h0M1645 4473h0M1028 4490h0M3325 4475h0M4068 4478h0M2862 4478h0M1172 4476h0M2612 4472h0M1141 4485h0M1726 4486h0M3568 4490h0M3026 4480h0M3817 4490h0M1881 4480h0M1777 4486h0M3204 4476h0M2683 4478h0M4195 4478h0M1305 4475h0M3553 4487h0M1238 4485h0M1367 4476h0M2349 4489h0M1145 4485h0M2529 4480h0M1553 4475h0M4048 4480h0M4015 4477h0M3224 4491h0M3847 4488h0M1586 4471h0M4493 4471h0M1109 4493h0M1375 4474h0M3735 4491h0M3962 4488h0M2420 4493h0M1857 4485h0M2438 4473h0M3607 4494h0M1181 4477h0M3298 4483h0M4194 4482h0M4144 4481h0M1623 4492h0M1686 4488h0M3732 4471h0M1162 4473h0M2136 4481h0M3801 4481h0M2807 4487h0M3423 4489h0M2450 4471h0M3521 4485h0M1430 4474h0M3747 4471h0M2045 4471h0M4215 4479h0M3294 4475h0M2437 4481h0M4305 4493h0M2342 4490h0M2234 4476h0M2798 4492h0M2136 4492h0M2336 4474h0M1842 4484h0M4001 4478h0M4005 4487h0M3930 4473h0M4004 4493h0M3466 4478h0M1885 4490h0M2491 4492h0M3417 4476h0M862 4474h0M3742 4488h0M2505 4480h0M2728 4491h0M3817 4473h0M3573 4484h0M2027 4481h0M2944 4473h0M3709 4478h0M2602 4479h0M3167 4484h0M4115 4489h0M2570 4480h0M3356 4484h0M3771 4493h0M3251 4470h0M1609 4480h0M3636 4472h0M1336 4482h0M1485 4476h0M2976 4483h0M2307 4479h0M4064 4477h0M3661 4479h0M3009 4486h0M3361 4472h0M3273 4482h0M3497 4488h0M3328 4480h0M1161 4481h0M3947 4476h0M2853 4482h0M3961 4485h0M1689 4492h0M2475 4486h0M2267 4471h0M3010 4479h0M1384 4473h0M3507 4474h0M2963 4488h0M3294 4479h0M2029 4474h0M3620 4476h0M2511 4493h0M2702 4484h0M3054 4475h0M1443 4479h0M1886 4485h0M2030 4472h0M2154 4485h0M3526 4487h0M1636 4480h0M1447 4471h0M3990 4478h0M1154 4474h0M3170 4472h0M2385 4475h0M3727 4490h0M2392 4488h0M2098 4478h0M937 4479h0M1287 4478h0M3740 4472h0"/>
<path id="b0_21" d="M1950 4544h0M1025 4542h0M2035 4541h0M1479 4542h0M2389 4543h0M3821 4561h0M3670 4545h0M3064 4543h0M2966 4543h0M3171 4544h0M2180 4557h0M3641 4548h0M971 4551h0M3122 4561h0M2385 4559h0M2485 4551h0M2704 4548h0M3435 4551h0M3439 4554h0M1118 4561h0M3075 4543h0M1400 4554h0M3205 4554h0M1598 4544h0M2607 4563h0M3323 4555h0M1339 4543h0M2415 4559h0M3854 4555h0M1440 4558h0M2757 4551h0M1647 4552h0M1659 4556h0M1972 4553h0M2821 4563h0M1093 4557h0M1884 4560h0M4070 4545h0M4577 4544h0M3359 4560h0M1647 4544h0M5026 4563h0M3926 4555h0M2835 4546h0M3617 4561h0M3749 4542h0M1327 4558h0M3899 4560h0M3186 4545h0M1575 4546h0M1627 4545h0M2564 4548h0M3807 4542h0M1347 4554h0M2576 4544h0M4197 4549h0M4085 4544h0M3432 4553h0M3393 4562h0M3952 4555h0M3569 4557h0M3748 4545h0M3930 4553h0M3152 4555h0M3193 4540h0M921 4551h0M2359 4544h0M3677 4545h0M3319 4552h0M3811 4546h0M3659 4548h0M1853 4543h0M2870 4563h0M3699 4546h0M2637 4556h0M1650 4562h0M3898 4561h0M774 4552h0M2016 4547h0M1277 4551h0M3372 4561h0M1639 4551h0M2756 4547h0M2479 4559h0M2569 4544h0M744 4547h0M1097 4547h0M1307 4556h0M2035 4547h0M4076 4563h0M3351 4544h0M3039 4551h0M3006 4545h0M1974 4550h0M1263 4563h0M3255 4559h0M2539 4563h0M3276 4554h0M3956 4544h0M3478 4542h0M3342 4547h0M3230 4558h0M1253 4551h0M1050 4548h0M2467 4544h0M3851 4543h0M1963 4542h0M3035 4553h0M2164 4557h0M2878 4547h0M1181 4546h0M1657 4554h0M1976 4542h0M2849 4551h0M3103 4552h0M3729 4558h0M3724 4563h0M2765 4548h0M2643 4558h0M1943 4542h0M2134 4563h0M2672 4549h0M1359 4548h0M2432 4561h0M3793 4543h0M2777 4548h0M2179 4543h0M3752 4547h0M2317 4551h0M2030 4547h0M1253 4555h0M1630 4558h0M2694 4549h0M1415 4557h0M3528 4556h0M2350 4561h0M3435 4544h0M4053 4558h0M3881 4561h0M2172 4547h0M3546 4544h0M2853 4553h0M1516 4561h0M3488 4559h0M2667 4561h0M3803 4558h0M767 4559h0M2310 4562h0M1731 4548h0M3170 4556h0M3376 4558h0M2326 4559h0M4079 4564h0M3001 4561h0M2489 4561h0M2496 4543h0M2419 4548h0M1419 4543h0M1813 4558h0M2312 4558h0M3577 4543h0M3790 4559h0M2762 4557h0M3530 4557h0M2947 4541h0M3101 4541h0M2701 4555h0M4278 4541h0M2758 4547h0M4158 4562h0M1336 4561h0M2480 4541h0M3175 4562h0M1571 4542h0M4092 4549h0M5053 4541h0M3135 4560h0M3820 4555h0M4078 4550h0M3890 4555h0M3882 4544h0M2670 4554h0M3228 4552h0M3973 4541h0M4265 4551h0M1790 4547h0M3213 4552h0M1614 4550h0M4368 4552h0M4626 4558h0M3901 4547h0M1070 4548h0M2973 4553h0M973 4555h0M1641 4549h0M1588 4558h0M2044 4563h0M3332 4542h0M2436 4558h0M3328 4554h0M1153 4557h0M1619 4547h0M3270 4557h0M4060 4543h0M2753 4562h0M3356 4555h0M1499 4549h0M2180 4563h0M4077 4553h0M3815 4542h0M3748 4549h0M3769 4553h0M3150 4561h0M2814 4559h0M1231 4546h0M2882 4552h0M2565 4551h0M2108 4555h0M3878 4546h0M4173 4549h0M2696 4562h0M3651 4546h0M3944 4543h0M3408 4557h0M4179 4560h0M3191 4557h0M4100 4562h0M1940 4557h0M1883 4548h0M3157 4556h0M3325 4552h0M4024 4545h0M3472 4547h0M4010 4543h0M3415 4551h0M1176 4555h0M4317 4551h0M1963 4550h0M1246 4555h0M3425 4541h0M3464 4549h0M2984 4559h0M1541 4543h0M4004 4558h0M4044 4551h0M3766 4546h0M3814 4551h0M3774 4555h0M1788 4557h0M2830 4545h0M3810 4563h0M2511 4553h0M2803 4542h0M2120 4543h0M3248 4544h0M4180 4551h0M1397 4545h0M2911 4556h0M3505 4552h0M2419 4553h0M2543 4563h0M1039 4556h0M1987 4546h0M3466 4549h0M4020 4556h0M1411 4560h0M2203 4552h0M2036 4550h0M2156 4549h0M2510 4550h0M4679 4557h0M4128 4554h0M2875 4547h0M3808 4562h0M3554 4551h0M1193 4554h0M1024 4561h0M3106 4543h0M3430 4545h0M3144 4558h0M1782 4555h0M1480 4562h0M2258 4554h0M3554 4547h0M3808 4563h0M1739 4557h0M2104 4550h0M2560 4562h0M4381 4541h0M4710 4554h0M4133 4550h0M3854 4556h0M3808 4562h0M2140 4547h0M2974 4551h0M2249 4553h0M3888 4552h0M2863 4554h0M4143 4560h0M2164 4549h0M1967 4551h0M1213 4552h0M1384 4544h0M1809 4548h0M3218 4553h0M1823 4548h0M3836 4557h0M3263 4557h0M2790 4556h0M2410 4551h0M1958 4555h0M3075 4559h0M2297 4553h0M1517 4563h0M1766 4554h0M1823 4559h0M3215 4540h0M1494 4563h0M2579 4544h0M3683 4557h0M3687 4558h0M2861 4550h0M2716 4552h0M1851 4559h0M3921 4557h0M3779 4561h0M2929 4556h0M2882 4557h0M2128 4549h0M2147 4552h0M1920 4554h0M2288 4547h0M791 4560h0M1096 4542h0M2610 4545h0M3462 4544h0M1946 4562h0M1967 4560h0M3684 4544h0M1537 4542h0M3856 4544h0M2148 4542h0M2172 4554h0M1689 4555h0M3429 4553h0M3274 4548h0M3192 4549h0M4126 4563h0M2782 4549h0M1632 4544h0M1920 4550h0M2835 4556h0M3443 4555h0M2730 4549h0M2726 4557h0M1749 4555h0M3462 4558h0M2249 4552h0M3492 4547h0M4059 4560h0M1531 4548h0M1357 4560h0M1090 4559h0M3673 4555h0M3239 4557h0M3632 4547h0M3797 4558h0M2933 4556h0M3172 4557h0M1769 4551h0M2925 4551h0M2973 4559h0M2049 4546h0M2863 4553h0M2586 4554h0M3452 4557h0M3813 4559h0M3088 4552h0M2942 4549h0M3080 4542h0M3146 4555h0M3928 4563h0M3800 4561h0M1562 4562h0M3122 4549h0M1762 4553h0M1270 4550h0M3646 4546h0M2421 4554h0"/>
<path id="b0_16" d="M2619 4432h0M2798 4447h0M3912 4442h0M3859 4430h0M2036 4445h0M1043 4445h0M3749 4428h0M4070 4428h0M1438 4429h0M3470 4444h0M2070 4426h0M2687 4445h0M2021 4438h0M2765 4435h0M3205 4438h0M2783 4432h0M4035 4441h0M3905 4427h0M3133 4430h0M1644 4442h0M909 4436h0M4090 4427h0M1474 4430h0M4058 4430h0M4191 4441h0M3105 4437h0M3570 4432h0M1623 4442h0M2493 4435h0M1957 4424h0M4294 4427h0M3182 4443h0M1745 4443h0M2415 4424h0M2943 4443h0M3732 4424h0M2284 4447h0M1702 4443h0M4455 4443h0M859 4425h0M3791 4443h0M2660 4434h0M2850 4435h0M3212 4427h0M1941 4432h0M1897 4431h0M3425 4439h0M2866 4424h0M2335 4426h0M2480 4436h0M4019 4431h0M3537 4444h0M1977 4428h0M2284 4427h0M2680 4446h0M3774 4433h0M2805 4428h0M3876 4445h0M4191 4431h0M2982 4427h0M4549 4427h0M2300 4447h0M3206 4437h0M1409 4442h0M3201 4439h0M1772 4430h0M1266 4442h0M1364 4430h0M3673 4445h0M1933 4442h0M2742 4443h0M3179 4444h0M4172 4441h0M2316 4434h0M2694 4441h0M3371 4446h0M2772 4442h0M3367 4444h0M3009 4440h0M2435 4444h0M1987 4436h0M3153 4425h0M3202 4435h0M3922 4426h0M3068 4425h0M4881 4438h0M3944 4431h0M1794 4424h0M3385 4425h0M2805 4442h0M2159 4427h0M4150 4431h0M4753 4445h0M2844 4442h0M3901 4426h0M2310 4436h0M4200 4429h0M1311 4440h0M2723 4441h0M781 4436h0M2757 4446h0M1161 4425h0M4108 4436h0M3753 4442h0M3212 4446h0M2606 4446h0M1774 4438h0M1388 4444h0M4031 4442h0M3780 4432h0M3006 4432h0M2066 4435h0M2138 4432h0M1634 4429h0M3519 4432h0M1901 4434h0M1359 4429h0M3492 4444h0M2005 4431h0M3782 4424h0M3541 4424h0M1746 4431h0M3647 4440h0M2863 4433h0M1646 4437h0M1436 4425h0M1383 4442h0M3146 4424h0M2452 4430h0M4716 4446h0M2742 4434h0M1484 4431h0M4027 4438h0M4414 4432h0M1412 4438h0M3408 4434h0M872 4446h0M4233 4434h0M2837 4441h0M2133 4436h0M3779 4433h0M2671 4426h0M2750 4442h0M3692 4444h0M896 4431h0M3059 4425h0M2500 4429h0M4237 4431h0M4750 4426h0M3984 4436h0M3485 4443h0M1169 4431h0M1045 4432h0M4438 4438h0M3832 4428h0M2409 4440h0M3945 4437h0M2658 4443h0M2502 4442h0M1784 4434h0M1872 4440h0M1452 4447h0M3715 4444h0M3763 4437h0M1451 4444h0M2686 4442h0M3432 4429h0M1917 4444h0M2578 4442h0M3054 4438h0M2183 4444h0M2190 4445h0M2489 4443h0M2799 4430h0M1901 4446h0M3258 4443h0M2949 4432h0M2453 4435h0M2866 4441h0M2507 4440h0M3801 4444h0M4933 4435h0M2535 4436h0M1009 4428h0M1827 4443h0M3408 4439h0M3593 4442h0M4411 4439h0M3810 4436h0M4155 4442h0M2544 4425h0M1270 4438h0M3604 4428h0M3895 4431h0M2598 4425h0M4075 4437h0M1353 4436h0M2716 4435h0M1395 4434h0M3987 4427h0M4007 4435h0M3782 4446h0M1274 4444h0M3671 4428h0M819 4437h0M2847 4424h0M1454 4446h0M2495 4436h0M4168 4424h0M2205 4424h0M3457 4431h0M3563 4427h0M2709 4432h0M3369 4438h0M3956 4446h0M1561 4443h0M4130 4426h0M2806 4443h0M2283 4444h0M3557 4440h0M4259 4436h0M2685 4443h0M2872 4443h0M1846 4442h0M4183 4430h0M3115 4443h0M2080 4434h0M1492 4431h0M3299 4428h0M1941 4427h0M3084 4445h0M3229 4427h0M1577 4428h0M3366 4426h0M4206 4434h0M3449 4436h0M2496 4438h0M4100 4443h0M2101 4440h0M2893 4435h0M1756 4446h0M4105 4430h0M1523 4427h0M1183 4424h0M2842 4440h0M1660 4440h0M1633 4427h0M2454 4440h0M4115 4437h0M3217 4436h0M2274 4429h0M2688 4436h0M3963 4424h0M1284 4431h0M2017 4437h0M4452 4441h0M1981 4432h0M2771 4429h0M2855 4442h0M3785 4437h0M1023 4431h0M721 4445h0M4568 4440h0M2224 4444h0M1869 4443h0M2380 4431h0M1597 4440h0M4838 4441h0M3661 4427h0M1439 4428h0M1433 4441h0M4068 4434h0M1978 4425h0M2319 4436h0M3815 4436h0M2788 4428h0M1190 4432h0M3534 4444h0M2173 4446h0M1471 4428h0M2102 4445h0M2876 4437h0M4292 4425h0M1096 4425h0M2152 4432h0M3120 4442h0M1350 4433h0M1588 4429h0M3585 4446h0M2348 4431h0M1480 4435h0M3699 4429h0M3078 4429h0M3939 4425h0M3032 4439h0M1637 4430h0M2678 4434h0M763 4439h0M3324 4429h0M3947 4443h0M3512 4429h0M3259 4426h0M2629 4429h0M4386 4443h0M1607 4425h0M2497 4431h0M3650 4437h0M2286 4432h0M4156 4429h0M3391 4430h0M825 4438h0M4822 4428h0M2225 4446h0M3033 4431h0M2742 4427h0M3767 4429h0M1271 4433h0M3210 4442h0M3997 4441h0M4174 4440h0M2690 4435h0M3061 4425h0M2335 4424h0M1601 4430h0M4377 4437h0M2283 4441h0M4112 4430h0M2231 4431h0M3697 4442h0M2516 4437h0M2902 4428h0M2435 4444h0M3359 4427h0"/>
<path id="b0_14" d="M4181 4397h0M1110 4378h0M3980 4399h0M3469 4389h0M4098 4389h0M3542 4385h0M2973 4378h0M1908 4399h0M1394 4389h0M2592 4378h0M1399 4382h0M3752 4382h0M2803 4395h0M2484 4394h0M3821 4391h0M4011 4395h0M3778 4381h0M1827 4382h0M1837 4398h0M2249 4384h0M3059 4381h0M2608 4399h0M4140 4398h0M4028 4397h0M4246 4389h0M4173 4400h0M2034 4378h0M1465 4392h0M4023 4382h0M2532 4378h0M930 4386h0M2401 4387h0M3856 4389h0M4367 4393h0M1629 4383h0M4326 4396h0M3771 4400h0M1742 4386h0M3069 4387h0M3177 4396h0M3890 4382h0M2383 4397h0M3301 4391h0M1629 4393h0M4324 4379h0M3758 4387h0M3595 4387h0M1698 4379h0M2162 4381h0M4010 4397h0M1093 4396h0M4456 4385h0M2904 4381h0M3847 4397h0M2764 4393h0M828 4384h0M824 4387h0M752 4398h0M1111 4384h0M3869 4397h0M3741 4379h0M3078 4395h0M3352 4390h0M2346 4379h0M4954 4397h0M1309 4395h0M3419 4398h0M2899 4386h0M1220 4396h0M3284 4396h0M1882 4398h0M4177 4399h0M2759 4396h0M2503 4387h0M3434 4388h0M2208 4387h0M2339 4392h0M1186 4397h0M3608 4387h0M3423 4379h0M1500 4383h0M3885 4389h0M1779 4388h0M1679 4397h0M961 4400h0M1889 4399h0M3200 4385h0M1290 4390h0M1664 4398h0M3555 4396h0M1401 4391h0M2482 4384h0M1766 4399h0M3529 4390h0M2040 4392h0M3888 4385h0M1663 4391h0M3238 4399h0M1601 4391h0M1767 4396h0M4041 4381h0M2157 4399h0M2910 4379h0M2543 4379h0M3791 4396h0M2917 4394h0M2828 4386h0M1152 4384h0M1735 4394h0M2216 4394h0M963 4398h0M1782 4395h0M2967 4384h0M2171 4386h0M1581 4382h0M3923 4395h0M3313 4398h0M1828 4383h0M2491 4383h0M3022 4385h0M927 4389h0M2657 4399h0M2780 4399h0M3728 4390h0M1153 4380h0M2295 4377h0M4036 4389h0M4061 4398h0M759 4384h0M2891 4390h0M2282 4394h0M3320 4392h0M3976 4396h0M2580 4381h0M2725 4383h0M2121 4393h0M2257 4382h0M3150 4383h0M3535 4397h0M2156 4390h0M2085 4378h0M3572 4386h0M2648 4382h0M1236 4391h0M1449 4385h0M2823 4389h0M4159 4386h0M3548 4389h0M2716 4378h0M1917 4379h0M2344 4391h0M2176 4386h0M1401 4392h0M1601 4386h0M3113 4393h0M3913 4381h0M3833 4380h0M4137 4385h0M4071 4379h0M1343 4391h0M3981 4399h0M3220 4383h0M2041 4387h0M2598 4391h0M4953 4386h0M1857 4384h0M2390 4388h0M2851 4382h0M1989 4382h0M1235 4383h0M3743 4391h0M1507 4378h0M2874 4388h0M1957 4387h0M2816 4395h0M2309 4382h0M1259 4380h0M1954 4386h0M2197 4392h0M3281 4386h0M1322 4391h0M4185 4380h0M1472 4391h0M2284 4387h0M2653 4381h0M3235 4382h0M1942 4396h0M3466 4396h0M3613 4378h0M3802 4385h0M2949 4382h0M1516 4390h0M3199 4383h0M4688 4399h0M3456 4384h0M2020 4392h0M2376 4384h0M4033 4379h0M796 4382h0M1923 4398h0M2856 4400h0M3643 4398h0M2757 4386h0M3917 4390h0M3545 4386h0M1353 4393h0M2019 4394h0M4192 4386h0M3650 4397h0M3143 4389h0M2666 4385h0M1849 4385h0M2211 4392h0M2555 4387h0M3689 4385h0M3330 4389h0M2440 4396h0M4303 4399h0M959 4400h0M3958 4392h0M3224 4393h0M3519 4394h0M2953 4393h0M2796 4390h0M3690 4397h0M3694 4390h0M1684 4392h0M1894 4379h0M3422 4400h0M4410 4377h0M4162 4395h0M3517 4396h0M3339 4380h0M3989 4397h0M2902 4377h0M3693 4391h0M3500 4386h0M2764 4380h0M2325 4378h0M3853 4389h0M3610 4383h0M4697 4386h0M1966 4398h0M3149 4394h0M3060 4381h0M2084 4388h0M1835 4397h0M4183 4396h0M3523 4389h0M2580 4384h0M1525 4378h0M3726 4384h0M2978 4395h0M3589 4393h0M2077 4379h0M3692 4388h0M2568 4390h0M1071 4387h0M3355 4400h0M1567 4380h0M4110 4387h0M3222 4385h0M2629 4379h0M3075 4395h0M3290 4393h0M1838 4387h0M1236 4397h0M4204 4383h0M1332 4385h0M3590 4387h0M3613 4380h0M2561 4390h0M3353 4391h0M2559 4399h0M2678 4390h0M683 4395h0M2805 4393h0M2270 4385h0M1651 4385h0M2585 4395h0M3668 4387h0M1113 4396h0M1395 4393h0"/>
<path id="b0_26" d="M3018 4669h0M3378 4674h0M3538 4665h0M3286 4664h0M3285 4667h0M2251 4667h0M2167 4670h0M2855 4658h0M2122 4679h0M3656 4668h0M1907 4669h0M3205 4673h0M2278 4667h0M3823 4670h0M2848 4675h0M3519 4658h0M2858 4666h0M3547 4673h0M3919 4662h0M2565 4678h0M2708 4667h0M1646 4658h0M3802 4674h0M899 4658h0M2220 4674h0M2753 4675h0M1923 4675h0M2868 4680h0M2448 4663h0M1751 4664h0M3021 4670h0M2899 4679h0M2638 4676h0M2980 4660h0M2441 4674h0M3653 4662h0M3015 4667h0M2643 4676h0M3020 4667h0M2552 4671h0M3151 4658h0M2707 4671h0M3307 4680h0M2517 4664h0M2071 4659h0M2252 4680h0M2345 4664h0M3351 4670h0M2765 4664h0M3722 4671h0M1502 4664h0M3997 4659h0M3308 4675h0M3081 4658h0M3414 4674h0M3586 4679h0M4075 4663h0M2991 4661h0M2882 4671h0M2854 4662h0M2487 4665h0M3751 4658h0M2267 4668h0M1968 4659h0M3317 4668h0M4197 4677h0M2436 4668h0M1978 4663h0M3998 4673h0M3970 4662h0M1116 4671h0M3121 4665h0M3611 4659h0M3874 4674h0M3796 4664h0M3856 4680h0M1229 4667h0M2497 4659h0M1810 4664h0M3029 4674h0M3393 4667h0M2460 4678h0M3650 4670h0M3285 4678h0M3428 4678h0M3626 4658h0M1219 4667h0M2014 4680h0M2050 4674h0M2919 4659h0M2599 4665h0M3227 4673h0M2877 4673h0M4349 4668h0M2703 4660h0M3708 4674h0M3674 4658h0M3485 4658h0M2455 4660h0M3931 4663h0M3257 4666h0M4095 4672h0M3668 4678h0M2213 4657h0M1312 4675h0M3552 4666h0M3746 4679h0M4037 4660h0M2703 4678h0M3691 4678h0M3122 4672h0M3490 4678h0M2903 4667h0M4293 4672h0M2848 4679h0M2928 4668h0M2732 4660h0M3417 4679h0M3156 4665h0M2254 4679h0M3605 4677h0M3187 4674h0M3580 4663h0M2791 4674h0M2437 4660h0M3898 4666h0M2131 4661h0M2462 4658h0M3774 4661h0M2391 4678h0M3712 4676h0M2433 4677h0M2242 4660h0M3184 4677h0M3924 4658h0M3288 4669h0M2471 4675h0M3056 4672h0M2325 4662h0M4000 4661h0M3309 4677h0M3589 4662h0M3792 4667h0M2455 4664h0M3250 4677h0M4153 4659h0M3991 4665h0M2296 4669h0M2626 4680h0M3874 4674h0M3960 4660h0M2451 4676h0M4218 4665h0M2619 4676h0M2801 4677h0M3031 4659h0M3109 4657h0M3083 4673h0M3315 4659h0M3217 4679h0M1358 4666h0M4451 4666h0M3629 4659h0M1700 4679h0M3383 4671h0M2036 4657h0M3964 4680h0M2657 4675h0M4051 4670h0M2180 4667h0M2567 4679h0M3667 4667h0M2485 4658h0M2280 4666h0M2388 4666h0M4041 4664h0M1235 4663h0M2508 4674h0M3281 4670h0M3842 4661h0M1705 4657h0M2470 4668h0M4013 4677h0M2642 4678h0M3606 4677h0M2717 4670h0M4007 4664h0M3570 4671h0M3889 4676h0M3784 4674h0M2892 4660h0M2749 4675h0M3948 4666h0M3618 4660h0M3172 4667h0M3951 4668h0M1711 4676h0M4179 4664h0M2539 4668h0M3248 4668h0M3288 4678h0M4332 4668h0M3235 4674h0M3632 4678h0M2597 4661h0M2649 4658h0M3482 4676h0M3080 4677h0M3453 4679h0M4017 4675h0M2948 4670h0M1806 4679h0M2798 4661h0M3675 4658h0M3123 4670h0M3856 4669h0M1486 4666h0M2694 4680h0M3528 4665h0M3337 4669h0M3254 4660h0M4974 4663h0M2525 4680h0M2605 4667h0M3511 4668h0M2077 4663h0M2867 4670h0M3165 4668h0M3424 4675h0M3986 4679h0M4060 4678h0M3387 4672h0M2927 4663h0M2816 4677h0M2008 4664h0M3842 4671h0M3971 4666h0M3005 4669h0M2750 4670h0M3679 4675h0M3631 4667h0M3141 4660h0M1378 4673h0M3982 4658h0M2218 4674h0M3601 4664h0M3894 4662h0M3800 4662h0M2164 4670h0M2401 4679h0M2393 4675h0M3964 4664h0M3168 4673h0M3616 4661h0M3329 4664h0M3357 4678h0M3574 4678h0M3750 4670h0M3881 4668h0M3219 4670h0M3604 4668h0M1985 4673h0M2911 4668h0M2009 4672h0M2255 4660h0M3572 4657h0"/>
<path id="b0_2" d="M1563 4116h0M985 4115h0M2620 4103h0M2858 4112h0M2638 4106h0M3217 4104h0M1620 4102h0M2046 4103h0M2875 4113h0M2994 4119h0M3530 4102h0M2985 4103h0M3438 4108h0M3880 4109h0M3573 4110h0M2064 4113h0M1472 4106h0M3255 4119h0M2318 4103h0M730 4099h0M1376 4120h0M1468 4119h0M2028 4119h0M4987 4113h0M2030 4109h0M3761 4106h0M1887 4113h0M3720 4118h0M3838 4104h0M3915 4100h0M3376 4117h0M3152 4110h0M2425 4114h0M3283 4101h0M3680 4120h0M1781 4103h0M3803 4117h0M3697 4105h0M3104 4103h0M2807 4099h0M1484 4119h0M3472 4106h0M2479 4101h0M1332 4111h0M2740 4109h0M2941 4100h0M2274 4111h0M2909 4106h0M2845 4116h0M2008 4107h0M2039 4109h0M2581 4104h0M3165 4108h0M2220 4108h0M1422 4116h0M3446 4105h0M3807 4109h0M2144 4118h0M3668 4097h0M2181 4107h0M3141 4116h0M3857 4106h0M2065 4097h0M1190 4102h0M3918 4114h0M2682 4113h0M2093 4111h0M2881 4108h0M2883 4097h0M1468 4107h0M1084 4118h0M3099 4119h0M2425 4117h0M3891 4108h0M2306 4103h0M733 4105h0M3284 4103h0M3896 4099h0M2893 4108h0M2193 4115h0M2296 4112h0M782 4116h0M1628 4106h0M3488 4110h0M3001 4117h0M1685 4104h0M1988 4109h0M2981 4116h0M1245 4112h0M2900 4114h0M2033 4118h0M2146 4114h0M2888 4108h0M1596 4105h0M2668 4104h0M1440 4114h0M756 4116h0M2171 4118h0M2465 4120h0M3610 4104h0M1004 4116h0M1068 4112h0M1469 4113h0M3685 4113h0M2963 4119h0M3860 4116h0M1721 4108h0M755 4098h0M2082 4117h0M3678 4109h0M2600 4119h0M2571 4110h0M4715 4119h0M2269 4117h0M1493 4109h0M3152 4097h0M1412 4100h0M3456 4112h0M3964 4117h0M2368 4108h0M901 4103h0M810 4106h0M2233 4102h0M2303 4114h0M3443 4101h0M3525 4107h0M1301 4108h0M2949 4101h0M3804 4119h0M3995 4118h0M3573 4119h0M2536 4109h0M3776 4108h0M2563 4101h0M3814 4112h0M1855 4110h0M1517 4108h0M2280 4100h0M2865 4101h0M3138 4106h0M3211 4097h0M2333 4101h0M3688 4116h0M2430 4102h0M3799 4118h0M1369 4108h0"/>
<path id="b0_3" d="M2002 4136h0M2116 4138h0M1013 4140h0M3871 4142h0M1965 4134h0M2352 4121h0M1594 4126h0M2267 4136h0M3850 4122h0M1925 4121h0M3916 4142h0M2234 4128h0M2399 4140h0M1802 4125h0M1576 4131h0M2652 4143h0M2119 4121h0M3276 4135h0M3017 4132h0M743 4130h0M1386 4129h0M1058 4138h0M1460 4136h0M2035 4139h0M2091 4122h0M3576 4135h0M812 4143h0M3923 4132h0M3941 4125h0M3744 4142h0M1294 4128h0M3511 4124h0M3843 4130h0M3116 4130h0M3277 4131h0M2216 4134h0M1412 4141h0M1085 4138h0M2678 4140h0M3625 4142h0M1924 4131h0M3836 4143h0M2385 4124h0M1573 4134h0M866 4141h0M2368 4127h0M1821 4140h0M2921 4139h0M1841 4140h0M3672 4128h0M2643 4121h0M3030 4140h0M1503 4124h0M2734 4130h0M1759 4122h0M2483 4121h0M3841 4129h0M2284 4137h0M3874 4131h0M1714 4131h0M3374 4124h0M2984 4141h0M1921 4142h0M2578 4130h0M2168 4121h0M2325 4136h0M2585 4124h0M1433 4131h0M1702 4123h0M4095 4139h0M1295 4122h0M716 4120h0M3599 4125h0M2225 4142h0M978 4142h0M2455 4134h0M2817 4127h0M2653 4124h0M1561 4141h0M4638 4124h0M1867 4126h0M1632 4126h0M2101 4132h0M1873 4128h0M2893 4130h0M2271 4132h0M927 4128h0M1851 4133h0M1542 4130h0M1252 4125h0M3080 4123h0M1913 4135h0M1872 4142h0M3751 4128h0M2001 4121h0M1872 4123h0M3803 4130h0M2234 4143h0M1894 4124h0M2071 4123h0M1352 4135h0M4104 4142h0M2556 4141h0M1470 4137h0M3146 4139h0M1747 4137h0M3749 4123h0M1094 4135h0M3746 4138h0M2645 4122h0M2878 4126h0M3371 4134h0M2209 4140h0M1759 4138h0M1058 4142h0M3162 4126h0M1919 4126h0M2438 4130h0M3081 4126h0M2727 4127h0M2111 4132h0M3180 4138h0M2310 4134h0M2503 4130h0M2152 4123h0M1551 4125h0M1890 4143h0M3839 4133h0M3653 4142h0M3115 4128h0M1544 4139h0M2893 4122h0M2858 4121h0M3058 4136h0M1272 4126h0M4113 4139h0M1522 4133h0M1541 4121h0M3002 4139h0M1432 4135h0M2648 4138h0M2973 4123h0M2127 4124h0M3124 4139h0M3943 4125h0M2132 4124h0M1665 4143h0M4684 4140h0M1500 4128h0M3901 4128h0M3794 4136h0M3802 4131h0M1606 4141h0M3909 4135h0M2715 4143h0M3886 4122h0M3034 4143h0M3690 4135h0M3749 4136h0M1378 4133h0M1917 4126h0M1553 4128h0M3847 4128h0M2815 4136h0M1302 4134h0M861 4139h0M1365 4127h0M1959 4142h0M2215 4128h0M2021 4130h0M3191 4129h0M1732 4131h0M2626 4121h0M2120 4130h0M1441 4121h0M3014 4125h0M2469 4142h0M1845 4133h0M3948 4138h0M3703 4134h0M3835 4131h0M3916 4142h0M2245 4134h0M1675 4133h0M2817 4133h0M1061 4136h0M1649 4139h0M3723 4142h0M2771 4125h0M3762 4124h0M3954 4127h0"/>
<path id="b0_13" d="M2015 4368h0M2134 4362h0M3218 4355h0M2912 4355h0M902 4358h0M2164 4356h0M3458 4356h0M1665 4354h0M2943 4366h0M3427 4370h0M2844 4359h0M2041 4370h0M1234 4373h0M3537 4361h0M2534 4358h0M4126 4354h0M2323 4359h0M4053 4365h0M1304 4356h0M2938 4357h0M3166 4364h0M3622 4371h0M3641 4374h0M4129 4364h0M4082 4361h0M3422 4362h0M2259 4371h0M1815 4359h0M1099 4373h0M2334 4360h0M2014 4357h0M2645 4370h0M2084 4360h0M2601 4367h0M1860 4355h0M1762 4372h0M3721 4355h0M2086 4355h0M2492 4369h0M1432 4359h0M2641 4364h0M2485 4355h0M4133 4361h0M2465 4367h0M2922 4370h0M4063 4374h0M3392 4374h0M1588 4363h0M1065 4362h0M2383 4376h0M2270 4365h0M809 4365h0M3771 4365h0M3537 4375h0M3832 4368h0M2281 4369h0M2360 4361h0M2461 4360h0M863 4356h0M2929 4371h0M4029 4364h0M2345 4372h0M3531 4363h0M2799 4366h0M3907 4367h0M3061 4365h0M3236 4365h0M2372 4367h0M3510 4358h0M1245 4361h0M3281 4355h0M2105 4364h0M2210 4360h0M4183 4370h0M2857 4372h0M3759 4377h0M2724 4373h0M3152 4356h0M4206 4368h0M1607 4365h0M1419 4373h0M3906 4365h0M1939 4359h0M3808 4376h0M1243 4362h0M3182 4356h0M3270 4373h0M3521 4359h0M1828 4370h0M1530 4366h0M1285 4362h0M3318 4355h0M2693 4376h0M3208 4370h0M3052 4374h0M2686 4371h0M1562 4377h0M3906 4356h0M1063 4355h0M3137 4367h0M1006 4365h0M2358 4354h0M1298 4354h0M3790 4375h0M1585 4365h0M4251 4375h0M998 4365h0M3746 4367h0M2834 4365h0M3111 4354h0M4025 4368h0M2526 4361h0M2816 4361h0M659 4365h0M2733 4369h0M3177 4357h0M1389 4354h0M3585 4358h0M1809 4358h0M4053 4368h0M3072 4376h0M2928 4361h0M2382 4363h0M2986 4360h0M3149 4364h0M5170 4362h0M1966 4371h0M1291 4360h0M1634 4369h0M3154 4374h0M4070 4369h0M1820 4367h0M3545 4367h0M1379 4371h0M2664 4361h0M1464 4376h0M3326 4360h0M1041 4376h0M3120 4367h0M997 4357h0M2646 4376h0M3790 4364h0M2700 4358h0M1823 4366h0M934 4375h0M2144 4364h0M4067 4368h0M3627 4374h0M1949 4369h0M4039 4375h0M2751 4374h0M2709 4359h0M2853 4374h0M1306 4358h0M1571 4367h0M2829 4365h0M1237 4371h0M2538 4359h0M2218 4372h0M2455 4372h0M740 4375h0M4068 4364h0M1816 4363h0M2999 4360h0M4099 4362h0M1672 4358h0M1362 4356h0M2827 4356h0M2828 4358h0M2447 4367h0M3445 4369h0M4110 4369h0M2411 4373h0M3469 4363h0M2376 4362h0M1632 4376h0M2132 4376h0M2083 4373h0M3791 4354h0M2268 4376h0M2684 4366h0M2645 4363h0M3424 4362h0M2697 4374h0M3261 4358h0M1525 4354h0M3728 4376h0M4921 4358h0M1431 4374h0M2861 4375h0M2841 4374h0M2457 4376h0M3849 4357h0M2717 4354h0M4192 4364h0M4004 4362h0M3561 4358h0M2731 4356h0M1865 4368h0M1899 4364h0M3320 4362h0M2848 4369h0M2355 4371h0M2157 4359h0M2387 4362h0M1638 4363h0M3222 4370h0M3965 4373h0M2445 4357h0M3005 4359h0M2112 4360h0M2445 4373h0M2141 4367h0M1304 4363h0M2453 4375h0M3386 4361h0M2239 4375h0M3539 4357h0M1742 4372h0M3917 4361h0M2882 4356h0M4095 4363h0M1471 4361h0M2706 4369h0M1932 4364h0M3670 4367h0M3954 4365h0M3998 4355h0M2703 4367h0M2302 4375h0M1576 4368h0M1936 4376h0M2605 4370h0"/>
<path id="b0_9" d="M1475 4262h0M3715 4264h0M2574 4280h0M1997 4267h0M3618 4270h0M3704 4279h0M1747 4272h0M3082 4271h0M1591 4279h0M2357 4271h0M3017 4275h0M2170 4266h0M1834 4271h0M2066 4277h0M1341 4265h0M1019 4271h0M1436 4278h0M3257 4279h0M3525 4276h0M3622 4270h0M2682 4266h0M2502 4279h0M2659 4282h0M2932 4268h0M1446 4268h0M3693 4274h0M3563 4266h0M3938 4269h0M1495 4274h0M2770 4277h0M2588 4272h0M2265 4272h0M1763 4282h0M1365 4268h0M1767 4277h0M1555 4270h0M2063 4279h0M3001 4269h0M928 4267h0M2179 4280h0M2427 4266h0M1724 4262h0M1751 4281h0M3912 4272h0M2003 4270h0M2867 4278h0M2711 4281h0M4042 4279h0M1342 4273h0M1348 4278h0M4607 4275h0M3790 4271h0M2757 4274h0M1542 4264h0M2101 4269h0M2807 4283h0M2373 4261h0M3719 4264h0M2340 4283h0M3379 4270h0M2677 4270h0M3719 4268h0M1431 4266h0M2672 4266h0M1801 4276h0M3750 4273h0M2857 4275h0M3506 4262h0M2423 4282h0M2264 4273h0M3533 4281h0M1654 4261h0M3457 4283h0M2389 4261h0M3471 4272h0M3559 4265h0M3586 4267h0M3169 4279h0M2125 4276h0M2978 4274h0M782 4276h0M1894 4281h0M1871 4262h0M3284 4272h0M2768 4274h0M1234 4277h0M1899 4272h0M3439 4262h0M2802 4272h0M2661 4269h0M1805 4272h0M1166 4270h0M1950 4282h0M3714 4267h0M2033 4265h0M1276 4270h0M1678 4281h0M1868 4276h0M2587 4272h0M2608 4281h0M1177 4266h0M686 4280h0M1024 4269h0M2831 4279h0M2659 4269h0M3731 4268h0M1224 4279h0M1270 4271h0M3806 4281h0M3785 4272h0M2815 4283h0M1939 4276h0M1196 4266h0M2485 4263h0M1059 4268h0M3866 4261h0M2938 4280h0M706 4272h0M1923 4277h0M3871 4260h0M1690 4276h0M3955 4264h0M3589 4277h0M3949 4279h0M2485 4272h0M2685 4283h0M2417 4267h0M3292 4274h0M2171 4277h0M2164 4273h0M2303 4283h0M2556 4268h0M2652 4269h0M1734 4272h0M1750 4266h0M2497 4271h0M2009 4270h0M2313 4267h0M3255 4270h0M2560 4281h0M1674 4272h0M1156 4272h0M2222 4273h0M1316 4266h0M1322 4268h0M2356 4266h0M1512 4277h0M2789 4268h0M3976 4273h0M1232 4268h0M1997 4269h0M1782 4274h0M3438 4266h0M2199 4276h0M2448 4273h0M1949 4272h0M1790 4277h0M4857 4272h0M2949 4260h0M3769 4277h0M1257 4267h0M2222 4277h0M3874 4270h0M2852 4267h0M2137 4283h0M1498 4273h0M1385 4274h0"/>
<path id="b0_29" d="M4016 4736h0M3647 4748h0M4055 4734h0M2458 4747h0M2541 4727h0M2447 4749h0M2283 4731h0M2541 4735h0M2100 4727h0M3494 4747h0M3733 4735h0M2705 4744h0M3870 4750h0M3959 4743h0M1569 4748h0M3415 4729h0M3615 4750h0M3846 4734h0M3349 4745h0M2563 4740h0M3607 4740h0M2504 4748h0M4065 4747h0M3085 4728h0M3819 4741h0M2731 4743h0M3420 4742h0M3878 4730h0M3923 4744h0M3274 4728h0M2283 4731h0M2322 4730h0M1552 4741h0M2334 4740h0M3921 4746h0M2782 4750h0M3127 4744h0M2635 4734h0M3990 4750h0M2354 4742h0M3326 4744h0M4154 4738h0M3180 4746h0M2730 4750h0M2194 4745h0M4148 4749h0M2318 4735h0M1449 4736h0M2955 4736h0M2594 4748h0M3565 4737h0M2882 4743h0M2101 4732h0M3350 4733h0M3621 4740h0M3612 4731h0M2595 4749h0M3945 4750h0M2494 4746h0M2977 4750h0M3891 4750h0M2702 4742h0M4069 4730h0M3629 4729h0M2861 4741h0M2267 4741h0M3350 4735h0M3321 4748h0M3713 4731h0M2361 4747h0M4156 4733h0M2094 4750h0M3725 4733h0M3746 4731h0M2508 4737h0M1676 4739h0M3881 4736h0M2914 4739h0M2467 4729h0M1133 4730h0M3073 4739h0M3400 4737h0M2891 4748h0M1618 4732h0M4045 4749h0M1182 4733h0M3661 4746h0M4527 4747h0M3705 4741h0M2378 4730h0M3000 4743h0M928 4747h0M3651 4738h0M2341 4731h0M2205 4737h0M2866 4742h0M3780 4734h0M3359 4749h0M2551 4744h0M2460 4746h0M3856 4746h0M2546 4732h0M4385 4738h0M3318 4732h0M3179 4745h0M1748 4746h0M2474 4729h0M3759 4731h0M2913 4745h0M3401 4727h0M5171 4744h0M3154 4746h0M4058 4728h0M3325 4736h0M1942 4736h0M4279 4728h0M3344 4736h0M4140 4736h0M3169 4743h0M2672 4740h0M3550 4741h0M2048 4745h0M2589 4729h0M1861 4746h0M2217 4749h0M3506 4747h0M2916 4746h0M1204 4749h0M3780 4738h0M2212 4728h0M3582 4748h0M3659 4740h0M2606 4729h0M1266 4736h0M4219 4744h0M3363 4742h0M3963 4741h0M2124 4747h0M2427 4741h0M2452 4734h0M2956 4742h0M3116 4732h0M4054 4746h0M3025 4731h0M3265 4741h0M2394 4739h0M2919 4733h0M1900 4745h0M2656 4738h0M4083 4750h0M3373 4750h0M3100 4749h0M2219 4731h0M2631 4733h0M2832 4730h0M2389 4739h0M4281 4737h0M2530 4735h0M2545 4745h0M3609 4730h0M3248 4732h0M3494 4750h0M4312 4747h0M3004 4748h0M2892 4740h0M1760 4749h0M3701 4738h0M2476 4743h0M3166 4737h0M3174 4737h0M1896 4746h0M2130 4743h0M4174 4740h0M3834 4727h0M3045 4747h0M3881 4741h0M3862 4742h0M3814 4749h0M2956 4735h0M3724 4743h0M2337 4740h0M2966 4736h0M3675 4738h0M4037 4747h0M2617 4731h0M3701 4743h0M3345 4746h0M3445 4728h0M2215 4750h0M3240 4744h0M3435 4736h0M3730 4729h0M2176 4749h0M3802 4737h0M2187 4737h0M2353 4729h0M2322 4742h0M3661 4736h0M2339 4747h0M2681 4745h0M4079 4741h0M3250 4744h0M2503 4731h0M3053 4747h0M2818 4731h0M2011 4732h0M3944 4746h0M3748 4733h0"/>
<path id="b0_4" d="M3535 4158h0M2698 4164h0M1842 4162h0M2827 4161h0M2681 4160h0M1532 4164h0M3481 4151h0M999 4166h0M2533 4146h0M1365 4165h0M1791 4147h0M3730 4157h0M703 4152h0M3618 4158h0M2445 4150h0M2469 4148h0M2050 4146h0M1254 4144h0M2247 4156h0M2415 4145h0M3621 4150h0M1530 4146h0M916 4163h0M943 4165h0M4326 4165h0M4007 4149h0M2745 4154h0M2562 4159h0M3152 4161h0M3095 4164h0M1815 4145h0M2348 4155h0M1022 4158h0M1635 4157h0M1538 4154h0M2782 4145h0M3912 4146h0M2854 4160h0M3747 4158h0M1106 4153h0M1848 4163h0M1841 4160h0M2101 4151h0M3720 4163h0M1693 4150h0M2188 4152h0M2276 4157h0M2100 4163h0M1404 4144h0M3776 4162h0M969 4146h0M942 4147h0M2015 4164h0M2331 4158h0M1326 4144h0M1247 4155h0M1574 4146h0M3284 4165h0M1206 4160h0M2622 4156h0M3370 4150h0M2955 4150h0M1650 4150h0M2823 4153h0M2051 4163h0M2306 4152h0M2222 4156h0M3697 4152h0M3782 4152h0M2508 4162h0M2836 4147h0M2294 4145h0M3226 4154h0M3658 4145h0M2276 4166h0M1462 4158h0M1728 4148h0M2070 4164h0M1526 4161h0M2416 4152h0M2779 4160h0M3097 4150h0M1710 4154h0M2188 4155h0M2529 4150h0M3945 4166h0M2961 4146h0M3046 4164h0M1771 4147h0M1965 4147h0M4481 4160h0M2520 4160h0M3216 4151h0M1896 4156h0M2486 4149h0M1321 4166h0M3466 4160h0M2115 4165h0M3764 4160h0M2131 4164h0M4084 4146h0M1855 4160h0M3594 4164h0M2959 4161h0M2295 4163h0M1185 4154h0M2789 4163h0M2637 4159h0M2581 4149h0M3857 4163h0M796 4148h0M1964 4152h0M2743 4162h0M2606 4161h0M1324 4162h0M3566 4160h0M2924 4158h0M1653 4150h0M1296 4165h0M4663 4154h0M1592 4161h0M2892 4159h0M3809 4160h0M2103 4145h0M3738 4161h0M3813 4163h0M3553 4148h0M1200 4165h0M3511 4160h0M1651 4153h0M1753 4160h0M3253 4166h0M2150 4154h0M1161 4161h0M2023 4153h0M2430 4164h0M3068 4150h0M1404 4143h0M3294 4150h0M2039 4159h0M2263 4164h0M2778 4151h0M1359 4156h0M771 4152h0M2609 4152h0M1849 4167h0M2926 4147h0M1019 4152h0M3664 4161h0M2019 4165h0M4075 4151h0M2183 4146h0M2511 4152h0M2524 4156h0M2617 4158h0M1146 4155h0M3544 4161h0M3214 4147h0M2075 4150h0M3431 4158h0M2993 4149h0M839 4151h0M1705 4157h0M904 4148h0M2317 4163h0M2376 4158h0M3457 4153h0M2552 4146h0M3901 4159h0M2309 4160h0M2910 4149h0M3546 4150h0M2033 4163h0M3584 4153h0M2649 4164h0M2526 4151h0M1995 4166h0M3570 4159h0M3993 4163h0M2541 4163h0M1290 4157h0M2240 4143h0M1336 4153h0M1774 4156h0M2606 4161h0M2733 4148h0M1267 4158h0M2589 4153h0M1365 4148h0M3598 4147h0M2462 4158h0M2174 4153h0M2785 4161h0M3184 4155h0M747 4154h0M3967 4157h0M2210 4144h0M2544 4158h0M3735 4147h0M1909 4151h0M2850 4165h0M4187 4164h0M3662 4145h0M3431 4147h0M3511 4153h0M3639 4158h0M3856 4148h0M1436 4159h0M3177 4155h0M1179 4161h0M1372 4149h0M1495 4162h0M3534 4161h0M1319 4152h0M1178 4166h0"/>
<path id="b0_36" d="M2386 4895h0M3199 4905h0M3574 4912h0M3338 4905h0M1691 4895h0M4194 4907h0M3109 4903h0M2962 4899h0M3349 4899h0M3254 4895h0M3739 4894h0M3108 4908h0M2425 4910h0M2545 4892h0M2767 4900h0M3275 4892h0M3673 4905h0M3778 4909h0M3290 4910h0M1326 4903h0M2760 4897h0M3403 4899h0M2369 4907h0M2719 4905h0M2349 4899h0M2757 4896h0M3843 4901h0M3363 4894h0M2723 4898h0M3057 4896h0M3072 4912h0M3479 4895h0M3620 4914h0M3404 4908h0M2436 4897h0M3253 4902h0M4306 4898h0M3132 4912h0M3321 4912h0M3081 4914h0M3211 4913h0M3409 4891h0M2185 4892h0M3355 4901h0M2725 4894h0M2270 4911h0M2253 4902h0M4185 4902h0M4007 4897h0M2793 4893h0M3113 4892h0M2958 4900h0M3240 4891h0M3838 4898h0M3791 4901h0M3485 4897h0M1634 4899h0M3357 4897h0M2609 4913h0M3044 4908h0M3625 4900h0M2929 4913h0M2252 4904h0M2391 4909h0M2817 4891h0M3021 4892h0M2646 4895h0M3723 4894h0M2813 4896h0M2435 4908h0M3618 4894h0M3764 4907h0M4016 4896h0M2731 4900h0M2754 4900h0M2919 4902h0M3415 4898h0M2499 4891h0M2595 4895h0M2792 4912h0M3267 4893h0M3921 4898h0M3524 4902h0M3636 4898h0M2604 4911h0M3422 4893h0M3911 4891h0M3073 4901h0M3215 4911h0M3777 4904h0M3555 4909h0M3576 4894h0M2779 4913h0M3340 4911h0M2954 4903h0M3307 4893h0M2464 4897h0M3179 4902h0M3012 4892h0M3221 4897h0M3220 4894h0M1568 4902h0M3304 4908h0M2943 4907h0M3782 4898h0M3672 4892h0M3709 4897h0M2939 4913h0M3057 4893h0M2591 4903h0M3145 4896h0M3016 4906h0M2254 4910h0M2343 4899h0M3442 4911h0M2750 4906h0M2381 4908h0M2176 4912h0M2319 4913h0M3684 4908h0M3382 4913h0M2406 4904h0M3158 4903h0M3413 4892h0M2865 4896h0M2474 4909h0M2795 4902h0M2233 4899h0M3908 4895h0M3801 4892h0M3575 4895h0M3962 4908h0M3138 4913h0M3962 4894h0M2654 4909h0M2917 4909h0M3699 4908h0M2520 4893h0M2470 4896h0M3828 4896h0M3562 4900h0M2942 4903h0M3259 4898h0M2927 4894h0M2980 4911h0M3704 4905h0M3081 4896h0M3925 4899h0M3276 4902h0M3300 4899h0M2631 4894h0M1883 4906h0M3263 4911h0M3478 4892h0M3424 4894h0M2328 4906h0M3270 4911h0M3339 4893h0M3550 4895h0M3565 4893h0M2645 4896h0M3731 4894h0M3744 4898h0M2543 4892h0M3836 4908h0M3168 4893h0M2969 4891h0M3713 4903h0M2289 4897h0M3554 4899h0M3436 4897h0M4018 4900h0M2510 4897h0"/>
<path id="b0_25" d="M2579 4649h0M1886 4655h0M3324 4645h0M3924 4638h0M3483 4644h0M4000 4653h0M4343 4648h0M2450 4646h0M2326 4636h0M3143 4650h0M4075 4644h0M2504 4642h0M2131 4641h0M3403 4649h0M2706 4635h0M3425 4637h0M2929 4647h0M2620 4643h0M1827 4653h0M3806 4646h0M4121 4644h0M2828 4642h0M3486 4642h0M3563 4654h0M3183 4637h0M3691 4639h0M1914 4654h0M2610 4643h0M2340 4647h0M1490 4651h0M4118 4647h0M2265 4656h0M3126 4654h0M4162 4641h0M2364 4643h0M2421 4645h0M2957 4643h0M2422 4640h0M2339 4639h0M3616 4643h0M4030 4643h0M3889 4650h0M2860 4642h0M1938 4642h0M3160 4638h0M1360 4635h0M3420 4638h0M2646 4643h0M3341 4644h0M2913 4645h0M3595 4638h0M3023 4656h0M3343 4639h0M3218 4638h0M3224 4649h0M2604 4643h0M4121 4634h0M3275 4654h0M3430 4651h0M1873 4643h0M2009 4638h0M2997 4643h0M3170 4643h0M3279 4639h0M3282 4653h0M3514 4639h0M2803 4657h0M3902 4648h0M2134 4648h0M3743 4647h0M2934 4634h0M2040 4642h0M2662 4644h0M2833 4645h0M2710 4636h0M2887 4647h0M2609 4641h0M3299 4644h0M4016 4650h0M2380 4656h0M3627 4638h0M3669 4647h0M4109 4642h0M3644 4655h0M3484 4647h0M2176 4655h0M3425 4648h0M2289 4637h0M2259 4651h0M2961 4634h0M3766 4636h0M1247 4656h0M2909 4656h0M2039 4654h0M2885 4644h0M3255 4648h0M4008 4656h0M4033 4656h0M3411 4648h0M4636 4640h0M3286 4644h0M2952 4635h0M4608 4644h0M2914 4654h0M1783 4655h0M3849 4649h0M2127 4638h0M3077 4637h0M3808 4647h0M3329 4642h0M1991 4646h0M2286 4645h0M3434 4654h0M3150 4646h0M1955 4639h0M1729 4656h0M2021 4654h0M2673 4657h0M3917 4649h0M2524 4647h0M2518 4637h0M3281 4645h0M2991 4651h0M2048 4657h0M3718 4652h0M2923 4637h0M2447 4642h0M3211 4648h0M2041 4651h0M1764 4654h0M1965 4653h0M3547 4645h0M2993 4649h0M2472 4636h0M2805 4648h0M2160 4638h0M3694 4634h0M3006 4641h0M3263 4657h0M3597 4636h0M2983 4635h0M3275 4656h0M3637 4639h0M3030 4645h0M3942 4655h0M1991 4655h0M3606 4635h0M2892 4651h0M2499 4636h0M1965 4650h0M3365 4635h0M2504 4648h0M4224 4642h0M2315 4636h0M3161 4653h0M2893 4652h0M1359 4651h0M3091 4642h0M3124 4641h0M3920 4642h0M2492 4654h0M1395 4656h0M3438 4649h0M3772 4639h0M3980 4653h0M2740 4639h0M3290 4637h0M3814 4640h0M3796 4646h0M2629 4653h0M2883 4650h0M3234 4651h0M1533 4651h0M2805 4644h0M3564 4644h0M3808 4643h0M2676 4653h0M2285 4634h0M2847 4638h0M2516 4642h0M3829 4648h0M2799 4641h0M3862 4637h0M2001 4642h0M2911 4653h0M2393 4638h0M2772 4657h0M3523 4654h0M2395 4636h0M3705 4640h0M2728 4644h0M3588 4635h0M3544 4644h0M2560 4646h0M3125 4649h0M2440 4655h0M2832 4646h0M2232 4651h0M3659 4656h0M3441 4653h0M3851 4657h0M3856 4643h0M2873 4638h0M3784 4647h0M3873 4649h0M2596 4639h0M2834 4637h0M3976 4648h0M1877 4635h0M3599 4648h0M3131 4656h0M2585 4641h0M2061 4654h0M1878 4644h0M1838 4647h0M3588 4644h0M3588 4647h0M2200 4653h0M3017 4637h0M2813 4656h0M2765 4655h0M3256 4636h0M3670 4645h0M2460 4638h0M2497 4647h0M862 4656h0M2382 4634h0M2853 4654h0M3507 4638h0M2062 4635h0M3216 4656h0M2871 4655h0M4124 4634h0M2603 4647h0M3165 4636h0M2476 4654h0M3625 4637h0M3616 4651h0M1880 4636h0M3169 4635h0M2123 4645h0M3543 4655h0M2352 4653h0M2995 4636h0M2965 4651h0M2377 4650h0M1774 4648h0M3100 4649h0M3374 4656h0M2563 4653h0M946 4635h0M2848 4645h0M2433 4635h0M2801 4655h0M3663 4646h0M3075 4648h0M4196 4657h0"/>
<path id="b0_12" d="M3780 4338h0M3653 4335h0M2848 4347h0M1931 4339h0M1973 4332h0M962 4342h0M3539 4334h0M2894 4349h0M779 4331h0M780 4347h0M2613 4339h0M1758 4347h0M3719 4345h0M2843 4337h0M2663 4350h0M1456 4332h0M3580 4333h0M3012 4346h0M3861 4335h0M4169 4337h0M1599 4353h0M1956 4346h0M3233 4338h0M3612 4337h0M3465 4343h0M1479 4337h0M2032 4347h0M2858 4351h0M4203 4339h0M3244 4348h0M1882 4353h0M4025 4337h0M3988 4332h0M1638 4351h0M1233 4342h0M2249 4351h0M4072 4353h0M3116 4339h0M1618 4334h0M3138 4333h0M3405 4331h0M2964 4342h0M2835 4337h0M3718 4337h0M3145 4345h0M1101 4352h0M4354 4332h0M3201 4339h0M3833 4331h0M2957 4351h0M3076 4345h0M1463 4349h0M2567 4349h0M1206 4347h0M2926 4353h0M3786 4335h0M2247 4353h0M3808 4338h0M2066 4343h0M4124 4335h0M3854 4345h0M3711 4349h0M3816 4333h0M3738 4331h0M2576 4350h0M3371 4332h0M2660 4340h0M3294 4348h0M4030 4332h0M4624 4339h0M4163 4347h0M4308 4333h0M2987 4339h0M2727 4332h0M3653 4342h0M1571 4351h0M1029 4334h0M1473 4347h0M2821 4351h0M2440 4331h0M3854 4344h0M776 4347h0M3577 4341h0M3847 4331h0M3351 4330h0M1531 4332h0M2493 4333h0M4126 4334h0M4092 4344h0M2664 4337h0M3874 4337h0M3652 4342h0M4141 4337h0M2270 4348h0M4178 4349h0M3946 4343h0M2483 4352h0M3633 4346h0M2435 4334h0M4647 4336h0M3256 4341h0M3439 4335h0M1414 4337h0M3976 4344h0M1534 4331h0M3448 4350h0M4847 4336h0M2719 4331h0M3463 4332h0M2707 4340h0M1663 4347h0M1139 4341h0M1885 4345h0M1649 4348h0M2299 4332h0M4355 4344h0M2196 4332h0M3021 4331h0M3396 4331h0M1872 4340h0M2373 4347h0M1977 4336h0M3649 4331h0M3527 4341h0M2766 4332h0M1751 4338h0M1743 4335h0M2222 4351h0M2718 4339h0M1043 4335h0M3502 4337h0M779 4339h0M2911 4340h0M3431 4350h0M2107 4331h0M3971 4331h0M3429 4350h0M2164 4341h0M1801 4332h0M4343 4339h0M2887 4341h0M3360 4332h0M3337 4332h0M4088 4337h0M3685 4345h0M3137 4351h0M4042 4333h0M3084 4331h0M2081 4332h0M3829 4344h0M3756 4343h0M3400 4339h0M2429 4352h0M2717 4341h0M3270 4335h0M4636 4331h0M2360 4346h0M4128 4347h0M1956 4331h0M1311 4341h0M4001 4342h0M4369 4352h0M2623 4350h0M3457 4337h0M3718 4345h0M1859 4333h0M4277 4344h0M2632 4349h0M2565 4351h0M4128 4340h0M4336 4338h0M1904 4343h0M1748 4331h0M1811 4341h0M3500 4351h0M4213 4332h0M3672 4340h0M2330 4336h0M3686 4352h0M1384 4333h0M710 4331h0M3370 4344h0M2292 4331h0M2292 4333h0M2414 4349h0M3021 4337h0M2751 4334h0M3693 4331h0M3189 4352h0M4010 4349h0M2609 4341h0M3091 4338h0M2793 4349h0M3332 4337h0M4433 4351h0M2897 4353h0M2727 4335h0M2642 4347h0M1769 4351h0M4704 4345h0M4139 4341h0M4179 4346h0M3011 4331h0M4064 4332h0M2500 4331h0M1952 4334h0M1760 4332h0M3472 4341h0M3969 4335h0M3821 4351h0M1533 4351h0M4199 4342h0M3482 4353h0M4110 4348h0M3423 4341h0M4110 4343h0"/>
<path id="b0_33" d="M4064 4829h0M3845 4843h0M3477 4825h0M2858 4827h0M2355 4832h0M3064 4825h0M3331 4826h0M3398 4826h0M3468 4838h0M2163 4837h0M3782 4821h0M4006 4840h0M3375 4824h0M4210 4841h0M3777 4842h0M3814 4842h0M3652 4840h0M3857 4840h0M2215 4833h0M3364 4826h0M3014 4836h0M3611 4836h0M1867 4838h0M4224 4837h0M4034 4821h0M2060 4826h0M2353 4836h0M2941 4828h0M3656 4833h0M2720 4834h0M2736 4833h0M3621 4829h0M3451 4837h0M3692 4828h0M3086 4831h0M2022 4836h0M4065 4841h0M4274 4833h0M2511 4828h0M2223 4842h0M2046 4842h0M3351 4827h0M3793 4844h0M3294 4821h0M2004 4823h0M1463 4843h0M2874 4829h0M2576 4823h0M2556 4828h0M4035 4843h0M2181 4827h0M2487 4840h0M3437 4835h0M4123 4825h0M3636 4837h0M3035 4835h0M2169 4822h0M3740 4836h0M1259 4843h0M2655 4834h0M3531 4841h0M4051 4829h0M2932 4826h0M2637 4837h0M3069 4824h0M3658 4825h0M2654 4828h0M4055 4824h0M3392 4834h0M4053 4824h0M3204 4829h0M3162 4824h0M3720 4838h0M3919 4828h0M2703 4837h0M2289 4839h0M2673 4843h0M2642 4833h0M2766 4833h0M2454 4837h0M3176 4828h0M3547 4839h0M3555 4828h0M3383 4839h0M1711 4837h0M3473 4838h0M2770 4825h0M3868 4823h0M3467 4837h0M2814 4838h0M3098 4828h0M2269 4843h0M3006 4834h0M1827 4823h0M3545 4837h0M1068 4843h0M2618 4833h0M3409 4831h0M3645 4835h0M3209 4826h0M3411 4822h0M4134 4826h0M3698 4827h0M3643 4834h0M3598 4823h0M2836 4828h0M3848 4824h0M3708 4829h0M2012 4833h0M4078 4831h0M3455 4823h0M2016 4832h0M2739 4832h0M3071 4842h0M2627 4843h0M3749 4835h0M3201 4823h0M4207 4831h0M2510 4839h0M3199 4833h0M3873 4826h0M3657 4835h0M3461 4842h0M2207 4832h0M2398 4825h0M2722 4833h0M3259 4831h0M3910 4838h0M3281 4827h0M3622 4826h0M4165 4841h0M3204 4832h0M3289 4825h0M3385 4842h0M2653 4826h0M4105 4824h0M2752 4841h0M3007 4826h0M3917 4824h0M3602 4836h0M3353 4826h0M3070 4836h0M3585 4834h0M2221 4838h0M1931 4824h0M2652 4829h0M2965 4833h0M2161 4835h0M4424 4823h0M3885 4821h0M3508 4832h0M3602 4829h0M3554 4838h0M3542 4839h0M3869 4831h0M3558 4831h0M1378 4840h0M3706 4837h0M3286 4833h0M2276 4831h0M1735 4832h0M3954 4839h0M3842 4838h0M3997 4844h0M1254 4822h0M2621 4839h0M2742 4826h0M2681 4835h0M3432 4841h0M3895 4828h0M3677 4836h0M2286 4826h0M3363 4841h0M2167 4836h0M3836 4831h0M3773 4834h0M3957 4837h0M1726 4844h0M4211 4835h0M2894 4824h0M4060 4826h0M3589 4838h0M3680 4826h0M3160 4839h0M3848 4830h0M2468 4837h0M2401 4822h0M2308 4838h0M4066 4828h0M2699 4823h0M2268 4838h0M2750 4832h0M3135 4833h0M3487 4838h0M2028 4824h0M4007 4824h0M3783 4841h0M1300 4837h0M3912 4844h0M2864 4842h0M2630 4841h0M2805 4832h0M2722 4836h0M3615 4828h0M2308 4837h0M2856 4838h0M2149 4827h0"/>
<path id="b0_8" d="M2957 4251h0M2803 4245h0M1529 4240h0M4820 4240h0M3198 4258h0M1958 4251h0M2087 4257h0M1362 4254h0M2209 4259h0M3790 4239h0M1706 4241h0M3357 4237h0M3549 4250h0M2030 4251h0M951 4243h0M3861 4238h0M3554 4241h0M3454 4247h0M1549 4247h0M1256 4246h0M3328 4256h0M1325 4239h0M3896 4240h0M1562 4238h0M3767 4238h0M3273 4256h0M2742 4256h0M1848 4243h0M1569 4257h0M2868 4249h0M2912 4256h0M1779 4257h0M1200 4253h0M1378 4249h0M2134 4242h0M1949 4248h0M1223 4244h0M2305 4260h0M1886 4248h0M3524 4259h0M2677 4255h0M2278 4244h0M1430 4253h0M1445 4243h0M1715 4246h0M1374 4251h0M1080 4258h0M814 4250h0M1384 4245h0M1735 4247h0M2242 4241h0M2654 4256h0M2862 4254h0M1534 4250h0M3771 4253h0M3870 4244h0M2889 4260h0M3866 4259h0M2240 4240h0M4004 4254h0M2825 4240h0M1047 4248h0M3294 4255h0M1163 4240h0M3896 4249h0M1491 4238h0M3419 4252h0M3503 4246h0M839 4244h0M3601 4250h0M2022 4256h0M1140 4253h0M3474 4241h0M1690 4253h0M3309 4250h0M3738 4260h0M1821 4238h0M1630 4241h0M2334 4260h0M1768 4239h0M1320 4245h0M1573 4244h0M3535 4251h0M2962 4242h0M3518 4247h0M1609 4241h0M2286 4244h0M4092 4252h0M1871 4255h0M1308 4246h0M2095 4255h0M3871 4242h0M2259 4245h0M3665 4256h0M1740 4242h0M1979 4245h0M2500 4254h0M1897 4242h0M2081 4246h0M3556 4251h0M2574 4244h0M2085 4240h0M3108 4250h0M2198 4247h0M2908 4249h0M3919 4238h0M2005 4249h0M1975 4238h0M2797 4244h0M3106 4254h0M3211 4249h0M3994 4239h0M3534 4244h0M2384 4253h0M2212 4238h0M3743 4249h0M2678 4255h0M998 4238h0M2868 4238h0M2360 4243h0M1624 4248h0M3912 4253h0M1187 4255h0M950 4244h0M1842 4251h0M3698 4250h0M1405 4243h0M3409 4255h0M3755 4259h0M1217 4237h0M1623 4240h0M1994 4256h0M3355 4252h0M2896 4257h0M2729 4242h0M1914 4252h0M895 4248h0M4149 4242h0M705 4251h0M3615 4255h0M1463 4238h0M2378 4253h0M2416 4250h0M1582 4257h0M2557 4245h0M2667 4252h0M2329 4242h0M2595 4260h0M2344 4243h0M1268 4252h0M1640 4257h0"/>
<path id="b0_10" d="M3013 4305h0M1607 4305h0M1521 4303h0M1859 4290h0M1692 4284h0M1427 4303h0M2621 4302h0M3587 4302h0M2828 4285h0M4119 4289h0M1777 4305h0M2752 4291h0M1537 4294h0M2035 4296h0M3969 4301h0M2204 4290h0M1689 4305h0M3459 4294h0M1593 4299h0M3843 4299h0M2226 4286h0M4000 4288h0M1904 4289h0M2497 4300h0M1433 4292h0M3360 4304h0M1974 4301h0M1716 4284h0M3866 4289h0M1307 4301h0M1866 4285h0M4000 4298h0M2029 4303h0M2009 4293h0M2092 4288h0M2721 4287h0M1640 4300h0M1300 4303h0M3528 4290h0M2214 4305h0M3561 4284h0M3849 4292h0M1067 4292h0M1936 4299h0M2326 4297h0M3617 4286h0M2704 4285h0M1441 4299h0M1353 4301h0M3695 4295h0M2331 4284h0M928 4289h0M2088 4303h0M846 4299h0M1956 4284h0M2506 4288h0M3571 4299h0M3706 4291h0M2531 4306h0M2330 4304h0M2606 4304h0M1564 4285h0M2309 4289h0M3277 4299h0M2097 4284h0M2842 4305h0M2030 4294h0M2197 4295h0M3484 4290h0M2662 4290h0M1249 4293h0M1932 4286h0M1633 4301h0M3727 4286h0M2605 4304h0M1645 4295h0M1841 4293h0M2619 4301h0M1546 4289h0M2700 4293h0M3546 4295h0M1326 4298h0M3242 4290h0M3748 4292h0M3923 4286h0M3945 4305h0M2289 4291h0M1011 4298h0M1088 4303h0M3117 4304h0M3332 4285h0M1364 4298h0M700 4288h0M1823 4298h0M1621 4291h0M952 4290h0M2421 4304h0M1737 4303h0M2937 4299h0M1505 4307h0M1704 4306h0M3841 4304h0M2187 4284h0M2122 4293h0M2462 4297h0M1943 4296h0M2306 4287h0M4488 4304h0M3282 4296h0M2459 4298h0M3510 4288h0M4945 4287h0M3397 4306h0M2231 4286h0M2438 4294h0M1775 4301h0M3634 4293h0M2404 4287h0M1540 4294h0M1030 4294h0M3075 4292h0M2603 4284h0M1280 4292h0M1428 4288h0M2889 4292h0M1828 4298h0M2411 4297h0M2772 4289h0M3725 4284h0M705 4300h0M1725 4291h0M1322 4301h0M2797 4288h0M3003 4305h0M1667 4291h0M3630 4294h0M1396 4288h0M3425 4291h0M1805 4306h0M3878 4287h0M4049 4292h0M3362 4307h0M3825 4302h0M1490 4293h0M1780 4285h0M1536 4287h0M3860 4288h0M4907 4304h0M1291 4297h0M1045 4293h0M1406 4287h0M2731 4306h0M1628 4292h0M2619 4295h0M1813 4288h0M2725 4299h0M1574 4284h0M2672 4291h0M2110 4285h0M2693 4293h0M2582 4288h0M3224 4299h0M1996 4297h0M1271 4292h0M2914 4293h0M1611 4305h0M1654 4289h0M2794 4295h0M3125 4303h0M2173 4290h0"/>
<path id="b0_20" d="M2104 4537h0M2583 4522h0M4521 4517h0M5000 4525h0M1453 4519h0M2099 4534h0M1091 4540h0M2936 4528h0M1995 4525h0M3984 4531h0M2561 4528h0M2844 4530h0M1831 4522h0M779 4524h0M4168 4531h0M2781 4523h0M1859 4536h0M3594 4519h0M708 4531h0M4041 4526h0M1724 4522h0M2883 4535h0M3875 4528h0M3388 4537h0M5000 4524h0M2616 4536h0M2299 4539h0M3978 4530h0M1401 4524h0M3226 4532h0M2010 4521h0M946 4529h0M1959 4535h0M1167 4537h0M1272 4533h0M3936 4536h0M1695 4517h0M4131 4527h0M2831 4535h0M3664 4528h0M3209 4521h0M2407 4538h0M1930 4536h0M3409 4531h0M2037 4519h0M2320 4535h0M2855 4518h0M2719 4524h0M1463 4530h0M2406 4525h0M1580 4538h0M3082 4525h0M1313 4523h0M1929 4527h0M797 4540h0M3232 4525h0M3416 4538h0M1842 4530h0M4182 4529h0M1754 4530h0M1661 4538h0M3959 4523h0M4019 4519h0M3669 4518h0M3882 4531h0M3776 4535h0M3406 4536h0M3785 4536h0M3940 4536h0M3962 4532h0M3388 4538h0M4078 4535h0M3585 4540h0M2582 4522h0M1671 4532h0M4161 4529h0M1721 4536h0M2653 4520h0M1232 4527h0M1735 4522h0M3056 4517h0M4150 4540h0M3458 4521h0M2071 4526h0M3301 4538h0M2493 4540h0M2518 4527h0M3064 4528h0M3015 4536h0M2044 4521h0M1010 4524h0M2350 4527h0M1326 4537h0M1829 4535h0M2304 4523h0M2167 4537h0M1329 4520h0M1771 4529h0M2413 4520h0M2849 4528h0M3499 4526h0M2276 4518h0M1813 4529h0M3205 4532h0M2023 4528h0M1714 4539h0M3502 4528h0M2351 4539h0M4140 4518h0M2765 4527h0M2063 4537h0M2897 4518h0M2703 4539h0M3047 4525h0M1355 4520h0M2534 4539h0M1981 4527h0M1670 4523h0M2777 4533h0M1997 4527h0M4822 4523h0M4385 4534h0M3539 4539h0M2368 4534h0M2357 4525h0M2047 4540h0M1392 4532h0M1500 4528h0M3569 4539h0M3528 4526h0M4112 4537h0M3262 4525h0M4601 4529h0M2822 4527h0M3509 4520h0M1392 4517h0M3983 4526h0M2330 4528h0M3206 4540h0M3759 4536h0M3084 4540h0M1341 4524h0M3540 4524h0M3151 4523h0M1474 4531h0M3691 4535h0M2671 4519h0M2754 4530h0M2812 4536h0M2290 4534h0M2892 4530h0M2818 4540h0M2691 4519h0M2415 4535h0M1387 4540h0M3376 4531h0M4750 4538h0M3375 4519h0M3241 4519h0M3228 4519h0M2652 4533h0M2183 4526h0M2892 4539h0M3979 4538h0M1887 4522h0M2404 4523h0M2337 4538h0M4058 4532h0M1180 4532h0M3122 4517h0M3063 4525h0M1465 4522h0M4058 4518h0M2707 4540h0M1508 4519h0M1887 4529h0M2298 4529h0M1823 4532h0M2027 4526h0M2330 4530h0M1383 4540h0M2536 4537h0M828 4534h0M2216 4538h0M2121 4536h0M2774 4534h0M3369 4525h0M4286 4537h0M2190 4532h0M861 4524h0M2101 4534h0M2007 4521h0M2376 4538h0M2030 4539h0M4338 4523h0M1309 4537h0M1299 4518h0M1793 4519h0M3719 4522h0M1422 4540h0M1158 4529h0M4139 4517h0M3346 4532h0M1716 4531h0M2392 4539h0M3145 4538h0M3813 4521h0M2957 4532h0M1931 4527h0M3672 4527h0M3375 4526h0M2104 4537h0M2623 4529h0M3743 4537h0M2791 4540h0M3013 4521h0M2027 4537h0M3145 4524h0M3416 4518h0M832 4525h0M2103 4517h0M2803 4520h0M3391 4526h0M729 4535h0M1685 4532h0M3612 4522h0M2703 4539h0M2924 4534h0M818 4539h0M3833 4520h0M4178 4538h0M4106 4523h0M826 4521h0M2123 4539h0M1867 4527h0M3910 4534h0M2084 4524h0M2916 4533h0M1854 4526h0M1291 4526h0M1937 4524h0M3863 4530h0M2001 4530h0M1692 4539h0M4204 4526h0M2398 4539h0M3419 4540h0M4112 4521h0M3919 4537h0M2792 4535h0M949 4522h0M3868 4536h0M3735 4520h0M3296 4520h0M3193 4520h0M2922 4527h0M4010 4539h0M3903 4517h0M1436 4533h0M2392 4518h0M1038 4530h0M1997 4532h0M2680 4531h0M1762 4522h0M3058 4535h0M3048 4529h0M3539 4535h0M1287 4535h0M1848 4534h0M2582 4524h0M3921 4522h0M1073 4538h0M3289 4533h0M4033 4540h0M4074 4524h0M1257 4538h0M2086 4521h0M3159 4535h0M3296 4528h0M2257 4538h0M4127 4522h0M2044 4530h0M1762 4532h0M1335 4522h0M2097 4521h0M2525 4539h0M3839 4530h0M2463 4520h0M2453 4536h0M1991 4536h0M3540 4537h0M3325 4535h0M1381 4538h0M2446 4530h0M3364 4540h0M2510 4534h0M3920 4531h0M3572 4523h0M2561 4539h0M4192 4523h0M2837 4539h0M3004 4527h0M4275 4535h0M3142 4519h0M3287 4535h0M3287 4518h0M1473 4529h0M2804 4533h0M3922 4537h0M2492 4531h0M2527 4534h0M4166 4524h0M1382 4520h0M3502 4535h0M3230 4535h0M3362 4540h0M3598 4531h0M2974 4528h0M3937 4533h0M2711 4538h0M2372 4539h0M3638 4527h0M3265 4533h0M3759 4519h0M4298 4524h0M3577 4529h0M3068 4520h0M1463 4532h0M1406 4538h0M1727 4519h0M3448 4518h0M2779 4527h0M3984 4525h0M3763 4533h0M2673 4523h0M2292 4527h0M2355 4532h0M1283 4535h0M2967 4520h0M3033 4524h0M4709 4539h0M3011 4532h0M2993 4535h0M3148 4530h0M2389 4531h0M3942 4524h0M755 4522h0M4327 4532h0M3805 4517h0M4123 4537h0M3482 4522h0M1988 4521h0M4176 4531h0M1704 4533h0M3682 4518h0M2760 4535h0M3262 4528h0M1451 4519h0M3656 4528h0M3535 4534h0M2726 4520h0M2636 4531h0M2114 4531h0M3975 4518h0M1439 4534h0M1086 4529h0M1433 4526h0M2195 4540h0M2280 4526h0M3268 4532h0M1833 4534h0M2475 4534h0M3336 4518h0M1149 4532h0M2728 4539h0M3766 4522h0M2507 4536h0M1699 4539h0M2552 4517h0M2815 4532h0M3810 4532h0M2984 4525h0M3257 4527h0M1236 4531h0M1374 4525h0M3319 4540h0M2208 4520h0M4673 4521h0M1643 4524h0M1335 4532h0M3621 4526h0M938 4527h0M3385 4522h0M2828 4540h0M3587 4517h0M1819 4517h0M2013 4527h0M2085 4528h0M4090 4524h0"/>
<path id="b0_7" d="M1246 4229h0M2092 4236h0M1977 4220h0M1684 4230h0M1776 4233h0M3855 4233h0M1783 4229h0M3731 4223h0M932 4235h0M2256 4233h0M1794 4224h0M2391 4225h0M1990 4223h0M832 4220h0M1719 4217h0M3397 4220h0M3263 4220h0M3673 4219h0M1739 4220h0M2072 4216h0M2486 4223h0M3704 4220h0M1781 4215h0M1755 4236h0M1855 4234h0M2457 4231h0M2442 4233h0M3572 4220h0M2603 4232h0M1953 4235h0M3614 4229h0M2923 4214h0M2664 4234h0M1877 4231h0M1987 4214h0M1391 4227h0M2045 4222h0M3697 4219h0M1697 4229h0M2542 4236h0M1054 4224h0M2113 4217h0M810 4219h0M4083 4234h0M1315 4234h0M3131 4234h0M2187 4229h0M3443 4233h0M2077 4231h0M3978 4217h0M1739 4219h0M1446 4224h0M2831 4222h0M1105 4220h0M2784 4214h0M3315 4222h0M2193 4230h0M2053 4217h0M2017 4215h0M1517 4229h0M1833 4220h0M1449 4225h0M1810 4215h0M3003 4219h0M1469 4229h0M2818 4234h0M3872 4233h0M2491 4227h0M958 4229h0M1637 4218h0M1820 4218h0M4134 4224h0M2749 4232h0M835 4214h0M3310 4218h0M2084 4227h0M1582 4228h0M1229 4219h0M4294 4230h0M1084 4235h0M3532 4216h0M3604 4228h0M3673 4235h0M2426 4235h0M2534 4218h0M2938 4233h0M2110 4224h0M2796 4214h0M3144 4225h0M1794 4217h0M1439 4218h0M2572 4215h0M2221 4220h0M2252 4229h0M1939 4233h0M3388 4217h0M3729 4218h0M3730 4233h0M2667 4229h0M2222 4220h0M1303 4230h0M767 4230h0M2735 4223h0M3840 4222h0M2449 4218h0M3813 4228h0M2661 4228h0M3558 4235h0M2014 4229h0M3891 4236h0M1343 4233h0M1557 4219h0M1498 4222h0M1247 4222h0M3649 4222h0M1399 4214h0M2862 4217h0M4915 4222h0M3664 4218h0M1184 4217h0M1932 4218h0M1858 4216h0M2617 4221h0M1950 4234h0M3158 4225h0M2529 4219h0M3995 4229h0M2041 4229h0M3352 4235h0M1071 4223h0M2831 4220h0M3318 4229h0M3810 4228h0M3888 4224h0M3330 4225h0M3449 4224h0M2808 4222h0M787 4235h0M1225 4227h0M1218 4222h0M2584 4228h0M3863 4218h0M2575 4232h0M3741 4222h0M1322 4225h0M3041 4230h0M1405 4221h0M3589 4234h0M2789 4227h0M4062 4220h0M1410 4229h0M2359 4218h0M1735 4221h0M3096 4227h0M2827 4232h0M3334 4229h0M700 4218h0M1549 4229h0M3123 4225h0M2159 4232h0M1678 4225h0M3598 4224h0M2584 4223h0M4020 4214h0M1744 4214h0M3027 4229h0M945 4217h0M3651 4234h0M2584 4216h0M1371 4228h0M2017 4214h0M1697 4222h0M1158 4223h0M2862 4218h0M943 4226h0M2894 4226h0M1271 4223h0M3351 4230h0M3370 4224h0M3772 4215h0M2460 4225h0M2689 4231h0M2376 4219h0M1261 4220h0M3716 4236h0M2802 4229h0M2432 4215h0M3783 4218h0M3082 4227h0M3554 4226h0M1321 4217h0M2632 4225h0M1125 4225h0"/>
<path id="b0_1" d="M3598 4091h0M1023 4083h0M704 4085h0M925 4084h0M1652 4083h0M1089 4087h0M3522 4095h0M1101 4083h0M1435 4079h0M2243 4087h0M3665 4075h0M2695 4095h0M2687 4094h0M2565 4092h0M2649 4078h0M1896 4090h0M1513 4078h0M1532 4092h0M1490 4089h0M1902 4075h0M3281 4093h0M1954 4086h0M3639 4084h0M4053 4083h0M1946 4075h0M2251 4088h0M3648 4087h0M3778 4092h0M1732 4085h0M2886 4093h0M2781 4092h0M1286 4078h0M4123 4086h0M3469 4096h0M1673 4084h0M3288 4088h0M2957 4091h0M2790 4082h0M1603 4095h0M3078 4083h0M3826 4075h0M3247 4090h0M2131 4091h0M977 4094h0M2749 4078h0M3520 4086h0M4017 4082h0M2965 4092h0M2298 4079h0M2011 4088h0M4297 4094h0M3841 4095h0M3660 4078h0M1503 4075h0M3817 4094h0M779 4092h0M3195 4083h0M4275 4085h0M2174 4083h0M2365 4090h0M3305 4076h0M3738 4094h0M3658 4078h0M2428 4081h0M3227 4084h0M3743 4092h0M2384 4086h0M1175 4088h0M3103 4076h0M2129 4081h0M3629 4096h0M1817 4091h0M1728 4080h0M3700 4087h0M1805 4094h0M1439 4094h0M2747 4091h0M4154 4083h0M2763 4082h0M1756 4097h0M3327 4093h0M1016 4096h0M1563 4087h0M1985 4085h0M3799 4096h0M2492 4095h0M3961 4077h0M1904 4083h0M820 4093h0M2436 4091h0M1002 4091h0M1969 4094h0"/>
<path id="b0_39" d="M3892 4967h0M5021 4968h0M2258 4969h0M2502 4965h0M2978 4967h0M3667 4964h0M3205 4964h0M3622 4961h0M2545 4973h0M3153 4972h0M3903 4963h0M3047 4975h0M3773 4973h0M2733 4966h0M2919 4966h0M3733 4974h0M2414 4964h0M1332 4964h0M3408 4968h0M3246 4975h0M2493 4969h0M3735 4968h0M2845 4971h0M3512 4970h0M2587 4962h0M4418 4968h0"/>
<path id="b0_0" d="M1508 4072h0M1321 4071h0M1924 4071h0M1176 4073h0M1268 4071h0M3504 4072h0M3754 4071h0M2218 4073h0"/>
<path id="m0_30" d="M1904 1476h0M2298 1852h0M2017 1862h0M2599 2675h0M1817 1615h0M1688 1516h0M1965 1473h0M2421 2685h0M2096 1665h0M2482 2537h0M2592 2665h0M1925 1348h0M2349 2599h0M1682 1460h0M2245 2600h0M1999 1667h0M2277 1838h0M1862 1683h0M2426 2392h0M1887 1869h0M1971 1660h0M1695 1434h0M1564 1257h0M1951 1411h0M1845 1720h0M2269 1733h0M1887 1631h0M1844 1561h0M1799 1552h0M1118 488h0M1631 1429h0M2472 2557h0M2060 1808h0M2190 2198h0M2172 1476h0M1783 1332h0M1726 1390h0M2269 1539h0M1687 1680h0M2369 2831h0M1778 1573h0M2043 1610h0M2289 1775h0M2119 2067h0M1740 1764h0M1767 1513h0M1851 1385h0M1934 1483h0M1586 1292h0M1866 1419h0M2212 1846h0M2236 2281h0M2532 2323h0M1672 1516h0M1930 1922h0M2134 1631h0M2198 1791h0M1406 1061h0M2383 2232h0M1957 1722h0M2288 1857h0M2458 2246h0M1824 1757h0M1858 1700h0M2617 2715h0M1852 1498h0M2805 2999h0M1897 900h0"/>
<path id="m1_28" d="M2110 1693h0M1658 1478h0M1854 1319h0M1962 1861h0M2421 2507h0M1899 1412h0M1722 1548h0M1866 1165h0M2044 1887h0M2184 1846h0M2495 2230h0M2422 2694h0M2453 2580h0M2023 1722h0M2254 1863h0M2040 1444h0M1727 1748h0M1929 1517h0M2191 1680h0M2097 1574h0M1793 1076h0M2568 2838h0M2513 2556h0M1931 1248h0M1955 1606h0M2264 2523h0M2453 2347h0M2046 1768h0M2000 1309h0M1960 1635h0M1833 1426h0M1903 1646h0M1660 1554h0M1993 1487h0M2153 1780h0M1386 867h0M2170 1655h0M1770 1724h0M1741 1512h0M1665 1529h0M2180 1680h0M1991 1256h0M2309 1790h0M2562 2463h0M1855 1295h0M1675 1614h0M2187 1826h0M1816 1282h0M2176 1591h0M2465 2536h0M1758 1822h0M1859 1647h0M1656 1234h0M2108 1529h0M2339 2453h0M2377 2243h0M2214 1766h0M1303 921h0M2261 1709h0M2259 1863h0M2549 2766h0M2599 2988h0M1889 1328h0"/>
<path id="m2_1" d="M1162 496h0M1447 1075h0M1543 1226h0M2231 1609h0M1923 1352h0M1549 1174h0M1896 795h0M1959 1850h0M2529 2497h0M2618 2460h0M1847 1123h0M1724 1310h0M1766 1837h0M1870 1026h0M2157 1904h0M2625 2322h0M2669 2695h0M2463 2678h0M2299 1811h0M1363 790h0M2601 2537h0M2070 2070h0M2544 2326h0M2572 2729h0M1939 1109h0M2469 1872h0M2260 2358h0M2692 2738h0M1711 1336h0M1932 1735h0M2184 2388h0M2720 2829h0M1985 1941h0M2449 2575h0M2360 2348h0M2055 1943h0M2189 2211h0M2526 2490h0M1745 1355h0M2430 2175h0M2280 2450h0M2170 1844h0M2647 2382h0M1359 795h0M2880 3085h0M2192 2132h0M1571 1173h0M2422 2423h0M1310 778h0M1843 1370h0M2179 2027h0M2514 2213h0M2346 2539h0M2716 2436h0M2094 2215h0M2422 2499h0M2570 2671h0M1835 1173h0M2118 1983h0M1803 1101h0M1646 1298h0M1854 1854h0M1938 1113h0M2404 1933h0M1176 548h0"/>
<path id="m0_29" d="M2485 2534h0M1635 1303h0M1780 1482h0M2026 1493h0M2182 1916h0M2367 2451h0M2141 1624h0M2225 2189h0M2024 1891h0M1615 1266h0M2591 2758h0M1697 1409h0M2216 1874h0M1949 1899h0M1819 1693h0M2034 1676h0M1950 2223h0M2050 2169h0M1984 1870h0M2157 1769h0M2299 1798h0M2158 1488h0M2019 1690h0M2037 2097h0M1811 1180h0M2327 2248h0M1728 1376h0M1799 1768h0M1592 1328h0M2021 1533h0M2133 2162h0M2217 1917h0M1883 1691h0M2394 2110h0M2192 1596h0M1951 1420h0M2206 2247h0M2227 1902h0M1765 1156h0M1999 1678h0M2436 2655h0M2570 2520h0M2467 2396h0M2103 1645h0M2075 1713h0M2089 1589h0M1714 1616h0M1792 1137h0M1853 1730h0M1919 1626h0M1546 1257h0M2071 1499h0M2164 1831h0M1553 1154h0M1941 1603h0M2582 2686h0M1300 730h0M2073 1447h0M1942 1757h0M1925 676h0M2074 1400h0M1589 1295h0M2460 2435h0"/>
<path id="m1_32" d="M1962 1554h0M1753 1411h0M1989 1831h0M2506 2708h0M1995 1821h0M1877 1769h0M2486 2466h0M1796 1318h0M2148 1773h0M2548 2488h0M1979 1732h0M2171 1606h0M2941 2954h0M1764 1325h0M2128 2100h0M1824 1722h0M1744 1637h0M2410 2137h0M1904 1699h0M1857 1423h0M1932 1628h0M2351 1920h0M1971 1594h0M1816 1420h0M2226 1717h0M2317 1947h0M2578 3019h0M1886 1625h0M1939 1587h0M2092 1779h0M1957 1828h0M1721 1532h0M1971 1920h0M1799 1506h0M2161 1862h0M1920 1326h0M2524 2618h0M2450 2514h0M1831 1416h0M2048 1861h0M1983 1427h0M1757 1706h0M2463 2523h0M1563 1197h0M1843 1701h0M1718 1456h0M2733 2651h0M1927 1597h0M2557 2614h0M2144 1885h0M2158 1724h0M2306 2511h0M2066 1544h0M1942 1825h0M1800 1240h0M2083 1890h0M1685 1712h0M1748 1741h0M2410 2697h0M1515 1221h0M2503 2701h0M1499 1178h0M1690 1730h0"/>
<path id="m2_28" d="M1723 1459h0M1965 1667h0M2435 2603h0M2179 1687h0M2656 2666h0M2198 2058h0M2771 2508h0M1783 1803h0M2537 2565h0M2105 2133h0M2292 2029h0M1727 1301h0M2548 2538h0M1440 1041h0M2126 1843h0M1873 817h0M2504 2419h0M1670 1387h0M1702 1373h0M2834 2842h0M1801 1334h0M1864 1785h0M2094 1668h0M2052 1591h0M2484 2637h0M2308 1835h0M1882 1678h0M1707 1637h0M1605 1340h0M2052 1233h0M1891 1381h0M2016 1373h0M2387 2565h0M1809 1901h0M1918 1876h0M1875 1832h0M2627 2471h0M1795 1231h0M2016 1509h0M1704 1752h0M2422 2723h0M1895 1268h0M2185 1726h0M2023 1552h0M1872 1388h0M2604 2655h0M1857 1757h0M2337 2369h0M2473 2812h0M1869 1664h0M2070 1489h0M2193 1608h0M1842 1475h0M2417 2219h0M1945 603h0M2075 1767h0M2311 1860h0"/>
<path id="m0_8" d="M2199 2346h0M1500 1142h0M1284 697h0M2427 2287h0M2556 2639h0M1921 1111h0M1617 1225h0M2638 2576h0M2885 2999h0M2616 2559h0M2449 2318h0M2233 2425h0M2299 1883h0M1313 845h0M2434 2383h0M2268 1566h0M2318 2345h0M1954 1639h0M2058 1847h0M2263 2337h0M1128 529h0M1896 1683h0M1967 1837h0M2470 2087h0M2152 2157h0M2470 2551h0M2146 2038h0M2320 1897h0M2448 2301h0M1589 1163h0M2654 2994h0M1853 923h0M2523 2689h0M1901 895h0M2615 2681h0M1519 1216h0M2332 2409h0M1794 1193h0M2432 2383h0M1353 792h0M2314 2288h0M2545 2545h0M2037 2178h0M1991 1325h0M1721 1722h0M2352 1782h0M2477 2643h0M1850 871h0M1901 844h0"/>
<path id="m1_4" d="M1267 715h0M2451 2806h0M1949 625h0M1976 1860h0M2301 2387h0M1307 831h0M2580 2754h0M1781 1708h0M2266 2189h0M2138 1798h0M2515 2352h0M1231 758h0M1931 628h0M1222 646h0M2615 2442h0M1623 1269h0M2531 2909h0M1873 891h0M2846 2880h0M2459 2550h0M2200 1919h0M1783 1919h0M1444 1013h0M1838 1196h0M2629 2712h0M1893 1274h0M2293 2610h0M1766 1839h0M2594 2800h0M2429 2466h0M1923 1900h0M2467 2627h0M2200 1964h0M1995 1883h0M1842 1846h0M1949 1915h0M2374 2477h0M2639 2469h0M1811 1841h0M2398 2266h0M1925 756h0M1521 1143h0M2458 1876h0M2003 1706h0M2261 2067h0M2490 2294h0M2324 2166h0M1646 1485h0M1808 1333h0M2428 2445h0M2275 2051h0M1585 1342h0M1865 1821h0M1938 1315h0M2673 2652h0M1155 607h0M2239 2319h0M2412 2645h0M1993 1116h0M2212 1623h0M1318 757h0M2480 2489h0M1614 1184h0"/>
<path id="m2_33" d="M1336 826h0M2575 2652h0M2283 1828h0M2252 1612h0M2462 1869h0M2203 2327h0M1194 545h0M2461 2057h0M2105 1534h0M2153 1373h0M1639 1344h0M1754 1322h0M1818 1914h0M2248 1757h0M2072 1612h0M2365 1716h0M2000 1757h0M2249 1738h0M1948 1854h0M1672 1277h0M2280 1864h0M1165 554h0M1972 1571h0M1556 1231h0M1676 1620h0M1946 1648h0M2550 2484h0M2250 1964h0M1768 1779h0M1930 1199h0M1827 1880h0M1924 1685h0M2105 1899h0M1857 1874h0M1940 1644h0M1254 810h0M1998 1465h0M1657 1257h0M1761 1591h0M2482 2634h0M1310 742h0M2491 2180h0M1983 2153h0M1207 705h0M1998 1771h0M2740 3033h0M2294 1970h0M2486 2280h0M2224 1713h0M2304 1668h0M1882 1546h0M1926 1741h0M2258 1801h0M2081 1787h0M2638 2669h0M1860 1783h0M1858 1469h0M1308 816h0"/>
<path id="m0_38" d="M1737 1680h0M1828 1736h0M1121 541h0M2518 1894h0M1288 692h0M1676 1349h0M1953 1790h0M2452 2482h0M1811 1452h0M1715 1623h0M1793 1481h0M1827 1160h0M1993 1654h0M2030 1656h0M1887 1878h0M1282 887h0M1519 1246h0M2568 2300h0M2083 2193h0M1713 1530h0M1848 981h0M1215 583h0M1840 1258h0M1505 1109h0M2057 1647h0M1955 2210h0M1691 1541h0M2240 2225h0M2538 2652h0M1865 1598h0M1786 1585h0M2035 1616h0M1958 1219h0"/>
<path id="m1_24" d="M1851 1336h0M1993 1126h0M2489 2547h0M1981 1464h0M2312 1879h0M1814 1467h0M1788 1673h0M1596 1358h0M2960 3300h0M1863 864h0M1827 1340h0M1774 1879h0M1976 1403h0M1378 914h0M2447 2599h0M1853 1458h0M2074 1667h0M1996 1864h0M2640 2984h0M1668 1580h0M1711 1315h0M1756 1528h0M1967 1382h0M2643 2819h0M2093 2210h0M2013 1933h0M2519 1886h0M2370 2585h0M1747 1753h0M1401 954h0M1456 1126h0M1509 1106h0M2559 2628h0M2173 1784h0M1854 1422h0M1906 1678h0M1696 1300h0M1758 1272h0M2313 2250h0M1205 596h0M1867 1156h0M1851 1018h0M2605 2852h0M2348 2369h0M2470 2305h0"/>
<path id="m2_31" d="M1944 1650h0M2152 1864h0M1694 1313h0M2465 1864h0M2307 2521h0M2188 1638h0M1711 1335h0M2473 2635h0M1719 1371h0M1710 1291h0M1750 1271h0M1696 1461h0M2206 1868h0M2089 1740h0M2135 1839h0M1793 1487h0M1774 1507h0M1649 1438h0M1905 1654h0M2093 1908h0M2367 2389h0M2055 1761h0M2441 2208h0M2497 2421h0M2621 2530h0M2501 2635h0M1823 1521h0M2101 2058h0M2180 2354h0M1691 1695h0M1640 1538h0M1793 1774h0M1814 1904h0M2322 2274h0M2654 2239h0M1955 1700h0M1877 1455h0M1792 1802h0M2049 1837h0M1783 1335h0M2082 1746h0M2557 2626h0M1795 1809h0M2044 1426h0M1778 1512h0M1774 1378h0M2024 1543h0M1718 1752h0M1496 1123h0M2473 2457h0M2132 1901h0M1663 1334h0M1816 1679h0M1925 1499h0M1873 1725h0M2215 1725h0M2350 1908h0M1842 1531h0M2579 2748h0M1593 1188h0M2166 1389h0M1797 1508h0M2199 2220h0M2155 1691h0M2173 2414h0M1726 1344h0M1177 527h0M2450 2626h0M2142 1672h0M1897 1722h0M2060 2144h0M2075 1500h0"/>
<path id="m0_11" d="M1583 1227h0M1802 1883h0M2453 2632h0M2211 2114h0M1775 1241h0M2589 2874h0M2609 2723h0M1930 622h0M1915 1895h0M1845 982h0M2453 2689h0M2564 2686h0M2161 1564h0M2151 1800h0M2442 2238h0M2200 1774h0M2001 1905h0M2096 1946h0M2077 1356h0M1223 697h0M1795 1079h0M2458 2478h0M2672 2580h0M1561 1209h0M1973 1319h0M2406 2562h0M1874 1950h0M1725 1286h0M2407 2235h0M2390 2608h0M2472 2487h0M1815 1322h0M1541 1099h0M2414 2407h0M2181 2287h0M1330 938h0M1609 1355h0M2468 2578h0M2667 2855h0M2311 2403h0M1807 1222h0M2231 2242h0M2016 1973h0M1309 878h0M2176 1512h0M2506 2361h0M1888 1546h0M2290 2354h0M1840 1021h0M2125 2032h0M1885 1180h0M1526 1134h0M1919 1286h0M2163 2404h0M2229 1882h0M2185 2237h0M1672 1244h0M2431 2174h0M2432 2321h0M2338 2115h0M2069 1857h0M2299 1854h0M2296 2276h0M2519 2269h0M2590 2568h0M2433 2334h0M1779 1168h0M2029 2081h0M1781 1012h0M2614 2427h0M1598 1168h0M2296 2204h0M2257 2477h0M1284 695h0M2825 2655h0M1730 1368h0M2020 1826h0M2509 2571h0"/>
<path id="m1_1" d="M2180 1874h0M2068 1698h0M1970 1358h0M1807 1012h0M2327 2048h0M2551 2750h0M2054 1424h0M1335 771h0M2494 2746h0M2342 2176h0M2533 2846h0M2537 2649h0M1524 1177h0M2477 2232h0M2419 2386h0M1903 1750h0M1349 771h0M1344 934h0M2444 2497h0M2365 2030h0M2466 2610h0M1866 923h0M2256 2175h0M2281 1793h0M2450 2341h0M1169 546h0M1323 867h0M1430 1024h0M2468 2694h0M2063 1554h0M1529 1138h0M2495 2090h0M1343 856h0M1536 1115h0M1364 865h0M2586 2580h0M2149 1894h0M1731 1293h0M1239 684h0M1275 694h0M1173 606h0M1886 847h0M2446 2333h0M2164 1926h0M2279 2371h0M1236 788h0M2479 2506h0M2066 2036h0M1467 1021h0M1641 1251h0M1967 1215h0M2230 1477h0M1801 1168h0M2069 1869h0M2102 1325h0M2249 1516h0M1151 514h0M1625 1286h0M2605 2735h0M2477 2427h0M1779 1335h0M2007 1786h0M1092 563h0M1766 1854h0M2470 2435h0M2033 2172h0M2408 2300h0M1315 956h0M1878 915h0M1906 663h0M2254 1888h0M2328 1705h0M1786 1053h0M2255 1883h0M2539 2458h0M2596 2605h0M1804 1000h0M2280 2031h0"/>
<path id="m2_24" d="M1543 1305h0M2257 1764h0M2601 2484h0M1804 1877h0M1503 1167h0M2236 1898h0M2097 1759h0M2042 1524h0M1994 1544h0M1632 1307h0M1934 681h0M1914 800h0M1226 672h0M1745 1568h0M1500 1189h0M1807 1272h0M2091 1529h0M2366 2264h0M1850 1266h0M2054 1438h0M1656 1340h0M1915 1971h0M2100 1800h0M2327 1803h0M1728 1665h0M1660 1398h0M2069 1915h0M1698 1290h0M1870 1273h0M1636 1426h0M1852 1399h0M1479 1074h0M1943 1515h0M2301 1900h0M1863 1234h0M1468 1142h0M2371 2359h0M2048 1461h0M2580 2470h0M1452 1055h0M2152 1898h0M2467 2544h0M2566 2644h0M1940 1628h0M1702 1281h0M1995 1893h0M1286 720h0M1607 1238h0"/>
<path id="m0_16" d="M1863 1764h0M1759 1221h0M1836 1030h0M2008 1897h0M1593 1229h0M1912 649h0M1809 1080h0M1649 1578h0M1519 1090h0M1272 748h0M2082 1230h0M1877 925h0M1951 2063h0M1894 1299h0M1650 1489h0M2177 1803h0M1914 1625h0M2659 2521h0M1589 1210h0M2402 2435h0M1863 1575h0M2302 1841h0M1945 1403h0M2502 2408h0M1148 603h0M1807 1075h0M1331 746h0M1710 1776h0M1835 901h0M1795 1201h0M2121 1799h0M1958 1836h0M2637 2513h0M1963 1248h0M1319 755h0M1844 1495h0M1365 869h0M2035 1201h0M1512 1137h0M1971 2012h0M2571 2589h0M1926 1425h0M2513 2588h0M2009 1516h0M2706 3103h0M1843 1604h0M1258 710h0M2035 1720h0M1931 1333h0M1374 947h0M2086 1474h0M1120 589h0M1929 664h0M1753 1194h0M1470 1038h0M2219 2167h0M1846 1157h0M2238 2078h0M1161 499h0M1321 896h0M1936 1283h0M2294 1843h0M1799 1583h0M2151 1583h0M2170 1671h0M2228 1793h0M1799 1088h0M1128 484h0M1979 1787h0M2376 2488h0M1355 790h0M2631 2778h0M2910 2859h0M2600 2661h0M1949 1698h0M1689 1385h0M1348 947h0M1736 1819h0"/>
<path id="m1_2" d="M2706 2521h0M1347 814h0M2114 1943h0M2240 1818h0M2355 2421h0M1235 762h0M2595 2437h0M2369 2242h0M2244 2189h0M1207 632h0M1929 714h0M2171 1901h0M1898 1313h0M1521 1219h0M2541 2548h0M2431 2458h0M1959 2005h0M1500 1105h0M2177 2067h0M2340 2504h0M2356 2335h0M1346 813h0M1867 817h0M1885 1268h0M1175 577h0M2082 1857h0M2501 2508h0M2376 2405h0M2411 2231h0M2195 2678h0M2713 2824h0M2200 2317h0M1883 767h0M2141 1823h0M1394 1002h0M1822 1418h0M2400 2258h0M1389 970h0M2477 2290h0M2058 1991h0M2339 2080h0M1916 708h0M2763 2743h0M2222 1884h0M1932 623h0M1921 2164h0M1281 722h0M2475 2311h0M2309 2000h0M1320 797h0M2492 2288h0M2181 2610h0M1885 735h0M2288 2344h0M2387 2155h0M1606 1416h0M1706 1246h0M2504 2285h0M1368 929h0M2443 2491h0M1418 999h0M2153 1650h0M1313 817h0M2023 2007h0M1878 1354h0M2377 2767h0M2410 2462h0M2258 2450h0M2282 2588h0M2604 2079h0M1833 1698h0M2283 2442h0M2402 2461h0M1793 1127h0M1800 1341h0M1496 1075h0M1901 1168h0M1903 1874h0M1248 646h0M2061 2031h0"/>
<path id="m2_5" d="M2629 2378h0M2515 2363h0M2233 1864h0M2464 2736h0M1283 815h0M2160 1878h0M1296 707h0M1657 1341h0M1837 1692h0M2284 1910h0M2104 1928h0M1558 1203h0M1399 977h0M2472 2543h0M2441 2441h0M1511 1201h0M1369 834h0M2366 2357h0M1591 1375h0M2381 2209h0M1933 2034h0M1718 1395h0M2220 2080h0M2109 1789h0M2626 2732h0M1939 2033h0M2272 2322h0M1750 1850h0M2118 2026h0M2400 2381h0M1990 2177h0M1645 1568h0M2157 1701h0M1986 1993h0M2447 2758h0M2224 2276h0M1415 1000h0M1509 1119h0M1603 1252h0M2199 2404h0M2230 2052h0M1430 1037h0M1657 1424h0M2183 1550h0M2140 2045h0M1831 1253h0M2258 2290h0M1890 823h0M2393 2737h0M1878 1147h0M1863 1831h0M1463 1141h0M1408 1016h0M2468 2794h0M2396 2729h0M1829 919h0M2431 2627h0M2184 2023h0M2381 2283h0M2219 2041h0M2439 2155h0M1910 1138h0M2291 2329h0M2277 2106h0M1713 1255h0M2396 2250h0M2491 2833h0M2388 1829h0M2058 1806h0M1217 734h0M2063 1388h0M2401 2558h0"/>
<path id="m0_24" d="M1369 930h0M1200 630h0M1751 1640h0M1572 1161h0M2011 2214h0M1316 848h0M1985 1243h0M2213 1674h0M2466 2634h0M1868 1780h0M2049 1454h0M1856 1119h0M1509 1189h0M2122 1663h0M2713 3259h0M2377 2477h0M2303 1813h0M1982 1365h0M1491 1094h0M1794 1386h0M1596 1227h0M1765 1411h0M1560 1206h0M1855 1169h0M1348 976h0M1612 1424h0M2226 1740h0M1307 737h0M1645 1501h0M1761 1840h0M2001 1592h0M1930 1550h0M2292 1874h0M2020 1339h0M1853 1899h0M1766 1823h0M2178 1768h0M1933 1561h0M1823 1194h0M1751 1220h0M2304 2356h0M1799 1125h0"/>
<path id="m1_7" d="M2666 2660h0M2619 2367h0M2387 2225h0M2411 2484h0M2333 2598h0M2475 2564h0M2316 1991h0M2106 1956h0M2432 2275h0M1973 1502h0M1318 735h0M2165 1446h0M1967 1834h0M1522 1196h0M1690 1683h0M2376 2372h0M1884 1830h0M2228 1733h0M1804 1950h0M2061 1906h0M2175 1949h0M2130 1894h0M2191 2402h0M1285 826h0M1798 969h0M2421 2704h0M1824 1402h0M2582 2456h0M1776 1730h0M1981 1383h0M2625 2813h0M2419 2208h0M2408 1805h0M2517 2559h0M1165 621h0M2347 2383h0M2376 2335h0M2350 2745h0M2139 2042h0M1900 1912h0M2873 3130h0M2377 2393h0M2582 2875h0M1871 1789h0M1515 1232h0M2248 2133h0M1537 1179h0M2044 2060h0M2078 1293h0M2269 2182h0M1928 1188h0M2333 1837h0M2255 2352h0M2190 2021h0M2446 2168h0M1488 1184h0M2076 1664h0M2030 1830h0M1557 1187h0M2566 2569h0M1842 898h0M1977 1875h0M1122 488h0M2223 1710h0M1791 1048h0M2547 2524h0M1869 883h0M2578 2572h0M2353 1960h0M2239 2194h0M2493 2599h0M2559 2883h0M1500 1167h0M2188 1998h0M2453 2318h0M1241 607h0M1984 1170h0M2460 2397h0M1896 820h0M2254 2058h0M2457 2208h0"/>
<path id="m2_32" d="M1548 1234h0M1822 1658h0M2523 2323h0M2085 1467h0M2020 1846h0M1860 1835h0M2089 2199h0M1807 1126h0M2069 2300h0M2143 1589h0M2118 1679h0M1704 1230h0M2285 2489h0M2422 2430h0M1902 1873h0M2121 1540h0M1984 1459h0M1757 1424h0M2585 2422h0M1822 1410h0M1816 1457h0M1726 1540h0M2146 1773h0M2390 2279h0M1963 1584h0M1824 1686h0M1843 1476h0M2108 1548h0M1361 793h0M2407 2580h0M2248 1845h0M1844 942h0M1768 1303h0M1124 574h0M1524 1144h0M2354 2311h0M2217 2473h0M1856 1759h0M2480 2683h0M1735 1592h0M1904 1998h0M2278 1876h0M2049 1703h0M1700 1450h0M2210 1602h0M1614 1416h0M2452 2357h0M2628 2642h0M1837 1277h0M1821 1439h0M1688 1437h0M2097 1647h0M1949 1761h0M2166 2067h0M1993 1641h0M2720 3074h0M1647 1304h0"/>
<path id="m0_17" d="M2521 2691h0M1867 1339h0M1298 834h0M1845 1190h0M1819 1106h0M1810 1097h0M1869 1027h0M1809 1422h0M2435 2376h0M1423 964h0M2669 2720h0M1617 1467h0M1269 776h0M1705 1506h0M2025 1511h0M1999 2091h0M1835 982h0M1718 1390h0M1853 959h0M1997 1291h0M2385 2445h0M2010 1683h0M1818 978h0M1723 1580h0M2096 2067h0M1812 1495h0M1973 1385h0M1993 1370h0M1570 1198h0M1778 1260h0M2295 1862h0M1780 1404h0M1758 1367h0M2321 2147h0M1940 1733h0M1446 993h0M1202 668h0M2424 2337h0M1420 975h0M2232 1740h0M2387 2636h0M2072 1890h0M1887 1769h0M1619 1309h0M2250 1799h0M1955 1254h0M1816 1187h0M1184 585h0M2171 1663h0M1348 967h0M1903 693h0M1894 1288h0"/>
<path id="m1_26" d="M1168 437h0M2000 1493h0M1307 761h0M1893 1313h0M2359 1802h0M1901 1359h0M1842 1249h0M1875 1755h0M1886 1526h0M1615 1359h0M1956 1667h0M1189 578h0M2115 1656h0M2340 2181h0M1417 1026h0M2109 1583h0M2238 1630h0M2224 1711h0M2056 1410h0M1153 539h0M2529 2738h0M2494 2694h0M2100 1680h0M1792 1093h0M1694 1264h0M1998 1347h0M2301 1647h0M1165 546h0M2415 2313h0M2188 1601h0M1866 1902h0M1926 701h0M2117 1776h0M1868 1766h0M2095 1728h0M1843 1568h0M2137 1674h0M1906 1871h0M1517 1183h0M2482 2271h0M2197 2353h0M2038 1974h0M1927 1390h0M1964 1591h0"/>
<path id="m2_3" d="M2081 2011h0M2065 1815h0M2284 2324h0M2569 2743h0M1917 1863h0M1802 1042h0M1788 1398h0M1291 829h0M2267 2120h0M2592 2561h0M1803 1889h0M2170 2384h0M1279 695h0M2370 2350h0M1576 1180h0M2333 2295h0M2451 2414h0M2447 2434h0M2555 2495h0M1513 1158h0M2345 2630h0M2043 1768h0M1517 1233h0M2427 2493h0M2544 2469h0M2231 2043h0M2496 2580h0M2222 2229h0M2657 2528h0M2367 2441h0M2138 2407h0M2399 2256h0M1506 1148h0M2295 2340h0M2458 2305h0M2233 1533h0M2452 2431h0M2489 2474h0M2146 2318h0M2132 1906h0M1793 1106h0M2395 2211h0M2476 2330h0M1920 712h0M2036 1650h0M2480 2626h0M2262 2336h0M1511 1133h0M2312 2266h0M2429 2560h0M1373 967h0M2197 2198h0M2362 2431h0M1836 1347h0M2333 1816h0M1859 1118h0M1907 1351h0M2399 2274h0M2370 2429h0M1296 797h0M2268 1817h0M1720 1237h0M1418 1046h0M2444 2570h0M2077 1782h0M1925 1477h0M1838 1357h0M1235 788h0M2171 1801h0M1118 528h0"/>
<path id="m2_14" d="M1901 1116h0M1777 1521h0M2618 2803h0M2582 2621h0M1806 1654h0M1191 633h0M1696 1541h0M2390 2258h0M1665 1575h0M1655 1461h0M1648 1261h0M1505 1062h0M1528 1227h0M1911 829h0M1198 721h0M2120 2139h0M1815 1738h0M1488 1117h0M2022 1791h0M1907 850h0M2193 1786h0M1621 1186h0M1520 1152h0M1822 1914h0M1790 1368h0M1937 1267h0M2532 2272h0M2087 1698h0M1585 1269h0M2003 1582h0M1228 656h0M2090 1353h0M1106 507h0M1798 1772h0M1267 808h0M1434 960h0M2174 2052h0M1719 1769h0M1845 912h0M1769 1288h0M2143 1804h0M2111 1784h0M1192 676h0M1868 1195h0M1875 813h0"/>
<path id="m0_4" d="M1776 1019h0M1817 1148h0M1924 627h0M2355 1721h0M1734 1565h0M2224 1897h0M2333 2176h0M2526 2671h0M2569 2740h0M2101 1655h0M1302 882h0M1814 1070h0M1998 2064h0M1947 1114h0M1816 1653h0M2386 2314h0M2112 1566h0M1968 1977h0M2495 2652h0M2512 2360h0M1200 670h0M2144 2279h0M1766 1685h0M2675 2777h0M1619 1394h0M2316 2579h0M1854 2041h0M1776 1604h0M2479 2254h0M2363 2342h0M2443 2052h0M1527 1095h0M2368 2483h0M1192 525h0M1351 880h0M2232 1834h0M2333 2718h0M1363 1007h0M2003 2149h0M2245 1940h0M1911 788h0M1769 1781h0M2314 1875h0M1776 1046h0M2551 2539h0M1852 978h0M2007 1845h0M2187 1520h0M1900 1333h0M2278 1780h0M2238 2220h0M1829 1244h0M1889 930h0M2409 2398h0M2521 2651h0M2458 2289h0M1787 1369h0M2133 2062h0M2039 2040h0M1397 1027h0M1865 1204h0M2012 1883h0M2420 2402h0M2320 2178h0M1276 836h0M1692 1709h0M1967 1922h0M2591 2526h0M2783 2831h0M2372 2249h0M1588 1240h0M2353 2299h0"/>
<path id="m1_8" d="M1252 828h0M2212 2427h0M1308 797h0M2454 2334h0M2031 2203h0M2550 2673h0M1894 814h0M1914 810h0M2007 2059h0M2443 2858h0M2146 2173h0M2270 1881h0M1846 1384h0M1901 2086h0M2252 2589h0M2286 1669h0M1924 2082h0M2553 2514h0M2122 1884h0M1338 946h0M1841 893h0M1292 818h0M1503 1141h0M2538 2775h0M2386 2268h0M1393 1024h0M2616 2259h0M2004 1928h0M1722 1311h0M2101 2079h0M1954 1869h0M2413 2234h0M1977 1404h0M2378 2748h0M2221 2318h0M2257 2297h0M2435 2563h0M1873 1804h0M1293 797h0M2505 2466h0M1811 1321h0M1900 1112h0M1911 1665h0M1671 1675h0M2172 1839h0M1989 1310h0M2028 2094h0M2376 2703h0M1259 773h0M1759 1842h0M2188 1802h0M1293 779h0M2107 2138h0M2183 2447h0M2500 2912h0M2391 1952h0M1419 981h0M2153 1847h0M1990 2064h0"/>
<path id="m2_11" d="M2283 2392h0M1203 628h0M1816 1299h0M2354 2322h0M1971 2187h0M2610 2502h0M2385 2635h0M2345 1679h0M1774 1536h0M2044 1901h0M2244 2002h0M2447 2331h0M2420 2606h0M1634 1489h0M2414 2329h0M1855 1325h0M2303 2389h0M2277 1899h0M1962 1962h0M2386 2558h0M2342 2388h0M2211 1875h0M2266 1818h0M2433 2242h0M1785 1404h0M2527 2645h0M1935 1879h0M1543 1231h0M2304 2039h0M2035 1710h0M2067 1817h0M2419 2281h0M2429 2638h0M1799 1060h0M2607 2433h0M2338 1925h0M1531 1212h0M2111 1607h0M2337 2585h0M2148 1449h0M2616 2750h0M1192 625h0M2284 2261h0M2256 2397h0M1749 1541h0M1227 676h0M1572 1305h0M2167 1688h0M1622 1218h0M2570 2416h0M2250 2076h0M2213 1792h0M2730 3160h0M2478 1901h0M2661 2760h0"/>
<path id="m0_5" d="M2169 2409h0M2354 2450h0M2238 1614h0M2335 2357h0M2000 1248h0M1921 777h0M2389 2203h0M2334 1620h0M1488 1175h0M1571 1368h0M2535 2596h0M1121 552h0M1979 1246h0M2073 2137h0M2450 2674h0M2647 2568h0M2757 2684h0M2229 2283h0M2405 2324h0M1522 1210h0M1966 1325h0M2235 2287h0M1802 1083h0M2591 2319h0M2368 2472h0M2295 1883h0M1563 1155h0M2504 2372h0M1907 855h0M1780 1589h0M1368 862h0M2347 2433h0M1286 860h0M2087 1806h0M2339 2386h0M1904 788h0M1500 1133h0M2079 2210h0M1340 904h0M1787 1525h0M1584 1186h0M1560 1216h0M2470 2667h0M2248 1815h0M2570 2358h0M1830 963h0M1463 998h0M2167 1829h0M2167 1638h0M2189 1567h0M2527 2517h0M1262 780h0M2484 2170h0M1182 554h0M1383 868h0M1845 1233h0M2231 2178h0M2428 2229h0M1580 1307h0M1867 817h0M1913 1380h0M2029 1550h0M1830 1363h0M1873 844h0M2585 2697h0M2567 2545h0M2523 2450h0M2095 1797h0M2092 1805h0M1768 1359h0M1333 866h0M2712 2567h0M1173 550h0M1763 1167h0M2216 2191h0M2251 2210h0M1809 985h0"/>
<path id="m1_36" d="M1808 1169h0M2616 2654h0M2503 2470h0M1977 1276h0M2241 2160h0M2310 2200h0M1800 1426h0M1981 1765h0M2178 1875h0M2325 2247h0M2054 1897h0M2440 2659h0M1400 931h0M1984 1857h0M1820 1490h0M1770 1150h0M1799 1556h0M2409 2111h0M1777 1797h0M1948 1110h0M1124 580h0M1826 1489h0M1905 1471h0M1861 1744h0M1425 988h0M1846 940h0M1807 1558h0M2990 3080h0M1526 1231h0M2360 2481h0M1826 1223h0M1897 1411h0M2620 2648h0M2013 1555h0M2498 2378h0M2528 2553h0M1965 1325h0M1957 1689h0M2046 1424h0M2358 2367h0M1269 862h0M2220 2316h0M1424 1028h0"/>
<path id="m0_7" d="M2538 2398h0M2329 2146h0M1804 971h0M1756 1861h0M2083 2121h0M2325 1929h0M2467 2522h0M2485 2680h0M1409 968h0M2438 2251h0M1769 1394h0M2035 1927h0M2177 1812h0M1995 1617h0M2377 2484h0M2452 2565h0M2654 3009h0M1414 1050h0M1950 1115h0M2272 1617h0M1860 1869h0M2445 2327h0M1437 1015h0M2301 2213h0M2262 2085h0M2154 1432h0M2276 2197h0M2374 2463h0M1498 1056h0M1747 1808h0M2590 2554h0M2404 1861h0M2053 1823h0M2354 2408h0M1789 1114h0M2180 2410h0M2423 2674h0M2412 1793h0M2322 2304h0M2092 1862h0M2134 2152h0M2153 2153h0M2095 1817h0M1313 729h0M2034 2007h0M2175 1717h0M2397 2652h0M2516 2294h0M2279 2180h0M2128 2005h0M2153 1950h0M1839 1812h0M2091 1885h0M1922 1118h0M2528 2294h0M2194 1836h0M1554 1333h0M1187 574h0M2264 1751h0M2645 2325h0M1249 760h0M1117 534h0M1680 1265h0M2322 2151h0M1826 1816h0M1756 1344h0M1324 922h0M1449 1090h0M2463 2500h0M2569 2572h0M2553 2358h0M1291 725h0M2197 1899h0M1712 1656h0M2280 2184h0M1130 510h0M2602 2480h0M2058 2071h0M2265 2253h0M1198 691h0M1253 754h0M2351 2308h0M1703 1226h0M2369 1832h0M2381 2423h0M1929 1823h0M2485 2553h0"/>
<path id="m1_27" d="M1158 517h0M1863 1800h0M1790 1903h0M2063 1474h0M1462 1089h0M2239 2245h0M2525 2228h0M1532 1089h0M1966 1416h0M2067 1859h0M1681 1652h0M2330 2560h0M1246 687h0M2343 2494h0M2267 1510h0M2394 2457h0M1836 1552h0M2084 1644h0M1755 1303h0M2531 2595h0M2501 2408h0M1900 1432h0M2118 1608h0M2643 2531h0M2027 1895h0M2435 2712h0M1834 1323h0M2028 1537h0M2118 1515h0M1831 1671h0M2151 1883h0M1631 1389h0M1918 1737h0M2439 2356h0M2266 1971h0M1806 1128h0M2090 2126h0M2555 2448h0M2023 1878h0M2027 1850h0M2246 1723h0M1330 798h0M2674 2700h0M1688 1619h0"/>
<path id="m0_14" d="M2476 2329h0M1591 1171h0M1118 519h0M1276 688h0M1882 1261h0M2339 2271h0M1234 717h0M1538 1170h0M1126 522h0M1701 1758h0M2251 2024h0M1845 910h0M1915 1624h0M1331 796h0M2606 2552h0M1788 1359h0M2401 2456h0M1695 1384h0M1594 1211h0M2002 1648h0M1175 524h0M1914 794h0M1559 1282h0M2232 1835h0M1465 1112h0M1875 1244h0M2268 2071h0M1865 993h0M1916 715h0M1372 850h0M1147 546h0M1220 768h0M2448 2364h0M2223 1669h0M2077 1889h0M2609 2580h0M1479 1140h0M1891 1650h0M1505 1130h0M1828 1622h0M1545 1117h0M1492 1057h0M2003 1700h0M1852 1242h0M2378 2347h0M1712 1777h0M1249 779h0M2164 1648h0M2539 2441h0M1916 1352h0M1692 1341h0M1191 617h0M1518 1135h0M1378 920h0M1323 808h0M2104 1650h0M2025 1802h0M1933 1464h0M1585 1311h0M1821 985h0M1800 1040h0M1673 1629h0"/>
<path id="m2_25" d="M1798 1733h0M1645 1240h0M2290 1911h0M1970 1590h0M1936 1688h0M1843 1624h0M1938 648h0M1855 1142h0M2530 2434h0M1578 1168h0M1857 1456h0M2588 2618h0M1667 1398h0M2046 2170h0M1546 1289h0M1619 1274h0M1540 1195h0M1914 1560h0M1732 1546h0M1830 1520h0M2283 1812h0M1632 1288h0M2036 1966h0M1824 1586h0M1925 1625h0M2636 2487h0M2176 1872h0M1536 1274h0M2180 1701h0M1563 1285h0M2731 2726h0M2729 3027h0M1891 1478h0M1695 1336h0M2396 1904h0M1966 1401h0M1217 779h0M2983 3103h0M2513 2615h0M2157 1504h0M1822 1489h0M2214 1991h0M2284 1943h0M1945 1276h0M1812 1220h0M2184 2055h0M1864 980h0M1645 1380h0M2692 2670h0M1769 1530h0"/>
<path id="m0_23" d="M1298 884h0M1710 1728h0M1932 1604h0M2003 1662h0M1764 1152h0M1707 1600h0M1884 820h0M2639 2601h0M1913 838h0M1855 1802h0M2142 2024h0M2103 1424h0M2112 1909h0M2407 2085h0M1413 961h0M2566 2589h0M1940 1553h0M2473 2453h0M1878 1203h0M1531 1158h0M2592 2769h0M1872 2033h0M1857 1269h0M2497 2291h0M2136 1818h0M1413 1078h0M1265 728h0M1522 1076h0M2514 2655h0M2338 2342h0M1790 1458h0M2209 1750h0M2467 2465h0M1448 1113h0M1414 998h0M1505 1156h0M1530 1157h0M1369 847h0M1903 874h0M1899 2041h0M1936 1875h0M1234 747h0M2593 2663h0M2492 2488h0M2221 1710h0M1782 1134h0M1741 1333h0M1481 1039h0M1876 1308h0M1232 632h0M1604 1298h0M1940 1376h0M1559 1215h0M1403 1047h0M2434 2198h0M2324 2298h0M1897 1587h0M1727 1517h0M2041 1530h0M1862 933h0M1695 1473h0M2197 2030h0M2103 1729h0M1731 1436h0M2175 1821h0M1833 1040h0M1894 1881h0M1203 589h0"/>
<path id="m1_10" d="M2097 1976h0M1997 1804h0M2277 2369h0M1979 2168h0M2465 2564h0M2421 1770h0M1762 1262h0M2465 2454h0M2167 1812h0M1916 1236h0M1153 550h0M1902 810h0M2291 2392h0M1879 1562h0M1991 1258h0M2527 2380h0M2428 2462h0M1109 516h0M2394 1845h0M2594 2608h0M1726 1561h0M2253 2268h0M1538 1186h0M2450 2446h0M2194 2095h0M1841 1823h0M1949 1373h0M1494 1118h0M2210 1857h0M2115 1944h0M2407 2166h0M1818 1747h0M2481 2484h0M1876 968h0M2214 2018h0M1824 1091h0M1904 1379h0M2256 2482h0M1910 691h0M2282 2203h0M1250 635h0M1481 1127h0M1947 1902h0M1848 1843h0M2276 2207h0M2279 2185h0M2235 1664h0M2472 2580h0M2133 1982h0M2087 1974h0M2046 2069h0M1539 1219h0M1892 1458h0M2328 2200h0M2371 2318h0M1898 2154h0M2010 2030h0M1919 2110h0M1338 961h0M2171 1810h0M2466 1862h0M2887 2921h0M1240 704h0M2322 2567h0M2372 2385h0M2164 2204h0M2646 2545h0M2197 1689h0M2265 2160h0M2169 1829h0M1853 1687h0M2810 3320h0M2105 1831h0M2033 2042h0M2984 2971h0M1211 673h0M2478 2523h0M2261 2287h0M1993 1808h0"/>
<path id="m2_6" d="M1855 1343h0M2056 1864h0M2458 2293h0M2489 2582h0M2488 2740h0M2204 1554h0M2382 1727h0M2376 2449h0M2233 2433h0M2558 2480h0M2413 2660h0M1862 1316h0M2492 2316h0M2391 2548h0M1787 1490h0M2540 2870h0M1890 817h0M2545 2624h0M2340 2597h0M1899 736h0M2193 2093h0M2448 2332h0M2068 1885h0M2683 2401h0M2470 2369h0M1933 1434h0M2317 2056h0M1486 1177h0M2376 1986h0M2074 1863h0M1858 1329h0M2842 2869h0M2408 2518h0M2567 2495h0M1783 1122h0M1510 1191h0M2073 1944h0M1899 1116h0M2537 2755h0M1144 583h0M1300 867h0M2364 2295h0M1648 1324h0M2360 2533h0M2341 2327h0M1972 1245h0M2291 1621h0M2590 2488h0M1235 627h0M2476 2577h0M1340 938h0M2387 2155h0M1639 1282h0M1482 1121h0M1711 1269h0M1745 1203h0M1232 668h0M2144 2122h0M2056 2094h0M2488 2513h0"/>
<path id="m0_25" d="M2484 2727h0M2094 1781h0M2213 1908h0M1268 730h0M1881 1616h0M1911 1791h0M2207 2239h0M1843 1311h0M2015 1678h0M1871 1490h0M2020 1633h0M1910 1757h0M2230 1687h0M2100 1851h0M1339 900h0M1816 1265h0M1903 1790h0M1746 1230h0M1653 1348h0M1753 1651h0M1761 1792h0M1895 1892h0M1766 1296h0M1577 1381h0M1572 1241h0M2519 2633h0M1273 851h0M1828 1830h0M1812 1243h0M1863 1351h0M1779 1305h0M1915 1220h0M1821 1212h0M1829 1874h0M2296 2230h0M1939 1470h0M1904 1456h0M2097 1859h0M1893 1504h0M1316 894h0M2518 2748h0M2262 1850h0M1925 1625h0M1989 1616h0M2331 2541h0M1762 1283h0M1906 1401h0"/>
<path id="m1_31" d="M2005 1715h0M2625 2621h0M1847 1424h0M2303 2116h0M1872 1501h0M2181 1593h0M1734 1778h0M2628 2609h0M1841 1550h0M2002 1494h0M1601 1407h0M1736 1475h0M1924 1565h0M1568 1256h0M2423 1857h0M2043 1745h0M2617 2789h0M1775 1790h0M2235 1757h0M1623 1389h0M1933 1448h0M1641 1242h0M1940 1577h0M1865 1762h0M2464 2879h0M1949 1419h0M2602 2827h0M1723 1723h0M1796 1728h0M1658 1463h0M2087 1483h0M2007 1624h0M1841 1755h0M1589 1171h0M2501 2667h0M2141 2227h0M1717 1759h0M2494 2492h0M2011 1892h0M1807 1289h0M1396 998h0M1601 1386h0M1858 1898h0M2537 2627h0M1908 1535h0M1691 1472h0M1785 1829h0M2528 2611h0M1775 1379h0M2214 1677h0M2528 2434h0M2131 1792h0M1743 1285h0M1956 1724h0M2563 2713h0M1787 1473h0M1993 1423h0M2601 2592h0M1871 1191h0M1776 1883h0"/>
<path id="m0_20" d="M2365 2327h0M1813 1691h0M1260 655h0M2376 2321h0M1533 1197h0M1999 1303h0M2063 1814h0M2113 1470h0M2310 2431h0M1759 1616h0M2435 2358h0M2443 2492h0M1959 1430h0M1769 1386h0M1533 1172h0M2383 2510h0M2686 2858h0M1972 2227h0M1633 1292h0M1675 1301h0M2120 1328h0M1861 946h0M1109 567h0M2377 2420h0M2234 1802h0M1783 1455h0M2318 1877h0M1840 1073h0M2231 1818h0M2086 1656h0M2172 2325h0M2057 1773h0M1617 1282h0M1432 1058h0M2763 2714h0M2008 1668h0M1942 1721h0M1597 1315h0M1314 859h0M1803 1723h0M1397 1005h0M1427 964h0M2072 1959h0M1853 1008h0M1640 1589h0M1596 1190h0M1873 1346h0M1882 1440h0M2414 2410h0M1934 1843h0M2027 1774h0"/>
<path id="m1_9" d="M2416 2220h0M2519 2331h0M2200 1880h0M1667 1472h0M2257 2252h0M2470 2249h0M2831 2742h0M1973 1944h0M1928 736h0M2326 2416h0M1695 1347h0M2142 1977h0M1322 770h0M1337 810h0M1821 1150h0M1331 813h0M2498 2340h0M2513 2875h0M1969 1257h0M1945 1838h0M1875 944h0M2618 2589h0M1302 708h0M2154 2011h0M2435 1852h0M2228 2325h0M2324 1775h0M2283 1537h0M1548 1145h0M2300 2033h0M1669 1638h0M1898 1908h0M2153 2033h0M1981 1424h0M1574 1214h0M2410 2591h0M2430 2238h0M2553 2660h0M2625 2163h0M2572 2383h0M1742 1698h0M2611 2552h0M2415 2738h0M2340 2306h0M1937 688h0M1345 865h0M2426 2562h0M2329 2520h0M2105 1790h0M2288 2427h0M1837 1370h0M1907 1881h0M1988 1811h0M2423 2333h0M2389 2469h0M1909 692h0M2341 2222h0M2516 2237h0M2515 2683h0M1522 1104h0M2448 2374h0M1916 747h0M2521 1903h0M2303 2487h0M2399 2208h0M2520 2510h0M2582 2405h0M2254 1947h0M2443 2636h0"/>
<path id="m2_12" d="M1291 789h0M1945 1831h0M2135 2256h0M1370 794h0M1803 963h0M1832 1911h0M2217 1810h0M1469 1141h0M1351 984h0M2521 2561h0M1985 1921h0M1940 1390h0M1880 829h0M2290 2553h0M1109 566h0M2303 1878h0M1894 737h0M2487 2574h0M1931 1228h0M1261 646h0M2411 1888h0M1847 1762h0M1950 1916h0M1973 2090h0M1827 1242h0M2622 2254h0M2165 2170h0M1471 1145h0M1617 1346h0M2062 1841h0M1867 1655h0M2579 2564h0M2363 2442h0M1810 1142h0M1259 720h0M1383 947h0M1233 771h0M1866 1730h0M2230 2335h0M2099 1767h0M2519 2846h0M2012 1323h0M1621 1267h0M1299 779h0M2237 2078h0M1838 1618h0M2250 2145h0M1314 827h0M1722 1584h0M1834 1353h0M2004 1671h0M2303 2640h0M1860 1034h0M2023 1831h0M2442 2584h0M1565 1293h0M2241 2571h0M1829 1563h0M2201 1857h0"/>
<path id="m0_1" d="M2091 1912h0M2115 1872h0M1926 1248h0M1967 1673h0M2528 2639h0M2573 2405h0M1872 806h0M2010 1854h0M2775 2660h0M1215 658h0M2325 2260h0M2422 2545h0M2602 2360h0M1835 1006h0M2409 2384h0M2284 2715h0M1925 740h0M2463 2698h0M2634 2899h0M1814 1657h0M2520 2531h0M2613 2547h0M1994 2057h0M1850 1653h0M1909 809h0M1938 651h0M2161 1622h0M2022 1793h0M2584 2806h0M1739 1789h0M2343 2225h0M1116 538h0M2460 2510h0M1953 1866h0M1974 1567h0M2405 2626h0M2228 2247h0M2427 2286h0M2088 2335h0M2133 1894h0M1115 553h0M2384 2089h0M1907 1347h0M2644 2506h0M2181 1908h0M2322 2346h0M2737 2521h0M1495 1191h0M2282 2277h0"/>
<path id="m2_19" d="M1687 1339h0M1965 1467h0M1182 609h0M2099 1437h0M1953 1866h0M2575 2702h0M1788 1841h0M2399 2403h0M2593 2472h0M2217 1545h0M1914 1753h0M1793 1091h0M2340 2472h0M2385 2488h0M1982 1726h0M1237 726h0M2477 2394h0M1429 1087h0M2562 2616h0M2186 2149h0M1360 943h0M1927 652h0M1727 1515h0M1876 1226h0M2062 1772h0M2620 3120h0M1892 813h0M1962 1620h0M2552 2648h0M1919 1562h0M1823 924h0M1982 1553h0M2036 1770h0M2183 1583h0M1682 1670h0M1899 1862h0M2338 2698h0M1853 1648h0M2022 1730h0M2002 1348h0M2437 2418h0M2136 1820h0M1573 1200h0M1872 983h0M1709 1689h0M2355 1912h0M1825 990h0M1544 1138h0M2039 1847h0"/>
<path id="m2_15" d="M2241 2090h0M1505 1195h0M1342 821h0M1232 594h0M1687 1310h0M1209 662h0M2480 2202h0M1376 1006h0M1796 1352h0M1822 1390h0M1707 1681h0M1852 1212h0M2374 2634h0M1750 1182h0M1487 1173h0M1838 1150h0M1942 1215h0M1135 502h0M2099 1844h0M1893 860h0M1870 1463h0M1206 735h0M1585 1209h0M1354 912h0M1879 803h0M1724 1301h0M2075 1234h0M1822 1567h0M1939 1320h0M1176 637h0M2484 2745h0M1843 1549h0M1894 1735h0M1439 969h0M1782 1830h0M1867 1412h0M2191 1919h0M1823 1564h0M1533 1230h0M1483 1129h0M1527 1252h0M2317 2359h0M2054 1545h0M2350 2192h0M2130 2154h0M2029 1452h0M2120 1663h0M1492 1124h0M1221 572h0M1777 1759h0M1444 1090h0M1490 1096h0M1192 601h0M1836 1721h0M2113 1783h0M2195 1892h0M1751 1206h0M1537 1215h0M1415 1030h0M1876 1183h0M1279 757h0M2020 2243h0M2026 1900h0M2574 2034h0M1778 1247h0M2025 1575h0M1827 1402h0M1949 1844h0"/>
<path id="m0_9" d="M1808 1807h0M2039 1872h0M2539 2662h0M2131 1442h0M1196 646h0M2185 1684h0M2004 2088h0M1397 1051h0M1841 1046h0M2411 2608h0M2056 1982h0M1837 1044h0M1563 1151h0M2427 2417h0M2047 1875h0M2202 2236h0M1970 1819h0M2356 2437h0M2281 2266h0M2100 1812h0M2122 1691h0M1430 1014h0M2233 1544h0M2575 2584h0M2544 2206h0M2383 2639h0M2531 2140h0M2456 2207h0M2115 1773h0M2173 2127h0M2306 2317h0M2152 1913h0M1900 1319h0M1957 1159h0M1403 951h0M1900 674h0M1550 1237h0M1301 763h0M1539 1220h0M2438 2597h0M1762 1524h0M1622 1254h0M2411 1849h0M1928 620h0M2248 2109h0M2452 2360h0M2337 1620h0M2418 2137h0M1351 782h0M2200 2114h0M2461 1916h0M1538 1225h0M2151 1828h0M2195 2163h0M1740 1625h0M1921 1921h0M2008 1202h0M2349 2198h0M1331 882h0"/>
<path id="m1_20" d="M2154 1591h0M1834 1537h0M1873 829h0M1854 1366h0M1381 926h0M2134 1943h0M2179 1715h0M1776 1664h0M2784 2640h0M2046 2047h0M1404 981h0M1978 1668h0M1844 1758h0M2014 1900h0M2552 2560h0M2030 1709h0M1138 522h0M1646 1563h0M1869 1175h0M2108 2182h0M1341 793h0M1878 1348h0M1163 475h0M2287 1859h0M1943 1239h0M1343 878h0M2128 1742h0M1098 539h0M2611 2648h0M2465 2615h0M1895 1311h0M1775 1469h0M1890 812h0M1856 1399h0M1606 1277h0M1113 585h0M1523 1102h0M1568 1172h0M1975 1695h0M2381 2519h0M1921 704h0M2314 2360h0M1833 1369h0M1867 1654h0M2088 1859h0M1224 578h0M2466 2349h0M1569 1218h0M1771 1283h0M2036 1817h0M2235 1793h0M1366 974h0"/>
<path id="m2_20" d="M1847 1420h0M2162 2108h0M1849 931h0M2184 2070h0M1909 779h0M1894 875h0M1844 1894h0M1683 1713h0M2115 2425h0M1964 2020h0M1933 2190h0M2200 2006h0M1610 1259h0M2601 2580h0M1575 1204h0M1384 1038h0M1793 1108h0M2278 1860h0M1297 833h0M2023 1177h0M2379 2604h0M2178 1889h0M2626 2564h0M2303 2438h0M2091 1687h0M1835 1726h0M2414 2326h0M1124 575h0M1908 1322h0M1254 635h0M1680 1316h0M1900 1299h0M1916 1445h0M2595 2764h0M1885 1345h0M1608 1294h0M1731 1251h0M1765 1560h0M2303 2574h0M1404 929h0M2671 2448h0M1869 941h0M1862 1176h0M1875 921h0M1107 523h0"/>
<path id="m0_3" d="M1973 1370h0M1842 893h0M1570 1220h0M2020 1348h0M2528 2641h0M1899 1868h0M2464 2429h0M2125 1744h0M1506 1102h0M2155 1771h0M1226 761h0M2096 1873h0M1983 1277h0M2426 2536h0M1361 973h0M1562 1163h0M1343 855h0M1334 918h0M1837 1059h0M2372 1747h0M1186 554h0M2606 2911h0M2106 1834h0M2217 2339h0M2692 2646h0M2245 2403h0M2557 2670h0M1924 1928h0M2338 1899h0M2196 2063h0M1816 1234h0M1282 850h0M2087 2069h0M1683 1367h0M2493 2359h0M1794 1036h0M1371 920h0M2531 2303h0M1842 1983h0M2323 1806h0M2202 1963h0M2071 1834h0M1592 1271h0M1823 1429h0M2373 2529h0M1375 955h0M1892 885h0M1994 1836h0M1824 970h0M1813 1081h0M1947 607h0M1489 1162h0M1283 847h0M2268 1969h0M2322 2036h0M2445 2290h0M1875 978h0M1283 822h0M2767 2738h0M2236 2329h0M2228 2416h0M2137 1885h0M2510 2710h0M2321 2436h0M1837 1057h0M1850 1259h0M2012 1729h0M2147 1775h0M2511 2449h0"/>
<path id="m2_18" d="M1835 935h0M1921 1439h0M2986 3109h0M1599 1290h0M2540 2819h0M1788 991h0M1792 1696h0M1372 911h0M1216 700h0M1850 1892h0M1949 642h0M2165 1842h0M1859 1791h0M2328 2191h0M1878 823h0M2281 1811h0M1706 1270h0M1291 727h0M1891 1789h0M1253 795h0M1883 816h0M2211 1755h0M2241 2140h0M1653 1633h0M1839 1324h0M2215 1771h0M1521 1088h0M1879 1862h0M1938 1696h0M1864 1414h0M2575 2588h0M1942 1466h0M1670 1266h0M1929 1557h0M2060 1993h0M2417 2714h0M2577 2677h0M2403 2740h0M1788 1070h0M1987 1801h0M2493 2699h0M1924 1593h0M1730 1699h0M1810 947h0M1997 1592h0M1458 1018h0M1587 1328h0M1117 505h0M1761 1327h0M1792 1203h0M1986 1999h0M1982 2036h0M1648 1287h0M1837 1410h0M1153 458h0M2467 2532h0M2212 1737h0"/>
<path id="m1_21" d="M1603 1377h0M1345 802h0M2200 2127h0M1797 1770h0M1847 1190h0M2281 2258h0M1763 1826h0M1205 611h0M2558 2439h0M2727 2730h0M1914 1278h0M2264 1806h0M1908 1943h0M1881 866h0M1986 2215h0M1917 1230h0M2060 1604h0M2032 1259h0M1303 870h0M1559 1160h0M1703 1267h0M1803 1639h0M1868 1289h0M1186 668h0M2496 2448h0M1639 1582h0M1352 846h0M1579 1216h0M2447 2517h0M1360 886h0M1395 1006h0M2059 1694h0M1486 1097h0M2452 2334h0M1397 1009h0M2711 2479h0M2052 1670h0M1470 1013h0M1539 1234h0M1535 1201h0M1775 1361h0M1578 1236h0M2552 2119h0M1950 1350h0M1226 793h0M1762 1330h0M1554 1200h0M2171 1979h0M2051 2000h0"/>
<path id="m0_2" d="M1840 1657h0M2074 1855h0M2496 2651h0M1306 928h0M1787 1704h0M1361 817h0M2320 2477h0M1911 1783h0M1527 1234h0M2274 2330h0M1813 1102h0M2121 1832h0M1429 1087h0M1863 952h0M1373 900h0M2382 2356h0M2554 2585h0M2172 1595h0M2004 1887h0M2202 2057h0M2574 2364h0M2361 2030h0M2291 1864h0M2500 2759h0M1932 1704h0M1927 626h0M2087 1911h0M2381 1760h0M2567 2821h0M1918 1893h0M1493 1105h0M2010 1831h0M2196 1792h0M2134 1687h0M2369 2311h0M1785 1150h0M1557 1176h0M1652 1466h0M1158 572h0M2361 2275h0M2357 2256h0M1496 1098h0M1932 1847h0M2284 2103h0M2322 2170h0M1861 1729h0M2009 1911h0M2386 2609h0M1986 2154h0M2505 2545h0M2731 2750h0M1913 802h0M1537 1149h0M1375 829h0M2329 2069h0M1920 706h0M2042 2024h0M2215 2261h0M2175 2076h0M2126 2227h0M2323 2369h0M2015 1849h0M1886 1285h0M1988 1914h0M1740 1833h0M2213 2368h0M2071 2108h0M2451 2316h0M2083 1964h0M2486 2597h0M2164 2472h0M2492 2092h0M2350 2685h0M2460 2311h0M1231 769h0M1879 961h0M2498 2650h0M1686 1356h0"/>
<path id="m1_15" d="M1163 448h0M1382 1042h0M2068 1555h0M2191 2060h0M2368 2619h0M2192 1625h0M1741 1279h0M1818 1080h0M2107 1653h0M2496 2390h0M1960 1453h0M1316 794h0M2008 1879h0M2294 1902h0M1648 1550h0M1301 817h0M1396 944h0M1865 1168h0M2402 2233h0M1747 1666h0M1273 675h0M1912 1353h0M2500 2662h0M1166 556h0M1843 1596h0M1630 1258h0M1420 970h0M1829 1517h0M1738 1423h0M2327 1830h0M2437 2601h0M1322 930h0M1710 1758h0M1943 645h0M2377 2417h0M2641 2419h0M2200 1553h0M1545 1118h0M1544 1224h0M1907 1530h0M2104 1648h0M2156 1721h0M2061 1180h0M1777 1848h0M1453 1125h0M2212 1905h0M1864 1540h0"/>
<path id="m2_26" d="M1927 1853h0M1223 694h0M1561 1177h0M2837 3041h0M1207 718h0M1698 1607h0M1274 794h0M2036 1681h0M2449 2681h0M2079 1824h0M1560 1209h0M1972 1761h0M2261 1710h0M1318 894h0M1933 1546h0M1756 1282h0M1900 1158h0M2358 2246h0M1242 680h0M1603 1305h0M1934 1856h0M1960 1434h0M1722 1540h0M1836 1747h0M1869 1787h0M1716 1237h0M2442 2855h0M1577 1231h0M2001 1313h0M1859 1504h0M1943 2087h0M2164 1638h0M2094 1570h0M1894 1428h0M2518 2554h0M1696 1550h0M2224 2103h0M1541 1193h0M1996 1647h0M2042 1748h0M1841 1684h0M1435 1094h0M1765 1709h0M2500 2514h0M2133 1932h0M2541 2290h0M2469 2388h0M1642 1478h0M2210 1651h0M2157 1596h0M2184 1667h0M1702 1342h0M2304 2522h0M1838 1666h0"/>
<path id="m2_8" d="M2424 2453h0M2145 1563h0M2139 1945h0M2356 2354h0M2348 2289h0M2813 2621h0M2667 2826h0M1337 810h0M2144 1980h0M2418 2627h0M1923 1956h0M1842 1654h0M1998 1339h0M2049 1457h0M2478 2300h0M2155 1780h0M2358 2706h0M1811 1104h0M2732 2846h0M2209 2093h0M2677 2428h0M1740 1347h0M2712 2437h0M2316 2609h0M2043 1315h0M2523 2536h0M2276 2566h0M2529 2345h0M1833 922h0M2507 2405h0M1371 797h0M2269 1607h0M1253 782h0M1909 753h0M2433 2635h0M1206 701h0M1834 1478h0M2571 2720h0M1798 1093h0M1825 1335h0M2127 2062h0M2488 2698h0M1310 784h0M1855 1277h0M1353 974h0M2450 2530h0M1445 1114h0M2506 2758h0M2173 2133h0M2273 2216h0M1923 770h0M1926 1889h0M1875 1128h0M2021 1880h0M2478 2568h0M2194 2282h0M1295 718h0M2222 2148h0M2265 1775h0M1921 1873h0M2328 2261h0M2633 2583h0M1982 1996h0M1769 1447h0M2386 2519h0M2528 2760h0M1869 1548h0M2461 2607h0M1687 1233h0M2381 2208h0M1960 1397h0M1909 1317h0M2116 1791h0M2146 2129h0M1962 1281h0M1968 1197h0M1358 788h0M1460 1047h0"/>
<path id="m1_34" d="M2764 2609h0M1840 1796h0M1619 1447h0M2045 1607h0M2206 1737h0M1982 1505h0M2081 1966h0M2045 1689h0M2510 2553h0M2060 1650h0M1928 1121h0M2176 1720h0M1898 1745h0M2051 1694h0M1947 1480h0M1873 1725h0M1776 1143h0M2208 1703h0M1481 1139h0M2265 1918h0M2045 1441h0M2224 1834h0M2105 1543h0M2003 1329h0M1492 1084h0M1215 577h0M1982 1560h0M1950 1653h0M1832 1937h0M2691 2628h0M2152 1573h0M1922 1337h0M1772 1389h0M2419 2150h0M1688 1680h0M2551 2551h0M2046 1397h0M2160 1736h0M2482 2397h0M2010 1388h0M1887 1725h0M2192 1881h0M1725 1344h0M1735 1778h0M1837 1862h0M1700 1573h0M1434 1059h0M2762 2682h0M2250 2320h0M2403 2653h0M1921 749h0M2074 1196h0M1882 1641h0M2075 1540h0M1932 1730h0M2194 1750h0M2081 2061h0M1968 1438h0M1644 1568h0M1839 1261h0M1372 969h0M2483 2691h0M1764 1429h0M1795 1248h0M2318 2430h0M2910 3250h0M1901 1763h0"/>
<path id="m2_34" d="M1763 1834h0M2171 2084h0M2418 1850h0M1951 1561h0M1641 1586h0M1748 1423h0M2149 1735h0M2260 2294h0M1722 1790h0M1853 1525h0M2486 2534h0M2416 2526h0M1835 1873h0M1548 1250h0M1326 848h0M2021 2178h0M1815 1260h0M2552 2470h0M2340 2301h0M2290 2491h0M1494 1149h0M1779 1709h0M1773 1711h0M2269 1560h0M1825 1479h0M1812 1689h0M1726 1580h0M1602 1444h0M2722 2894h0M2247 1787h0M2388 2314h0M2043 1716h0M1826 1458h0M2209 2251h0M2018 1727h0M2950 3320h0M1986 1641h0M1823 1511h0M2049 2211h0M2204 1705h0M2104 2140h0M2209 1726h0M2019 1464h0M2293 1918h0M1979 1677h0M2033 1820h0M2900 3290h0M2568 2722h0M1860 929h0M1315 963h0M2016 1337h0M1943 1825h0M2008 1315h0M2207 2017h0M1779 1818h0M2133 1709h0M1723 1676h0M2461 2788h0M2279 2151h0M2274 1936h0M2531 2564h0M1298 786h0M2340 2446h0M1950 1467h0M1764 1489h0M2470 2533h0M2054 1544h0M2245 2221h0M2166 1703h0M1693 1379h0M1720 1500h0M2086 1762h0M1882 1479h0M1659 1608h0M2174 1793h0M1660 1252h0M1723 1334h0"/>
<path id="m2_10" d="M2280 2101h0M2184 2378h0M1259 662h0M2499 2557h0M2207 2258h0M2464 2432h0M2102 2200h0M1241 633h0M2185 2146h0M2354 2168h0M2114 1994h0M2275 2623h0M2897 2661h0M1971 1675h0M1152 472h0M2550 2410h0M2032 1479h0M2214 1732h0M2022 2006h0M1195 514h0M1637 1381h0M2453 2443h0M2810 3300h0M1299 873h0M2285 2061h0M1993 1210h0M1845 1058h0M2535 2340h0M1895 1411h0M2448 2350h0M2123 1300h0M2338 2471h0M2303 2155h0M1425 1030h0M2044 2114h0M1143 526h0M1223 624h0M2344 2360h0M1229 733h0M2645 2706h0M2064 1784h0M2592 2274h0M1976 1317h0M2349 2399h0M2228 2212h0M1507 1160h0M2560 2362h0M2170 1377h0M1823 1046h0M2017 1796h0M2567 2569h0M2446 2373h0M2498 2537h0M1919 689h0M2471 2359h0M2139 2110h0M2086 1915h0M2513 2452h0M1890 876h0M1317 755h0M2873 2618h0M2670 2640h0M1825 1166h0M1889 1613h0M1761 1487h0M2395 2370h0M2113 2274h0M1950 627h0M2299 2272h0M2587 2447h0"/>
<path id="m0_22" d="M1951 1562h0M1848 1780h0M1615 1188h0M1375 902h0M2530 2534h0M1831 1172h0M2515 2525h0M2497 2416h0M1451 1044h0M2050 2124h0M2427 2370h0M1829 1602h0M2538 2696h0M1777 1886h0M2018 1498h0M1695 1274h0M2279 2360h0M2683 2349h0M1816 1116h0M1625 1198h0M1533 1133h0M1192 691h0M2429 2502h0M1696 1522h0M1462 1087h0M2606 2598h0M1842 1216h0M2172 1761h0M1938 1690h0M1437 1088h0M2639 2524h0M1271 861h0M2500 2511h0M1171 620h0M1894 812h0M1660 1380h0M1863 1590h0M1805 1621h0M2389 2257h0M1888 916h0M1527 1189h0M1712 1288h0M1989 1576h0M1660 1298h0M1599 1167h0M1324 906h0M1874 1391h0M2244 1919h0M2003 1437h0M1193 532h0M1694 1382h0M1505 1100h0M1459 1090h0M1856 884h0M1668 1580h0M2383 2579h0M1907 796h0M1147 468h0"/>
<path id="m1_12" d="M2575 2593h0M1532 1147h0M2388 2164h0M1876 1152h0M1610 1290h0M1962 1245h0M2246 2311h0M1414 977h0M1176 601h0M1842 1584h0M2283 2843h0M2442 2314h0M1668 1438h0M1737 1235h0M2160 2181h0M1201 524h0M1935 1982h0M1622 1421h0M1748 1725h0M1495 1131h0M2545 2421h0M2388 2402h0M1588 1295h0M1463 1029h0M1990 1879h0M2478 2702h0M1554 1248h0M1321 958h0M2059 1819h0M2592 2910h0M1550 1235h0M1853 1053h0M2717 2745h0M1325 860h0M1727 1808h0M1790 1061h0M2339 2302h0M1876 867h0M1890 1269h0M1905 761h0M1359 984h0M1770 1271h0M2152 2168h0M1252 688h0M2254 2174h0M1769 1313h0M1253 837h0M1276 784h0M1905 1196h0M1815 1107h0M1152 444h0M2432 2322h0M2446 2218h0M1284 690h0M2449 2611h0M2703 2491h0M1694 1288h0M1531 1203h0M1995 1624h0M1425 983h0"/>
<path id="m2_9" d="M1907 1127h0M2022 1868h0M2588 2556h0M2304 2340h0M2733 2675h0M1745 1728h0M2347 2424h0M2730 2430h0M2197 2168h0M2448 2378h0M2531 2366h0M1986 1285h0M1886 1493h0M2657 2792h0M1929 1952h0M2466 2978h0M1372 910h0M2526 2608h0M2263 2059h0M1456 1119h0M2043 1354h0M2542 2621h0M2552 2595h0M2134 1338h0M2462 2469h0M1173 507h0M2333 2369h0M2536 2497h0M2409 2546h0M2282 2287h0M2374 2131h0M2632 2518h0M2414 2567h0M1426 978h0M2005 1985h0M2560 2482h0M1902 1878h0M2365 2458h0M1826 1946h0M1967 2068h0M2524 2766h0M1805 1280h0M2451 2462h0M1903 871h0M2311 2193h0M2557 2540h0M1315 915h0M1893 916h0M1273 870h0M1809 1369h0M2591 2363h0M1364 849h0M2456 2564h0M2396 2391h0M1940 1930h0M1927 1302h0M2166 1799h0M2268 2209h0"/>
<path id="m0_10" d="M2152 2241h0M2034 1979h0M1884 1746h0M1917 1441h0M1127 490h0M2117 1888h0M2575 2557h0M2382 2650h0M2376 2650h0M1165 508h0M2363 2354h0M1879 1116h0M2358 2564h0M2484 2582h0M2332 1904h0M2304 2225h0M2228 1860h0M1772 1050h0M2410 2144h0M2331 2345h0M2171 1644h0M1893 743h0M2109 2008h0M2153 1675h0M2056 1643h0M1300 821h0M2159 1788h0M1321 922h0M2299 2036h0M2394 2404h0M1342 1000h0M1218 700h0M2389 2583h0M2190 2086h0M2205 2258h0M1901 882h0M1490 1100h0M1720 1224h0M1299 720h0M1844 1896h0M2388 2372h0M2116 1896h0M2384 1773h0M1952 593h0M1915 817h0M1928 1290h0M1403 1044h0M2678 2689h0M1951 1864h0M2541 2660h0M2289 1846h0M2645 2494h0M2632 2866h0M2297 2059h0M2584 2725h0M2438 2581h0M2854 3185h0M2224 2266h0M2280 2234h0M2501 2297h0M1965 1879h0M2397 2507h0M2265 2114h0M1190 520h0M1787 1102h0M2371 2096h0M1801 1345h0M1741 1472h0M2285 2135h0M2198 2527h0"/>
<path id="m1_30" d="M2159 1675h0M2812 2656h0M2040 1665h0M2026 1434h0M2033 1827h0M1861 1536h0M1916 1718h0M2518 2501h0M1991 1663h0M2473 2505h0M1765 1609h0M2096 1673h0M2059 1359h0M2190 1913h0M2395 2015h0M1949 1606h0M1663 1622h0M2068 1856h0M1862 1727h0M2086 1685h0M2454 2359h0M2310 2239h0M1797 1284h0M2101 1682h0M2036 1660h0M1675 1686h0M1899 1826h0M1916 1514h0M2115 1536h0M1588 1298h0M1960 1919h0M1823 1490h0M2067 1675h0M1983 1475h0M1315 854h0M1906 1865h0M2214 2318h0M2052 1582h0M2469 2184h0M2238 2300h0M1729 1635h0M1798 1726h0M2349 1904h0M1966 1846h0M2564 2688h0M1894 1412h0M2324 1869h0M2412 2544h0M1725 1363h0M1926 1114h0M1560 1319h0M1734 1764h0M1769 1162h0M2136 1716h0M2099 1688h0M2424 2332h0M1879 1868h0M1650 1219h0M1874 1585h0M1791 1515h0M2056 1780h0M1777 1672h0M2424 2588h0M1682 1658h0M1943 1656h0M1809 1455h0M1284 893h0M2115 2483h0M2359 2562h0M2076 1422h0M2082 1623h0M2324 2252h0M2530 2658h0M2703 2690h0M2140 1617h0M1717 1688h0M2158 1846h0M2446 2648h0M2484 2745h0M1705 1539h0M1793 1292h0"/>
<path id="m0_12" d="M1849 1789h0M1758 1190h0M1740 1755h0M2494 2371h0M1897 796h0M1392 1004h0M1988 1667h0M1534 1122h0M1819 1647h0M1912 1431h0M1929 1235h0M1989 1483h0M1924 694h0M1268 727h0M1203 631h0M2075 1896h0M1511 1087h0M1786 1434h0M1992 1437h0M1870 1611h0M2067 2224h0M1331 937h0M1659 1455h0M2121 1702h0M1244 741h0M1825 1724h0M2476 2345h0M1936 1327h0M1882 1397h0M1933 1840h0M2339 2224h0M1186 621h0M1569 1365h0M1602 1251h0M2407 2536h0M1676 1397h0M2431 2442h0M2109 1829h0M2554 2128h0M1365 952h0M2349 2394h0M2344 2950h0M2218 2486h0M2516 2518h0M1172 503h0M2119 1485h0M2473 2448h0M2598 2717h0M2110 1818h0M1199 569h0M2396 2639h0M2187 1905h0M2618 2246h0M1721 1282h0M1536 1185h0M2018 2243h0"/>
<path id="m0_19" d="M2564 2757h0M1837 1735h0M2132 1666h0M1996 1749h0M2298 2341h0M1482 1082h0M2165 2026h0M2478 2616h0M2072 1919h0M1980 2090h0M1222 745h0M1294 889h0M1525 1209h0M1991 1728h0M1197 658h0M2481 2579h0M1994 2346h0M1242 715h0M2451 2573h0M1782 1346h0M1725 1278h0M2081 1549h0M1435 995h0M2081 1594h0M1888 1818h0M2460 2502h0M1249 760h0M1856 1287h0M2680 2545h0M2511 2613h0M1699 1652h0M1761 1445h0M1175 638h0M1200 532h0M1883 810h0M1376 906h0M2046 1881h0M2432 2440h0M1110 564h0M1322 805h0M1758 1526h0M2139 2164h0M2073 1833h0M1791 1080h0M2640 3130h0M1462 1103h0M2219 2437h0M2347 2479h0M1172 468h0M1842 1899h0M2029 1931h0M1741 1820h0M1952 1104h0M1883 820h0M1777 1239h0M1288 804h0M1922 1634h0M2058 1987h0M1771 1173h0M1841 1251h0M1770 1154h0M2527 2455h0"/>
<path id="m0_13" d="M1902 750h0M1210 676h0M2432 1856h0M2140 1856h0M1341 982h0M1899 1192h0M1440 1087h0M1926 1983h0M2478 2465h0M1692 1381h0M1335 790h0M1868 886h0M1827 1256h0M1874 1374h0M1769 1885h0M1546 1146h0M1891 697h0M2185 1832h0M2294 2402h0M1786 1724h0M1316 746h0M1285 815h0M2364 2323h0M1555 1116h0M1942 1205h0M1637 1496h0M2047 1729h0M1185 546h0M2554 2607h0M1846 1053h0M1437 1065h0M1664 1277h0M2191 1868h0M1871 1239h0M2421 2279h0M2094 1824h0M1870 1016h0M1177 484h0M1338 777h0M1493 1167h0M2392 2498h0M2259 1670h0M1619 1399h0M1887 1371h0M1808 1290h0M1538 1173h0M2015 1963h0"/>
<path id="m1_16" d="M1567 1132h0M1349 908h0M1912 768h0M2352 1869h0M1423 1020h0M2507 2171h0M1552 1219h0M1306 791h0M1313 733h0M2316 2452h0M1907 1875h0M1276 770h0M2632 2489h0M1885 1247h0M1844 1491h0M1824 1334h0M2291 2668h0M1377 870h0M1881 893h0M2117 1806h0M1899 1894h0M1333 800h0M2017 1442h0M2001 2263h0M1986 1344h0M1299 774h0M1745 1326h0M1400 937h0M1360 896h0M1892 807h0M1950 1115h0M2418 2115h0M1535 1211h0M1136 606h0M1928 1346h0M1902 844h0M1885 1308h0M1971 1662h0M1388 1026h0M1761 1463h0M2110 1333h0M1790 1906h0M1193 593h0M2412 2744h0M1321 748h0M1663 1621h0M1354 972h0M1222 747h0M2087 1550h0M2525 2591h0M1987 1740h0"/>
<path id="m2_22" d="M1638 1274h0M2404 2338h0M1953 1548h0M2028 1711h0M1681 1400h0M2365 2127h0M1832 1818h0M2424 2678h0M1909 1285h0M1941 1214h0M1797 1111h0M1252 670h0M1772 1876h0M1991 1684h0M1237 637h0M1182 597h0M1333 766h0M2079 1535h0M1523 1074h0M1275 738h0M1852 1318h0M1200 715h0M2205 1748h0M1527 1131h0M1827 1312h0M1899 1553h0M2286 1809h0M1870 1633h0M1807 1521h0M2113 1438h0M1954 1666h0M1703 1543h0M2349 1878h0M1773 1459h0M1683 1578h0M1508 1133h0M2571 3135h0M1877 783h0M1515 1098h0M1191 646h0M1521 1242h0M1867 886h0M1199 694h0M1688 1345h0M1194 697h0M1645 1339h0M2317 2300h0M1418 1066h0M1579 1191h0M2449 2482h0M1841 1616h0M1914 1150h0M1762 1155h0M2589 2367h0M2438 2620h0M2066 1577h0M2158 1901h0M1900 1341h0"/>
<path id="m1_33" d="M1256 829h0M2039 1702h0M2321 2498h0M1725 1442h0M2613 2533h0M2049 1809h0M2006 1869h0M2645 2961h0M1316 844h0M2057 1484h0M2280 1818h0M1832 1470h0M1609 1263h0M1730 1614h0M1889 1404h0M2114 1651h0M2550 2709h0M1982 1739h0M1713 1403h0M2521 2444h0M1741 1743h0M1872 1473h0M1864 1359h0M1823 1523h0M2689 2721h0M2056 1854h0M2411 2406h0M2457 2606h0M2006 1630h0M1874 935h0M2032 1703h0M1917 1764h0M1741 1356h0M2059 1813h0M2245 1836h0M2629 2621h0M1934 1873h0M2443 2257h0M2071 1474h0M2354 2624h0M2165 1806h0M2576 2447h0M2456 2646h0M2343 2442h0M2063 1818h0M1740 1533h0M2279 1759h0M2115 1512h0M1815 1723h0M2250 2394h0M2037 1474h0M1955 1520h0M1987 1875h0M1777 1647h0M2908 3006h0M2246 1710h0M2024 1748h0M1440 976h0M2425 2343h0M1832 1838h0M2860 3210h0M2132 1632h0M2049 1800h0M2242 2157h0M2014 1979h0"/>
<path id="m2_23" d="M1564 1215h0M2322 2359h0M1427 1029h0M1544 1302h0M1749 1555h0M2325 1824h0M1815 1088h0M2032 1252h0M2058 1476h0M1729 1381h0M2428 2394h0M1851 897h0M1976 1891h0M1419 1065h0M1233 735h0M1405 1035h0M2151 1717h0M1864 1396h0M1770 1290h0M1898 1247h0M2632 2697h0M1873 1163h0M1839 1073h0M1808 1871h0M2551 2775h0M2475 2718h0M2020 2007h0M2531 2364h0M2602 2503h0M1906 1329h0M1945 1865h0M1797 1612h0M2405 2621h0M1556 1176h0M1785 1191h0M2148 1446h0M1368 874h0M2124 1716h0M1141 566h0M1903 1237h0M2019 1756h0M1804 1012h0M2069 1704h0M1983 1815h0M1850 987h0M2028 1661h0M1298 884h0M1731 1596h0M1812 1269h0M1789 1111h0M2554 2690h0M1649 1346h0M2333 2320h0M1825 1346h0M1350 903h0M1666 1295h0M2150 1710h0M1934 1302h0M1794 1831h0M1126 517h0M2476 2533h0M2325 2362h0M1233 668h0M2603 2466h0"/>
<path id="m0_27" d="M2063 2169h0M2701 2355h0M2082 1553h0M1355 848h0M1798 1684h0M2368 2441h0M1731 1279h0M2438 2480h0M2160 2305h0M2028 1787h0M1818 1374h0M1610 1335h0M1884 820h0M1632 1464h0M2212 2279h0M2366 2412h0M2472 2661h0M1991 1567h0M1938 1713h0M2424 2416h0M2022 1908h0M2100 1649h0M1868 1383h0M1611 1288h0M1891 1902h0M1988 1586h0M1702 1642h0M2115 1615h0M1804 1102h0M1293 812h0M1109 529h0M2735 2658h0M1237 750h0M1808 1629h0M1273 732h0M1575 1234h0M1494 1133h0M1678 1454h0M1935 1338h0M1628 1458h0M1775 1804h0M2110 1709h0M1330 839h0M2247 1733h0M1197 645h0M1590 1298h0M2153 1840h0M2184 2140h0M1687 1281h0M1983 1291h0M1862 1872h0M2497 2608h0M1586 1372h0"/>
<path id="m2_17" d="M1915 1523h0M1331 888h0M2319 2255h0M1335 830h0M2087 2086h0M2003 1388h0M2530 2246h0M2140 1643h0M1694 1633h0M2501 2481h0M1184 626h0M1970 1766h0M1340 758h0M2156 1902h0M1949 1578h0M2008 1447h0M1948 1373h0M2078 2060h0M2615 2679h0M2194 1751h0M1996 1825h0M2370 2312h0M2391 2501h0M2285 1786h0M1524 1183h0M1133 483h0M1318 918h0M1342 815h0M1740 1550h0M2178 2053h0M1494 1186h0M1816 1015h0M1857 1331h0M2279 1998h0M1718 1469h0M1910 1379h0M2328 1871h0M1455 1081h0M2141 1585h0M1101 549h0M1886 1277h0M2444 2441h0M2071 1810h0M1567 1347h0M1907 1290h0M1783 1140h0M1106 567h0"/>
<path id="m2_39" d="M2022 1533h0M2688 2641h0M2463 2199h0M2400 2349h0M1933 1635h0M1817 1559h0M2065 1785h0M1157 589h0M2125 1539h0M2542 2769h0M1353 842h0M2422 2286h0M1694 1439h0M2345 2351h0M1898 1851h0M2032 1807h0M2480 2594h0M2241 2247h0M1580 1246h0M2221 1797h0M1646 1590h0"/>
<path id="m0_26" d="M2336 2307h0M2433 2163h0M1865 1827h0M2405 2325h0M2449 2613h0M1732 1806h0M1856 1496h0M1793 1287h0M2563 2296h0M2681 2680h0M2449 2637h0M1871 960h0M2301 1802h0M2238 1729h0M2525 2495h0M1915 1369h0M2579 2520h0M1853 1505h0M1811 1852h0M2158 1645h0M1882 1803h0M1505 1153h0M2304 2412h0M2019 1720h0M1839 1860h0M2053 1458h0M2080 1553h0M2151 1595h0M1703 1513h0M2222 1805h0M2040 1192h0M2509 2554h0M1993 1696h0M1914 1853h0M1816 1047h0M1786 1371h0M2107 1884h0M1291 749h0M2081 1524h0M1617 1193h0M1588 1189h0M1486 1081h0M2332 1784h0M1961 1251h0M2354 2171h0M1749 1629h0M1791 1703h0"/>
<path id="m1_29" d="M1808 1655h0M1334 922h0M1887 1825h0M2484 2620h0M1985 1316h0M1754 1413h0M1651 1508h0M1866 1414h0M2571 2749h0M1838 912h0M1643 1433h0M2291 2279h0M1248 670h0M2207 1771h0M1699 1302h0M2129 1894h0M1784 1739h0M2386 1897h0M1968 1444h0M2220 1829h0M1946 1746h0M1977 1491h0M1872 1843h0M2282 2418h0M1824 1616h0M1686 1518h0M2026 1417h0M2111 1820h0M1361 867h0M2182 1690h0M2490 2142h0M2409 2657h0M2115 1715h0M1421 1085h0M1679 1514h0M1835 1194h0M2573 2674h0M2238 2592h0M2147 1698h0M1780 1724h0M2188 1674h0M2295 1829h0M2007 2378h0M1843 1567h0M2059 1619h0M1742 1200h0M2035 1925h0M1930 1383h0"/>
<path id="m2_2" d="M1919 1288h0M1824 999h0M2423 1774h0M2311 2357h0M1986 2052h0M2609 2440h0M2378 2513h0M1777 1626h0M2486 2423h0M1126 529h0M1688 1240h0M2074 1768h0M2352 2291h0M2125 1845h0M1999 1950h0M1511 1158h0M2477 2495h0M2282 2081h0M2107 1530h0M1849 1187h0M2308 2356h0M1961 2205h0M2349 2371h0M2131 2275h0M1860 980h0M2427 2382h0M1803 1274h0M1796 1259h0M2557 2139h0M2512 2201h0M2188 1919h0M2502 2743h0M2040 2195h0M2604 2462h0M2510 2390h0M2445 2822h0M1923 706h0M1358 786h0M2300 2189h0M2560 2561h0M2115 1660h0M1344 983h0M1931 1494h0M1903 883h0M2315 2545h0M2109 1874h0M2283 2021h0M1985 1913h0M1944 1639h0M2683 2619h0M2091 1999h0M1248 797h0M2113 2283h0M2596 2770h0M1943 1583h0M2352 1687h0M1640 1293h0"/>
<path id="m1_13" d="M1852 1602h0M1580 1364h0M1184 522h0M2292 2829h0M1298 706h0M1857 1044h0M1754 1616h0M1386 1011h0M1407 1021h0M1768 1146h0M1535 1105h0M1266 722h0M1498 1134h0M2463 2665h0M2646 2619h0M1436 1092h0M1266 824h0M1331 782h0M1770 1344h0M2213 2167h0M1872 960h0M1344 969h0M1826 1083h0M1844 1399h0M1657 1344h0M2484 2762h0M1265 745h0M2109 1628h0M1678 1350h0M2225 1961h0M1366 895h0M1917 677h0M1194 701h0M1769 1761h0M1198 701h0M2302 2530h0M1994 1321h0M1857 1802h0M1862 1028h0M1696 1342h0M2019 2167h0M1469 1088h0M2683 2656h0M1590 1274h0M1913 1658h0M1688 1390h0M1883 1840h0M1517 1223h0M1178 457h0M1750 1497h0"/>
<path id="m0_33" d="M2131 1641h0M2631 2641h0M2169 2033h0M2159 1613h0M1896 1813h0M2273 1879h0M2333 2213h0M1681 1481h0M1848 1628h0M1859 1163h0M2312 2117h0M2358 2372h0M1769 1738h0M1675 1702h0M2026 1746h0M2014 1914h0M1540 1234h0M1741 1695h0M2880 3230h0M2930 3280h0M2043 1720h0M2513 2473h0M2017 1674h0M1676 1682h0M2089 1886h0M1618 1456h0M2032 2064h0M1919 1423h0M1678 1530h0M1872 1363h0M1914 1772h0M1882 1710h0M2142 1517h0M1296 749h0M1926 1418h0M1874 2042h0M1791 1714h0M1960 1134h0M1707 1616h0M2634 2900h0M1818 1796h0M1960 1726h0M1772 1702h0M1991 1832h0M2171 1747h0M2220 1689h0M1333 973h0M1972 1691h0M2155 1728h0M1752 1668h0M1808 1453h0M2829 3197h0M2571 2141h0M2097 1894h0M2716 2560h0M1992 1881h0M2363 2088h0M1134 592h0M2492 2696h0M2123 1522h0M1358 993h0M2067 1708h0M2424 2481h0M1825 1413h0M1571 1281h0M2375 2421h0M2554 2449h0M1924 1545h0M2360 2193h0M1761 1678h0M2517 2869h0M2411 2467h0"/>
<path id="m0_35" d="M1740 1755h0M1818 1918h0M2179 1733h0M2285 2047h0M1621 1388h0M2006 1412h0M1993 1569h0M2298 1852h0M1960 1460h0M1903 775h0M2006 1575h0M1895 1832h0M2429 1861h0M2065 1933h0M2554 2906h0M2437 2287h0M1935 1688h0M2453 2657h0M2448 2301h0M2466 2590h0M2006 2089h0M1779 1437h0M1726 1446h0M1934 1880h0M2366 2590h0M2238 2168h0M1870 1162h0M2551 2676h0M1553 1334h0M2043 1503h0M1780 1503h0M2027 1385h0M2104 1783h0M2778 2868h0M2061 1719h0M1797 1087h0M2123 1655h0M2640 2759h0M1709 1311h0M2456 2774h0M1777 1564h0M2228 1775h0M1914 1747h0M1823 1437h0M1758 1553h0M1886 1853h0M2461 2417h0M2363 2330h0M2671 2615h0M1793 1405h0M2560 2491h0M1812 1659h0M2163 1801h0M2102 1700h0M2017 1445h0M2542 2594h0M2322 1777h0M2088 1672h0"/>
<path id="m2_30" d="M1713 1635h0M1766 1338h0M1545 1256h0M2097 1635h0M2325 2568h0M1482 1141h0M2042 1847h0M2035 1512h0M2032 1554h0M1929 1432h0M2136 1708h0M1718 1405h0M2519 2375h0M2174 1703h0M2059 1706h0M2518 2577h0M2089 1781h0M1704 1455h0M1767 1196h0M2332 1728h0M1914 1795h0M1732 1743h0M2434 2627h0M2684 2768h0M1699 1590h0M2250 1690h0M2093 1461h0M2234 1896h0M2107 1807h0M1585 1165h0M1937 1792h0M1689 1462h0M1982 1565h0M1775 1493h0M1902 1205h0M1863 1851h0M1185 499h0M1914 1897h0M2267 2442h0M2543 2575h0M2437 2102h0M2147 1777h0M1735 1682h0M2009 1404h0M1917 1758h0M2104 1740h0M1784 1522h0M1908 1188h0M1840 1577h0M1675 1693h0M1869 1610h0M2746 2829h0M1821 1202h0M1950 1700h0M1963 1462h0M1746 1275h0M1886 1120h0M1964 1759h0M2616 2515h0M2039 1697h0M2193 1765h0M1791 1120h0M1935 1737h0M1745 1589h0M2549 2405h0M1692 1731h0"/>
<path id="m0_31" d="M1780 1677h0M2322 2292h0M2569 2669h0M2506 1909h0M1636 1413h0M2254 2183h0M2444 2500h0M1726 1575h0M1261 711h0M1742 1542h0M1642 1545h0M1723 1610h0M2647 2773h0M2167 2193h0M2529 2627h0M1926 1305h0M2590 2889h0M2038 1642h0M2446 2348h0M1675 1599h0M2061 1499h0M1917 1556h0M2398 2600h0M1944 2101h0M1237 810h0M1550 1188h0M1697 1575h0M1785 1047h0M2030 1540h0M2054 1876h0M2521 2370h0M1335 831h0M1934 1425h0M1778 1359h0M1843 1599h0M2124 1577h0M2300 2338h0M1925 1489h0M2008 1606h0M1382 861h0M2174 1539h0M1922 1530h0M1943 1751h0M1744 1682h0M2091 1690h0M1986 1880h0M2453 2525h0M2264 1724h0M2498 2261h0M2025 1651h0M1353 884h0M1984 1361h0M2174 1812h0M1854 918h0M2107 1626h0M2135 1757h0M2614 2641h0M1851 1495h0M1796 1461h0M2096 1896h0M2620 2449h0M1867 1776h0M1739 1772h0M1626 1477h0M1661 1568h0M1838 1682h0"/>
<path id="m0_32" d="M2150 1662h0M2263 2717h0M1810 1064h0M2114 1881h0M2530 2623h0M1886 1529h0M1384 985h0M1785 1123h0M1649 1494h0M2257 1745h0M2044 1457h0M2182 1566h0M2116 1896h0M2200 2118h0M1803 1810h0M2286 2396h0M1645 1497h0M2493 2770h0M1908 1711h0M1782 1757h0M1680 1548h0M2066 1584h0M1861 1582h0M2075 1617h0M2471 2754h0M2046 1449h0M1671 1687h0M2211 1708h0M2830 3190h0M2467 2405h0M2080 1655h0M1815 1376h0M2096 1693h0M1702 1484h0M1826 1868h0M1416 982h0M2180 1684h0M1710 1774h0M2395 2573h0M1967 1766h0M2234 1821h0M2589 2614h0M2217 2397h0M2648 2656h0M1859 1595h0M1554 1225h0M2033 1428h0M1801 1798h0M2593 2545h0M1930 1476h0M2399 2477h0M2070 1757h0M1629 1522h0M2308 2747h0M2175 1740h0M1895 1659h0M1639 1439h0M1998 1468h0"/>
<path id="m1_19" d="M1862 914h0M2392 2574h0M1883 975h0M1774 1731h0M2308 1891h0M2348 2442h0M1517 1160h0M1926 1343h0M1259 816h0M2442 2883h0M1383 863h0M2033 1740h0M2050 1620h0M2351 1825h0M1916 772h0M2180 2178h0M2128 2149h0M2535 2584h0M2191 1668h0M2223 1885h0M2006 1601h0M1599 1302h0M2346 2480h0M1157 485h0M2278 1892h0M1745 1394h0M2185 2084h0M1961 2183h0M1868 889h0M1548 1246h0M1331 871h0M1922 795h0M1898 881h0M1821 1180h0M1197 577h0M2379 1731h0M1195 671h0M1226 760h0M1864 1742h0M2074 1920h0M2517 2650h0M1914 766h0M1491 1176h0M2265 2283h0M2264 1883h0M2373 2392h0M2593 2958h0M1550 1284h0M1880 1407h0"/>
<path id="m2_27" d="M1872 1250h0M2147 1659h0M1716 1285h0M2535 2514h0M1806 1357h0M1999 1899h0M2008 1612h0M1242 735h0M1845 1712h0M1720 1698h0M2270 2136h0M2351 2456h0M2255 2300h0M1666 1444h0M1871 946h0M1775 1342h0M2141 1662h0M1414 1045h0M1630 1213h0M1716 1491h0M1873 980h0M1780 1181h0M1795 1307h0M2016 1714h0M1640 1307h0M1879 1314h0M1955 1220h0M2342 2304h0M1994 1285h0M2443 2463h0M1787 1201h0M1939 683h0M2483 2631h0M1419 1042h0M1873 1549h0M2459 2869h0M1661 1390h0M1757 1778h0M1902 1194h0M2564 2845h0M2066 1651h0M1979 1611h0M2607 2524h0M2146 2093h0M2062 1709h0M1892 1518h0M2114 1818h0M2027 2042h0M1405 1014h0M1928 1351h0M1842 1631h0"/>
<path id="m1_5" d="M2089 1863h0M1985 2021h0M2563 2665h0M2404 2406h0M2056 1842h0M1994 1116h0M2509 2595h0M2347 2277h0M2400 2602h0M1791 1190h0M1918 1810h0M1362 785h0M1831 1893h0M2050 1872h0M2295 2024h0M1470 1143h0M2398 1813h0M2460 2556h0M2185 2260h0M2318 2031h0M1976 1891h0M2137 2042h0M2302 2214h0M2171 1900h0M1530 1186h0M1771 1839h0M2303 2411h0M2429 2314h0M1413 1004h0M2479 2459h0M1302 708h0M2619 2678h0M1851 1624h0M2040 2071h0M2340 2201h0M2613 2672h0M1160 545h0M1302 792h0M1708 1260h0M2352 2313h0M2129 1912h0M1473 1136h0M2248 2216h0M2323 1780h0M1429 979h0M1505 1099h0M1817 1638h0M2121 1872h0M2372 2658h0M2356 2338h0M1981 1360h0M1281 802h0M2389 2290h0M2138 1896h0M2433 2704h0M2300 2638h0M2313 2646h0M2401 1770h0M1788 1899h0M1678 1627h0M2476 2451h0M2265 2360h0"/>
<path id="m2_4" d="M1817 1098h0M2458 2670h0M2410 2450h0M1774 1343h0M2302 2289h0M2001 1375h0M2581 2406h0M2136 1777h0M2129 1831h0M2507 2541h0M1176 617h0M2630 2729h0M1811 1004h0M2431 1941h0M1958 1939h0M1905 1852h0M1809 1001h0M2061 1888h0M2036 1866h0M1800 1112h0M1951 1880h0M2557 2323h0M2059 2093h0M2167 2364h0M2579 2407h0M2045 1926h0M1174 485h0M2483 2263h0M1122 573h0M1523 1159h0M1998 1937h0M2124 2185h0M2205 2084h0M2385 2422h0M1761 1367h0M2048 1782h0M1901 1737h0M2139 1367h0M1206 740h0M1847 1022h0M2443 2391h0M2234 2075h0M2170 2047h0M2129 1864h0M1220 570h0M1902 753h0M1431 960h0M2261 2336h0M1816 1969h0M1380 1033h0M1902 1201h0M2387 2339h0M1986 1939h0M2338 2122h0M2126 2014h0M2529 2439h0M1854 1956h0M2589 2598h0M2209 2082h0M2497 2567h0M2274 2321h0M1365 972h0M2158 2233h0M2269 2260h0M1706 1279h0M1749 1507h0M1969 1284h0M2165 2286h0M2346 1821h0M2339 1856h0M1898 746h0M2148 2246h0M2443 2770h0"/>
<path id="m2_13" d="M1740 1511h0M1809 1434h0M1725 1378h0M1222 653h0M1806 1191h0M1785 1398h0M1857 1133h0M1347 754h0M2240 1534h0M1938 616h0M1584 1337h0M1416 956h0M1920 1386h0M1784 1371h0M1950 1482h0M2098 2109h0M1219 566h0M2106 1679h0M2538 2789h0M1799 1729h0M1663 1330h0M1727 1606h0M1309 778h0M1889 883h0M1892 1232h0M1872 947h0M1932 1314h0M2612 2591h0M1494 1066h0M1845 1735h0M1779 1792h0M1872 1819h0M1352 781h0M1832 1757h0M2216 2146h0M1299 716h0M1853 1381h0M2410 2523h0M2427 2479h0M1802 1098h0M2492 2429h0M1528 1113h0M1121 588h0M1189 555h0M2320 1597h0M2385 2698h0M1812 1098h0M1873 1434h0M2204 2212h0M2400 2379h0M1844 1351h0M2492 2616h0M1628 1250h0M1230 602h0"/>
<path id="m0_36" d="M2300 2501h0M2114 1906h0M2203 1742h0M1820 1753h0M1654 1526h0M2017 1873h0M1899 770h0M1759 1376h0M2021 1361h0M1914 1643h0M1853 1806h0M2055 1418h0M2047 1410h0M1798 1670h0M1789 1372h0M1820 1466h0M1804 1657h0M1937 1890h0M1957 1650h0M2323 1725h0M2423 2602h0M2001 1681h0M2053 1661h0M2316 1762h0M2566 2648h0M2228 1892h0M2354 1823h0M2109 1635h0M1981 1611h0M1596 1422h0M1832 1313h0M2552 2733h0M2309 2184h0M2432 2244h0M2336 1896h0"/>
<path id="m1_17" d="M1248 798h0M2471 2525h0M1569 1173h0M1389 1006h0M2600 2521h0M1496 1069h0M2008 2154h0M2002 1780h0M2540 2678h0M2027 2103h0M1906 853h0M2168 1791h0M2133 1645h0M1889 1261h0M2131 1850h0M2119 2036h0M1660 1349h0M1340 879h0M1776 1338h0M1418 947h0M2632 2665h0M1856 1008h0M1441 1002h0M1928 677h0M2278 2390h0M2053 1550h0M1192 653h0M1406 941h0M1231 704h0M1554 1307h0M1176 526h0M1348 837h0M1318 942h0M1600 1321h0M2023 1989h0M2108 1533h0M1378 923h0M2606 2569h0M1195 591h0M1293 835h0M1799 1086h0M1595 1202h0M1383 949h0M1862 1714h0"/>
<path id="m1_14" d="M1816 1008h0M2288 1732h0M1461 1123h0M2087 1584h0M1622 1194h0M2520 2287h0M1511 1152h0M1707 1369h0M1178 483h0M1511 1135h0M2461 2365h0M2338 2348h0M1200 721h0M1932 2114h0M2344 2673h0M1380 902h0M1834 1085h0M1766 1448h0M2233 2446h0M1833 1735h0M1701 1749h0M1496 1087h0M2052 1797h0M2309 2415h0M1959 1728h0M1821 1657h0M1806 1860h0M1997 1993h0M1315 909h0M1517 1145h0M2191 2231h0M1909 1718h0M1898 1865h0M1153 599h0M1835 1210h0M1365 872h0M2221 2537h0M2196 2409h0M2471 2473h0M2151 1691h0M1668 1253h0M2307 1825h0M1512 1206h0M1909 686h0M1881 1676h0M1984 1888h0M1125 486h0M1970 1559h0M1162 570h0M1120 535h0"/>
<path id="m1_35" d="M2054 1586h0M2103 2120h0M2184 2097h0M1787 1678h0M1979 1986h0M1801 1112h0M2048 1855h0M1907 1395h0M2582 2759h0M1647 1410h0M1519 1104h0M2043 1402h0M2484 2496h0M1933 692h0M2462 2288h0M2390 2745h0M1882 2041h0M1819 1702h0M2005 1474h0M1829 1233h0M1857 1603h0M2051 1611h0M2287 2340h0M2494 2587h0M1469 1121h0M2151 1963h0M1796 1399h0M2477 2772h0M2368 2384h0M2536 2686h0M2568 2577h0M2574 2295h0M2493 2430h0M2283 1771h0M2576 2449h0M1914 1325h0M1712 1729h0M2600 2648h0M2569 2383h0M1724 1739h0M2281 1797h0M1920 1638h0M2247 1735h0M2232 1689h0M1993 1454h0M1478 1104h0M2547 3113h0M2158 1789h0M1932 1666h0M2029 1659h0M1958 1673h0M1819 1089h0M2346 1662h0M1956 1499h0M2631 2648h0M1975 1747h0M1897 1755h0M2620 2566h0M2182 1755h0M1988 1611h0M2469 2616h0M1510 1097h0M1919 1664h0M2024 1414h0M2298 2342h0M1787 1122h0M1192 624h0M1655 1315h0M2134 1578h0M2054 1553h0M2218 2112h0M1709 1491h0"/>
<path id="m1_11" d="M2151 2306h0M2258 2133h0M2367 2403h0M2385 2584h0M2001 2038h0M1821 1017h0M2666 2600h0M2073 2115h0M1230 696h0M2603 2393h0M2633 2694h0M1198 647h0M2396 2314h0M2535 2469h0M2200 1589h0M1845 982h0M2313 1846h0M1516 1124h0M1907 794h0M1137 573h0M1364 911h0M2432 2774h0M2317 2381h0M1487 1027h0M2464 2561h0M2497 2691h0M2364 2175h0M1584 1161h0M2329 2418h0M1942 1258h0M2505 2071h0M1851 1177h0M1739 1450h0M2531 2526h0M2413 2581h0M2342 2244h0M2367 2337h0M1358 805h0M2318 2314h0M2495 2268h0M2029 1690h0M1876 781h0M2286 2294h0M2082 2166h0M1760 1179h0M2440 2658h0M2051 1359h0M2434 2464h0M2606 2879h0M1965 2012h0M1763 1860h0M2142 1612h0M1490 1104h0M1973 1823h0M2401 1898h0M2217 1827h0M1328 937h0M1674 1674h0M2148 2013h0M2076 1989h0M1500 1097h0M2090 1382h0"/>
<path id="m0_34" d="M2008 1548h0M2121 1470h0M1881 1535h0M1922 1306h0M1309 920h0M1638 1271h0M1632 1516h0M1879 1675h0M1798 1578h0M2003 1701h0M2527 2580h0M2003 1475h0M2252 1778h0M1924 1543h0M1886 1465h0M2253 1903h0M1991 1436h0M1650 1430h0M1886 1574h0M2204 2395h0M1988 1821h0M1781 1599h0M1863 1509h0M1956 1580h0M1855 1163h0M2505 2608h0M2547 2480h0M2343 2557h0M2394 2721h0M2035 1403h0M1783 1107h0M1827 1360h0M2298 2524h0M1935 1568h0M2196 1828h0M2118 1656h0M1969 1179h0M2373 2468h0M2162 1670h0M1717 1418h0M2136 1634h0M2164 1780h0M2010 1473h0M2147 1804h0M1831 1752h0M2271 2275h0M2227 1714h0M2393 2602h0M2279 2362h0M2290 2216h0M1642 1555h0M1370 883h0M2021 1613h0M1601 1386h0M2140 1650h0M1933 1794h0M2030 1490h0M1842 1430h0M2223 2146h0M1768 1803h0M1957 1817h0"/>
<path id="m1_22" d="M2063 1842h0M1857 1277h0M1358 927h0M2614 2623h0M2082 1857h0M1981 1326h0M2102 2183h0M2105 1681h0M2264 1785h0M2015 1369h0M2085 2205h0M1805 1767h0M1863 1753h0M1786 1041h0M1842 1563h0M1342 774h0M2571 2826h0M1962 1846h0M2408 2453h0M2331 2317h0M1146 506h0M1393 1055h0M1998 1791h0M1160 605h0M1293 751h0M1549 1190h0M2220 1878h0M2052 1842h0M2631 2239h0M1949 1276h0M1618 1393h0M2363 1868h0M1561 1242h0M2280 2253h0M2141 1581h0M1329 900h0M2288 2692h0M1878 1220h0M2129 2018h0M1412 998h0M2423 2318h0M2124 1646h0M2360 2451h0M1105 520h0M1907 1340h0M2160 1475h0M1959 1668h0M1321 971h0M2319 2386h0M1235 787h0M1849 1033h0M1710 1389h0M1137 492h0M1982 2077h0M2018 1576h0M1814 1454h0"/>
<path id="m2_36" d="M1651 1217h0M2103 2102h0M2001 1615h0M1588 1224h0M2224 1757h0M2076 2083h0M2398 2580h0M2065 1651h0M2319 2637h0M1948 1477h0M2230 1485h0M1872 1467h0M2000 1893h0M2170 1572h0M1718 1409h0M2131 1841h0M1853 1488h0M2441 2278h0M2011 1721h0M2382 2551h0M1755 1376h0M2221 2208h0M1953 1745h0M1902 1960h0M1676 1330h0M2205 1623h0M1668 1260h0M2293 1731h0M2530 2639h0M1948 1626h0M1912 1643h0M2245 2454h0M1957 1836h0M1381 836h0"/>
<path id="m1_6" d="M1231 630h0M1538 1249h0M2355 2407h0M2292 2061h0M2319 1903h0M2493 2154h0M1763 1240h0M2361 2586h0M2252 2223h0M2418 2447h0M2913 2923h0M2425 1999h0M1913 1217h0M1971 1562h0M1762 1871h0M1132 573h0M2386 2463h0M1344 915h0M2253 1999h0M1489 1175h0M2277 2460h0M2449 2606h0M1794 1155h0M2357 2138h0M1318 899h0M1870 886h0M2190 2343h0M1657 1296h0M2508 2209h0M2249 2089h0M2281 2186h0M1126 566h0M1945 2100h0M2424 2163h0M2199 1691h0M2267 2325h0M2442 2417h0M1867 1376h0M2170 2438h0M1874 1929h0M2627 2623h0M1959 1848h0M1482 1074h0M2483 2166h0M2384 2464h0M2199 2091h0M2526 2370h0M2440 2479h0M1837 1821h0M2437 2632h0M2330 1874h0M2437 2506h0M2093 1829h0M1695 1320h0M2361 2435h0M2102 1888h0M1991 1645h0M1910 1478h0M2532 2731h0M2404 2694h0M2448 2299h0M1222 662h0M2505 2603h0M1336 812h0M1231 718h0M2187 1969h0M1926 1906h0M2272 2332h0M2042 1983h0M2517 2480h0M1589 1183h0M2044 1841h0M1904 1132h0M1561 1151h0M2248 1585h0M2404 2405h0"/>
<path id="m2_16" d="M1299 911h0M2139 1800h0M2565 2441h0M1908 668h0M1813 1259h0M1234 635h0M2247 2284h0M1634 1348h0M1160 599h0M1825 939h0M1781 1348h0M2175 2512h0M1962 1109h0M2394 2603h0M1817 1062h0M2316 2327h0M1889 1169h0M1315 883h0M2586 2893h0M2569 2584h0M2042 2119h0M1351 764h0M1865 1699h0M1490 1101h0M2591 2487h0M1918 1894h0M1293 821h0M2450 2437h0M1732 1327h0M1613 1368h0M2373 2741h0M1360 829h0M1809 1150h0M2098 2289h0M2014 2197h0M1962 1898h0M1521 1074h0M1578 1260h0M1826 1239h0M1405 1065h0M2004 1348h0M1245 749h0M1836 1031h0M1141 550h0M1648 1377h0M2600 2352h0M1359 790h0M1657 1537h0M2536 2590h0M1774 1360h0M1539 1218h0M1189 596h0M1738 1314h0M1768 1491h0M1853 1313h0M2042 1866h0M1909 2102h0M1920 796h0"/>
<path id="m2_35" d="M1851 1663h0M1966 2024h0M1929 1736h0M1677 1485h0M1902 1625h0M2046 1500h0M2180 1430h0M1959 1432h0M2084 1651h0M1946 1441h0M1869 1767h0M2602 2543h0M1606 1187h0M1891 1746h0M1789 1527h0M1327 977h0M2147 1796h0M2065 2109h0M1732 1459h0M1770 1238h0M2030 1495h0M2385 1865h0M1719 1467h0M2134 1787h0M2032 1482h0M1788 1838h0M1129 474h0M2330 2521h0M1649 1607h0M2390 2635h0M1636 1485h0M1965 1733h0M1599 1386h0M1789 1493h0M2131 1514h0M2260 1876h0M1910 1252h0M1898 1240h0M2277 2139h0M1878 1437h0M2043 1844h0M2086 1674h0M2065 1671h0M2202 1718h0M2118 1647h0M2272 2282h0M2037 1757h0M1612 1347h0M1944 1240h0M2193 1887h0M2141 1639h0M1832 1194h0M2298 2840h0M2388 2587h0M2261 1787h0M1813 1732h0M1895 1882h0M2181 1787h0M1832 1252h0M2268 1883h0M1784 1915h0M1691 1477h0M2474 2128h0M2665 2640h0M1781 1693h0M1213 705h0M1774 1274h0M2422 2793h0M1725 1429h0"/>
<path id="m0_21" d="M1619 1195h0M1717 1244h0M1814 1659h0M1776 1293h0M2442 2784h0M2169 1741h0M2531 2337h0M1844 963h0M1569 1206h0M2456 2569h0M1248 711h0M2144 1533h0M1746 1358h0M2556 2490h0M1362 831h0M2315 2384h0M1894 792h0M1221 743h0M1613 1226h0M1787 1049h0M1933 1363h0M2435 2350h0M2474 2429h0M2350 2442h0M2147 1784h0M1785 1138h0M2572 2699h0M1177 553h0M1231 679h0M2584 2718h0M2100 1909h0M1914 1875h0M1123 530h0M1828 1570h0M2076 1649h0M2280 1789h0M2343 2214h0M2572 2603h0M1216 669h0M2676 2535h0M2278 2155h0M1298 846h0M2336 2222h0M2412 2547h0M1393 982h0M1833 1856h0M1604 1294h0M1260 664h0M1552 1287h0M1914 1355h0M2263 2260h0M1517 1193h0"/>
<path id="m0_28" d="M1861 916h0M1530 1168h0M1591 1368h0M2522 2767h0M1949 1570h0M2414 2543h0M1457 1095h0M2435 2529h0M2110 1859h0M1739 1673h0M1550 1201h0M1639 1403h0M2828 2935h0M2069 2056h0M1914 1518h0M1970 1601h0M1915 1246h0M1883 1755h0M2005 1452h0M2184 1495h0M1632 1427h0M2115 2081h0M2276 1834h0M1664 1417h0M1666 1618h0M1897 1635h0M1850 1480h0M1562 1167h0M1899 1627h0M1902 1364h0M1672 1387h0M1792 1202h0M1984 1717h0M1870 1655h0M2153 1640h0M1893 1871h0M1861 1183h0M1881 1712h0M2424 2356h0M1951 1876h0M1924 1210h0M2467 2438h0M1969 1820h0M2159 1918h0M2485 2400h0M1867 1892h0M2000 1634h0M2683 2911h0M1813 1679h0M1815 1027h0M2641 2555h0M2423 2473h0M1813 1555h0M1662 1665h0M1854 1120h0M2320 1916h0M2032 1436h0M1648 1443h0M2151 2352h0M1561 1251h0M2190 1893h0M2140 1653h0M1724 1503h0M2246 1799h0M1737 1784h0"/>
<path id="m1_3" d="M2256 2076h0M1889 808h0M2211 2222h0M2597 2680h0M2143 2432h0M1492 1131h0M1917 1758h0M2186 1974h0M1299 727h0M1974 1891h0M1668 1386h0M2590 2610h0M1825 1516h0M2431 2615h0M2393 2183h0M2454 2350h0M1926 1976h0M1501 1082h0M1221 606h0M1300 712h0M1782 1070h0M2496 2303h0M1367 864h0M1814 1301h0M2783 2946h0M1797 1752h0M2445 2406h0M2406 2369h0M1605 1173h0M2569 2451h0M1656 1617h0M1949 1719h0M2466 2294h0M2567 2624h0M1714 1350h0M2114 1984h0M2256 1789h0M2111 1915h0M2514 2056h0M1756 1570h0M2460 2586h0M1416 1050h0M2366 2364h0M2815 2520h0M1815 1543h0M2590 2454h0M2122 1946h0M1877 933h0M1920 762h0M2179 2347h0M1387 935h0M1737 1642h0M2292 2232h0M1350 954h0M1943 607h0M2357 2051h0M2000 1896h0"/>
<path id="m1_38" d="M1925 1858h0M2511 2787h0M2235 2114h0M2573 2496h0M2199 1651h0M1855 1598h0M1920 1459h0M1647 1256h0M2714 2775h0M1999 1593h0M1847 1798h0M1210 702h0M1773 1556h0M2222 1743h0M1800 1778h0M1934 1696h0M1993 1382h0M1608 1204h0M1984 1566h0M2161 1680h0M2675 2971h0M2021 1877h0M1744 1733h0M2415 2437h0M2443 1883h0M2315 2746h0M1794 1130h0M1133 526h0M2209 1752h0M2311 2225h0M1704 1301h0M2117 1899h0M2087 1839h0M1178 596h0M2355 2579h0M2318 1744h0M2069 1256h0M2411 2083h0M2575 2880h0M2612 2669h0M2019 1423h0M1830 1409h0M2066 1880h0M1805 1742h0M2230 2379h0"/>
<path id="m2_21" d="M1274 718h0M2144 1759h0M1263 704h0M1867 2054h0M2083 1209h0M1899 904h0M1774 1222h0M2478 2837h0M1843 1750h0M1753 1696h0M1934 633h0M1615 1264h0M2517 2637h0M2140 1560h0M1957 1104h0M1229 582h0M1579 1160h0M1513 1101h0M1576 1175h0M1782 1524h0M1839 1034h0M2255 1890h0M1460 1019h0M2009 1537h0M1474 1044h0M1278 760h0M2406 2378h0M1334 942h0M1471 1096h0M2246 2264h0M1759 1720h0M2281 1881h0M1275 716h0M1722 1343h0M1781 1044h0M2169 1658h0M2468 2417h0M2138 1768h0M1440 978h0M1790 1353h0M1829 1125h0M1834 1292h0M1989 1446h0M2250 1564h0M1455 1023h0M1327 778h0M2114 1860h0M2257 1719h0M1891 771h0M1879 977h0M1939 1606h0M1262 672h0M2712 2387h0M1515 1147h0M1208 628h0M1375 1002h0M1829 1354h0"/>
<path id="m1_18" d="M1828 1090h0M1563 1153h0M1515 1175h0M1814 1408h0M1882 1654h0M1926 1855h0M2650 2960h0M2013 2007h0M1218 718h0M2387 2223h0M1406 987h0M1648 1219h0M1910 834h0M1302 836h0M1324 869h0M2087 1448h0M1707 1565h0M1259 781h0M2054 2084h0M2451 2696h0M2601 2858h0M2579 2725h0M2375 2514h0M2501 2599h0M1908 865h0M2229 2416h0M1750 1281h0M1312 879h0M1690 1577h0M2641 2604h0M1876 1255h0M2549 2597h0M2653 2611h0M1423 1086h0M2132 1621h0M1888 1221h0M1844 1221h0M1652 1275h0M1751 1775h0M1870 1631h0M1813 1061h0M2452 2492h0M1879 826h0M1712 1690h0M1275 755h0M1195 627h0M1858 1580h0M2572 2698h0M2499 2499h0M1375 1023h0M2128 1489h0M2019 2089h0M1182 604h0M2131 1868h0M1672 1337h0M2494 2439h0M2146 1482h0M1848 1439h0M1926 1530h0M2239 1708h0M1823 1912h0M1330 860h0M1338 769h0M1982 1645h0M1246 771h0M1942 1362h0M1921 722h0M1249 723h0M1948 1847h0"/>
<path id="m1_25" d="M1836 1777h0M1820 1182h0M2122 1293h0M2009 1809h0M1826 1576h0M1915 711h0M2567 2721h0M2516 2824h0M1587 1300h0M1756 1252h0M2043 1747h0M2627 2374h0M1780 1686h0M1704 1593h0M1544 1266h0M1536 1109h0M2579 2750h0M1701 1758h0M1744 1417h0M1598 1411h0M1787 1196h0M1752 1643h0M1683 1707h0M2485 2297h0M2164 1752h0M1726 1752h0M1827 1438h0M2176 2291h0M1590 1370h0M1515 1143h0M1721 1590h0M2129 1600h0M1680 1334h0M1666 1439h0M2337 2280h0M1351 809h0M1613 1191h0M1951 1636h0M1932 1302h0M1285 713h0M1885 1117h0"/>
<path id="m2_7" d="M2035 1853h0M2438 2393h0M1995 1860h0M1895 1541h0M2056 2160h0M1752 1308h0M2453 2571h0M2319 2459h0M1809 1255h0M1765 1337h0M2411 2076h0M2305 2571h0M2340 2262h0M1487 1092h0M1731 1266h0M2124 1736h0M2602 2737h0M2427 2604h0M1806 1089h0M2463 2421h0M2279 2379h0M2145 1702h0M2190 1458h0M1360 923h0M1867 1896h0M2126 1352h0M1938 1865h0M1982 1687h0M2332 2334h0M2724 2567h0M2590 2685h0M1600 1179h0M2664 2465h0M1614 1269h0M1693 1303h0M2276 2083h0M1958 1339h0M1797 1089h0M2033 2013h0M2238 1887h0M2323 2104h0M1868 923h0M2721 2656h0M2077 1820h0M2407 2522h0M1913 1898h0M1909 720h0M2527 2512h0M2377 2305h0M2019 1965h0M2040 1247h0M2274 2163h0M1739 1773h0M1918 1580h0M1914 766h0M2436 2401h0M2303 2780h0M1332 810h0M2139 2313h0M1958 1125h0M1868 996h0M2485 2190h0M2029 2289h0M1215 664h0M2287 2569h0"/>
<path id="m2_38" d="M1938 631h0M2458 2655h0M2128 2029h0M2348 2356h0M2024 1861h0M1985 1311h0M1931 1808h0M2132 1535h0M1708 1394h0M2038 1644h0M2283 2497h0M1607 1439h0M2479 2178h0M1729 1722h0M1573 1314h0M2129 1787h0M1806 1681h0M1992 1557h0M2040 1829h0M1834 1439h0M2463 2603h0M1897 1440h0M2286 2077h0M2188 1696h0M2589 2851h0M1741 1382h0M2327 1877h0M1942 1918h0M1971 1346h0M1876 1469h0M1647 1509h0M2043 1489h0M1634 1533h0M2003 1893h0M2154 1876h0M1374 897h0M1724 1213h0M1874 1226h0"/>
<path id="m1_37" d="M2255 1731h0M2089 1704h0M1875 1968h0M1502 1140h0M1278 683h0M2001 1670h0M2063 1553h0M2407 2424h0M2141 1856h0M2395 2507h0M2302 1873h0M1973 1348h0M2174 1700h0M1645 1504h0M2537 2649h0M2288 2046h0M1566 1223h0M1952 1543h0M2396 2463h0M1836 1883h0M2151 2484h0M1387 897h0M1884 1160h0M2029 1427h0M2029 2127h0M1893 854h0M1854 1162h0M1947 1719h0M2404 2450h0M1390 1021h0M1942 1173h0M1879 1508h0M2348 2627h0M1796 1812h0M2474 2438h0M1796 1096h0M1812 1238h0M1808 1863h0"/>
<path id="m1_23" d="M1954 1761h0M1204 559h0M1880 1274h0M2557 2553h0M2569 2653h0M1830 1361h0M2567 2641h0M1277 766h0M1306 740h0M1799 1035h0M1862 1775h0M2087 1845h0M2707 2738h0M1221 692h0M2070 1918h0M1542 1290h0M1946 632h0M1840 1004h0M2567 2671h0M1656 1593h0M1475 1149h0M2031 1818h0M1905 1755h0M1984 1362h0M1659 1593h0M1779 1124h0M2465 2328h0M2169 1696h0M1788 1348h0M1974 1257h0M2122 1923h0M1821 1092h0M1565 1135h0M1876 1222h0M2350 1802h0M1980 1503h0M1815 1430h0M2766 2525h0M2207 2051h0M2205 1951h0M1111 504h0M1347 978h0M1369 863h0M2190 1760h0M1282 693h0M1737 1454h0M1185 674h0M1635 1448h0M1818 1240h0"/>
<path id="m0_6" d="M2470 2548h0M2474 2479h0M2092 2181h0M2032 2048h0M2127 1821h0M1991 1808h0M1985 1933h0M2153 2016h0M2623 2753h0M2510 2445h0M1942 1894h0M1304 814h0M2313 2168h0M2335 1881h0M1769 1437h0M2324 1900h0M1867 1919h0M2029 1380h0M2449 2615h0M1851 884h0M2390 2376h0M2378 2222h0M1671 1289h0M1827 1536h0M2095 2037h0M1774 1687h0M2287 2463h0M2364 2013h0M2298 2463h0M1755 1371h0M2727 3141h0M2010 1833h0M1880 1481h0M2419 2675h0M2389 2414h0M1762 1377h0M2327 2075h0M1869 1472h0M1909 1900h0M2462 2513h0M1397 1007h0M2591 2837h0M1483 1079h0M1248 648h0M2675 2705h0M1463 1079h0M2378 1718h0M1417 1019h0M2103 1787h0M2008 1860h0M1868 1298h0M1212 755h0M2593 2429h0"/>
<path id="m2_29" d="M2353 2394h0M1726 1628h0M2665 2749h0M2171 1832h0M1862 1447h0M2033 1717h0M2537 2291h0M2250 1933h0M1973 1769h0M1931 1649h0M2209 1556h0M2113 1681h0M1664 1385h0M2106 1796h0M1751 1641h0M1816 1729h0M2049 1532h0M1959 1327h0M1645 1604h0M1368 840h0M1275 686h0M1800 1539h0M2111 1540h0M1823 1880h0M2169 1894h0M1939 1552h0M1624 1471h0M2144 1919h0M2005 1514h0M1757 1661h0M1866 1754h0M2577 2523h0M2113 1901h0M1511 1099h0M1739 1598h0M1911 1538h0M1726 1394h0M2126 1836h0M1948 1449h0M1924 1741h0M2153 1816h0M2334 2672h0M2290 2285h0M1915 1445h0M1746 1849h0M1883 1960h0M1855 1576h0M2472 2570h0M1812 1649h0M1915 1868h0M2152 1856h0M2338 1813h0M2601 2759h0M1848 1312h0M1899 1683h0M1239 795h0M2476 2598h0M2111 2296h0M1666 1627h0M1896 1893h0M2494 2645h0"/>
<path id="m1_0" d="M1939 1702h0M1428 1023h0M2437 2588h0M1310 805h0M2155 1609h0M2417 2850h0M2303 2269h0"/>
<path id="m0_37" d="M1680 1579h0M1272 760h0M2428 2609h0M2350 2238h0M2151 2072h0M1931 1355h0M2689 2785h0M1920 1943h0M1951 1606h0M2550 2444h0M1787 1476h0M1720 1534h0M1828 1613h0M2173 1735h0M1912 748h0M1939 2065h0M2066 1607h0M2001 2101h0M2218 2359h0M1778 1557h0M2195 1827h0M1967 1983h0"/>
<path id="m1_39" d="M1365 925h0M2036 1490h0M1828 1613h0M2348 2356h0M1844 1721h0M2013 1760h0M1849 1913h0M1815 1505h0M2655 2593h0M2557 2259h0M1768 1179h0M1774 1497h0M2218 1581h0M1922 1715h0M1954 1795h0M1828 1584h0M1668 1598h0"/>
<path id="m0_15" d="M2061 1598h0M1845 1009h0M1956 1710h0M2547 2988h0M2202 1596h0M1823 1061h0M2165 1827h0M1273 829h0M2359 2442h0M1226 632h0M2270 1728h0M1929 1172h0M1716 1338h0M1714 1440h0M2380 2562h0M2066 2049h0M1595 1365h0M1361 883h0M2432 2292h0M2235 1635h0M2520 2464h0M1959 1888h0M1126 580h0M2107 1781h0M2268 1773h0M1779 1047h0M2289 1857h0M1820 1454h0M1943 1839h0M1485 1180h0M2715 2954h0M1342 796h0M1740 1661h0M2190 2253h0M2536 2613h0M1229 663h0M1121 491h0M1919 785h0M2452 2382h0M1398 969h0M1247 674h0M1494 1064h0M1632 1315h0M2548 2699h0M1431 1077h0M1724 1282h0M1754 1308h0"/>
<path id="m0_0" d="M1682 1358h0M1897 1600h0M2606 2579h0M2025 1758h0M2443 2595h0M1905 678h0M2460 2513h0M2492 2476h0M1908 1881h0M2113 2040h0"/>
<path id="m0_18" d="M2074 1720h0M2056 1833h0M2175 1876h0M2093 1704h0M2655 2414h0M1924 1243h0M2154 2077h0M1379 903h0M1848 1622h0M2206 2220h0M2066 1420h0M1743 1409h0M1823 1257h0M1181 480h0M1100 572h0M2007 1327h0M1139 531h0M2241 2118h0M2047 1664h0M2602 2461h0M1766 1229h0M1780 1668h0M1687 1402h0M1602 1250h0M1483 1119h0M1867 1216h0M1828 1217h0M1291 871h0M1523 1110h0M1546 1178h0M1168 537h0M1598 1373h0M1955 1120h0M1754 1804h0M2456 2552h0M1830 1006h0M1827 1810h0M1647 1389h0M1661 1597h0M2138 1896h0M1650 1614h0M1207 625h0"/>
<path id="m2_37" d="M1861 1666h0M1512 1064h0M2323 2054h0M2092 1640h0M1992 1759h0M1916 1658h0M2303 1995h0M1805 1653h0M1937 1580h0M1706 1726h0M2177 1667h0M1734 1659h0M2138 2197h0M1668 1466h0M2095 1766h0M1691 1281h0M2477 2597h0M1885 1715h0M2535 2338h0M2063 1912h0M2570 2607h0M2362 2460h0M1375 854h0M2642 2311h0M2001 1698h0M2281 2582h0M2621 2891h0M1664 1423h0M1995 1565h0M2536 2423h0M1804 1897h0M2656 2773h0M2277 1866h0"/>
<path id="m2_0" d="M1187 520h0M1815 965h0M1946 1989h0M2151 1830h0"/>
<path id="m0_39" d="M1499 1064h0M1748 1842h0M2115 1613h0M2447 2055h0M2250 1916h0M1983 1468h0M2646 2583h0M1881 974h0M1897 1453h0M1791 1800h0M1989 1853h0M1959 1774h0M1980 1670h0M2122 1788h0M1882 837h0M1877 1765h0M2426 2536h0M2060 1848h0M2359 2879h0"/>
</defs>
<rect x="89.5" y="22.4" width="224.0" height="333.6" fill="#fdf1ee"/>
<g clip-path="url(#cm)">
<g transform="scale(.1)" stroke-linecap="round" fill="none">
<use href="#m0_4" stroke="#fff" stroke-width="33"/>
<use href="#m0_4" stroke="#1919a3" stroke-width="27"/>
<use href="#m0_0" stroke="#fff" stroke-width="33"/>
<use href="#m0_0" stroke="#0d0d3e" stroke-width="27"/>
<use href="#m0_28" stroke="#fff" stroke-width="33"/>
<use href="#m0_28" stroke="#ffb090" stroke-width="27"/>
<use href="#m0_20" stroke="#fff" stroke-width="33"/>
<use href="#m0_20" stroke="#94f09a" stroke-width="27"/>
<use href="#m0_30" stroke="#fff" stroke-width="33"/>
<use href="#m0_30" stroke="#fd7f73" stroke-width="27"/>
<use href="#m0_10" stroke="#fff" stroke-width="33"/>
<use href="#m0_10" stroke="#2428e0" stroke-width="27"/>
<use href="#m0_12" stroke="#fff" stroke-width="33"/>
<use href="#m0_12" stroke="#293ae0" stroke-width="27"/>
<use href="#m0_32" stroke="#fff" stroke-width="33"/>
<use href="#m0_32" stroke="#f86968" stroke-width="27"/>
<use href="#m0_19" stroke="#fff" stroke-width="33"/>
<use href="#m0_19" stroke="#91f0a0" stroke-width="27"/>
<use href="#m0_9" stroke="#fff" stroke-width="33"/>
<use href="#m0_9" stroke="#2326dc" stroke-width="27"/>
<use href="#m0_14" stroke="#fff" stroke-width="33"/>
<use href="#m0_14" stroke="#6598ed" stroke-width="27"/>
<use href="#m0_22" stroke="#fff" stroke-width="33"/>
<use href="#m0_22" stroke="#a1f090" stroke-width="27"/>
<use href="#m0_27" stroke="#fff" stroke-width="33"/>
<use href="#m0_27" stroke="#ffd29e" stroke-width="27"/>
<use href="#m0_38" stroke="#fff" stroke-width="33"/>
<use href="#m0_38" stroke="#430e0e" stroke-width="27"/>
<use href="#m0_3" stroke="#fff" stroke-width="33"/>
<use href="#m0_3" stroke="#151583" stroke-width="27"/>
<use href="#m0_24" stroke="#fff" stroke-width="33"/>
<use href="#m0_24" stroke="#d7f099" stroke-width="27"/>
<use href="#m0_39" stroke="#fff" stroke-width="33"/>
<use href="#m0_39" stroke="#280606" stroke-width="27"/>
<use href="#m0_26" stroke="#fff" stroke-width="33"/>
<use href="#m0_26" stroke="#fae9a0" stroke-width="27"/>
<use href="#m0_13" stroke="#fff" stroke-width="33"/>
<use href="#m0_13" stroke="#2b42e0" stroke-width="27"/>
<use href="#m0_17" stroke="#fff" stroke-width="33"/>
<use href="#m0_17" stroke="#8cf0ac" stroke-width="27"/>
<use href="#m0_18" stroke="#fff" stroke-width="33"/>
<use href="#m0_18" stroke="#8ff0a6" stroke-width="27"/>
<use href="#m0_36" stroke="#fff" stroke-width="33"/>
<use href="#m0_36" stroke="#c53333" stroke-width="27"/>
<use href="#m0_35" stroke="#fff" stroke-width="33"/>
<use href="#m0_35" stroke="#ef4747" stroke-width="27"/>
<use href="#m0_37" stroke="#fff" stroke-width="33"/>
<use href="#m0_37" stroke="#781e1e" stroke-width="27"/>
<use href="#m0_8" stroke="#fff" stroke-width="33"/>
<use href="#m0_8" stroke="#2224d8" stroke-width="27"/>
<use href="#m0_7" stroke="#fff" stroke-width="33"/>
<use href="#m0_7" stroke="#2122d4" stroke-width="27"/>
<use href="#m0_1" stroke="#fff" stroke-width="33"/>
<use href="#m0_1" stroke="#0e0e4b" stroke-width="27"/>
<use href="#m0_33" stroke="#fff" stroke-width="33"/>
<use href="#m0_33" stroke="#f55e5e" stroke-width="27"/>
<use href="#m0_15" stroke="#fff" stroke-width="33"/>
<use href="#m0_15" stroke="#88ecdc" stroke-width="27"/>
<use href="#m0_29" stroke="#fff" stroke-width="33"/>
<use href="#m0_29" stroke="#ff8d7b" stroke-width="27"/>
<use href="#m0_6" stroke="#fff" stroke-width="33"/>
<use href="#m0_6" stroke="#2020d0" stroke-width="27"/>
<use href="#m0_16" stroke="#fff" stroke-width="33"/>
<use href="#m0_16" stroke="#8aeec3" stroke-width="27"/>
<use href="#m0_23" stroke="#fff" stroke-width="33"/>
<use href="#m0_23" stroke="#b8f090" stroke-width="27"/>
<use href="#m0_25" stroke="#fff" stroke-width="33"/>
<use href="#m0_25" stroke="#eff0a0" stroke-width="27"/>
<use href="#m0_5" stroke="#fff" stroke-width="33"/>
<use href="#m0_5" stroke="#1d1dbb" stroke-width="27"/>
<use href="#m0_2" stroke="#fff" stroke-width="33"/>
<use href="#m0_2" stroke="#111165" stroke-width="27"/>
<use href="#m0_31" stroke="#fff" stroke-width="33"/>
<use href="#m0_31" stroke="#fb746e" stroke-width="27"/>
<use href="#m0_34" stroke="#fff" stroke-width="33"/>
<use href="#m0_34" stroke="#f35353" stroke-width="27"/>
<use href="#m0_21" stroke="#fff" stroke-width="33"/>
<use href="#m0_21" stroke="#96f094" stroke-width="27"/>
<use href="#m0_11" stroke="#fff" stroke-width="33"/>
<use href="#m0_11" stroke="#2731e0" stroke-width="27"/>
<use href="#m1_32" stroke="#fff" stroke-width="33"/>
<use href="#m1_32" stroke="#f86968" stroke-width="27"/>
<use href="#m1_21" stroke="#fff" stroke-width="33"/>
<use href="#m1_21" stroke="#96f094" stroke-width="27"/>
<use href="#m1_27" stroke="#fff" stroke-width="33"/>
<use href="#m1_27" stroke="#ffd29e" stroke-width="27"/>
<use href="#m1_36" stroke="#fff" stroke-width="33"/>
<use href="#m1_36" stroke="#c53333" stroke-width="27"/>
<use href="#m1_25" stroke="#fff" stroke-width="33"/>
<use href="#m1_25" stroke="#eff0a0" stroke-width="27"/>
<use href="#m1_26" stroke="#fff" stroke-width="33"/>
<use href="#m1_26" stroke="#fae9a0" stroke-width="27"/>
<use href="#m1_19" stroke="#fff" stroke-width="33"/>
<use href="#m1_19" stroke="#91f0a0" stroke-width="27"/>
<use href="#m1_12" stroke="#fff" stroke-width="33"/>
<use href="#m1_12" stroke="#293ae0" stroke-width="27"/>
<use href="#m1_24" stroke="#fff" stroke-width="33"/>
<use href="#m1_24" stroke="#d7f099" stroke-width="27"/>
<use href="#m1_30" stroke="#fff" stroke-width="33"/>
<use href="#m1_30" stroke="#fd7f73" stroke-width="27"/>
<use href="#m1_23" stroke="#fff" stroke-width="33"/>
<use href="#m1_23" stroke="#b8f090" stroke-width="27"/>
<use href="#m1_17" stroke="#fff" stroke-width="33"/>
<use href="#m1_17" stroke="#8cf0ac" stroke-width="27"/>
<use href="#m1_4" stroke="#fff" stroke-width="33"/>
<use href="#m1_4" stroke="#1919a3" stroke-width="27"/>
<use href="#m1_16" stroke="#fff" stroke-width="33"/>
<use href="#m1_16" stroke="#8aeec3" stroke-width="27"/>
<use href="#m1_1" stroke="#fff" stroke-width="33"/>
<use href="#m1_1" stroke="#0e0e4b" stroke-width="27"/>
<use href="#m1_10" stroke="#fff" stroke-width="33"/>
<use href="#m1_10" stroke="#2428e0" stroke-width="27"/>
<use href="#m1_6" stroke="#fff" stroke-width="33"/>
<use href="#m1_6" stroke="#2020d0" stroke-width="27"/>
<use href="#m1_34" stroke="#fff" stroke-width="33"/>
<use href="#m1_34" stroke="#f35353" stroke-width="27"/>
<use href="#m1_18" stroke="#fff" stroke-width="33"/>
<use href="#m1_18" stroke="#8ff0a6" stroke-width="27"/>
<use href="#m1_29" stroke="#fff" stroke-width="33"/>
<use href="#m1_29" stroke="#ff8d7b" stroke-width="27"/>
<use href="#m1_11" stroke="#fff" stroke-width="33"/>
<use href="#m1_11" stroke="#2731e0" stroke-width="27"/>
<use href="#m1_35" stroke="#fff" stroke-width="33"/>
<use href="#m1_35" stroke="#ef4747" stroke-width="27"/>
<use href="#m1_13" stroke="#fff" stroke-width="33"/>
<use href="#m1_13" stroke="#2b42e0" stroke-width="27"/>
<use href="#m1_31" stroke="#fff" stroke-width="33"/>
<use href="#m1_31" stroke="#fb746e" stroke-width="27"/>
<use href="#m1_33" stroke="#fff" stroke-width="33"/>
<use href="#m1_33" stroke="#f55e5e" stroke-width="27"/>
<use href="#m1_0" stroke="#fff" stroke-width="33"/>
<use href="#m1_0" stroke="#0d0d3e" stroke-width="27"/>
<use href="#m1_2" stroke="#fff" stroke-width="33"/>
<use href="#m1_2" stroke="#111165" stroke-width="27"/>
<use href="#m1_38" stroke="#fff" stroke-width="33"/>
<use href="#m1_38" stroke="#430e0e" stroke-width="27"/>
<use href="#m1_28" stroke="#fff" stroke-width="33"/>
<use href="#m1_28" stroke="#ffb090" stroke-width="27"/>
<use href="#m1_20" stroke="#fff" stroke-width="33"/>
<use href="#m1_20" stroke="#94f09a" stroke-width="27"/>
<use href="#m1_7" stroke="#fff" stroke-width="33"/>
<use href="#m1_7" stroke="#2122d4" stroke-width="27"/>
<use href="#m1_39" stroke="#fff" stroke-width="33"/>
<use href="#m1_39" stroke="#280606" stroke-width="27"/>
<use href="#m1_3" stroke="#fff" stroke-width="33"/>
<use href="#m1_3" stroke="#151583" stroke-width="27"/>
<use href="#m1_15" stroke="#fff" stroke-width="33"/>
<use href="#m1_15" stroke="#88ecdc" stroke-width="27"/>
<use href="#m1_37" stroke="#fff" stroke-width="33"/>
<use href="#m1_37" stroke="#781e1e" stroke-width="27"/>
<use href="#m1_5" stroke="#fff" stroke-width="33"/>
<use href="#m1_5" stroke="#1d1dbb" stroke-width="27"/>
<use href="#m1_14" stroke="#fff" stroke-width="33"/>
<use href="#m1_14" stroke="#6598ed" stroke-width="27"/>
<use href="#m1_8" stroke="#fff" stroke-width="33"/>
<use href="#m1_8" stroke="#2224d8" stroke-width="27"/>
<use href="#m1_22" stroke="#fff" stroke-width="33"/>
<use href="#m1_22" stroke="#a1f090" stroke-width="27"/>
<use href="#m1_9" stroke="#fff" stroke-width="33"/>
<use href="#m1_9" stroke="#2326dc" stroke-width="27"/>
<use href="#m2_32" stroke="#fff" stroke-width="33"/>
<use href="#m2_32" stroke="#f86968" stroke-width="27"/>
<use href="#m2_20" stroke="#fff" stroke-width="33"/>
<use href="#m2_20" stroke="#94f09a" stroke-width="27"/>
<use href="#m2_8" stroke="#fff" stroke-width="33"/>
<use href="#m2_8" stroke="#2224d8" stroke-width="27"/>
<use href="#m2_6" stroke="#fff" stroke-width="33"/>
<use href="#m2_6" stroke="#2020d0" stroke-width="27"/>
<use href="#m2_11" stroke="#fff" stroke-width="33"/>
<use href="#m2_11" stroke="#2731e0" stroke-width="27"/>
<use href="#m2_0" stroke="#fff" stroke-width="33"/>
<use href="#m2_0" stroke="#0d0d3e" stroke-width="27"/>
<use href="#m2_2" stroke="#fff" stroke-width="33"/>
<use href="#m2_2" stroke="#111165" stroke-width="27"/>
<use href="#m2_28" stroke="#fff" stroke-width="33"/>
<use href="#m2_28" stroke="#ffb090" stroke-width="27"/>
<use href="#m2_31" stroke="#fff" stroke-width="33"/>
<use href="#m2_31" stroke="#fb746e" stroke-width="27"/>
<use href="#m2_29" stroke="#fff" stroke-width="33"/>
<use href="#m2_29" stroke="#ff8d7b" stroke-width="27"/>
<use href="#m2_35" stroke="#fff" stroke-width="33"/>
<use href="#m2_35" stroke="#ef4747" stroke-width="27"/>
<use href="#m2_13" stroke="#fff" stroke-width="33"/>
<use href="#m2_13" stroke="#2b42e0" stroke-width="27"/>
<use href="#m2_38" stroke="#fff" stroke-width="33"/>
<use href="#m2_38" stroke="#430e0e" stroke-width="27"/>
<use href="#m2_36" stroke="#fff" stroke-width="33"/>
<use href="#m2_36" stroke="#c53333" stroke-width="27"/>
<use href="#m2_37" stroke="#fff" stroke-width="33"/>
<use href="#m2_37" stroke="#781e1e" stroke-width="27"/>
<use href="#m2_25" stroke="#fff" stroke-width="33"/>
<use href="#m2_25" stroke="#eff0a0" stroke-width="27"/>
<use href="#m2_19" stroke="#fff" stroke-width="33"/>
<use href="#m2_19" stroke="#91f0a0" stroke-width="27"/>
<use href="#m2_1" stroke="#fff" stroke-width="33"/>
<use href="#m2_1" stroke="#0e0e4b" stroke-width="27"/>
<use href="#m2_9" stroke="#fff" stroke-width="33"/>
<use href="#m2_9" stroke="#2326dc" stroke-width="27"/>
<use href="#m2_3" stroke="#fff" stroke-width="33"/>
<use href="#m2_3" stroke="#151583" stroke-width="27"/>
<use href="#m2_7" stroke="#fff" stroke-width="33"/>
<use href="#m2_7" stroke="#2122d4" stroke-width="27"/>
<use href="#m2_21" stroke="#fff" stroke-width="33"/>
<use href="#m2_21" stroke="#96f094" stroke-width="27"/>
<use href="#m2_16" stroke="#fff" stroke-width="33"/>
<use href="#m2_16" stroke="#8aeec3" stroke-width="27"/>
<use href="#m2_5" stroke="#fff" stroke-width="33"/>
<use href="#m2_5" stroke="#1d1dbb" stroke-width="27"/>
<use href="#m2_23" stroke="#fff" stroke-width="33"/>
<use href="#m2_23" stroke="#b8f090" stroke-width="27"/>
<use href="#m2_10" stroke="#fff" stroke-width="33"/>
<use href="#m2_10" stroke="#2428e0" stroke-width="27"/>
<use href="#m2_15" stroke="#fff" stroke-width="33"/>
<use href="#m2_15" stroke="#88ecdc" stroke-width="27"/>
<use href="#m2_26" stroke="#fff" stroke-width="33"/>
<use href="#m2_26" stroke="#fae9a0" stroke-width="27"/>
<use href="#m2_4" stroke="#fff" stroke-width="33"/>
<use href="#m2_4" stroke="#1919a3" stroke-width="27"/>
<use href="#m2_17" stroke="#fff" stroke-width="33"/>
<use href="#m2_17" stroke="#8cf0ac" stroke-width="27"/>
<use href="#m2_39" stroke="#fff" stroke-width="33"/>
<use href="#m2_39" stroke="#280606" stroke-width="27"/>
<use href="#m2_22" stroke="#fff" stroke-width="33"/>
<use href="#m2_22" stroke="#a1f090" stroke-width="27"/>
<use href="#m2_34" stroke="#fff" stroke-width="33"/>
<use href="#m2_34" stroke="#f35353" stroke-width="27"/>
<use href="#m2_18" stroke="#fff" stroke-width="33"/>
<use href="#m2_18" stroke="#8ff0a6" stroke-width="27"/>
<use href="#m2_30" stroke="#fff" stroke-width="33"/>
<use href="#m2_30" stroke="#fd7f73" stroke-width="27"/>
<use href="#m2_33" stroke="#fff" stroke-width="33"/>
<use href="#m2_33" stroke="#f55e5e" stroke-width="27"/>
<use href="#m2_27" stroke="#fff" stroke-width="33"/>
<use href="#m2_27" stroke="#ffd29e" stroke-width="27"/>
<use href="#m2_12" stroke="#fff" stroke-width="33"/>
<use href="#m2_12" stroke="#293ae0" stroke-width="27"/>
<use href="#m2_14" stroke="#fff" stroke-width="33"/>
<use href="#m2_14" stroke="#6598ed" stroke-width="27"/>
<use href="#m2_24" stroke="#fff" stroke-width="33"/>
<use href="#m2_24" stroke="#d7f099" stroke-width="27"/>
</g>
<path d="M98.60 22.4V356.0" stroke="#6e6262" stroke-width="0.9"/>
<path d="M131.47 22.4V356.0" stroke="#6e6262" stroke-width="0.9"/>
<path d="M164.34 22.4V356.0" stroke="#6e6262" stroke-width="0.9"/>
<path d="M197.21 22.4V356.0" stroke="#6e6262" stroke-width="0.9"/>
<path d="M230.08 22.4V356.0" stroke="#6e6262" stroke-width="0.9"/>
<path d="M262.95 22.4V356.0" stroke="#6e6262" stroke-width="0.9"/>
<path d="M295.82 22.4V356.0" stroke="#6e6262" stroke-width="0.9"/>
<path d="M89.5 335.06H313.5" stroke="#6e6262" stroke-width="0.9"/>
<path d="M89.5 261.62H313.5" stroke="#6e6262" stroke-width="0.9"/>
<path d="M89.5 188.18H313.5" stroke="#6e6262" stroke-width="0.9"/>
<path d="M89.5 114.74H313.5" stroke="#6e6262" stroke-width="0.9"/>
<path d="M89.5 41.30H313.5" stroke="#6e6262" stroke-width="0.9"/>
<polyline fill="none" stroke="#000" stroke-width="1.05" stroke-linejoin="round" points="115.7,42.9 114.0,45.5 112.5,48.3 110.5,50.7 110.2,53.5 108.7,56.0 110.5,57.7 112.2,59.5 113.8,61.1 115.4,62.8 117.5,63.8 118.3,66.9 119.2,69.9 119.4,72.6 119.2,75.2 121.2,77.3 122.5,80.1 124.5,82.2 125.0,84.9 126.7,86.9 128.0,89.2 129.6,91.3 130.7,93.6 131.4,96.1 132.5,99.1 134.9,101.4 136.6,103.2 139.0,104.3 140.2,106.6 141.8,108.6 143.8,110.4 145.0,112.8 146.5,114.6 147.7,116.5 149.1,118.4 150.1,120.5 150.7,123.1 151.8,125.6 152.6,128.1 154.1,130.5 155.2,133.2 156.3,135.8 157.4,138.4 159.0,140.8 160.4,142.9 160.6,145.4 161.6,147.6 161.9,150.0 162.5,152.5 163.5,154.9 163.5,157.5 164.0,160.0 164.7,162.1 165.5,164.2 166.5,166.3 166.9,168.5 167.4,170.7 168.9,172.7 170.1,174.8 170.6,177.3 172.2,179.3 172.4,181.9 173.7,184.0 175.9,185.7 176.2,188.3 177.2,190.3 178.8,191.9 179.5,194.1 180.6,196.1 182.5,197.5 182.9,199.9 184.0,201.8 185.0,203.8 185.5,206.2 187.3,208.0 187.4,210.5 189.1,212.4 189.7,214.7 190.8,216.9 190.8,219.5 192.1,221.5 192.2,224.0 193.9,225.9 194.7,228.1 196.0,230.2 196.7,232.6 198.2,234.5 199.0,236.8 200.0,239.0 200.7,241.3 202.7,242.9 203.7,245.0 205.0,247.0 206.5,249.0 207.7,251.2 209.5,253.0 210.9,255.1 212.3,257.2 213.0,259.5 214.0,261.7 213.1,263.8 213.4,266.0 214.2,268.1 214.2,270.4 214.2,273.3 215.5,276.1 215.3,279.0 216.2,281.8 216.6,284.7 216.4,287.7 216.5,291.0 217.5,294.2 218.7,296.3 220.0,298.3 220.7,300.7 223.2,302.5 225.0,305.0 227.1,307.3 229.4,309.4 231.6,310.2 233.4,311.8 235.7,314.0 237.1,316.8 238.8,318.2 240.8,319.2 243.1,321.4 244.6,324.2 246.7,324.9 248.7,325.9 250.8,326.7 252.6,328.2 254.1,329.9 255.7,331.6 256.0,334.3 257.6,336.5 258.2,339.1 259.1,341.5 259.6,344.0 259.2,346.5 259.4,349.0 260.4,351.3 261.0,353.7 261.9,356.0"/>
<polyline fill="none" stroke="#000" stroke-width="1.05" stroke-linejoin="round" points="117.5,43.7 118.1,46.3 118.3,49.0 119.8,51.5 121.0,54.2 122.5,56.4 123.5,58.8 124.5,61.2 125.6,63.6 126.9,65.8 127.9,68.2 129.6,70.0 130.8,72.3 133.2,73.4 134.5,75.3 136.7,76.5 137.6,78.7 137.1,81.1 138.0,83.4 138.4,85.7 139.7,88.2 140.2,90.9 141.6,93.7 143.7,96.1 145.4,98.3 147.3,100.3 148.8,102.6 150.9,105.0 152.6,107.7 154.9,110.0 156.5,112.8 158.4,114.7 160.3,116.6 161.9,118.9 164.1,120.5 167.3,122.4 170.5,122.4 173.6,120.5 174.9,117.9 176.1,115.3 177.5,112.8 178.7,109.0 177.9,106.4 176.8,103.9 178.5,101.6 178.7,98.8 179.4,96.5 181.1,94.7 182.1,92.6 183.4,89.6 185.0,86.8 185.3,84.2 186.0,81.7 187.2,79.4 187.6,77.2 188.1,75.0 188.1,72.8 188.7,70.6 189.8,67.7 190.9,64.7 192.6,62.7 193.8,60.3 195.3,58.8"/>
<polyline fill="none" stroke="#000" stroke-width="1.05" stroke-linejoin="round" points="195.3,58.8 196.0,60.3 195.2,63.2 194.6,66.2 193.7,68.6 193.4,71.0 193.1,73.5 192.5,76.0 191.5,78.5 191.7,81.2 191.6,83.8 191.0,86.3 190.3,88.7 190.1,91.2 188.9,95.0 188.7,97.6 187.8,100.1 187.0,102.6 185.4,104.6 184.2,106.7 183.2,109.0 181.9,111.5 185.7,111.5 189.0,111.9 192.1,110.9 195.9,110.3 199.7,111.5 201.6,112.8 203.5,114.1 206.0,116.3 207.4,119.2 207.9,121.8 209.5,123.7 211.2,125.5 212.9,127.4 213.2,130.1 215.0,131.9 216.2,134.5 217.5,137.0 219.4,138.5 220.1,140.7 221.3,142.6 221.7,145.1 223.5,146.6 225.3,148.4 226.7,150.5 228.2,152.6 229.5,154.4 230.7,156.3 232.1,158.1 232.9,160.3 234.2,162.1 235.0,164.3 236.4,166.2 238.2,167.9 239.4,169.8 240.2,172.1 241.4,174.1 242.9,175.9 244.0,177.8 245.6,179.5 245.5,182.2 247.4,183.7 248.7,185.6 250.8,186.5 252.1,188.4 252.3,190.9 253.3,193.2 254.3,195.4 257.1,196.1 258.0,198.4 259.3,200.4 260.7,202.7 261.4,205.3 262.9,207.5 264.1,209.9 265.1,212.3 265.9,214.7 266.0,217.4 266.7,219.9 268.5,222.0 269.2,224.6 269.9,227.3 270.0,230.0 270.0,233.0 272.6,234.8 273.5,237.3 274.3,239.9 276.0,242.0 277.5,244.2 279.3,246.1 280.6,248.1 282.4,249.5 284.2,251.0 286.3,251.9 287.8,253.7 289.8,254.8 291.7,256.0 293.0,258.2 295.4,259.1 297.6,260.2 299.1,262.2 301.3,263.7 302.4,266.4 304.9,267.6 306.6,269.6 308.9,270.6 310.1,272.8 311.5,274.6 314.0,278.0"/>
<polyline fill="none" stroke="#111" stroke-width="0.95" stroke-linejoin="round" points="181.0,22.4 182.0,24.4 182.4,26.7 184.4,28.1 184.6,30.5 185.5,32.5 187.2,34.1 187.8,36.3 188.7,38.7 188.5,41.5 189.4,43.9 190.6,46.2 191.9,48.5 192.6,51.1 193.0,53.8 194.5,56.2 195.3,58.8"/>
<polyline fill="none" stroke="#111" stroke-width="0.95" stroke-linejoin="round" points="204.0,22.4 203.3,24.6 203.0,26.8 201.9,28.8 201.2,31.0 200.5,33.1 198.8,35.6 200.2,38.3 199.1,40.9 198.9,43.5 199.4,46.2 199.0,48.4 197.8,50.5 199.1,53.1 197.5,55.0 196.7,57.2 196.0,59.5"/>
<polyline fill="none" stroke="#111" stroke-width="0.95" stroke-linejoin="round" points="196.0,64.0 198.1,64.9 200.6,63.6 202.7,64.8 204.6,66.4 206.9,66.2 209.2,66.2 211.3,67.0 213.5,67.4 215.6,68.6 217.8,68.9 220.0,69.1 222.2,69.3 224.5,69.4 226.6,70.1 228.7,71.2 231.0,70.8 232.9,69.6 234.9,68.3 236.5,66.6 237.9,64.7 239.9,63.6 242.0,62.5 244.0,61.4 245.5,59.8 246.9,58.0 248.4,56.3 250.7,55.7 252.3,54.1 254.0,52.8 255.8,51.4 257.7,50.3 259.4,48.9 261.4,47.8 263.1,46.5 265.0,45.3 266.5,43.7 267.9,41.8 269.7,40.6 271.6,39.4 273.1,37.7 275.1,36.7 277.1,35.6 278.1,33.4 279.5,31.6 282.3,31.5 283.6,29.6 285.6,28.5 286.6,26.3 288.8,25.5 291.3,25.3 293.1,23.8 295.0,22.4"/>
<polyline fill="none" stroke="#111" stroke-width="0.95" stroke-linejoin="round" points="102.5,22.4 101.8,24.5 99.6,26.0 98.9,28.2 100.4,30.4 103.3,31.8 106.2,34.0 106.9,36.2 109.1,37.2 111.3,38.4 113.6,39.7 115.6,41.3 116.5,43.0"/>
<polyline fill="none" stroke="#111" stroke-width="0.95" stroke-linejoin="round" points="89.5,46.5 91.8,45.5 94.1,44.4 98.2,45.5 100.8,43.7 103.5,42.0 105.1,39.7 107.0,37.6 106.5,36.0"/>
<polyline fill="none" stroke="#111" stroke-width="0.95" stroke-linejoin="round" points="89.5,60.7 92.1,58.7 93.7,60.5 93.5,63.1 95.1,64.8 96.1,66.8 95.1,69.9 94.1,73.0 93.1,75.0 93.3,77.6 91.1,79.1 92.5,81.3 94.6,83.1 96.1,85.2 98.3,86.4 100.2,87.9 102.3,89.2 105.3,91.3 107.4,93.0 108.3,95.7 110.4,97.4 109.7,99.6 108.4,101.5 108.5,104.3 108.1,107.0 107.3,109.6 109.7,111.0 111.9,112.7 114.5,113.7 117.7,114.4 120.6,115.7 123.2,117.2 124.7,119.8 125.0,122.1 126.9,123.7 126.6,126.2 128.0,128.0 129.1,130.1 130.4,132.1 131.4,134.2 132.1,136.5 133.9,137.8 135.7,139.1 137.9,139.7 139.8,140.9 140.4,143.2 141.0,145.5 143.2,146.9 144.8,148.7 145.8,150.7 146.4,153.0 148.7,154.8 149.7,157.5 149.5,159.8 149.0,162.0 148.8,164.3 147.5,166.3 147.2,168.8 148.9,171.2 148.2,173.7 147.5,176.2 148.3,178.8 150.4,180.4 152.2,182.2 154.1,183.9 155.6,185.6 156.7,187.6 158.9,188.6 160.7,189.9 162.8,190.8 164.0,192.8 165.2,195.0 166.6,197.0 167.7,199.2 168.8,201.4 169.6,203.8 170.0,206.0 170.5,208.2 170.7,210.4 171.9,212.5 174.3,213.4 175.4,215.6 176.1,218.1 178.4,219.2 178.6,221.4 178.2,223.7 178.4,225.9 178.6,228.1 179.5,230.2 179.7,232.7 181.3,234.9 181.3,237.5 181.7,240.0 182.9,242.1 183.8,244.3 186.6,245.9 188.2,248.7 190.5,250.7 192.5,253.0 194.7,253.9 196.7,255.2 197.9,257.3 198.3,259.5 199.0,261.7 199.6,264.9 200.1,268.2 199.3,270.5 197.9,272.5 199.0,274.6 199.0,276.9 200.9,278.9 202.3,281.2 203.6,283.3 204.6,285.4 205.5,287.7 207.7,289.8 209.9,292.0 212.7,292.9 215.3,294.2 217.5,294.5"/>
<polyline fill="none" stroke="#111" stroke-width="0.95" stroke-linejoin="round" points="89.5,220.0 91.3,223.6 91.8,225.8 92.5,228.0 93.5,230.0 94.7,232.1 96.5,233.8 97.6,236.0 101.1,237.2 101.0,239.6 100.1,241.9 99.9,244.3 101.6,246.6 103.1,249.1 104.7,251.5 106.5,253.7 107.0,256.1 105.9,258.7 104.9,261.0 104.1,263.4 103.5,265.8 101.6,267.9 100.7,270.4 99.9,273.0 99.0,275.7 98.4,278.5 97.6,281.3 98.6,283.6 97.6,286.1 98.6,288.5 98.2,290.9 98.7,293.3 99.9,295.7"/>
<polyline fill="none" stroke="#111" stroke-width="0.95" stroke-linejoin="round" points="89.5,302.8 91.6,302.0 93.6,301.2 95.8,300.6 97.6,299.3 99.9,295.7 102.2,295.0 104.7,294.5 107.0,293.8 109.5,293.6 111.9,293.3 114.2,292.6 115.3,290.4 117.6,289.7 119.0,287.8 121.2,289.7 123.8,290.9 126.2,294.5 128.9,295.7 131.7,296.5 134.6,296.9 135.7,294.8 137.9,293.5 139.3,291.6 141.9,291.7 144.1,290.2 146.3,290.3 148.4,291.1 150.7,291.3 152.7,292.3 154.9,292.6 157.8,294.0 160.0,296.4 161.9,297.8 164.3,297.5 166.5,297.8 168.7,298.5 170.8,297.5 173.0,300.7 174.9,302.5 175.2,305.0 176.8,307.3 179.2,308.4 181.7,309.4 183.7,311.2 186.0,312.6 188.0,314.5 190.4,315.9 192.7,317.9 194.7,320.2 196.2,322.3 197.2,324.8 199.0,326.7 201.0,328.3 203.4,328.9 205.3,330.5 207.7,331.1 209.8,331.7 212.0,332.1 211.2,334.4 209.9,336.5 208.3,338.7 206.6,340.8 205.5,343.4 205.5,346.2 203.3,347.9 202.3,350.6 200.2,352.9 197.9,354.9 196.9,355.8"/>
<polyline fill="none" stroke="#111" stroke-width="0.95" stroke-linejoin="round" points="123.8,290.9 124.4,293.5 123.7,296.3 124.3,299.0 125.0,301.6 124.9,304.0 126.3,306.3 126.1,308.8 126.2,311.2 126.1,313.6 125.3,316.0 125.0,318.4 124.6,321.2 122.0,322.8 121.4,325.5 120.6,327.8 120.0,330.2 120.2,332.8 119.0,335.0 117.0,336.2 114.6,336.8 113.0,338.7 113.5,341.6 112.1,344.2 111.9,347.0 112.1,349.3 113.5,351.3 113.3,353.7 114.3,355.8"/>
<polyline fill="none" stroke="#111" stroke-width="0.95" stroke-linejoin="round" points="173.0,302.9 176.3,300.7 178.3,298.4 180.6,296.4 181.3,293.5 180.9,290.6 180.6,287.7 181.3,284.5 181.7,281.2 183.7,279.5 183.8,276.9 185.8,275.0 187.1,272.5 187.3,269.1 186.0,266.0 188.3,265.2 190.7,265.3 193.1,265.9 195.4,265.8 197.7,265.1 200.1,264.9 202.7,264.9 205.2,263.6 207.9,263.9 210.3,262.8 213.0,263.0"/>
<polyline fill="none" stroke="#111" stroke-width="0.95" stroke-linejoin="round" points="212.0,292.0 210.4,294.1 209.4,296.5 207.7,298.5 205.8,300.9 203.4,302.9 201.2,305.0 201.9,307.2 201.7,309.7 203.4,311.6 203.4,314.9 202.3,318.0 203.0,320.1 202.5,322.5 203.4,324.6 205.2,326.6 206.6,328.9"/>
<polyline fill="none" stroke="#111" stroke-width="0.95" stroke-linejoin="round" points="168.7,333.2 170.7,330.9 170.8,327.8 173.0,327.4 175.2,326.8 177.4,326.4 179.7,326.6 181.8,325.5 183.9,324.9 186.1,324.2 188.2,323.5 188.2,320.9 189.4,318.7 191.4,316.8 191.9,314.4 192.5,312.0 193.4,309.7 193.6,307.2 194.7,305.0 197.6,305.2 200.5,304.5 203.4,305.0"/>
<polyline fill="none" stroke="#111" stroke-width="0.95" stroke-linejoin="round" points="229.4,309.4 230.3,311.6 231.5,313.7 232.4,315.8 232.7,318.0 232.9,320.3 233.7,322.4 234.9,324.5 235.5,326.9 236.7,329.0 238.0,331.1 238.8,333.3 240.0,335.4 240.1,338.0 242.3,340.0 243.1,342.3 243.0,345.0 243.3,347.3 243.7,349.5 243.7,351.8 245.0,353.8 246.0,355.8"/>
<polyline fill="none" stroke="#111" stroke-width="0.95" stroke-linejoin="round" points="212.0,332.1 214.7,332.3 217.3,331.6 218.4,329.3 220.6,327.9 222.0,325.9 222.8,323.3 224.7,321.7 225.1,319.1 226.3,316.7 227.2,314.3 228.4,311.9 229.4,309.4"/>
</g>
<rect x="89.5" y="22.4" width="224.00" height="333.60" fill="none" stroke="#8a8484" stroke-width="1"/>
<path d="M98.60 356.0v2.4" stroke="#222" stroke-width="0.8"/>
<text x="93.23" y="367.70" font-size="8.70" textLength="10.90" lengthAdjust="spacingAndGlyphs">32</text>
<path d="M131.47 356.0v2.4" stroke="#222" stroke-width="0.8"/>
<text x="126.07" y="367.70" font-size="8.70" textLength="10.90" lengthAdjust="spacingAndGlyphs">33</text>
<path d="M164.34 356.0v2.4" stroke="#222" stroke-width="0.8"/>
<text x="158.81" y="367.70" font-size="8.70" textLength="10.90" lengthAdjust="spacingAndGlyphs">34</text>
<path d="M197.21 356.0v2.4" stroke="#222" stroke-width="0.8"/>
<text x="191.77" y="367.70" font-size="8.70" textLength="10.90" lengthAdjust="spacingAndGlyphs">35</text>
<path d="M230.08 356.0v2.4" stroke="#222" stroke-width="0.8"/>
<text x="224.58" y="367.70" font-size="8.70" textLength="10.90" lengthAdjust="spacingAndGlyphs">36</text>
<path d="M262.95 356.0v2.4" stroke="#222" stroke-width="0.8"/>
<text x="257.55" y="367.70" font-size="8.70" textLength="10.90" lengthAdjust="spacingAndGlyphs">37</text>
<path d="M295.82 356.0v2.4" stroke="#222" stroke-width="0.8"/>
<text x="290.35" y="367.70" font-size="8.70" textLength="10.90" lengthAdjust="spacingAndGlyphs">38</text>
<path d="M89.5 335.06h-2.4" stroke="#222" stroke-width="0.8"/>
<text x="74.58" y="339.03" font-size="8.70" textLength="10.90" lengthAdjust="spacingAndGlyphs">22</text>
<path d="M89.5 261.62h-2.4" stroke="#222" stroke-width="0.8"/>
<text x="74.26" y="265.59" font-size="8.70" textLength="10.90" lengthAdjust="spacingAndGlyphs">24</text>
<path d="M89.5 188.18h-2.4" stroke="#222" stroke-width="0.8"/>
<text x="74.32" y="192.15" font-size="8.70" textLength="10.90" lengthAdjust="spacingAndGlyphs">26</text>
<path d="M89.5 114.74h-2.4" stroke="#222" stroke-width="0.8"/>
<text x="74.39" y="118.71" font-size="8.70" textLength="10.90" lengthAdjust="spacingAndGlyphs">28</text>
<path d="M89.5 41.30h-2.4" stroke="#222" stroke-width="0.8"/>
<text x="74.28" y="45.27" font-size="8.70" textLength="10.90" lengthAdjust="spacingAndGlyphs">30</text>
<text x="154.64" y="18.50" font-size="10.40" textLength="92.93" lengthAdjust="spacingAndGlyphs">Spatial Seismicity</text>
<text x="178.16" y="379.20" font-size="8.80" textLength="45.73" lengthAdjust="spacingAndGlyphs">Longitude</text>
<text transform="translate(71.70,210.70) rotate(-90)" x="-0.82" y="0" font-size="8.80" textLength="42.05" lengthAdjust="spacingAndGlyphs">Latitude</text>
<rect x="243.5" y="26.5" width="67" height="77" rx="2" fill="#fbf9f9" stroke="#d6d2d2" stroke-width="0.8"/>
<text x="261.02" y="44.70" font-size="5.40" textLength="31.33" lengthAdjust="spacingAndGlyphs">Magnitude</text>
<circle cx="252.6" cy="55.3" r="0.5" fill="#888"/>
<text x="265.45" y="58.00" font-size="8.50" textLength="7.31" lengthAdjust="spacingAndGlyphs" font-style="italic">M</text>
<text x="272.19" y="59.60" font-size="6.00" textLength="4.40" lengthAdjust="spacingAndGlyphs" font-style="italic">w</text>
<text x="278.60" y="57.60" font-size="8.50" textLength="7.09" lengthAdjust="spacingAndGlyphs">&gt;</text>
<text x="287.15" y="57.00" font-size="8.50" textLength="6.69" lengthAdjust="spacingAndGlyphs">=</text>
<text x="293.54" y="58.00" font-size="8.50" textLength="15.06" lengthAdjust="spacingAndGlyphs">1.0</text>
<circle cx="252.6" cy="68.8" r="0.8" fill="#777"/>
<text x="265.45" y="71.50" font-size="8.50" textLength="7.31" lengthAdjust="spacingAndGlyphs" font-style="italic">M</text>
<text x="272.19" y="73.10" font-size="6.00" textLength="4.40" lengthAdjust="spacingAndGlyphs" font-style="italic">w</text>
<text x="278.60" y="71.10" font-size="8.50" textLength="7.09" lengthAdjust="spacingAndGlyphs">&gt;</text>
<text x="287.15" y="70.50" font-size="8.50" textLength="6.69" lengthAdjust="spacingAndGlyphs">=</text>
<text x="293.84" y="71.50" font-size="8.50" textLength="14.75" lengthAdjust="spacingAndGlyphs">2.0</text>
<circle cx="252.6" cy="81.9" r="1.1" fill="#666"/>
<text x="265.45" y="84.60" font-size="8.50" textLength="7.31" lengthAdjust="spacingAndGlyphs" font-style="italic">M</text>
<text x="272.19" y="86.20" font-size="6.00" textLength="4.40" lengthAdjust="spacingAndGlyphs" font-style="italic">w</text>
<text x="278.60" y="84.20" font-size="8.50" textLength="7.09" lengthAdjust="spacingAndGlyphs">&gt;</text>
<text x="287.15" y="83.60" font-size="8.50" textLength="6.69" lengthAdjust="spacingAndGlyphs">=</text>
<text x="293.95" y="84.60" font-size="8.50" textLength="14.65" lengthAdjust="spacingAndGlyphs">3.0</text>
<rect x="330.0" y="22.2" width="15.0" height="333.3" fill="url(#cg)"/>
<rect x="330.0" y="22.2" width="15.0" height="333.3" fill="none" stroke="#555" stroke-width="0.6"/>
<path d="M345.0 316.00h2.4" stroke="#222" stroke-width="0.8"/>
<text x="348.70" y="319.77" font-size="8.70" textLength="5.45" lengthAdjust="spacingAndGlyphs">5</text>
<path d="M345.0 265.65h2.4" stroke="#222" stroke-width="0.8"/>
<text x="348.42" y="269.42" font-size="8.70" textLength="10.90" lengthAdjust="spacingAndGlyphs">10</text>
<path d="M345.0 215.30h2.4" stroke="#222" stroke-width="0.8"/>
<text x="348.42" y="219.07" font-size="8.70" textLength="10.90" lengthAdjust="spacingAndGlyphs">15</text>
<path d="M345.0 164.95h2.4" stroke="#222" stroke-width="0.8"/>
<text x="348.68" y="168.72" font-size="8.70" textLength="10.90" lengthAdjust="spacingAndGlyphs">20</text>
<path d="M345.0 114.60h2.4" stroke="#222" stroke-width="0.8"/>
<text x="348.68" y="118.37" font-size="8.70" textLength="10.90" lengthAdjust="spacingAndGlyphs">25</text>
<path d="M345.0 64.25h2.4" stroke="#222" stroke-width="0.8"/>
<text x="348.78" y="68.02" font-size="8.70" textLength="10.90" lengthAdjust="spacingAndGlyphs">30</text>
<text transform="translate(368.80,215.50) rotate(-90)" x="-0.81" y="0" font-size="8.80" textLength="56.27" lengthAdjust="spacingAndGlyphs">Depth (km)</text>
<rect x="423.3" y="22.4" width="92.69999999999999" height="333.6" fill="#fdf1ee"/>
<g clip-path="url(#cr)">
<g transform="scale(.1)" stroke-linecap="round" fill="none">
<use href="#r0_0" stroke="#fff" stroke-width="30"/>
<use href="#r0_0" stroke="#0d0d3e" stroke-width="22"/>
<use href="#r0_1" stroke="#fff" stroke-width="30"/>
<use href="#r0_1" stroke="#0e0e4b" stroke-width="22"/>
<use href="#r0_2" stroke="#fff" stroke-width="30"/>
<use href="#r0_2" stroke="#111165" stroke-width="22"/>
<use href="#r0_3" stroke="#fff" stroke-width="30"/>
<use href="#r0_3" stroke="#151583" stroke-width="22"/>
<use href="#r0_4" stroke="#fff" stroke-width="30"/>
<use href="#r0_4" stroke="#1919a3" stroke-width="22"/>
<use href="#r0_5" stroke="#fff" stroke-width="30"/>
<use href="#r0_5" stroke="#1d1dbb" stroke-width="22"/>
<use href="#r0_6" stroke="#fff" stroke-width="30"/>
<use href="#r0_6" stroke="#2020d0" stroke-width="22"/>
<use href="#r0_7" stroke="#fff" stroke-width="30"/>
<use href="#r0_7" stroke="#2122d4" stroke-width="22"/>
<use href="#r0_8" stroke="#fff" stroke-width="30"/>
<use href="#r0_8" stroke="#2224d8" stroke-width="22"/>
<use href="#r0_9" stroke="#fff" stroke-width="30"/>
<use href="#r0_9" stroke="#2326dc" stroke-width="22"/>
<use href="#r0_10" stroke="#fff" stroke-width="30"/>
<use href="#r0_10" stroke="#2428e0" stroke-width="22"/>
<use href="#r0_11" stroke="#fff" stroke-width="30"/>
<use href="#r0_11" stroke="#2731e0" stroke-width="22"/>
<use href="#r0_12" stroke="#fff" stroke-width="30"/>
<use href="#r0_12" stroke="#293ae0" stroke-width="22"/>
<use href="#r0_13" stroke="#fff" stroke-width="30"/>
<use href="#r0_13" stroke="#2b42e0" stroke-width="22"/>
<use href="#r0_14" stroke="#fff" stroke-width="28"/>
<use href="#r0_14" stroke="#6598ed" stroke-width="20"/>
<use href="#r0_15" stroke="#fff" stroke-width="28"/>
<use href="#r0_15" stroke="#88ecdc" stroke-width="20"/>
<use href="#r0_16" stroke="#fff" stroke-width="28"/>
<use href="#r0_16" stroke="#8aeec3" stroke-width="20"/>
<use href="#r0_17" stroke="#fff" stroke-width="28"/>
<use href="#r0_17" stroke="#8cf0ac" stroke-width="20"/>
<use href="#r0_18" stroke="#fff" stroke-width="28"/>
<use href="#r0_18" stroke="#8ff0a6" stroke-width="20"/>
<use href="#r0_19" stroke="#fff" stroke-width="28"/>
<use href="#r0_19" stroke="#91f0a0" stroke-width="20"/>
<use href="#r0_20" stroke="#fff" stroke-width="28"/>
<use href="#r0_20" stroke="#94f09a" stroke-width="20"/>
<use href="#r0_21" stroke="#fff" stroke-width="28"/>
<use href="#r0_21" stroke="#96f094" stroke-width="20"/>
<use href="#r0_22" stroke="#fff" stroke-width="28"/>
<use href="#r0_22" stroke="#a1f090" stroke-width="20"/>
<use href="#r0_23" stroke="#fff" stroke-width="28"/>
<use href="#r0_23" stroke="#b8f090" stroke-width="20"/>
<use href="#r0_24" stroke="#fff" stroke-width="26"/>
<use href="#r0_24" stroke="#d7f099" stroke-width="18"/>
<use href="#r0_25" stroke="#fff" stroke-width="26"/>
<use href="#r0_25" stroke="#eff0a0" stroke-width="18"/>
<use href="#r0_26" stroke="#fff" stroke-width="26"/>
<use href="#r0_26" stroke="#fae9a0" stroke-width="18"/>
<use href="#r0_27" stroke="#fff" stroke-width="26"/>
<use href="#r0_27" stroke="#ffd29e" stroke-width="18"/>
<use href="#r0_28" stroke="#fff" stroke-width="28"/>
<use href="#r0_28" stroke="#ffb090" stroke-width="20"/>
<use href="#r0_29" stroke="#fff" stroke-width="28"/>
<use href="#r0_29" stroke="#ff8d7b" stroke-width="20"/>
<use href="#r0_30" stroke="#fff" stroke-width="28"/>
<use href="#r0_30" stroke="#fd7f73" stroke-width="20"/>
<use href="#r0_31" stroke="#fff" stroke-width="28"/>
<use href="#r0_31" stroke="#fb746e" stroke-width="20"/>
<use href="#r0_32" stroke="#fff" stroke-width="28"/>
<use href="#r0_32" stroke="#f86968" stroke-width="20"/>
<use href="#r0_33" stroke="#fff" stroke-width="28"/>
<use href="#r0_33" stroke="#f55e5e" stroke-width="20"/>
<use href="#r0_34" stroke="#fff" stroke-width="28"/>
<use href="#r0_34" stroke="#f35353" stroke-width="20"/>
<use href="#r0_35" stroke="#fff" stroke-width="28"/>
<use href="#r0_35" stroke="#ef4747" stroke-width="20"/>
<use href="#r0_36" stroke="#fff" stroke-width="31"/>
<use href="#r0_36" stroke="#c53333" stroke-width="23"/>
<use href="#r0_37" stroke="#fff" stroke-width="31"/>
<use href="#r0_37" stroke="#781e1e" stroke-width="23"/>
<use href="#r0_38" stroke="#fff" stroke-width="31"/>
<use href="#r0_38" stroke="#430e0e" stroke-width="23"/>
<use href="#r0_39" stroke="#fff" stroke-width="31"/>
<use href="#r0_39" stroke="#280606" stroke-width="23"/>
</g>
<path d="M424.60 22.4V356.0" stroke="#6e6262" stroke-width="0.9"/>
<path d="M475.60 22.4V356.0" stroke="#6e6262" stroke-width="0.9"/>
<path d="M423.3 342.00H516.0" stroke="#6e6262" stroke-width="0.9"/>
<path d="M423.3 303.50H516.0" stroke="#6e6262" stroke-width="0.9"/>
<path d="M423.3 265.00H516.0" stroke="#6e6262" stroke-width="0.9"/>
<path d="M423.3 226.50H516.0" stroke="#6e6262" stroke-width="0.9"/>
<path d="M423.3 188.00H516.0" stroke="#6e6262" stroke-width="0.9"/>
<path d="M423.3 149.50H516.0" stroke="#6e6262" stroke-width="0.9"/>
<path d="M423.3 111.00H516.0" stroke="#6e6262" stroke-width="0.9"/>
<path d="M423.3 72.50H516.0" stroke="#6e6262" stroke-width="0.9"/>
<path d="M423.3 34.00H516.0" stroke="#6e6262" stroke-width="0.9"/>
</g>
<rect x="423.3" y="22.4" width="92.70" height="333.60" fill="none" stroke="#8a8484" stroke-width="1"/>
<path d="M424.60 356.0v2.4" stroke="#222" stroke-width="0.8"/>
<text x="421.88" y="367.70" font-size="8.70" textLength="5.45" lengthAdjust="spacingAndGlyphs">0</text>
<path d="M475.60 356.0v2.4" stroke="#222" stroke-width="0.8"/>
<text x="470.03" y="367.70" font-size="8.70" textLength="10.90" lengthAdjust="spacingAndGlyphs">20</text>
<path d="M423.3 342.00h-2.4" stroke="#222" stroke-width="0.8"/>
<text x="408.78" y="345.77" font-size="8.70" textLength="10.90" lengthAdjust="spacingAndGlyphs">22</text>
<path d="M423.3 303.50h-2.4" stroke="#222" stroke-width="0.8"/>
<text x="408.73" y="307.27" font-size="8.70" textLength="10.90" lengthAdjust="spacingAndGlyphs">23</text>
<path d="M423.3 265.00h-2.4" stroke="#222" stroke-width="0.8"/>
<text x="408.46" y="268.77" font-size="8.70" textLength="10.90" lengthAdjust="spacingAndGlyphs">24</text>
<path d="M423.3 226.50h-2.4" stroke="#222" stroke-width="0.8"/>
<text x="408.65" y="230.27" font-size="8.70" textLength="10.90" lengthAdjust="spacingAndGlyphs">25</text>
<path d="M423.3 188.00h-2.4" stroke="#222" stroke-width="0.8"/>
<text x="408.52" y="191.77" font-size="8.70" textLength="10.90" lengthAdjust="spacingAndGlyphs">26</text>
<path d="M423.3 149.50h-2.4" stroke="#222" stroke-width="0.8"/>
<text x="408.73" y="153.27" font-size="8.70" textLength="10.90" lengthAdjust="spacingAndGlyphs">27</text>
<path d="M423.3 111.00h-2.4" stroke="#222" stroke-width="0.8"/>
<text x="408.59" y="114.77" font-size="8.70" textLength="10.90" lengthAdjust="spacingAndGlyphs">28</text>
<path d="M423.3 72.50h-2.4" stroke="#222" stroke-width="0.8"/>
<text x="408.60" y="76.27" font-size="8.70" textLength="10.90" lengthAdjust="spacingAndGlyphs">29</text>
<path d="M423.3 34.00h-2.4" stroke="#222" stroke-width="0.8"/>
<text x="408.48" y="37.77" font-size="8.70" textLength="10.90" lengthAdjust="spacingAndGlyphs">30</text>
<text x="405.05" y="19.00" font-size="10.40" textLength="129.76" lengthAdjust="spacingAndGlyphs">Latitudinal Cross-section</text>
<text x="443.55" y="379.20" font-size="8.80" textLength="51.85" lengthAdjust="spacingAndGlyphs">Depth (km)</text>
<text transform="translate(404.90,210.60) rotate(-90)" x="-0.83" y="0" font-size="8.80" textLength="42.46" lengthAdjust="spacingAndGlyphs">Latitude</text>
<rect x="44.2" y="403.7" width="489.2" height="98.60000000000002" fill="#fdf1ee"/>
<g clip-path="url(#cb)">
<g transform="scale(.1)" stroke-linecap="round" fill="none">
<use href="#b0_0" stroke="#fff" stroke-width="30"/>
<use href="#b0_0" stroke="#0d0d3e" stroke-width="22"/>
<use href="#b0_1" stroke="#fff" stroke-width="30"/>
<use href="#b0_1" stroke="#0e0e4b" stroke-width="22"/>
<use href="#b0_2" stroke="#fff" stroke-width="30"/>
<use href="#b0_2" stroke="#111165" stroke-width="22"/>
<use href="#b0_3" stroke="#fff" stroke-width="30"/>
<use href="#b0_3" stroke="#151583" stroke-width="22"/>
<use href="#b0_4" stroke="#fff" stroke-width="30"/>
<use href="#b0_4" stroke="#1919a3" stroke-width="22"/>
<use href="#b0_5" stroke="#fff" stroke-width="30"/>
<use href="#b0_5" stroke="#1d1dbb" stroke-width="22"/>
<use href="#b0_6" stroke="#fff" stroke-width="30"/>
<use href="#b0_6" stroke="#2020d0" stroke-width="22"/>
<use href="#b0_7" stroke="#fff" stroke-width="30"/>
<use href="#b0_7" stroke="#2122d4" stroke-width="22"/>
<use href="#b0_8" stroke="#fff" stroke-width="30"/>
<use href="#b0_8" stroke="#2224d8" stroke-width="22"/>
<use href="#b0_9" stroke="#fff" stroke-width="30"/>
<use href="#b0_9" stroke="#2326dc" stroke-width="22"/>
<use href="#b0_10" stroke="#fff" stroke-width="30"/>
<use href="#b0_10" stroke="#2428e0" stroke-width="22"/>
<use href="#b0_11" stroke="#fff" stroke-width="30"/>
<use href="#b0_11" stroke="#2731e0" stroke-width="22"/>
<use href="#b0_12" stroke="#fff" stroke-width="30"/>
<use href="#b0_12" stroke="#293ae0" stroke-width="22"/>
<use href="#b0_13" stroke="#fff" stroke-width="30"/>
<use href="#b0_13" stroke="#2b42e0" stroke-width="22"/>
<use href="#b0_14" stroke="#fff" stroke-width="28"/>
<use href="#b0_14" stroke="#6598ed" stroke-width="20"/>
<use href="#b0_15" stroke="#fff" stroke-width="28"/>
<use href="#b0_15" stroke="#88ecdc" stroke-width="20"/>
<use href="#b0_16" stroke="#fff" stroke-width="28"/>
<use href="#b0_16" stroke="#8aeec3" stroke-width="20"/>
<use href="#b0_17" stroke="#fff" stroke-width="28"/>
<use href="#b0_17" stroke="#8cf0ac" stroke-width="20"/>
<use href="#b0_18" stroke="#fff" stroke-width="28"/>
<use href="#b0_18" stroke="#8ff0a6" stroke-width="20"/>
<use href="#b0_19" stroke="#fff" stroke-width="28"/>
<use href="#b0_19" stroke="#91f0a0" stroke-width="20"/>
<use href="#b0_20" stroke="#fff" stroke-width="28"/>
<use href="#b0_20" stroke="#94f09a" stroke-width="20"/>
<use href="#b0_21" stroke="#fff" stroke-width="28"/>
<use href="#b0_21" stroke="#96f094" stroke-width="20"/>
<use href="#b0_22" stroke="#fff" stroke-width="28"/>
<use href="#b0_22" stroke="#a1f090" stroke-width="20"/>
<use href="#b0_23" stroke="#fff" stroke-width="28"/>
<use href="#b0_23" stroke="#b8f090" stroke-width="20"/>
<use href="#b0_24" stroke="#fff" stroke-width="26"/>
<use href="#b0_24" stroke="#d7f099" stroke-width="18"/>
<use href="#b0_25" stroke="#fff" stroke-width="26"/>
<use href="#b0_25" stroke="#eff0a0" stroke-width="18"/>
<use href="#b0_26" stroke="#fff" stroke-width="26"/>
<use href="#b0_26" stroke="#fae9a0" stroke-width="18"/>
<use href="#b0_27" stroke="#fff" stroke-width="26"/>
<use href="#b0_27" stroke="#ffd29e" stroke-width="18"/>
<use href="#b0_28" stroke="#fff" stroke-width="28"/>
<use href="#b0_28" stroke="#ffb090" stroke-width="20"/>
<use href="#b0_29" stroke="#fff" stroke-width="28"/>
<use href="#b0_29" stroke="#ff8d7b" stroke-width="20"/>
<use href="#b0_30" stroke="#fff" stroke-width="28"/>
<use href="#b0_30" stroke="#fd7f73" stroke-width="20"/>
<use href="#b0_31" stroke="#fff" stroke-width="28"/>
<use href="#b0_31" stroke="#fb746e" stroke-width="20"/>
<use href="#b0_32" stroke="#fff" stroke-width="28"/>
<use href="#b0_32" stroke="#f86968" stroke-width="20"/>
<use href="#b0_33" stroke="#fff" stroke-width="28"/>
<use href="#b0_33" stroke="#f55e5e" stroke-width="20"/>
<use href="#b0_34" stroke="#fff" stroke-width="28"/>
<use href="#b0_34" stroke="#f35353" stroke-width="20"/>
<use href="#b0_35" stroke="#fff" stroke-width="28"/>
<use href="#b0_35" stroke="#ef4747" stroke-width="20"/>
<use href="#b0_36" stroke="#fff" stroke-width="31"/>
<use href="#b0_36" stroke="#c53333" stroke-width="23"/>
<use href="#b0_37" stroke="#fff" stroke-width="31"/>
<use href="#b0_37" stroke="#781e1e" stroke-width="23"/>
<use href="#b0_38" stroke="#fff" stroke-width="31"/>
<use href="#b0_38" stroke="#430e0e" stroke-width="23"/>
<use href="#b0_39" stroke="#fff" stroke-width="31"/>
<use href="#b0_39" stroke="#280606" stroke-width="23"/>
</g>
<path d="M120.40 403.7V502.3" stroke="#6e6262" stroke-width="0.9"/>
<path d="M199.20 403.7V502.3" stroke="#6e6262" stroke-width="0.9"/>
<path d="M278.00 403.7V502.3" stroke="#6e6262" stroke-width="0.9"/>
<path d="M356.80 403.7V502.3" stroke="#6e6262" stroke-width="0.9"/>
<path d="M435.60 403.7V502.3" stroke="#6e6262" stroke-width="0.9"/>
<path d="M514.40 403.7V502.3" stroke="#6e6262" stroke-width="0.9"/>
<path d="M44.2 405.00H533.4" stroke="#6e6262" stroke-width="0.9"/>
<path d="M44.2 432.15H533.4" stroke="#6e6262" stroke-width="0.9"/>
<path d="M44.2 459.30H533.4" stroke="#6e6262" stroke-width="0.9"/>
<path d="M44.2 486.45H533.4" stroke="#6e6262" stroke-width="0.9"/>
</g>
<rect x="44.2" y="403.7" width="489.20" height="98.60" fill="none" stroke="#8a8484" stroke-width="1"/>
<path d="M120.40 502.3v2.4" stroke="#222" stroke-width="0.8"/>
<text x="115.00" y="512.90" font-size="8.70" textLength="10.90" lengthAdjust="spacingAndGlyphs">33</text>
<path d="M199.20 502.3v2.4" stroke="#222" stroke-width="0.8"/>
<text x="193.67" y="512.90" font-size="8.70" textLength="10.90" lengthAdjust="spacingAndGlyphs">34</text>
<path d="M278.00 502.3v2.4" stroke="#222" stroke-width="0.8"/>
<text x="272.56" y="512.90" font-size="8.70" textLength="10.90" lengthAdjust="spacingAndGlyphs">35</text>
<path d="M356.80 502.3v2.4" stroke="#222" stroke-width="0.8"/>
<text x="351.30" y="512.90" font-size="8.70" textLength="10.90" lengthAdjust="spacingAndGlyphs">36</text>
<path d="M435.60 502.3v2.4" stroke="#222" stroke-width="0.8"/>
<text x="430.20" y="512.90" font-size="8.70" textLength="10.90" lengthAdjust="spacingAndGlyphs">37</text>
<path d="M514.40 502.3v2.4" stroke="#222" stroke-width="0.8"/>
<text x="508.93" y="512.90" font-size="8.70" textLength="10.90" lengthAdjust="spacingAndGlyphs">38</text>
<path d="M44.2 405.00h-2.4" stroke="#222" stroke-width="0.8"/>
<text x="35.13" y="408.67" font-size="8.70" textLength="5.45" lengthAdjust="spacingAndGlyphs">0</text>
<path d="M44.2 432.15h-2.4" stroke="#222" stroke-width="0.8"/>
<text x="29.68" y="435.82" font-size="8.70" textLength="10.90" lengthAdjust="spacingAndGlyphs">10</text>
<path d="M44.2 459.30h-2.4" stroke="#222" stroke-width="0.8"/>
<text x="29.68" y="462.97" font-size="8.70" textLength="10.90" lengthAdjust="spacingAndGlyphs">20</text>
<path d="M44.2 486.45h-2.4" stroke="#222" stroke-width="0.8"/>
<text x="29.68" y="490.12" font-size="8.70" textLength="10.90" lengthAdjust="spacingAndGlyphs">30</text>
<text x="222.89" y="400.10" font-size="10.40" textLength="131.89" lengthAdjust="spacingAndGlyphs">Longitudinal Cross-section</text>
<text x="266.99" y="523.30" font-size="8.80" textLength="43.78" lengthAdjust="spacingAndGlyphs">Longitude</text>
<text transform="translate(26.50,476.80) rotate(-90)" x="-0.73" y="0" font-size="8.80" textLength="50.41" lengthAdjust="spacingAndGlyphs">Depth (km)</text></svg></body></html>
